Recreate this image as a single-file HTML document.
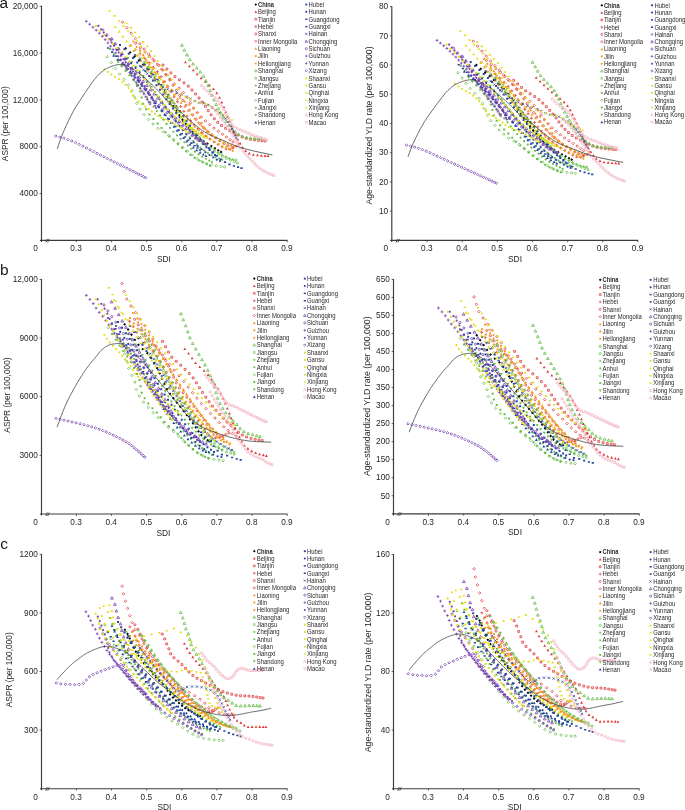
<!DOCTYPE html>
<html><head><meta charset="utf-8"><style>
html,body{margin:0;padding:0;background:#fff;overflow:hidden;}
svg{display:block;font-family:"Liberation Sans",Arial,sans-serif;}
</style></head><body>
<svg width="685" height="810" viewBox="0 0 685 810">
<rect width="685" height="810" fill="#fff"/>
<path fill="#000000" d="M125.7 46.9l1.4 1.4l-1.4 1.4l-1.4 -1.4zM130.12 51.03l1.4 1.4l-1.4 1.4l-1.4 -1.4zM134.55 55.1l1.4 1.4l-1.4 1.4l-1.4 -1.4zM138.92 59.19l1.4 1.4l-1.4 1.4l-1.4 -1.4zM143.19 63.32l1.4 1.4l-1.4 1.4l-1.4 -1.4zM147.34 67.53l1.4 1.4l-1.4 1.4l-1.4 -1.4zM151.28 71.87l1.4 1.4l-1.4 1.4l-1.4 -1.4zM154.9 76.43l1.4 1.4l-1.4 1.4l-1.4 -1.4zM158.24 81.14l1.4 1.4l-1.4 1.4l-1.4 -1.4zM161.38 85.94l1.4 1.4l-1.4 1.4l-1.4 -1.4zM164.39 90.77l1.4 1.4l-1.4 1.4l-1.4 -1.4zM167.35 95.56l1.4 1.4l-1.4 1.4l-1.4 -1.4zM170.35 100.27l1.4 1.4l-1.4 1.4l-1.4 -1.4zM173.43 104.86l1.4 1.4l-1.4 1.4l-1.4 -1.4zM176.45 109.42l1.4 1.4l-1.4 1.4l-1.4 -1.4zM179.46 113.91l1.4 1.4l-1.4 1.4l-1.4 -1.4zM182.52 118.29l1.4 1.4l-1.4 1.4l-1.4 -1.4zM185.7 122.48l1.4 1.4l-1.4 1.4l-1.4 -1.4zM189.03 126.46l1.4 1.4l-1.4 1.4l-1.4 -1.4zM192.48 130.23l1.4 1.4l-1.4 1.4l-1.4 -1.4zM196.07 133.71l1.4 1.4l-1.4 1.4l-1.4 -1.4zM199.8 136.9l1.4 1.4l-1.4 1.4l-1.4 -1.4zM203.61 139.77l1.4 1.4l-1.4 1.4l-1.4 -1.4zM207.47 142.35l1.4 1.4l-1.4 1.4l-1.4 -1.4zM211.25 144.72l1.4 1.4l-1.4 1.4l-1.4 -1.4zM214.88 146.92l1.4 1.4l-1.4 1.4l-1.4 -1.4zM218.25 148.93l1.4 1.4l-1.4 1.4l-1.4 -1.4zM221 150.6l1.4 1.4l-1.4 1.4l-1.4 -1.4z"/>
<path fill="#e03c3c" d="M185.5 60.7l1.45 2.6h-2.9zM189.41 64.74l1.45 2.6h-2.9zM193.3 68.76l1.45 2.6h-2.9zM197.2 72.72l1.45 2.6h-2.9zM201.14 76.58l1.45 2.6h-2.9zM205.29 80.17l1.45 2.6h-2.9zM209.45 83.69l1.45 2.6h-2.9zM213.38 87.41l1.45 2.6h-2.9zM216.76 91.57l1.45 2.6h-2.9zM219.5 96.13l1.45 2.6h-2.9zM221.81 100.88l1.45 2.6h-2.9zM223.91 105.68l1.45 2.6h-2.9zM225.97 110.44l1.45 2.6h-2.9zM227.96 115.18l1.45 2.6h-2.9zM229.78 119.92l1.45 2.6h-2.9zM231.57 124.62l1.45 2.6h-2.9zM233.44 129.21l1.45 2.6h-2.9zM235.55 133.62l1.45 2.6h-2.9zM237.81 137.88l1.45 2.6h-2.9zM240.19 141.98l1.45 2.6h-2.9zM242.72 145.88l1.45 2.6h-2.9zM245.59 149.41l1.45 2.6h-2.9zM249.26 151.87l1.45 2.6h-2.9zM253.33 153.19l1.45 2.6h-2.9zM257.46 153.64l1.45 2.6h-2.9zM261.38 154.03l1.45 2.6h-2.9zM265.02 154.29l1.45 2.6h-2.9zM268 154.5l1.45 2.6h-2.9z"/>
<path fill="none" stroke="#e03c3c" stroke-width="0.8" d="M161.95 64.15h1.9v1.9h-1.9zM165.95 68.06h1.9v1.9h-1.9zM169.95 71.92h1.9v1.9h-1.9zM174.02 75.66h1.9v1.9h-1.9zM178.47 78.87h1.9v1.9h-1.9zM183.02 81.88h1.9v1.9h-1.9zM187.28 85.22h1.9v1.9h-1.9zM191.06 89.05h1.9v1.9h-1.9zM194.6 93.05h1.9v1.9h-1.9zM198.03 97.09h1.9v1.9h-1.9zM201.34 101.17h1.9v1.9h-1.9zM204.42 105.37h1.9v1.9h-1.9zM207.25 109.68h1.9v1.9h-1.9zM210.14 113.89h1.9v1.9h-1.9zM213.35 117.8h1.9v1.9h-1.9zM216.79 121.42h1.9v1.9h-1.9zM220.56 124.6h1.9v1.9h-1.9zM224.61 127.29h1.9v1.9h-1.9zM228.79 129.65h1.9v1.9h-1.9zM232.98 131.81h1.9v1.9h-1.9zM237.1 133.92h1.9v1.9h-1.9zM241.19 135.86h1.9v1.9h-1.9zM245.33 137.38h1.9v1.9h-1.9zM249.5 138.35h1.9v1.9h-1.9zM253.58 138.96h1.9v1.9h-1.9zM257.48 139.39h1.9v1.9h-1.9zM261.09 139.74h1.9v1.9h-1.9zM264.05 140.05h1.9v1.9h-1.9z"/>
<path fill="none" stroke="#e03c3c" stroke-width="0.8" d="M129.3 45.3h2.8M130.7 43.9v2.8M133.96 49.65h2.8M135.36 48.25v2.8M138.62 53.94h2.8M140.02 52.54v2.8M143.21 58.25h2.8M144.61 56.85v2.8M147.7 62.61h2.8M149.1 61.21v2.8M152.02 67.08h2.8M153.42 65.68v2.8M156.09 71.73h2.8M157.49 70.33v2.8M159.8 76.61h2.8M161.2 75.21v2.8M163.23 81.63h2.8M164.63 80.23v2.8M166.47 86.73h2.8M167.87 85.33v2.8M169.62 91.82h2.8M171.02 90.42v2.8M172.77 96.85h2.8M174.17 95.45v2.8M176.02 101.75h2.8M177.42 100.35v2.8M179.24 106.6h2.8M180.64 105.2v2.8M182.44 111.39h2.8M183.84 109.99v2.8M185.67 116.07h2.8M187.07 114.67v2.8M189.05 120.57h2.8M190.45 119.17v2.8M192.6 124.83h2.8M194 123.43v2.8M196.3 128.85h2.8M197.7 127.45v2.8M200.18 132.56h2.8M201.58 131.16v2.8M204.22 135.95h2.8M205.62 134.55v2.8M208.35 139.05h2.8M209.75 137.65v2.8M212.49 141.9h2.8M213.89 140.5v2.8M216.6 144.55h2.8M218 143.15v2.8M220.64 146.95h2.8M222.04 145.55v2.8M224.61 149h2.8M226.01 147.6v2.8M228.62 149.57h2.8M230.02 148.17v2.8M231.6 148h2.8M233 146.6v2.8"/>
<path fill="none" stroke="#e03c3c" stroke-width="0.8" d="M134.65 43.3a1.05 1.05 0 1 0 2.1 0a1.05 1.05 0 1 0 -2.1 0zM139.36 47.69a1.05 1.05 0 1 0 2.1 0a1.05 1.05 0 1 0 -2.1 0zM144.07 52.03a1.05 1.05 0 1 0 2.1 0a1.05 1.05 0 1 0 -2.1 0zM148.71 56.39a1.05 1.05 0 1 0 2.1 0a1.05 1.05 0 1 0 -2.1 0zM153.24 60.81a1.05 1.05 0 1 0 2.1 0a1.05 1.05 0 1 0 -2.1 0zM157.61 65.33a1.05 1.05 0 1 0 2.1 0a1.05 1.05 0 1 0 -2.1 0zM161.7 70.04a1.05 1.05 0 1 0 2.1 0a1.05 1.05 0 1 0 -2.1 0zM165.43 74.99a1.05 1.05 0 1 0 2.1 0a1.05 1.05 0 1 0 -2.1 0zM168.88 80.09a1.05 1.05 0 1 0 2.1 0a1.05 1.05 0 1 0 -2.1 0zM172.14 85.24a1.05 1.05 0 1 0 2.1 0a1.05 1.05 0 1 0 -2.1 0zM175.32 90.39a1.05 1.05 0 1 0 2.1 0a1.05 1.05 0 1 0 -2.1 0zM178.52 95.47a1.05 1.05 0 1 0 2.1 0a1.05 1.05 0 1 0 -2.1 0zM181.81 100.42a1.05 1.05 0 1 0 2.1 0a1.05 1.05 0 1 0 -2.1 0zM185.07 105.32a1.05 1.05 0 1 0 2.1 0a1.05 1.05 0 1 0 -2.1 0zM188.31 110.16a1.05 1.05 0 1 0 2.1 0a1.05 1.05 0 1 0 -2.1 0zM191.6 114.88a1.05 1.05 0 1 0 2.1 0a1.05 1.05 0 1 0 -2.1 0zM195.06 119.39a1.05 1.05 0 1 0 2.1 0a1.05 1.05 0 1 0 -2.1 0zM198.69 123.66a1.05 1.05 0 1 0 2.1 0a1.05 1.05 0 1 0 -2.1 0zM202.47 127.68a1.05 1.05 0 1 0 2.1 0a1.05 1.05 0 1 0 -2.1 0zM206.45 131.38a1.05 1.05 0 1 0 2.1 0a1.05 1.05 0 1 0 -2.1 0zM210.58 134.75a1.05 1.05 0 1 0 2.1 0a1.05 1.05 0 1 0 -2.1 0zM214.76 137.87a1.05 1.05 0 1 0 2.1 0a1.05 1.05 0 1 0 -2.1 0zM218.94 140.77a1.05 1.05 0 1 0 2.1 0a1.05 1.05 0 1 0 -2.1 0zM223.09 143.44a1.05 1.05 0 1 0 2.1 0a1.05 1.05 0 1 0 -2.1 0zM227.22 145.79a1.05 1.05 0 1 0 2.1 0a1.05 1.05 0 1 0 -2.1 0zM231.44 147.34a1.05 1.05 0 1 0 2.1 0a1.05 1.05 0 1 0 -2.1 0zM235.34 146.21a1.05 1.05 0 1 0 2.1 0a1.05 1.05 0 1 0 -2.1 0zM237.95 144a1.05 1.05 0 1 0 2.1 0a1.05 1.05 0 1 0 -2.1 0z"/>
<path fill="none" stroke="#e03c3c" stroke-width="0.8" d="M122.6 20.9l1.3 1.3l-1.3 1.3l-1.3 -1.3zM126.9 26.37l1.3 1.3l-1.3 1.3l-1.3 -1.3zM131.18 31.81l1.3 1.3l-1.3 1.3l-1.3 -1.3zM135.47 37.19l1.3 1.3l-1.3 1.3l-1.3 -1.3zM139.8 42.49l1.3 1.3l-1.3 1.3l-1.3 -1.3zM144.16 47.69l1.3 1.3l-1.3 1.3l-1.3 -1.3zM148.55 52.82l1.3 1.3l-1.3 1.3l-1.3 -1.3zM152.91 57.91l1.3 1.3l-1.3 1.3l-1.3 -1.3zM157.22 62.96l1.3 1.3l-1.3 1.3l-1.3 -1.3zM161.48 68.01l1.3 1.3l-1.3 1.3l-1.3 -1.3zM165.71 72.99l1.3 1.3l-1.3 1.3l-1.3 -1.3zM169.98 77.87l1.3 1.3l-1.3 1.3l-1.3 -1.3zM174.43 82.51l1.3 1.3l-1.3 1.3l-1.3 -1.3zM179.05 86.87l1.3 1.3l-1.3 1.3l-1.3 -1.3zM183.49 91.33l1.3 1.3l-1.3 1.3l-1.3 -1.3zM187.26 96.27l1.3 1.3l-1.3 1.3l-1.3 -1.3zM190.35 101.58l1.3 1.3l-1.3 1.3l-1.3 -1.3zM193.52 106.74l1.3 1.3l-1.3 1.3l-1.3 -1.3zM197.29 111.36l1.3 1.3l-1.3 1.3l-1.3 -1.3zM201.32 115.62l1.3 1.3l-1.3 1.3l-1.3 -1.3zM205.46 119.63l1.3 1.3l-1.3 1.3l-1.3 -1.3zM209.65 123.4l1.3 1.3l-1.3 1.3l-1.3 -1.3zM213.93 126.86l1.3 1.3l-1.3 1.3l-1.3 -1.3zM218.25 129.98l1.3 1.3l-1.3 1.3l-1.3 -1.3zM222.48 132.9l1.3 1.3l-1.3 1.3l-1.3 -1.3zM226.43 135.76l1.3 1.3l-1.3 1.3l-1.3 -1.3zM230.04 138.47l1.3 1.3l-1.3 1.3l-1.3 -1.3zM233 140.7l1.3 1.3l-1.3 1.3l-1.3 -1.3z"/>
<path fill="#f59a20" d="M140 48.5l1.45 2.6h-2.9zM143.14 53.37l1.45 2.6h-2.9zM146.27 58.2l1.45 2.6h-2.9zM149.47 62.94l1.45 2.6h-2.9zM152.79 67.56l1.45 2.6h-2.9zM156.21 72.06l1.45 2.6h-2.9zM159.69 76.46l1.45 2.6h-2.9zM163.21 80.78l1.45 2.6h-2.9zM166.75 85.03l1.45 2.6h-2.9zM170.33 89.19l1.45 2.6h-2.9zM173.95 93.26l1.45 2.6h-2.9zM177.58 97.24l1.45 2.6h-2.9zM181.19 101.18l1.45 2.6h-2.9zM184.75 105.1l1.45 2.6h-2.9zM188.21 109.03l1.45 2.6h-2.9zM191.55 112.98l1.45 2.6h-2.9zM194.85 116.88l1.45 2.6h-2.9zM198.2 120.64l1.45 2.6h-2.9zM201.7 124.16l1.45 2.6h-2.9zM205.29 127.47l1.45 2.6h-2.9zM208.94 130.58l1.45 2.6h-2.9zM212.62 133.48l1.45 2.6h-2.9zM216.35 136.12l1.45 2.6h-2.9zM220.14 138.43l1.45 2.6h-2.9zM223.91 140.45l1.45 2.6h-2.9zM227.56 142.22l1.45 2.6h-2.9zM231.07 143.55l1.45 2.6h-2.9zM234 144.5l1.45 2.6h-2.9z"/>
<path fill="#f59a20" d="M129 45h2v2h-2zM132.7 49.91h2v2h-2zM136.38 54.79h2v2h-2zM140.01 59.66h2v2h-2zM143.57 64.53h2v2h-2zM147.05 69.41h2v2h-2zM150.51 74.26h2v2h-2zM154 79.03h2v2h-2zM157.55 83.71h2v2h-2zM161.16 88.28h2v2h-2zM164.79 92.77h2v2h-2zM168.43 97.19h2v2h-2zM172.07 101.54h2v2h-2zM175.7 105.82h2v2h-2zM179.3 110.05h2v2h-2zM182.89 114.21h2v2h-2zM186.49 118.26h2v2h-2zM190.16 122.15h2v2h-2zM193.93 125.82h2v2h-2zM197.82 129.26h2v2h-2zM201.75 132.47h2v2h-2zM205.69 135.52h2v2h-2zM209.62 138.37h2v2h-2zM213.55 140.96h2v2h-2zM217.46 143.25h2v2h-2zM221.33 145.16h2v2h-2zM224.99 146.73h2v2h-2zM228 148h2v2h-2z"/>
<path fill="#f59a20" d="M132.2 41.6a1.1 1.1 0 1 0 2.2 0a1.1 1.1 0 1 0 -2.2 0zM135.56 47.01a1.1 1.1 0 1 0 2.2 0a1.1 1.1 0 1 0 -2.2 0zM138.94 52.36a1.1 1.1 0 1 0 2.2 0a1.1 1.1 0 1 0 -2.2 0zM142.45 57.58a1.1 1.1 0 1 0 2.2 0a1.1 1.1 0 1 0 -2.2 0zM146.16 62.61a1.1 1.1 0 1 0 2.2 0a1.1 1.1 0 1 0 -2.2 0zM149.98 67.51a1.1 1.1 0 1 0 2.2 0a1.1 1.1 0 1 0 -2.2 0zM153.89 72.28a1.1 1.1 0 1 0 2.2 0a1.1 1.1 0 1 0 -2.2 0zM157.91 76.9a1.1 1.1 0 1 0 2.2 0a1.1 1.1 0 1 0 -2.2 0zM162.03 81.37a1.1 1.1 0 1 0 2.2 0a1.1 1.1 0 1 0 -2.2 0zM166.21 85.72a1.1 1.1 0 1 0 2.2 0a1.1 1.1 0 1 0 -2.2 0zM170.43 89.96a1.1 1.1 0 1 0 2.2 0a1.1 1.1 0 1 0 -2.2 0zM174.69 94.08a1.1 1.1 0 1 0 2.2 0a1.1 1.1 0 1 0 -2.2 0zM178.99 98.08a1.1 1.1 0 1 0 2.2 0a1.1 1.1 0 1 0 -2.2 0zM183.56 101.68a1.1 1.1 0 1 0 2.2 0a1.1 1.1 0 1 0 -2.2 0zM188.33 104.89a1.1 1.1 0 1 0 2.2 0a1.1 1.1 0 1 0 -2.2 0zM192.8 108.39a1.1 1.1 0 1 0 2.2 0a1.1 1.1 0 1 0 -2.2 0zM196.22 112.82a1.1 1.1 0 1 0 2.2 0a1.1 1.1 0 1 0 -2.2 0zM198.58 117.83a1.1 1.1 0 1 0 2.2 0a1.1 1.1 0 1 0 -2.2 0zM200.62 122.89a1.1 1.1 0 1 0 2.2 0a1.1 1.1 0 1 0 -2.2 0zM203.18 127.59a1.1 1.1 0 1 0 2.2 0a1.1 1.1 0 1 0 -2.2 0zM206.44 131.72a1.1 1.1 0 1 0 2.2 0a1.1 1.1 0 1 0 -2.2 0zM210.15 135.3a1.1 1.1 0 1 0 2.2 0a1.1 1.1 0 1 0 -2.2 0zM214.24 138.21a1.1 1.1 0 1 0 2.2 0a1.1 1.1 0 1 0 -2.2 0zM218.47 140.63a1.1 1.1 0 1 0 2.2 0a1.1 1.1 0 1 0 -2.2 0zM222.27 143.39a1.1 1.1 0 1 0 2.2 0a1.1 1.1 0 1 0 -2.2 0zM225.77 146.16a1.1 1.1 0 1 0 2.2 0a1.1 1.1 0 1 0 -2.2 0zM228.97 148.77a1.1 1.1 0 1 0 2.2 0a1.1 1.1 0 1 0 -2.2 0zM231.6 150.9a1.1 1.1 0 1 0 2.2 0a1.1 1.1 0 1 0 -2.2 0z"/>
<path fill="none" stroke="#66bd46" stroke-width="0.8" d="M181.9 43.8l1.4 2.5h-2.8zM184.45 48.7l1.4 2.5h-2.8zM187.04 53.53l1.4 2.5h-2.8zM189.84 58.21l1.4 2.5h-2.8zM193.07 62.56l1.4 2.5h-2.8zM196.67 66.57l1.4 2.5h-2.8zM200.22 70.57l1.4 2.5h-2.8zM203.4 74.82l1.4 2.5h-2.8zM205.98 79.42l1.4 2.5h-2.8zM208.13 84.18l1.4 2.5h-2.8zM210.08 88.99l1.4 2.5h-2.8zM212 93.76l1.4 2.5h-2.8zM214.04 98.43l1.4 2.5h-2.8zM216.27 102.95l1.4 2.5h-2.8zM218.54 107.39l1.4 2.5h-2.8zM220.86 111.74l1.4 2.5h-2.8zM223.3 115.96l1.4 2.5h-2.8zM225.92 119.99l1.4 2.5h-2.8zM228.8 123.74l1.4 2.5h-2.8zM231.9 127.21l1.4 2.5h-2.8zM235.19 130.38l1.4 2.5h-2.8zM238.67 133.18l1.4 2.5h-2.8zM242.45 135.31l1.4 2.5h-2.8zM246.59 136.15l1.4 2.5h-2.8zM250.64 136.56l1.4 2.5h-2.8zM254.49 136.92l1.4 2.5h-2.8zM258.07 137.08l1.4 2.5h-2.8zM261 137.2l1.4 2.5h-2.8z"/>
<path fill="none" stroke="#66bd46" stroke-width="0.8" d="M138.95 58a1.05 1.05 0 1 0 2.1 0a1.05 1.05 0 1 0 -2.1 0zM142.68 62.94a1.05 1.05 0 1 0 2.1 0a1.05 1.05 0 1 0 -2.1 0zM146.38 67.86a1.05 1.05 0 1 0 2.1 0a1.05 1.05 0 1 0 -2.1 0zM150.04 72.76a1.05 1.05 0 1 0 2.1 0a1.05 1.05 0 1 0 -2.1 0zM153.65 77.66a1.05 1.05 0 1 0 2.1 0a1.05 1.05 0 1 0 -2.1 0zM157.22 82.52a1.05 1.05 0 1 0 2.1 0a1.05 1.05 0 1 0 -2.1 0zM160.73 87.39a1.05 1.05 0 1 0 2.1 0a1.05 1.05 0 1 0 -2.1 0zM164.14 92.28a1.05 1.05 0 1 0 2.1 0a1.05 1.05 0 1 0 -2.1 0zM167.38 97.22a1.05 1.05 0 1 0 2.1 0a1.05 1.05 0 1 0 -2.1 0zM170.5 102.18a1.05 1.05 0 1 0 2.1 0a1.05 1.05 0 1 0 -2.1 0zM173.63 107.09a1.05 1.05 0 1 0 2.1 0a1.05 1.05 0 1 0 -2.1 0zM176.86 111.87a1.05 1.05 0 1 0 2.1 0a1.05 1.05 0 1 0 -2.1 0zM180.21 116.49a1.05 1.05 0 1 0 2.1 0a1.05 1.05 0 1 0 -2.1 0zM183.64 120.99a1.05 1.05 0 1 0 2.1 0a1.05 1.05 0 1 0 -2.1 0zM187.11 125.37a1.05 1.05 0 1 0 2.1 0a1.05 1.05 0 1 0 -2.1 0zM190.64 129.63a1.05 1.05 0 1 0 2.1 0a1.05 1.05 0 1 0 -2.1 0zM194.18 133.79a1.05 1.05 0 1 0 2.1 0a1.05 1.05 0 1 0 -2.1 0zM197.73 137.84a1.05 1.05 0 1 0 2.1 0a1.05 1.05 0 1 0 -2.1 0zM201.39 141.68a1.05 1.05 0 1 0 2.1 0a1.05 1.05 0 1 0 -2.1 0zM205.22 145.23a1.05 1.05 0 1 0 2.1 0a1.05 1.05 0 1 0 -2.1 0zM209.22 148.42a1.05 1.05 0 1 0 2.1 0a1.05 1.05 0 1 0 -2.1 0zM213.32 151.31a1.05 1.05 0 1 0 2.1 0a1.05 1.05 0 1 0 -2.1 0zM217.44 153.93a1.05 1.05 0 1 0 2.1 0a1.05 1.05 0 1 0 -2.1 0zM221.54 156.33a1.05 1.05 0 1 0 2.1 0a1.05 1.05 0 1 0 -2.1 0zM225.62 158.37a1.05 1.05 0 1 0 2.1 0a1.05 1.05 0 1 0 -2.1 0zM229.6 160.11a1.05 1.05 0 1 0 2.1 0a1.05 1.05 0 1 0 -2.1 0zM233.31 161.64a1.05 1.05 0 1 0 2.1 0a1.05 1.05 0 1 0 -2.1 0zM236.35 162.9a1.05 1.05 0 1 0 2.1 0a1.05 1.05 0 1 0 -2.1 0z"/>
<path fill="none" stroke="#66bd46" stroke-width="0.8" d="M143.6 62h2.8M145 60.6v2.8M147.01 66.7h2.8M148.41 65.3v2.8M150.4 71.37h2.8M151.8 69.97v2.8M153.76 76.03h2.8M155.16 74.63v2.8M157.08 80.67h2.8M158.48 79.27v2.8M160.34 85.3h2.8M161.74 83.9v2.8M163.57 89.92h2.8M164.97 88.52v2.8M166.76 94.5h2.8M168.16 93.1v2.8M169.94 99.05h2.8M171.34 97.65v2.8M173.08 103.57h2.8M174.48 102.17v2.8M176.18 108.06h2.8M177.58 106.66v2.8M179.25 112.51h2.8M180.65 111.11v2.8M182.34 116.89h2.8M183.74 115.49v2.8M185.47 121.18h2.8M186.87 119.78v2.8M188.56 125.41h2.8M189.96 124.01v2.8M191.66 129.58h2.8M193.06 128.18v2.8M194.81 133.62h2.8M196.21 132.22v2.8M198.1 137.46h2.8M199.5 136.06v2.8M201.58 141.02h2.8M202.98 139.62v2.8M205.21 144.3h2.8M206.61 142.9v2.8M208.96 147.31h2.8M210.36 145.91v2.8M212.74 150.1h2.8M214.14 148.7v2.8M216.57 152.63h2.8M217.97 151.23v2.8M220.42 154.87h2.8M221.82 153.47v2.8M224.21 156.86h2.8M225.61 155.46v2.8M227.92 158.54h2.8M229.32 157.14v2.8M231.55 159.51h2.8M232.95 158.11v2.8M234.6 160h2.8M236 158.6v2.8"/>
<path fill="#66bd46" d="M116.9 62a1.1 1.1 0 1 0 2.2 0a1.1 1.1 0 1 0 -2.2 0zM120.75 66.45a1.1 1.1 0 1 0 2.2 0a1.1 1.1 0 1 0 -2.2 0zM124.56 70.88a1.1 1.1 0 1 0 2.2 0a1.1 1.1 0 1 0 -2.2 0zM128.32 75.31a1.1 1.1 0 1 0 2.2 0a1.1 1.1 0 1 0 -2.2 0zM132.02 79.75a1.1 1.1 0 1 0 2.2 0a1.1 1.1 0 1 0 -2.2 0zM135.68 84.17a1.1 1.1 0 1 0 2.2 0a1.1 1.1 0 1 0 -2.2 0zM139.26 88.61a1.1 1.1 0 1 0 2.2 0a1.1 1.1 0 1 0 -2.2 0zM142.72 93.08a1.1 1.1 0 1 0 2.2 0a1.1 1.1 0 1 0 -2.2 0zM146.03 97.62a1.1 1.1 0 1 0 2.2 0a1.1 1.1 0 1 0 -2.2 0zM149.25 102.17a1.1 1.1 0 1 0 2.2 0a1.1 1.1 0 1 0 -2.2 0zM152.45 106.67a1.1 1.1 0 1 0 2.2 0a1.1 1.1 0 1 0 -2.2 0zM155.71 111.08a1.1 1.1 0 1 0 2.2 0a1.1 1.1 0 1 0 -2.2 0zM158.95 115.43a1.1 1.1 0 1 0 2.2 0a1.1 1.1 0 1 0 -2.2 0zM162.19 119.71a1.1 1.1 0 1 0 2.2 0a1.1 1.1 0 1 0 -2.2 0zM165.47 123.9a1.1 1.1 0 1 0 2.2 0a1.1 1.1 0 1 0 -2.2 0zM168.84 127.93a1.1 1.1 0 1 0 2.2 0a1.1 1.1 0 1 0 -2.2 0zM172.34 131.76a1.1 1.1 0 1 0 2.2 0a1.1 1.1 0 1 0 -2.2 0zM175.93 135.4a1.1 1.1 0 1 0 2.2 0a1.1 1.1 0 1 0 -2.2 0zM179.57 138.89a1.1 1.1 0 1 0 2.2 0a1.1 1.1 0 1 0 -2.2 0zM183.2 142.27a1.1 1.1 0 1 0 2.2 0a1.1 1.1 0 1 0 -2.2 0zM186.77 145.57a1.1 1.1 0 1 0 2.2 0a1.1 1.1 0 1 0 -2.2 0zM190.33 148.75a1.1 1.1 0 1 0 2.2 0a1.1 1.1 0 1 0 -2.2 0zM193.89 151.72a1.1 1.1 0 1 0 2.2 0a1.1 1.1 0 1 0 -2.2 0zM197.5 154.42a1.1 1.1 0 1 0 2.2 0a1.1 1.1 0 1 0 -2.2 0zM201.17 156.73a1.1 1.1 0 1 0 2.2 0a1.1 1.1 0 1 0 -2.2 0zM204.77 158.75a1.1 1.1 0 1 0 2.2 0a1.1 1.1 0 1 0 -2.2 0zM208.14 160.53a1.1 1.1 0 1 0 2.2 0a1.1 1.1 0 1 0 -2.2 0zM210.9 162a1.1 1.1 0 1 0 2.2 0a1.1 1.1 0 1 0 -2.2 0z"/>
<path fill="none" stroke="#66bd46" stroke-width="0.8" d="M107.3 55.5l1.3 1.3l-1.3 1.3l-1.3 -1.3zM111.34 61.35l1.3 1.3l-1.3 1.3l-1.3 -1.3zM115.39 67.13l1.3 1.3l-1.3 1.3l-1.3 -1.3zM119.51 72.83l1.3 1.3l-1.3 1.3l-1.3 -1.3zM124.04 78.13l1.3 1.3l-1.3 1.3l-1.3 -1.3zM128.45 83.47l1.3 1.3l-1.3 1.3l-1.3 -1.3zM132.11 89.29l1.3 1.3l-1.3 1.3l-1.3 -1.3zM134.53 95.68l1.3 1.3l-1.3 1.3l-1.3 -1.3zM136.77 102.08l1.3 1.3l-1.3 1.3l-1.3 -1.3zM140.03 107.96l1.3 1.3l-1.3 1.3l-1.3 -1.3zM144.13 113.23l1.3 1.3l-1.3 1.3l-1.3 -1.3zM148.49 118.21l1.3 1.3l-1.3 1.3l-1.3 -1.3zM153.08 122.89l1.3 1.3l-1.3 1.3l-1.3 -1.3zM157.94 127.19l1.3 1.3l-1.3 1.3l-1.3 -1.3zM163.43 130.47l1.3 1.3l-1.3 1.3l-1.3 -1.3zM168.65 134.07l1.3 1.3l-1.3 1.3l-1.3 -1.3zM173.46 138.09l1.3 1.3l-1.3 1.3l-1.3 -1.3zM178.15 142.11l1.3 1.3l-1.3 1.3l-1.3 -1.3zM182.79 146.06l1.3 1.3l-1.3 1.3l-1.3 -1.3zM187.43 149.85l1.3 1.3l-1.3 1.3l-1.3 -1.3zM192.01 153.54l1.3 1.3l-1.3 1.3l-1.3 -1.3zM196.6 157.01l1.3 1.3l-1.3 1.3l-1.3 -1.3zM201.38 159.95l1.3 1.3l-1.3 1.3l-1.3 -1.3zM206.38 162.08l1.3 1.3l-1.3 1.3l-1.3 -1.3zM211.42 163.55l1.3 1.3l-1.3 1.3l-1.3 -1.3zM216.29 164.57l1.3 1.3l-1.3 1.3l-1.3 -1.3zM220.85 165.22l1.3 1.3l-1.3 1.3l-1.3 -1.3zM224.6 165.7l1.3 1.3l-1.3 1.3l-1.3 -1.3z"/>
<path fill="#66bd46" d="M109.1 48h2v2h-2zM112.82 53.57h2v2h-2zM116.54 59.09h2v2h-2zM120.4 64.46h2v2h-2zM125.01 69.12h2v2h-2zM129.69 73.63h2v2h-2zM132.87 79.28h2v2h-2zM136.02 84.89h2v2h-2zM139.12 90.48h2v2h-2zM140.67 96.6h2v2h-2zM142.21 102.68h2v2h-2zM144.98 108.26h2v2h-2zM148.44 113.38h2v2h-2zM152.46 117.98h2v2h-2zM156.6 122.4h2v2h-2zM160.54 126.9h2v2h-2zM164.43 131.34h2v2h-2zM168.52 135.49h2v2h-2zM172.7 139.42h2v2h-2zM176.9 143.19h2v2h-2zM181.1 146.8h2v2h-2zM185.23 150.31h2v2h-2zM189.34 153.63h2v2h-2zM193.49 156.66h2v2h-2zM197.71 159.21h2v2h-2zM201.88 161.37h2v2h-2zM205.79 163.25h2v2h-2zM209 164.8h2v2h-2z"/>
<path fill="#66bd46" d="M128 59.5l1.45 -2.6h-2.9zM131.95 63.97l1.45 -2.6h-2.9zM135.85 68.45l1.45 -2.6h-2.9zM139.61 73l1.45 -2.6h-2.9zM143.15 77.67l1.45 -2.6h-2.9zM146.56 82.39l1.45 -2.6h-2.9zM149.9 87.12l1.45 -2.6h-2.9zM153.22 91.81l1.45 -2.6h-2.9zM156.48 96.48l1.45 -2.6h-2.9zM159.69 101.14l1.45 -2.6h-2.9zM162.89 105.75l1.45 -2.6h-2.9zM166.11 110.28l1.45 -2.6h-2.9zM169.38 114.72l1.45 -2.6h-2.9zM172.66 119.07l1.45 -2.6h-2.9zM175.97 123.34l1.45 -2.6h-2.9zM179.32 127.49l1.45 -2.6h-2.9zM182.72 131.51l1.45 -2.6h-2.9zM186.15 135.41l1.45 -2.6h-2.9zM189.63 139.17l1.45 -2.6h-2.9zM193.16 142.75l1.45 -2.6h-2.9zM196.78 146.12l1.45 -2.6h-2.9zM200.45 149.26l1.45 -2.6h-2.9zM204.16 152.17l1.45 -2.6h-2.9zM207.91 154.79l1.45 -2.6h-2.9zM211.7 157.03l1.45 -2.6h-2.9zM215.49 158.81l1.45 -2.6h-2.9zM219.06 160.29l1.45 -2.6h-2.9zM222 161.5l1.45 -2.6h-2.9z"/>
<path fill="#2646a0" d="M113.7 54.2l1.45 2.6h-2.9zM118.06 58.05l1.45 2.6h-2.9zM122.35 61.94l1.45 2.6h-2.9zM126.46 65.97l1.45 2.6h-2.9zM130.44 70.07l1.45 2.6h-2.9zM134.29 74.25l1.45 2.6h-2.9zM138 78.5l1.45 2.6h-2.9zM141.53 82.85l1.45 2.6h-2.9zM144.94 87.25l1.45 2.6h-2.9zM148.27 91.64l1.45 2.6h-2.9zM151.6 95.98l1.45 2.6h-2.9zM154.93 100.26l1.45 2.6h-2.9zM158.23 104.5l1.45 2.6h-2.9zM161.49 108.7l1.45 2.6h-2.9zM164.72 112.86l1.45 2.6h-2.9zM167.9 116.97l1.45 2.6h-2.9zM170.99 121.08l1.45 2.6h-2.9zM174.04 125.12l1.45 2.6h-2.9zM177.12 129.05l1.45 2.6h-2.9zM180.27 132.81l1.45 2.6h-2.9zM183.51 136.38l1.45 2.6h-2.9zM186.78 139.78l1.45 2.6h-2.9zM190.07 142.98l1.45 2.6h-2.9zM193.38 145.97l1.45 2.6h-2.9zM196.75 148.63l1.45 2.6h-2.9zM200.14 150.91l1.45 2.6h-2.9zM203.36 152.88l1.45 2.6h-2.9zM206 154.5l1.45 2.6h-2.9z"/>
<path fill="#2646a0" d="M119 44h2v2h-2zM123.4 48.35h2v2h-2zM127.76 52.69h2v2h-2zM132.04 57.07h2v2h-2zM136.26 61.44h2v2h-2zM140.41 65.83h2v2h-2zM144.41 70.31h2v2h-2zM148.21 74.89h2v2h-2zM151.88 79.53h2v2h-2zM155.43 84.19h2v2h-2zM158.9 88.86h2v2h-2zM162.25 93.55h2v2h-2zM165.49 98.26h2v2h-2zM168.69 102.92h2v2h-2zM171.91 107.5h2v2h-2zM175.18 111.95h2v2h-2zM178.47 116.31h2v2h-2zM181.76 120.57h2v2h-2zM185.09 124.71h2v2h-2zM188.46 128.7h2v2h-2zM191.87 132.52h2v2h-2zM195.3 136.18h2v2h-2zM198.7 139.68h2v2h-2zM202.05 143.04h2v2h-2zM205.37 146.18h2v2h-2zM208.57 149.11h2v2h-2zM211.55 151.8h2v2h-2zM214 154h2v2h-2z"/>
<path fill="#2646a0" d="M115.9 50a1.1 1.1 0 1 0 2.2 0a1.1 1.1 0 1 0 -2.2 0zM120.75 54.31a1.1 1.1 0 1 0 2.2 0a1.1 1.1 0 1 0 -2.2 0zM125.51 58.66a1.1 1.1 0 1 0 2.2 0a1.1 1.1 0 1 0 -2.2 0zM130.04 63.2a1.1 1.1 0 1 0 2.2 0a1.1 1.1 0 1 0 -2.2 0zM134.33 67.91a1.1 1.1 0 1 0 2.2 0a1.1 1.1 0 1 0 -2.2 0zM138.47 72.7a1.1 1.1 0 1 0 2.2 0a1.1 1.1 0 1 0 -2.2 0zM142.5 77.52a1.1 1.1 0 1 0 2.2 0a1.1 1.1 0 1 0 -2.2 0zM146.44 82.36a1.1 1.1 0 1 0 2.2 0a1.1 1.1 0 1 0 -2.2 0zM150.27 87.23a1.1 1.1 0 1 0 2.2 0a1.1 1.1 0 1 0 -2.2 0zM154.01 92.12a1.1 1.1 0 1 0 2.2 0a1.1 1.1 0 1 0 -2.2 0zM157.64 97.01a1.1 1.1 0 1 0 2.2 0a1.1 1.1 0 1 0 -2.2 0zM161.12 101.95a1.1 1.1 0 1 0 2.2 0a1.1 1.1 0 1 0 -2.2 0zM164.51 106.89a1.1 1.1 0 1 0 2.2 0a1.1 1.1 0 1 0 -2.2 0zM167.87 111.77a1.1 1.1 0 1 0 2.2 0a1.1 1.1 0 1 0 -2.2 0zM171.29 116.53a1.1 1.1 0 1 0 2.2 0a1.1 1.1 0 1 0 -2.2 0zM174.74 121.19a1.1 1.1 0 1 0 2.2 0a1.1 1.1 0 1 0 -2.2 0zM178.19 125.75a1.1 1.1 0 1 0 2.2 0a1.1 1.1 0 1 0 -2.2 0zM181.69 130.18a1.1 1.1 0 1 0 2.2 0a1.1 1.1 0 1 0 -2.2 0zM185.28 134.43a1.1 1.1 0 1 0 2.2 0a1.1 1.1 0 1 0 -2.2 0zM188.96 138.48a1.1 1.1 0 1 0 2.2 0a1.1 1.1 0 1 0 -2.2 0zM192.72 142.31a1.1 1.1 0 1 0 2.2 0a1.1 1.1 0 1 0 -2.2 0zM196.54 145.92a1.1 1.1 0 1 0 2.2 0a1.1 1.1 0 1 0 -2.2 0zM200.42 149.26a1.1 1.1 0 1 0 2.2 0a1.1 1.1 0 1 0 -2.2 0zM204.38 152.26a1.1 1.1 0 1 0 2.2 0a1.1 1.1 0 1 0 -2.2 0zM208.32 154.99a1.1 1.1 0 1 0 2.2 0a1.1 1.1 0 1 0 -2.2 0zM212.12 157.49a1.1 1.1 0 1 0 2.2 0a1.1 1.1 0 1 0 -2.2 0zM215.73 159.64a1.1 1.1 0 1 0 2.2 0a1.1 1.1 0 1 0 -2.2 0zM218.9 161a1.1 1.1 0 1 0 2.2 0a1.1 1.1 0 1 0 -2.2 0z"/>
<path fill="#2646a0" d="M133.9 54.2h2.2v1.6h-2.2zM138.76 58.84h2.2v1.6h-2.2zM143.51 63.53h2.2v1.6h-2.2zM147.97 68.45h2.2v1.6h-2.2zM152.13 73.57h2.2v1.6h-2.2zM156.12 78.77h2.2v1.6h-2.2zM160.01 83.99h2.2v1.6h-2.2zM163.81 89.22h2.2v1.6h-2.2zM167.49 94.48h2.2v1.6h-2.2zM171.1 99.72h2.2v1.6h-2.2zM174.7 104.91h2.2v1.6h-2.2zM178.25 110.05h2.2v1.6h-2.2zM181.75 115.17h2.2v1.6h-2.2zM185.26 120.21h2.2v1.6h-2.2zM188.83 125.11h2.2v1.6h-2.2zM192.5 129.86h2.2v1.6h-2.2zM196.23 134.47h2.2v1.6h-2.2zM200.01 138.93h2.2v1.6h-2.2zM203.84 143.23h2.2v1.6h-2.2zM207.71 147.37h2.2v1.6h-2.2zM211.62 151.32h2.2v1.6h-2.2zM215.58 155.05h2.2v1.6h-2.2zM219.65 158.45h2.2v1.6h-2.2zM223.91 161.33h2.2v1.6h-2.2zM228.33 163.57h2.2v1.6h-2.2zM232.77 165.14h2.2v1.6h-2.2zM236.96 166.34h2.2v1.6h-2.2zM240.4 167.3h2.2v1.6h-2.2z"/>
<path fill="#2646a0" d="M106.9 47.2h2.2v1.6h-2.2zM111.09 51.28h2.2v1.6h-2.2zM115.22 55.37h2.2v1.6h-2.2zM119.21 59.54h2.2v1.6h-2.2zM123.05 63.82h2.2v1.6h-2.2zM126.77 68.14h2.2v1.6h-2.2zM130.43 72.46h2.2v1.6h-2.2zM134.06 76.76h2.2v1.6h-2.2zM137.63 81.05h2.2v1.6h-2.2zM141.15 85.33h2.2v1.6h-2.2zM144.61 89.6h2.2v1.6h-2.2zM148 93.86h2.2v1.6h-2.2zM151.28 98.14h2.2v1.6h-2.2zM154.52 102.39h2.2v1.6h-2.2zM157.77 106.56h2.2v1.6h-2.2zM161.07 110.61h2.2v1.6h-2.2zM164.41 114.53h2.2v1.6h-2.2zM167.77 118.36h2.2v1.6h-2.2zM171.11 122.1h2.2v1.6h-2.2zM174.4 125.76h2.2v1.6h-2.2zM177.63 129.36h2.2v1.6h-2.2zM180.8 132.88h2.2v1.6h-2.2zM183.96 136.25h2.2v1.6h-2.2zM187.13 139.41h2.2v1.6h-2.2zM190.34 142.29h2.2v1.6h-2.2zM193.5 144.9h2.2v1.6h-2.2zM196.47 147.26h2.2v1.6h-2.2zM198.9 149.2h2.2v1.6h-2.2z"/>
<path fill="none" stroke="#2646a0" stroke-width="0.8" d="M138.9 64.9l2.2 2.2M141.1 64.9l-2.2 2.2M142.57 68.71l2.2 2.2M144.77 68.71l-2.2 2.2M146.24 72.47l2.2 2.2M148.44 72.47l-2.2 2.2M150.01 76.09l2.2 2.2M152.21 76.09l-2.2 2.2M153.89 79.54l2.2 2.2M156.09 79.54l-2.2 2.2M157.85 82.85l2.2 2.2M160.05 82.85l-2.2 2.2M162.04 85.8l2.2 2.2M164.24 85.8l-2.2 2.2M166.52 88.19l2.2 2.2M168.72 88.19l-2.2 2.2M171.22 90.05l2.2 2.2M173.42 90.05l-2.2 2.2M175.94 91.71l2.2 2.2M178.14 91.71l-2.2 2.2M180.59 93.45l2.2 2.2M182.79 93.45l-2.2 2.2M185.04 95.56l2.2 2.2M187.24 95.56l-2.2 2.2M189.35 97.86l2.2 2.2M191.55 97.86l-2.2 2.2M193.65 100.06l2.2 2.2M195.85 100.06l-2.2 2.2M198.16 101.59l2.2 2.2M200.36 101.59l-2.2 2.2M202.83 102.27l2.2 2.2M205.03 102.27l-2.2 2.2M207.22 103.77l2.2 2.2M209.42 103.77l-2.2 2.2M210.96 106.44l2.2 2.2M213.16 106.44l-2.2 2.2M214.55 109.2l2.2 2.2M216.75 109.2l-2.2 2.2M218.41 111.44l2.2 2.2M220.61 111.44l-2.2 2.2M221.73 114.26l2.2 2.2M223.93 114.26l-2.2 2.2M224.51 117.52l2.2 2.2M226.71 117.52l-2.2 2.2M226.98 120.89l2.2 2.2M229.18 120.89l-2.2 2.2M229.14 124.31l2.2 2.2M231.34 124.31l-2.2 2.2M230.91 127.79l2.2 2.2M233.11 127.79l-2.2 2.2M232.44 131.16l2.2 2.2M234.64 131.16l-2.2 2.2M233.79 134.32l2.2 2.2M235.99 134.32l-2.2 2.2M234.9 136.9l2.2 2.2M237.1 136.9l-2.2 2.2"/>
<path fill="none" stroke="#7840ae" stroke-width="0.8" d="M111.7 37.3l1.4 2.5h-2.8zM115.2 42.22l1.4 2.5h-2.8zM118.66 47.12l1.4 2.5h-2.8zM122.03 52.04l1.4 2.5h-2.8zM125.25 57.01l1.4 2.5h-2.8zM128.48 61.94l1.4 2.5h-2.8zM131.9 66.68l1.4 2.5h-2.8zM135.59 71.17l1.4 2.5h-2.8zM139.38 75.5l1.4 2.5h-2.8zM143.14 79.82l1.4 2.5h-2.8zM146.87 84.09l1.4 2.5h-2.8zM150.57 88.32l1.4 2.5h-2.8zM154.25 92.5l1.4 2.5h-2.8zM157.87 96.66l1.4 2.5h-2.8zM161.43 100.79l1.4 2.5h-2.8zM164.95 104.88l1.4 2.5h-2.8zM168.49 108.86l1.4 2.5h-2.8zM172.08 112.69l1.4 2.5h-2.8zM175.7 116.38l1.4 2.5h-2.8zM179.33 119.95l1.4 2.5h-2.8zM182.9 123.44l1.4 2.5h-2.8zM186.4 126.85l1.4 2.5h-2.8zM189.8 130.19l1.4 2.5h-2.8zM193.15 133.38l1.4 2.5h-2.8zM196.49 136.32l1.4 2.5h-2.8zM199.89 138.84l1.4 2.5h-2.8zM203.23 140.89l1.4 2.5h-2.8zM206 142.5l1.4 2.5h-2.8z"/>
<path fill="none" stroke="#7840ae" stroke-width="0.8" d="M101.95 30a1.05 1.05 0 1 0 2.1 0a1.05 1.05 0 1 0 -2.1 0zM105.82 34.86a1.05 1.05 0 1 0 2.1 0a1.05 1.05 0 1 0 -2.1 0zM109.64 39.7a1.05 1.05 0 1 0 2.1 0a1.05 1.05 0 1 0 -2.1 0zM113.37 44.57a1.05 1.05 0 1 0 2.1 0a1.05 1.05 0 1 0 -2.1 0zM116.97 49.49a1.05 1.05 0 1 0 2.1 0a1.05 1.05 0 1 0 -2.1 0zM120.47 54.43a1.05 1.05 0 1 0 2.1 0a1.05 1.05 0 1 0 -2.1 0zM123.89 59.38a1.05 1.05 0 1 0 2.1 0a1.05 1.05 0 1 0 -2.1 0zM127.2 64.35a1.05 1.05 0 1 0 2.1 0a1.05 1.05 0 1 0 -2.1 0zM130.46 69.31a1.05 1.05 0 1 0 2.1 0a1.05 1.05 0 1 0 -2.1 0zM133.75 74.18a1.05 1.05 0 1 0 2.1 0a1.05 1.05 0 1 0 -2.1 0zM137.03 79a1.05 1.05 0 1 0 2.1 0a1.05 1.05 0 1 0 -2.1 0zM140.32 83.76a1.05 1.05 0 1 0 2.1 0a1.05 1.05 0 1 0 -2.1 0zM143.7 88.38a1.05 1.05 0 1 0 2.1 0a1.05 1.05 0 1 0 -2.1 0zM147.22 92.82a1.05 1.05 0 1 0 2.1 0a1.05 1.05 0 1 0 -2.1 0zM150.83 97.12a1.05 1.05 0 1 0 2.1 0a1.05 1.05 0 1 0 -2.1 0zM154.51 101.27a1.05 1.05 0 1 0 2.1 0a1.05 1.05 0 1 0 -2.1 0zM158.25 105.27a1.05 1.05 0 1 0 2.1 0a1.05 1.05 0 1 0 -2.1 0zM162.06 109.1a1.05 1.05 0 1 0 2.1 0a1.05 1.05 0 1 0 -2.1 0zM165.94 112.73a1.05 1.05 0 1 0 2.1 0a1.05 1.05 0 1 0 -2.1 0zM169.82 116.24a1.05 1.05 0 1 0 2.1 0a1.05 1.05 0 1 0 -2.1 0zM173.62 119.7a1.05 1.05 0 1 0 2.1 0a1.05 1.05 0 1 0 -2.1 0zM177.3 123.13a1.05 1.05 0 1 0 2.1 0a1.05 1.05 0 1 0 -2.1 0zM180.88 126.48a1.05 1.05 0 1 0 2.1 0a1.05 1.05 0 1 0 -2.1 0zM184.37 129.71a1.05 1.05 0 1 0 2.1 0a1.05 1.05 0 1 0 -2.1 0zM187.81 132.74a1.05 1.05 0 1 0 2.1 0a1.05 1.05 0 1 0 -2.1 0zM191.17 135.5a1.05 1.05 0 1 0 2.1 0a1.05 1.05 0 1 0 -2.1 0zM194.34 137.98a1.05 1.05 0 1 0 2.1 0a1.05 1.05 0 1 0 -2.1 0zM196.95 140a1.05 1.05 0 1 0 2.1 0a1.05 1.05 0 1 0 -2.1 0z"/>
<path fill="none" stroke="#7840ae" stroke-width="0.8" d="M84.9 21.3h2.8M86.3 19.9v2.8M88.25 24.24h2.8M89.65 22.84v2.8M91.56 27.17h2.8M92.96 25.77v2.8M94.79 30.17h2.8M96.19 28.77v2.8M97.91 33.23h2.8M99.31 31.83v2.8M100.92 36.36h2.8M102.32 34.96v2.8M103.78 39.6h2.8M105.18 38.2v2.8M106.51 42.9h2.8M107.91 41.5v2.8M109.15 46.23h2.8M110.55 44.83v2.8M111.74 49.57h2.8M113.14 48.17v2.8M114.28 52.89h2.8M115.68 51.49v2.8M116.77 56.21h2.8M118.17 54.81v2.8M119.22 59.51h2.8M120.62 58.11v2.8M121.61 62.8h2.8M123.01 61.4v2.8M123.95 66.07h2.8M125.35 64.67v2.8M126.22 69.34h2.8M127.62 67.94v2.8M128.41 72.6h2.8M129.81 71.2v2.8M130.55 75.84h2.8M131.95 74.44v2.8M132.64 79.03h2.8M134.04 77.63v2.8M134.71 82.16h2.8M136.11 80.76v2.8M136.76 85.22h2.8M138.16 83.82v2.8M138.78 88.21h2.8M140.18 86.81v2.8M140.74 91.14h2.8M142.14 89.74v2.8M142.6 94h2.8M144 92.6v2.8M144.33 96.79h2.8M145.73 95.39v2.8M145.93 99.47h2.8M147.33 98.07v2.8M147.4 101.96h2.8M148.8 100.56v2.8M148.6 104h2.8M150 102.6v2.8"/>
<path fill="#7840ae" d="M97.3 25.9a1.1 1.1 0 1 0 2.2 0a1.1 1.1 0 1 0 -2.2 0zM99.99 29.23a1.1 1.1 0 1 0 2.2 0a1.1 1.1 0 1 0 -2.2 0zM102.66 32.53a1.1 1.1 0 1 0 2.2 0a1.1 1.1 0 1 0 -2.2 0zM105.31 35.83a1.1 1.1 0 1 0 2.2 0a1.1 1.1 0 1 0 -2.2 0zM107.92 39.12a1.1 1.1 0 1 0 2.2 0a1.1 1.1 0 1 0 -2.2 0zM110.47 42.43a1.1 1.1 0 1 0 2.2 0a1.1 1.1 0 1 0 -2.2 0zM112.92 45.77a1.1 1.1 0 1 0 2.2 0a1.1 1.1 0 1 0 -2.2 0zM115.29 49.14a1.1 1.1 0 1 0 2.2 0a1.1 1.1 0 1 0 -2.2 0zM117.6 52.5a1.1 1.1 0 1 0 2.2 0a1.1 1.1 0 1 0 -2.2 0zM119.9 55.84a1.1 1.1 0 1 0 2.2 0a1.1 1.1 0 1 0 -2.2 0zM122.24 59.11a1.1 1.1 0 1 0 2.2 0a1.1 1.1 0 1 0 -2.2 0zM124.63 62.29a1.1 1.1 0 1 0 2.2 0a1.1 1.1 0 1 0 -2.2 0zM127.05 65.41a1.1 1.1 0 1 0 2.2 0a1.1 1.1 0 1 0 -2.2 0zM129.46 68.48a1.1 1.1 0 1 0 2.2 0a1.1 1.1 0 1 0 -2.2 0zM131.87 71.51a1.1 1.1 0 1 0 2.2 0a1.1 1.1 0 1 0 -2.2 0zM134.25 74.5a1.1 1.1 0 1 0 2.2 0a1.1 1.1 0 1 0 -2.2 0zM136.6 77.45a1.1 1.1 0 1 0 2.2 0a1.1 1.1 0 1 0 -2.2 0zM138.93 80.35a1.1 1.1 0 1 0 2.2 0a1.1 1.1 0 1 0 -2.2 0zM141.25 83.19a1.1 1.1 0 1 0 2.2 0a1.1 1.1 0 1 0 -2.2 0zM143.44 86.06a1.1 1.1 0 1 0 2.2 0a1.1 1.1 0 1 0 -2.2 0zM145.4 89a1.1 1.1 0 1 0 2.2 0a1.1 1.1 0 1 0 -2.2 0zM147.19 91.97a1.1 1.1 0 1 0 2.2 0a1.1 1.1 0 1 0 -2.2 0zM148.94 94.86a1.1 1.1 0 1 0 2.2 0a1.1 1.1 0 1 0 -2.2 0zM150.66 97.65a1.1 1.1 0 1 0 2.2 0a1.1 1.1 0 1 0 -2.2 0zM152.11 100.45a1.1 1.1 0 1 0 2.2 0a1.1 1.1 0 1 0 -2.2 0zM153.21 103.24a1.1 1.1 0 1 0 2.2 0a1.1 1.1 0 1 0 -2.2 0zM154.15 105.85a1.1 1.1 0 1 0 2.2 0a1.1 1.1 0 1 0 -2.2 0zM154.9 108a1.1 1.1 0 1 0 2.2 0a1.1 1.1 0 1 0 -2.2 0z"/>
<path fill="none" stroke="#7840ae" stroke-width="0.8" d="M55.8 134.8l1.3 1.3l-1.3 1.3l-1.3 -1.3zM59.88 135.83l1.3 1.3l-1.3 1.3l-1.3 -1.3zM63.92 136.94l1.3 1.3l-1.3 1.3l-1.3 -1.3zM67.87 138.26l1.3 1.3l-1.3 1.3l-1.3 -1.3zM71.73 139.74l1.3 1.3l-1.3 1.3l-1.3 -1.3zM75.53 141.32l1.3 1.3l-1.3 1.3l-1.3 -1.3zM79.23 143.04l1.3 1.3l-1.3 1.3l-1.3 -1.3zM82.85 144.86l1.3 1.3l-1.3 1.3l-1.3 -1.3zM86.43 146.7l1.3 1.3l-1.3 1.3l-1.3 -1.3zM89.99 148.5l1.3 1.3l-1.3 1.3l-1.3 -1.3zM93.52 150.29l1.3 1.3l-1.3 1.3l-1.3 -1.3zM97.02 152.06l1.3 1.3l-1.3 1.3l-1.3 -1.3zM100.5 153.8l1.3 1.3l-1.3 1.3l-1.3 -1.3zM103.94 155.52l1.3 1.3l-1.3 1.3l-1.3 -1.3zM107.34 157.23l1.3 1.3l-1.3 1.3l-1.3 -1.3zM110.71 158.9l1.3 1.3l-1.3 1.3l-1.3 -1.3zM114.04 160.55l1.3 1.3l-1.3 1.3l-1.3 -1.3zM117.33 162.18l1.3 1.3l-1.3 1.3l-1.3 -1.3zM120.56 163.79l1.3 1.3l-1.3 1.3l-1.3 -1.3zM123.74 165.37l1.3 1.3l-1.3 1.3l-1.3 -1.3zM126.86 166.92l1.3 1.3l-1.3 1.3l-1.3 -1.3zM129.91 168.45l1.3 1.3l-1.3 1.3l-1.3 -1.3zM132.89 169.94l1.3 1.3l-1.3 1.3l-1.3 -1.3zM135.77 171.39l1.3 1.3l-1.3 1.3l-1.3 -1.3zM138.54 172.79l1.3 1.3l-1.3 1.3l-1.3 -1.3zM141.17 174.13l1.3 1.3l-1.3 1.3l-1.3 -1.3zM143.61 175.38l1.3 1.3l-1.3 1.3l-1.3 -1.3zM145.6 176.4l1.3 1.3l-1.3 1.3l-1.3 -1.3z"/>
<path fill="#e6df1c" d="M115.3 25.4l1.45 2.6h-2.9zM119.15 30.1l1.45 2.6h-2.9zM122.85 34.86l1.45 2.6h-2.9zM126.47 39.65l1.45 2.6h-2.9zM130.65 43.89l1.45 2.6h-2.9zM135.21 47.67l1.45 2.6h-2.9zM139.36 51.83l1.45 2.6h-2.9zM143 56.41l1.45 2.6h-2.9zM146.38 61.12l1.45 2.6h-2.9zM149.6 65.89l1.45 2.6h-2.9zM152.65 70.7l1.45 2.6h-2.9zM155.54 75.57l1.45 2.6h-2.9zM158.3 80.44l1.45 2.6h-2.9zM160.97 85.3l1.45 2.6h-2.9zM163.44 90.2l1.45 2.6h-2.9zM165.84 95.07l1.45 2.6h-2.9zM168.36 99.79l1.45 2.6h-2.9zM171.18 104.26l1.45 2.6h-2.9zM174.25 108.46l1.45 2.6h-2.9zM177.49 112.43l1.45 2.6h-2.9zM180.81 116.2l1.45 2.6h-2.9zM184.19 119.77l1.45 2.6h-2.9zM187.66 123.08l1.45 2.6h-2.9zM191.16 126.14l1.45 2.6h-2.9zM194.61 128.99l1.45 2.6h-2.9zM198.04 131.52l1.45 2.6h-2.9zM201.31 133.72l1.45 2.6h-2.9zM204 135.5l1.45 2.6h-2.9z"/>
<path fill="#e6df1c" d="M94.8 24.9h2v2h-2zM98.83 29.66h2v2h-2zM103.09 34.15h2v2h-2zM107.47 38.48h2v2h-2zM111.82 42.79h2v2h-2zM116.14 47.07h2v2h-2zM120.34 51.4h2v2h-2zM124.46 55.75h2v2h-2zM128.49 60.14h2v2h-2zM132.36 64.6h2v2h-2zM136.08 69.12h2v2h-2zM139.7 73.65h2v2h-2zM143.3 78.14h2v2h-2zM146.9 82.55h2v2h-2zM150.48 86.9h2v2h-2zM153.99 91.21h2v2h-2zM157.4 95.52h2v2h-2zM160.6 99.91h2v2h-2zM163.67 104.28h2v2h-2zM166.83 108.48h2v2h-2zM170.26 112.32h2v2h-2zM173.95 115.76h2v2h-2zM177.73 118.91h2v2h-2zM181.5 121.85h2v2h-2zM185.18 124.6h2v2h-2zM188.79 127.05h2v2h-2zM192.2 129.22h2v2h-2zM195 131h2v2h-2z"/>
<path fill="#e6df1c" d="M103.2 69a1.1 1.1 0 1 0 2.2 0a1.1 1.1 0 1 0 -2.2 0zM106.72 71.83a1.1 1.1 0 1 0 2.2 0a1.1 1.1 0 1 0 -2.2 0zM110.27 74.59a1.1 1.1 0 1 0 2.2 0a1.1 1.1 0 1 0 -2.2 0zM114.07 76.92a1.1 1.1 0 1 0 2.2 0a1.1 1.1 0 1 0 -2.2 0zM117.96 79.04a1.1 1.1 0 1 0 2.2 0a1.1 1.1 0 1 0 -2.2 0zM121.33 81.88a1.1 1.1 0 1 0 2.2 0a1.1 1.1 0 1 0 -2.2 0zM124.45 84.95a1.1 1.1 0 1 0 2.2 0a1.1 1.1 0 1 0 -2.2 0zM127.43 88.11a1.1 1.1 0 1 0 2.2 0a1.1 1.1 0 1 0 -2.2 0zM129.9 91.64a1.1 1.1 0 1 0 2.2 0a1.1 1.1 0 1 0 -2.2 0zM131.83 95.46a1.1 1.1 0 1 0 2.2 0a1.1 1.1 0 1 0 -2.2 0zM134.25 98.93a1.1 1.1 0 1 0 2.2 0a1.1 1.1 0 1 0 -2.2 0zM137.4 101.7a1.1 1.1 0 1 0 2.2 0a1.1 1.1 0 1 0 -2.2 0zM140.74 104.21a1.1 1.1 0 1 0 2.2 0a1.1 1.1 0 1 0 -2.2 0zM144.1 106.61a1.1 1.1 0 1 0 2.2 0a1.1 1.1 0 1 0 -2.2 0zM147.46 108.93a1.1 1.1 0 1 0 2.2 0a1.1 1.1 0 1 0 -2.2 0zM150.66 111.38a1.1 1.1 0 1 0 2.2 0a1.1 1.1 0 1 0 -2.2 0zM153.72 113.94a1.1 1.1 0 1 0 2.2 0a1.1 1.1 0 1 0 -2.2 0zM156.9 116.24a1.1 1.1 0 1 0 2.2 0a1.1 1.1 0 1 0 -2.2 0zM160.37 117.95a1.1 1.1 0 1 0 2.2 0a1.1 1.1 0 1 0 -2.2 0zM163.91 119.35a1.1 1.1 0 1 0 2.2 0a1.1 1.1 0 1 0 -2.2 0zM167.31 120.9a1.1 1.1 0 1 0 2.2 0a1.1 1.1 0 1 0 -2.2 0zM170.57 122.56a1.1 1.1 0 1 0 2.2 0a1.1 1.1 0 1 0 -2.2 0zM173.72 124.24a1.1 1.1 0 1 0 2.2 0a1.1 1.1 0 1 0 -2.2 0zM176.75 125.92a1.1 1.1 0 1 0 2.2 0a1.1 1.1 0 1 0 -2.2 0zM179.63 127.59a1.1 1.1 0 1 0 2.2 0a1.1 1.1 0 1 0 -2.2 0zM182.35 129.22a1.1 1.1 0 1 0 2.2 0a1.1 1.1 0 1 0 -2.2 0zM184.85 130.75a1.1 1.1 0 1 0 2.2 0a1.1 1.1 0 1 0 -2.2 0zM186.9 132a1.1 1.1 0 1 0 2.2 0a1.1 1.1 0 1 0 -2.2 0z"/>
<path fill="#e6df1c" d="M108.5 10.2h2.2v1.6h-2.2zM113.39 15.04h2.2v1.6h-2.2zM117.8 20.27h2.2v1.6h-2.2zM122.32 25.34h2.2v1.6h-2.2zM127.05 30.18h2.2v1.6h-2.2zM131.53 35.18h2.2v1.6h-2.2zM135.84 40.26h2.2v1.6h-2.2zM139.87 45.52h2.2v1.6h-2.2zM143.62 50.91h2.2v1.6h-2.2zM147.17 56.38h2.2v1.6h-2.2zM150.51 61.92h2.2v1.6h-2.2zM153.68 67.49h2.2v1.6h-2.2zM156.71 73.07h2.2v1.6h-2.2zM159.64 78.63h2.2v1.6h-2.2zM162.4 84.2h2.2v1.6h-2.2zM165.07 89.74h2.2v1.6h-2.2zM167.8 95.16h2.2v1.6h-2.2zM170.71 100.39h2.2v1.6h-2.2zM173.75 105.45h2.2v1.6h-2.2zM176.9 110.32h2.2v1.6h-2.2zM180.19 114.97h2.2v1.6h-2.2zM183.63 119.36h2.2v1.6h-2.2zM187.21 123.44h2.2v1.6h-2.2zM190.98 127.12h2.2v1.6h-2.2zM195.01 130.2h2.2v1.6h-2.2zM198.98 132.94h2.2v1.6h-2.2zM202.76 135.32h2.2v1.6h-2.2zM205.9 137.2h2.2v1.6h-2.2z"/>
<path fill="#e6df1c" d="M125.4 22.7h2.2v1.6h-2.2zM129.86 27.08h2.2v1.6h-2.2zM134.01 31.7h2.2v1.6h-2.2zM138.05 36.37h2.2v1.6h-2.2zM142.05 41.03h2.2v1.6h-2.2zM146.05 45.62h2.2v1.6h-2.2zM149.85 50.33h2.2v1.6h-2.2zM153.35 55.23h2.2v1.6h-2.2zM156.73 60.15h2.2v1.6h-2.2zM160.19 64.95h2.2v1.6h-2.2zM163.72 69.64h2.2v1.6h-2.2zM167.24 74.28h2.2v1.6h-2.2zM170.68 78.9h2.2v1.6h-2.2zM173.84 83.65h2.2v1.6h-2.2zM176.82 88.45h2.2v1.6h-2.2zM180.18 92.9h2.2v1.6h-2.2zM184.46 96.34h2.2v1.6h-2.2zM189.31 98.78h2.2v1.6h-2.2zM194.32 100.7h2.2v1.6h-2.2zM199.38 102.11h2.2v1.6h-2.2zM204.48 102.91h2.2v1.6h-2.2zM208.96 105.2h2.2v1.6h-2.2zM212.83 108.26h2.2v1.6h-2.2zM216.73 111.04h2.2v1.6h-2.2zM220.57 113.58h2.2v1.6h-2.2zM224.38 115.74h2.2v1.6h-2.2zM227.96 117.65h2.2v1.6h-2.2zM230.9 119.2h2.2v1.6h-2.2z"/>
<path fill="none" stroke="#f4b6c6" stroke-width="0.8" d="M201.6 84l1.4 2.5h-2.8zM204.18 86.7l1.4 2.5h-2.8zM206.78 89.35l1.4 2.5h-2.8zM209.55 91.79l1.4 2.5h-2.8zM212.53 93.94l1.4 2.5h-2.8zM215.25 96.36l1.4 2.5h-2.8zM217.69 99.03l1.4 2.5h-2.8zM219.95 101.83l1.4 2.5h-2.8zM221.99 104.75l1.4 2.5h-2.8zM223.79 107.8l1.4 2.5h-2.8zM225.44 110.9l1.4 2.5h-2.8zM227.06 113.98l1.4 2.5h-2.8zM228.51 117.11l1.4 2.5h-2.8zM230.07 120.14l1.4 2.5h-2.8zM232.05 122.88l1.4 2.5h-2.8zM234.43 125.21l1.4 2.5h-2.8zM237.23 126.93l1.4 2.5h-2.8zM240.23 128.18l1.4 2.5h-2.8zM243.23 129.3l1.4 2.5h-2.8zM246.14 130.49l1.4 2.5h-2.8zM248.96 131.76l1.4 2.5h-2.8zM251.74 132.97l1.4 2.5h-2.8zM254.49 134.04l1.4 2.5h-2.8zM257.19 134.98l1.4 2.5h-2.8zM259.81 135.85l1.4 2.5h-2.8zM262.3 136.65l1.4 2.5h-2.8zM264.61 137.39l1.4 2.5h-2.8zM266.5 138l1.4 2.5h-2.8z"/>
<path fill="none" stroke="#f4b6c6" stroke-width="0.8" d="M212.05 107.05h1.9v1.9h-1.9zM214.52 110.1h1.9v1.9h-1.9zM216.98 113.14h1.9v1.9h-1.9zM219.39 116.18h1.9v1.9h-1.9zM221.73 119.25h1.9v1.9h-1.9zM223.97 122.36h1.9v1.9h-1.9zM226.08 125.52h1.9v1.9h-1.9zM228.13 128.7h1.9v1.9h-1.9zM230.13 131.87h1.9v1.9h-1.9zM232.11 135.03h1.9v1.9h-1.9zM234.08 138.15h1.9v1.9h-1.9zM235.96 141.28h1.9v1.9h-1.9zM237.82 144.39h1.9v1.9h-1.9zM239.84 147.36h1.9v1.9h-1.9zM242.04 150.15h1.9v1.9h-1.9zM244.33 152.8h1.9v1.9h-1.9zM246.66 155.37h1.9v1.9h-1.9zM248.99 157.87h1.9v1.9h-1.9zM251.28 160.34h1.9v1.9h-1.9zM253.57 162.73h1.9v1.9h-1.9zM255.92 164.98h1.9v1.9h-1.9zM258.36 167.01h1.9v1.9h-1.9zM260.9 168.8h1.9v1.9h-1.9zM263.47 170.37h1.9v1.9h-1.9zM266.02 171.74h1.9v1.9h-1.9zM268.53 172.86h1.9v1.9h-1.9zM270.9 173.79h1.9v1.9h-1.9zM272.85 174.55h1.9v1.9h-1.9z"/>
<path d="M57.2 149.0L57.5 148.2L57.9 147.1L58.3 145.8L58.8 144.4L59.3 142.8L59.9 141.2L60.5 139.6L61.0 138.1L61.6 136.6L62.1 135.2L62.6 133.9L63.1 132.7L63.6 131.5L64.1 130.4L64.6 129.2L65.1 128.1L65.6 126.9L66.2 125.7L66.7 124.5L67.3 123.3L67.9 122.0L68.5 120.7L69.2 119.4L69.8 118.0L70.5 116.7L71.2 115.3L71.9 114.0L72.6 112.7L73.2 111.4L73.9 110.2L74.6 109.1L75.2 108.0L75.8 106.9L76.5 105.9L77.1 104.9L77.8 103.9L78.4 102.9L79.1 101.8L79.8 100.8L80.5 99.7L81.2 98.6L82.0 97.4L82.8 96.2L83.6 95.0L84.4 93.8L85.2 92.6L86.0 91.4L86.8 90.2L87.6 89.0L88.4 87.9L89.2 86.8L90.0 85.6L90.7 84.5L91.5 83.4L92.3 82.3L93.1 81.2L93.9 80.2L94.6 79.2L95.4 78.2L96.2 77.3L97.0 76.4L97.8 75.6L98.6 74.8L99.4 74.0L100.1 73.3L100.9 72.6L101.7 71.9L102.5 71.3L103.3 70.7L104.1 70.1L104.9 69.6L105.7 69.1L106.5 68.6L107.3 68.2L108.0 67.8L108.8 67.5L109.6 67.1L110.4 66.8L111.2 66.5L112.0 66.2L112.8 65.9L113.6 65.7L114.5 65.4L115.3 65.2L116.1 65.0L117.0 64.8L117.8 64.7L118.5 64.6L119.2 64.5L119.9 64.4L120.5 64.4L121.1 64.4L121.6 64.4L122.1 64.5L122.5 64.6L123.0 64.7L123.4 64.8L123.8 65.0L124.3 65.1L124.7 65.2L125.1 65.3L125.6 65.4L126.0 65.6L126.4 65.7L126.8 65.9L127.2 66.0L127.6 66.2L128.0 66.3L128.4 66.5L128.8 66.7L129.2 66.9L129.6 67.1L130.0 67.3L130.4 67.5L130.8 67.8L131.2 68.0L131.6 68.2L132.0 68.5L132.4 68.7L132.8 69.0L133.2 69.3L133.6 69.5L134.0 69.8L134.5 70.1L134.9 70.4L135.3 70.7L135.7 71.0L136.1 71.3L136.5 71.6L136.9 71.9L137.3 72.2L137.6 72.4L138.0 72.6L138.3 72.9L138.7 73.1L139.0 73.3L139.4 73.6L139.7 73.8L140.1 74.0L140.4 74.3L140.8 74.6L141.1 74.8L141.5 75.1L141.8 75.4L142.2 75.7L142.5 76.0L142.8 76.3L143.2 76.6L143.6 76.9L143.9 77.2L144.2 77.5L144.6 77.8L145.0 78.1L145.3 78.3L145.7 78.6L146.0 78.9L146.3 79.2L146.7 79.5L147.1 79.8L147.4 80.1L147.7 80.4L148.1 80.8L148.4 81.1L148.8 81.5L149.1 81.8L149.5 82.2L149.8 82.5L150.2 82.9L150.5 83.2L150.9 83.6L151.3 83.9L151.6 84.3L152.0 84.6L152.3 85.0L152.7 85.3L153.1 85.7L153.4 86.0L153.8 86.4L154.1 86.8L154.5 87.1L154.9 87.5L155.2 87.8L155.6 88.2L155.9 88.5L156.3 88.9L156.6 89.2L157.0 89.6L157.3 89.9L157.7 90.3L158.0 90.6L158.3 90.9L158.5 91.2L158.7 91.4L158.9 91.7L159.2 91.9L159.4 92.2L159.7 92.5L160.0 92.9L160.5 93.4L161.0 94.0L161.7 94.7L162.4 95.5L163.2 96.4L164.1 97.4L165.0 98.4L166.0 99.5L167.0 100.5L168.0 101.6L169.0 102.6L170.0 103.5L171.0 104.4L172.0 105.2L173.0 106.1L174.1 106.9L175.2 107.7L176.2 108.5L177.3 109.3L178.3 110.1L179.4 111.0L180.4 111.8L181.4 112.7L182.4 113.5L183.3 114.4L184.2 115.2L185.2 116.1L186.1 117.0L187.0 117.9L188.0 118.7L189.0 119.6L190.0 120.5L191.0 121.4L192.1 122.3L193.2 123.3L194.4 124.2L195.5 125.2L196.6 126.1L197.7 127.0L198.8 127.9L199.9 128.7L200.9 129.5L201.9 130.2L202.8 130.8L203.7 131.4L204.6 132.0L205.4 132.5L206.3 133.0L207.2 133.5L208.1 134.0L209.0 134.5L210.0 135.0L211.0 135.5L212.0 135.9L212.9 136.4L213.9 136.8L214.9 137.2L216.0 137.6L217.2 138.1L218.4 138.5L219.8 139.1L221.3 139.7L222.9 140.4L224.6 141.1L226.4 141.9L228.3 142.8L230.3 143.7L232.4 144.5L234.5 145.4L236.8 146.3L239.2 147.1L241.7 147.9L244.5 148.7L247.7 149.5L251.1 150.3L254.7 151.2L258.3 152.0L261.8 152.7L265.1 153.4L268.1 154.1L270.5 154.6L272.4 155.0L272.4 155.0" fill="none" stroke="#333" stroke-width="0.75"/>
<path fill="#000000" d="M476.4 63.6l1.4 1.4l-1.4 1.4l-1.4 -1.4zM480.82 67.38l1.4 1.4l-1.4 1.4l-1.4 -1.4zM485.25 71.09l1.4 1.4l-1.4 1.4l-1.4 -1.4zM489.62 74.82l1.4 1.4l-1.4 1.4l-1.4 -1.4zM493.89 78.6l1.4 1.4l-1.4 1.4l-1.4 -1.4zM498.04 82.44l1.4 1.4l-1.4 1.4l-1.4 -1.4zM501.98 86.4l1.4 1.4l-1.4 1.4l-1.4 -1.4zM505.6 90.56l1.4 1.4l-1.4 1.4l-1.4 -1.4zM508.94 94.87l1.4 1.4l-1.4 1.4l-1.4 -1.4zM512.08 99.25l1.4 1.4l-1.4 1.4l-1.4 -1.4zM515.09 103.66l1.4 1.4l-1.4 1.4l-1.4 -1.4zM518.05 108.04l1.4 1.4l-1.4 1.4l-1.4 -1.4zM521.05 112.34l1.4 1.4l-1.4 1.4l-1.4 -1.4zM524.13 116.53l1.4 1.4l-1.4 1.4l-1.4 -1.4zM527.15 120.69l1.4 1.4l-1.4 1.4l-1.4 -1.4zM530.16 124.79l1.4 1.4l-1.4 1.4l-1.4 -1.4zM533.22 128.79l1.4 1.4l-1.4 1.4l-1.4 -1.4zM536.4 132.62l1.4 1.4l-1.4 1.4l-1.4 -1.4zM539.73 136.25l1.4 1.4l-1.4 1.4l-1.4 -1.4zM543.18 139.68l1.4 1.4l-1.4 1.4l-1.4 -1.4zM546.77 142.86l1.4 1.4l-1.4 1.4l-1.4 -1.4zM550.5 145.77l1.4 1.4l-1.4 1.4l-1.4 -1.4zM554.31 148.4l1.4 1.4l-1.4 1.4l-1.4 -1.4zM558.17 150.75l1.4 1.4l-1.4 1.4l-1.4 -1.4zM561.95 152.92l1.4 1.4l-1.4 1.4l-1.4 -1.4zM565.58 154.92l1.4 1.4l-1.4 1.4l-1.4 -1.4zM568.95 156.76l1.4 1.4l-1.4 1.4l-1.4 -1.4zM571.7 158.29l1.4 1.4l-1.4 1.4l-1.4 -1.4z"/>
<path fill="#e03c3c" d="M536.2 76.2l1.45 2.6h-2.9zM540.11 79.89l1.45 2.6h-2.9zM544 83.55l1.45 2.6h-2.9zM547.9 87.17l1.45 2.6h-2.9zM551.84 90.69l1.45 2.6h-2.9zM555.99 93.97l1.45 2.6h-2.9zM560.15 97.18l1.45 2.6h-2.9zM564.08 100.58l1.45 2.6h-2.9zM567.46 104.38l1.45 2.6h-2.9zM570.2 108.55l1.45 2.6h-2.9zM572.51 112.88l1.45 2.6h-2.9zM574.61 117.27l1.45 2.6h-2.9zM576.67 121.61l1.45 2.6h-2.9zM578.66 125.93l1.45 2.6h-2.9zM580.48 130.27l1.45 2.6h-2.9zM582.27 134.55l1.45 2.6h-2.9zM584.14 138.75l1.45 2.6h-2.9zM586.25 142.78l1.45 2.6h-2.9zM588.51 146.67l1.45 2.6h-2.9zM590.89 150.41l1.45 2.6h-2.9zM593.42 153.97l1.45 2.6h-2.9zM596.29 157.19l1.45 2.6h-2.9zM599.96 159.43l1.45 2.6h-2.9zM604.03 160.65l1.45 2.6h-2.9zM608.16 161.05l1.45 2.6h-2.9zM612.08 161.41l1.45 2.6h-2.9zM615.72 161.65l1.45 2.6h-2.9zM618.7 161.84l1.45 2.6h-2.9z"/>
<path fill="none" stroke="#e03c3c" stroke-width="0.8" d="M512.65 79.39h1.9v1.9h-1.9zM516.65 82.96h1.9v1.9h-1.9zM520.65 86.49h1.9v1.9h-1.9zM524.72 89.9h1.9v1.9h-1.9zM529.17 92.84h1.9v1.9h-1.9zM533.72 95.58h1.9v1.9h-1.9zM537.98 98.63h1.9v1.9h-1.9zM541.76 102.13h1.9v1.9h-1.9zM545.3 105.78h1.9v1.9h-1.9zM548.73 109.47h1.9v1.9h-1.9zM552.04 113.19h1.9v1.9h-1.9zM555.12 117.03h1.9v1.9h-1.9zM557.95 120.97h1.9v1.9h-1.9zM560.84 124.81h1.9v1.9h-1.9zM564.05 128.37h1.9v1.9h-1.9zM567.49 131.69h1.9v1.9h-1.9zM571.26 134.59h1.9v1.9h-1.9zM575.31 137.05h1.9v1.9h-1.9zM579.49 139.19h1.9v1.9h-1.9zM583.68 141.17h1.9v1.9h-1.9zM587.8 143.1h1.9v1.9h-1.9zM591.89 144.87h1.9v1.9h-1.9zM596.03 146.25h1.9v1.9h-1.9zM600.2 147.14h1.9v1.9h-1.9zM604.28 147.69h1.9v1.9h-1.9zM608.18 148.09h1.9v1.9h-1.9zM611.79 148.41h1.9v1.9h-1.9zM614.75 148.69h1.9v1.9h-1.9z"/>
<path fill="none" stroke="#e03c3c" stroke-width="0.8" d="M480 62.27h2.8M481.4 60.87v2.8M484.66 66.23h2.8M486.06 64.83v2.8M489.32 70.15h2.8M490.72 68.75v2.8M493.91 74.09h2.8M495.31 72.69v2.8M498.4 78.07h2.8M499.8 76.67v2.8M502.72 82.15h2.8M504.12 80.75v2.8M506.79 86.39h2.8M508.19 84.99v2.8M510.5 90.85h2.8M511.9 89.45v2.8M513.93 95.44h2.8M515.33 94.04v2.8M517.17 100.09h2.8M518.57 98.69v2.8M520.32 104.74h2.8M521.72 103.34v2.8M523.47 109.34h2.8M524.87 107.94v2.8M526.72 113.81h2.8M528.12 112.41v2.8M529.94 118.23h2.8M531.34 116.83v2.8M533.14 122.61h2.8M534.54 121.21v2.8M536.37 126.89h2.8M537.77 125.49v2.8M539.75 130.99h2.8M541.15 129.59v2.8M543.3 134.88h2.8M544.7 133.48v2.8M547 138.55h2.8M548.4 137.15v2.8M550.88 141.94h2.8M552.28 140.54v2.8M554.92 145.04h2.8M556.32 143.64v2.8M559.05 147.86h2.8M560.45 146.46v2.8M563.19 150.47h2.8M564.59 149.07v2.8M567.3 152.88h2.8M568.7 151.48v2.8M571.34 155.08h2.8M572.74 153.68v2.8M575.31 156.95h2.8M576.71 155.55v2.8M579.32 157.47h2.8M580.72 156.07v2.8M582.3 156.03h2.8M583.7 154.63v2.8"/>
<path fill="none" stroke="#e03c3c" stroke-width="0.8" d="M485.35 60.44a1.05 1.05 0 1 0 2.1 0a1.05 1.05 0 1 0 -2.1 0zM490.06 64.45a1.05 1.05 0 1 0 2.1 0a1.05 1.05 0 1 0 -2.1 0zM494.77 68.41a1.05 1.05 0 1 0 2.1 0a1.05 1.05 0 1 0 -2.1 0zM499.41 72.39a1.05 1.05 0 1 0 2.1 0a1.05 1.05 0 1 0 -2.1 0zM503.94 76.43a1.05 1.05 0 1 0 2.1 0a1.05 1.05 0 1 0 -2.1 0zM508.31 80.55a1.05 1.05 0 1 0 2.1 0a1.05 1.05 0 1 0 -2.1 0zM512.4 84.86a1.05 1.05 0 1 0 2.1 0a1.05 1.05 0 1 0 -2.1 0zM516.13 89.38a1.05 1.05 0 1 0 2.1 0a1.05 1.05 0 1 0 -2.1 0zM519.58 94.03a1.05 1.05 0 1 0 2.1 0a1.05 1.05 0 1 0 -2.1 0zM522.84 98.73a1.05 1.05 0 1 0 2.1 0a1.05 1.05 0 1 0 -2.1 0zM526.02 103.44a1.05 1.05 0 1 0 2.1 0a1.05 1.05 0 1 0 -2.1 0zM529.22 108.08a1.05 1.05 0 1 0 2.1 0a1.05 1.05 0 1 0 -2.1 0zM532.51 112.59a1.05 1.05 0 1 0 2.1 0a1.05 1.05 0 1 0 -2.1 0zM535.77 117.07a1.05 1.05 0 1 0 2.1 0a1.05 1.05 0 1 0 -2.1 0zM539.01 121.48a1.05 1.05 0 1 0 2.1 0a1.05 1.05 0 1 0 -2.1 0zM542.3 125.79a1.05 1.05 0 1 0 2.1 0a1.05 1.05 0 1 0 -2.1 0zM545.76 129.91a1.05 1.05 0 1 0 2.1 0a1.05 1.05 0 1 0 -2.1 0zM549.39 133.81a1.05 1.05 0 1 0 2.1 0a1.05 1.05 0 1 0 -2.1 0zM553.17 137.48a1.05 1.05 0 1 0 2.1 0a1.05 1.05 0 1 0 -2.1 0zM557.15 140.86a1.05 1.05 0 1 0 2.1 0a1.05 1.05 0 1 0 -2.1 0zM561.28 143.94a1.05 1.05 0 1 0 2.1 0a1.05 1.05 0 1 0 -2.1 0zM565.46 146.78a1.05 1.05 0 1 0 2.1 0a1.05 1.05 0 1 0 -2.1 0zM569.64 149.43a1.05 1.05 0 1 0 2.1 0a1.05 1.05 0 1 0 -2.1 0zM573.79 151.87a1.05 1.05 0 1 0 2.1 0a1.05 1.05 0 1 0 -2.1 0zM577.92 154.01a1.05 1.05 0 1 0 2.1 0a1.05 1.05 0 1 0 -2.1 0zM582.14 155.44a1.05 1.05 0 1 0 2.1 0a1.05 1.05 0 1 0 -2.1 0zM586.04 154.4a1.05 1.05 0 1 0 2.1 0a1.05 1.05 0 1 0 -2.1 0zM588.65 152.38a1.05 1.05 0 1 0 2.1 0a1.05 1.05 0 1 0 -2.1 0z"/>
<path fill="none" stroke="#e03c3c" stroke-width="0.8" d="M473.3 39.87l1.3 1.3l-1.3 1.3l-1.3 -1.3zM477.6 44.87l1.3 1.3l-1.3 1.3l-1.3 -1.3zM481.88 49.84l1.3 1.3l-1.3 1.3l-1.3 -1.3zM486.17 54.75l1.3 1.3l-1.3 1.3l-1.3 -1.3zM490.5 59.59l1.3 1.3l-1.3 1.3l-1.3 -1.3zM494.86 64.34l1.3 1.3l-1.3 1.3l-1.3 -1.3zM499.25 69.02l1.3 1.3l-1.3 1.3l-1.3 -1.3zM503.61 73.66l1.3 1.3l-1.3 1.3l-1.3 -1.3zM507.92 78.28l1.3 1.3l-1.3 1.3l-1.3 -1.3zM512.18 82.88l1.3 1.3l-1.3 1.3l-1.3 -1.3zM516.41 87.44l1.3 1.3l-1.3 1.3l-1.3 -1.3zM520.68 91.89l1.3 1.3l-1.3 1.3l-1.3 -1.3zM525.13 96.13l1.3 1.3l-1.3 1.3l-1.3 -1.3zM529.75 100.11l1.3 1.3l-1.3 1.3l-1.3 -1.3zM534.19 104.18l1.3 1.3l-1.3 1.3l-1.3 -1.3zM537.96 108.69l1.3 1.3l-1.3 1.3l-1.3 -1.3zM541.05 113.54l1.3 1.3l-1.3 1.3l-1.3 -1.3zM544.22 118.25l1.3 1.3l-1.3 1.3l-1.3 -1.3zM547.99 122.47l1.3 1.3l-1.3 1.3l-1.3 -1.3zM552.02 126.36l1.3 1.3l-1.3 1.3l-1.3 -1.3zM556.16 130.01l1.3 1.3l-1.3 1.3l-1.3 -1.3zM560.35 133.46l1.3 1.3l-1.3 1.3l-1.3 -1.3zM564.63 136.62l1.3 1.3l-1.3 1.3l-1.3 -1.3zM568.95 139.47l1.3 1.3l-1.3 1.3l-1.3 -1.3zM573.18 142.14l1.3 1.3l-1.3 1.3l-1.3 -1.3zM577.13 144.75l1.3 1.3l-1.3 1.3l-1.3 -1.3zM580.74 147.22l1.3 1.3l-1.3 1.3l-1.3 -1.3zM583.7 149.26l1.3 1.3l-1.3 1.3l-1.3 -1.3z"/>
<path fill="#f59a20" d="M490.7 65.06l1.45 2.6h-2.9zM493.84 69.5l1.45 2.6h-2.9zM496.97 73.91l1.45 2.6h-2.9zM500.17 78.24l1.45 2.6h-2.9zM503.49 82.46l1.45 2.6h-2.9zM506.91 86.56l1.45 2.6h-2.9zM510.39 90.59l1.45 2.6h-2.9zM513.91 94.53l1.45 2.6h-2.9zM517.45 98.41l1.45 2.6h-2.9zM521.03 102.21l1.45 2.6h-2.9zM524.65 105.92l1.45 2.6h-2.9zM528.28 109.56l1.45 2.6h-2.9zM531.89 113.16l1.45 2.6h-2.9zM535.45 116.73l1.45 2.6h-2.9zM538.91 120.32l1.45 2.6h-2.9zM542.25 123.92l1.45 2.6h-2.9zM545.55 127.49l1.45 2.6h-2.9zM548.9 130.92l1.45 2.6h-2.9zM552.4 134.14l1.45 2.6h-2.9zM555.99 137.16l1.45 2.6h-2.9zM559.64 139.99l1.45 2.6h-2.9zM563.32 142.64l1.45 2.6h-2.9zM567.05 145.06l1.45 2.6h-2.9zM570.84 147.17l1.45 2.6h-2.9zM574.61 149.01l1.45 2.6h-2.9zM578.26 150.63l1.45 2.6h-2.9zM581.77 151.84l1.45 2.6h-2.9zM584.7 152.71l1.45 2.6h-2.9z"/>
<path fill="#f59a20" d="M479.7 61.9h2v2h-2zM483.4 66.38h2v2h-2zM487.08 70.84h2v2h-2zM490.71 75.29h2v2h-2zM494.27 79.74h2v2h-2zM497.75 84.2h2v2h-2zM501.21 88.62h2v2h-2zM504.7 92.98h2v2h-2zM508.25 97.25h2v2h-2zM511.86 101.42h2v2h-2zM515.49 105.52h2v2h-2zM519.13 109.55h2v2h-2zM522.77 113.52h2v2h-2zM526.4 117.44h2v2h-2zM530 121.3h2v2h-2zM533.59 125.09h2v2h-2zM537.19 128.79h2v2h-2zM540.86 132.34h2v2h-2zM544.63 135.7h2v2h-2zM548.52 138.83h2v2h-2zM552.45 141.77h2v2h-2zM556.39 144.56h2v2h-2zM560.32 147.16h2v2h-2zM564.25 149.52h2v2h-2zM568.16 151.62h2v2h-2zM572.03 153.35h2v2h-2zM575.69 154.79h2v2h-2zM578.7 155.95h2v2h-2z"/>
<path fill="#f59a20" d="M482.9 58.89a1.1 1.1 0 1 0 2.2 0a1.1 1.1 0 1 0 -2.2 0zM486.26 63.83a1.1 1.1 0 1 0 2.2 0a1.1 1.1 0 1 0 -2.2 0zM489.64 68.71a1.1 1.1 0 1 0 2.2 0a1.1 1.1 0 1 0 -2.2 0zM493.15 73.48a1.1 1.1 0 1 0 2.2 0a1.1 1.1 0 1 0 -2.2 0zM496.86 78.07a1.1 1.1 0 1 0 2.2 0a1.1 1.1 0 1 0 -2.2 0zM500.68 82.54a1.1 1.1 0 1 0 2.2 0a1.1 1.1 0 1 0 -2.2 0zM504.59 86.9a1.1 1.1 0 1 0 2.2 0a1.1 1.1 0 1 0 -2.2 0zM508.61 91.12a1.1 1.1 0 1 0 2.2 0a1.1 1.1 0 1 0 -2.2 0zM512.73 95.2a1.1 1.1 0 1 0 2.2 0a1.1 1.1 0 1 0 -2.2 0zM516.91 99.17a1.1 1.1 0 1 0 2.2 0a1.1 1.1 0 1 0 -2.2 0zM521.13 103.04a1.1 1.1 0 1 0 2.2 0a1.1 1.1 0 1 0 -2.2 0zM525.39 106.81a1.1 1.1 0 1 0 2.2 0a1.1 1.1 0 1 0 -2.2 0zM529.69 110.46a1.1 1.1 0 1 0 2.2 0a1.1 1.1 0 1 0 -2.2 0zM534.26 113.74a1.1 1.1 0 1 0 2.2 0a1.1 1.1 0 1 0 -2.2 0zM539.03 116.67a1.1 1.1 0 1 0 2.2 0a1.1 1.1 0 1 0 -2.2 0zM543.5 119.87a1.1 1.1 0 1 0 2.2 0a1.1 1.1 0 1 0 -2.2 0zM546.92 123.91a1.1 1.1 0 1 0 2.2 0a1.1 1.1 0 1 0 -2.2 0zM549.28 128.49a1.1 1.1 0 1 0 2.2 0a1.1 1.1 0 1 0 -2.2 0zM551.32 133.11a1.1 1.1 0 1 0 2.2 0a1.1 1.1 0 1 0 -2.2 0zM553.88 137.4a1.1 1.1 0 1 0 2.2 0a1.1 1.1 0 1 0 -2.2 0zM557.14 141.17a1.1 1.1 0 1 0 2.2 0a1.1 1.1 0 1 0 -2.2 0zM560.85 144.44a1.1 1.1 0 1 0 2.2 0a1.1 1.1 0 1 0 -2.2 0zM564.94 147.09a1.1 1.1 0 1 0 2.2 0a1.1 1.1 0 1 0 -2.2 0zM569.17 149.31a1.1 1.1 0 1 0 2.2 0a1.1 1.1 0 1 0 -2.2 0zM572.97 151.82a1.1 1.1 0 1 0 2.2 0a1.1 1.1 0 1 0 -2.2 0zM576.47 154.36a1.1 1.1 0 1 0 2.2 0a1.1 1.1 0 1 0 -2.2 0zM579.67 156.73a1.1 1.1 0 1 0 2.2 0a1.1 1.1 0 1 0 -2.2 0zM582.3 158.68a1.1 1.1 0 1 0 2.2 0a1.1 1.1 0 1 0 -2.2 0z"/>
<path fill="none" stroke="#66bd46" stroke-width="0.8" d="M532.6 60.77l1.4 2.5h-2.8zM535.15 65.23l1.4 2.5h-2.8zM537.74 69.65l1.4 2.5h-2.8zM540.54 73.93l1.4 2.5h-2.8zM543.77 77.9l1.4 2.5h-2.8zM547.37 81.55l1.4 2.5h-2.8zM550.92 85.21l1.4 2.5h-2.8zM554.1 89.09l1.4 2.5h-2.8zM556.68 93.28l1.4 2.5h-2.8zM558.83 97.64l1.4 2.5h-2.8zM560.78 102.03l1.4 2.5h-2.8zM562.7 106.38l1.4 2.5h-2.8zM564.74 110.64l1.4 2.5h-2.8zM566.97 114.77l1.4 2.5h-2.8zM569.24 118.83l1.4 2.5h-2.8zM571.56 122.8l1.4 2.5h-2.8zM574 126.65l1.4 2.5h-2.8zM576.62 130.33l1.4 2.5h-2.8zM579.5 133.75l1.4 2.5h-2.8zM582.6 136.92l1.4 2.5h-2.8zM585.89 139.81l1.4 2.5h-2.8zM589.37 142.37l1.4 2.5h-2.8zM593.15 144.32l1.4 2.5h-2.8zM597.29 145.08l1.4 2.5h-2.8zM601.34 145.46l1.4 2.5h-2.8zM605.19 145.79l1.4 2.5h-2.8zM608.77 145.94l1.4 2.5h-2.8zM611.7 146.04l1.4 2.5h-2.8z"/>
<path fill="none" stroke="#66bd46" stroke-width="0.8" d="M489.65 73.86a1.05 1.05 0 1 0 2.1 0a1.05 1.05 0 1 0 -2.1 0zM493.38 78.37a1.05 1.05 0 1 0 2.1 0a1.05 1.05 0 1 0 -2.1 0zM497.08 82.86a1.05 1.05 0 1 0 2.1 0a1.05 1.05 0 1 0 -2.1 0zM500.74 87.34a1.05 1.05 0 1 0 2.1 0a1.05 1.05 0 1 0 -2.1 0zM504.35 91.81a1.05 1.05 0 1 0 2.1 0a1.05 1.05 0 1 0 -2.1 0zM507.92 96.25a1.05 1.05 0 1 0 2.1 0a1.05 1.05 0 1 0 -2.1 0zM511.43 100.69a1.05 1.05 0 1 0 2.1 0a1.05 1.05 0 1 0 -2.1 0zM514.84 105.16a1.05 1.05 0 1 0 2.1 0a1.05 1.05 0 1 0 -2.1 0zM518.08 109.67a1.05 1.05 0 1 0 2.1 0a1.05 1.05 0 1 0 -2.1 0zM521.2 114.2a1.05 1.05 0 1 0 2.1 0a1.05 1.05 0 1 0 -2.1 0zM524.33 118.68a1.05 1.05 0 1 0 2.1 0a1.05 1.05 0 1 0 -2.1 0zM527.56 123.04a1.05 1.05 0 1 0 2.1 0a1.05 1.05 0 1 0 -2.1 0zM530.91 127.26a1.05 1.05 0 1 0 2.1 0a1.05 1.05 0 1 0 -2.1 0zM534.34 131.37a1.05 1.05 0 1 0 2.1 0a1.05 1.05 0 1 0 -2.1 0zM537.81 135.37a1.05 1.05 0 1 0 2.1 0a1.05 1.05 0 1 0 -2.1 0zM541.34 139.26a1.05 1.05 0 1 0 2.1 0a1.05 1.05 0 1 0 -2.1 0zM544.88 143.06a1.05 1.05 0 1 0 2.1 0a1.05 1.05 0 1 0 -2.1 0zM548.43 146.75a1.05 1.05 0 1 0 2.1 0a1.05 1.05 0 1 0 -2.1 0zM552.09 150.27a1.05 1.05 0 1 0 2.1 0a1.05 1.05 0 1 0 -2.1 0zM555.92 153.5a1.05 1.05 0 1 0 2.1 0a1.05 1.05 0 1 0 -2.1 0zM559.92 156.42a1.05 1.05 0 1 0 2.1 0a1.05 1.05 0 1 0 -2.1 0zM564.02 159.06a1.05 1.05 0 1 0 2.1 0a1.05 1.05 0 1 0 -2.1 0zM568.14 161.45a1.05 1.05 0 1 0 2.1 0a1.05 1.05 0 1 0 -2.1 0zM572.24 163.64a1.05 1.05 0 1 0 2.1 0a1.05 1.05 0 1 0 -2.1 0zM576.32 165.5a1.05 1.05 0 1 0 2.1 0a1.05 1.05 0 1 0 -2.1 0zM580.3 167.1a1.05 1.05 0 1 0 2.1 0a1.05 1.05 0 1 0 -2.1 0zM584.01 168.49a1.05 1.05 0 1 0 2.1 0a1.05 1.05 0 1 0 -2.1 0zM587.05 169.64a1.05 1.05 0 1 0 2.1 0a1.05 1.05 0 1 0 -2.1 0z"/>
<path fill="none" stroke="#66bd46" stroke-width="0.8" d="M494.3 77.51h2.8M495.7 76.11v2.8M497.71 81.8h2.8M499.11 80.4v2.8M501.1 86.07h2.8M502.5 84.67v2.8M504.46 90.32h2.8M505.86 88.92v2.8M507.78 94.56h2.8M509.18 93.16v2.8M511.04 98.79h2.8M512.44 97.39v2.8M514.27 103h2.8M515.67 101.6v2.8M517.46 107.19h2.8M518.86 105.79v2.8M520.64 111.34h2.8M522.04 109.94v2.8M523.78 115.47h2.8M525.18 114.07v2.8M526.88 119.57h2.8M528.28 118.17v2.8M529.95 123.63h2.8M531.35 122.23v2.8M533.04 127.63h2.8M534.44 126.23v2.8M536.17 131.55h2.8M537.57 130.15v2.8M539.26 135.41h2.8M540.66 134.01v2.8M542.36 139.22h2.8M543.76 137.82v2.8M545.51 142.9h2.8M546.91 141.5v2.8M548.8 146.41h2.8M550.2 145.01v2.8M552.28 149.66h2.8M553.68 148.26v2.8M555.91 152.65h2.8M557.31 151.25v2.8M559.66 155.41h2.8M561.06 154.01v2.8M563.44 157.95h2.8M564.84 156.55v2.8M567.27 160.26h2.8M568.67 158.86v2.8M571.12 162.31h2.8M572.52 160.91v2.8M574.91 164.12h2.8M576.31 162.72v2.8M578.62 165.66h2.8M580.02 164.26v2.8M582.25 166.55h2.8M583.65 165.15v2.8M585.3 166.99h2.8M586.7 165.59v2.8"/>
<path fill="#66bd46" d="M467.6 77.51a1.1 1.1 0 1 0 2.2 0a1.1 1.1 0 1 0 -2.2 0zM471.45 81.57a1.1 1.1 0 1 0 2.2 0a1.1 1.1 0 1 0 -2.2 0zM475.26 85.62a1.1 1.1 0 1 0 2.2 0a1.1 1.1 0 1 0 -2.2 0zM479.02 89.67a1.1 1.1 0 1 0 2.2 0a1.1 1.1 0 1 0 -2.2 0zM482.72 93.72a1.1 1.1 0 1 0 2.2 0a1.1 1.1 0 1 0 -2.2 0zM486.38 97.75a1.1 1.1 0 1 0 2.2 0a1.1 1.1 0 1 0 -2.2 0zM489.96 101.81a1.1 1.1 0 1 0 2.2 0a1.1 1.1 0 1 0 -2.2 0zM493.42 105.89a1.1 1.1 0 1 0 2.2 0a1.1 1.1 0 1 0 -2.2 0zM496.73 110.03a1.1 1.1 0 1 0 2.2 0a1.1 1.1 0 1 0 -2.2 0zM499.95 114.19a1.1 1.1 0 1 0 2.2 0a1.1 1.1 0 1 0 -2.2 0zM503.15 118.3a1.1 1.1 0 1 0 2.2 0a1.1 1.1 0 1 0 -2.2 0zM506.41 122.32a1.1 1.1 0 1 0 2.2 0a1.1 1.1 0 1 0 -2.2 0zM509.65 126.29a1.1 1.1 0 1 0 2.2 0a1.1 1.1 0 1 0 -2.2 0zM512.89 130.21a1.1 1.1 0 1 0 2.2 0a1.1 1.1 0 1 0 -2.2 0zM516.17 134.03a1.1 1.1 0 1 0 2.2 0a1.1 1.1 0 1 0 -2.2 0zM519.54 137.71a1.1 1.1 0 1 0 2.2 0a1.1 1.1 0 1 0 -2.2 0zM523.04 141.21a1.1 1.1 0 1 0 2.2 0a1.1 1.1 0 1 0 -2.2 0zM526.63 144.53a1.1 1.1 0 1 0 2.2 0a1.1 1.1 0 1 0 -2.2 0zM530.27 147.72a1.1 1.1 0 1 0 2.2 0a1.1 1.1 0 1 0 -2.2 0zM533.9 150.81a1.1 1.1 0 1 0 2.2 0a1.1 1.1 0 1 0 -2.2 0zM537.47 153.82a1.1 1.1 0 1 0 2.2 0a1.1 1.1 0 1 0 -2.2 0zM541.03 156.72a1.1 1.1 0 1 0 2.2 0a1.1 1.1 0 1 0 -2.2 0zM544.59 159.43a1.1 1.1 0 1 0 2.2 0a1.1 1.1 0 1 0 -2.2 0zM548.2 161.9a1.1 1.1 0 1 0 2.2 0a1.1 1.1 0 1 0 -2.2 0zM551.87 164a1.1 1.1 0 1 0 2.2 0a1.1 1.1 0 1 0 -2.2 0zM555.47 165.85a1.1 1.1 0 1 0 2.2 0a1.1 1.1 0 1 0 -2.2 0zM558.84 167.47a1.1 1.1 0 1 0 2.2 0a1.1 1.1 0 1 0 -2.2 0zM561.6 168.82a1.1 1.1 0 1 0 2.2 0a1.1 1.1 0 1 0 -2.2 0z"/>
<path fill="none" stroke="#66bd46" stroke-width="0.8" d="M458 71.47l1.3 1.3l-1.3 1.3l-1.3 -1.3zM462.04 76.8l1.3 1.3l-1.3 1.3l-1.3 -1.3zM466.09 82.09l1.3 1.3l-1.3 1.3l-1.3 -1.3zM470.21 87.28l1.3 1.3l-1.3 1.3l-1.3 -1.3zM474.74 92.12l1.3 1.3l-1.3 1.3l-1.3 -1.3zM479.15 97.01l1.3 1.3l-1.3 1.3l-1.3 -1.3zM482.81 102.32l1.3 1.3l-1.3 1.3l-1.3 -1.3zM485.23 108.15l1.3 1.3l-1.3 1.3l-1.3 -1.3zM487.47 114l1.3 1.3l-1.3 1.3l-1.3 -1.3zM490.73 119.36l1.3 1.3l-1.3 1.3l-1.3 -1.3zM494.83 124.18l1.3 1.3l-1.3 1.3l-1.3 -1.3zM499.19 128.72l1.3 1.3l-1.3 1.3l-1.3 -1.3zM503.78 133l1.3 1.3l-1.3 1.3l-1.3 -1.3zM508.64 136.92l1.3 1.3l-1.3 1.3l-1.3 -1.3zM514.13 139.92l1.3 1.3l-1.3 1.3l-1.3 -1.3zM519.35 143.2l1.3 1.3l-1.3 1.3l-1.3 -1.3zM524.16 146.87l1.3 1.3l-1.3 1.3l-1.3 -1.3zM528.85 150.55l1.3 1.3l-1.3 1.3l-1.3 -1.3zM533.49 154.15l1.3 1.3l-1.3 1.3l-1.3 -1.3zM538.13 157.61l1.3 1.3l-1.3 1.3l-1.3 -1.3zM542.71 160.98l1.3 1.3l-1.3 1.3l-1.3 -1.3zM547.3 164.15l1.3 1.3l-1.3 1.3l-1.3 -1.3zM552.08 166.84l1.3 1.3l-1.3 1.3l-1.3 -1.3zM557.08 168.78l1.3 1.3l-1.3 1.3l-1.3 -1.3zM562.12 170.12l1.3 1.3l-1.3 1.3l-1.3 -1.3zM566.99 171.05l1.3 1.3l-1.3 1.3l-1.3 -1.3zM571.55 171.64l1.3 1.3l-1.3 1.3l-1.3 -1.3zM575.3 172.08l1.3 1.3l-1.3 1.3l-1.3 -1.3z"/>
<path fill="#66bd46" d="M459.8 64.64h2v2h-2zM463.52 69.73h2v2h-2zM467.24 74.77h2v2h-2zM471.1 79.67h2v2h-2zM475.71 83.92h2v2h-2zM480.39 88.04h2v2h-2zM483.57 93.2h2v2h-2zM486.72 98.32h2v2h-2zM489.82 103.43h2v2h-2zM491.37 109.02h2v2h-2zM492.91 114.57h2v2h-2zM495.68 119.67h2v2h-2zM499.14 124.33h2v2h-2zM503.16 128.54h2v2h-2zM507.3 132.57h2v2h-2zM511.24 136.68h2v2h-2zM515.13 140.74h2v2h-2zM519.22 144.52h2v2h-2zM523.4 148.12h2v2h-2zM527.6 151.55h2v2h-2zM531.8 154.85h2v2h-2zM535.93 158.06h2v2h-2zM540.04 161.09h2v2h-2zM544.19 163.85h2v2h-2zM548.41 166.19h2v2h-2zM552.58 168.16h2v2h-2zM556.49 169.88h2v2h-2zM559.7 171.29h2v2h-2z"/>
<path fill="#66bd46" d="M478.7 75.36l1.45 -2.6h-2.9zM482.65 79.45l1.45 -2.6h-2.9zM486.55 83.53l1.45 -2.6h-2.9zM490.31 87.69l1.45 -2.6h-2.9zM493.85 91.95l1.45 -2.6h-2.9zM497.26 96.26l1.45 -2.6h-2.9zM500.6 100.58l1.45 -2.6h-2.9zM503.92 104.86l1.45 -2.6h-2.9zM507.18 109.13l1.45 -2.6h-2.9zM510.39 113.38l1.45 -2.6h-2.9zM513.59 117.59l1.45 -2.6h-2.9zM516.81 121.73l1.45 -2.6h-2.9zM520.08 125.78l1.45 -2.6h-2.9zM523.36 129.75l1.45 -2.6h-2.9zM526.67 133.65l1.45 -2.6h-2.9zM530.02 137.44l1.45 -2.6h-2.9zM533.42 141.11l1.45 -2.6h-2.9zM536.85 144.67l1.45 -2.6h-2.9zM540.33 148.1l1.45 -2.6h-2.9zM543.86 151.37l1.45 -2.6h-2.9zM547.48 154.45l1.45 -2.6h-2.9zM551.15 157.32l1.45 -2.6h-2.9zM554.86 159.97l1.45 -2.6h-2.9zM558.61 162.37l1.45 -2.6h-2.9zM562.4 164.41l1.45 -2.6h-2.9zM566.19 166.03l1.45 -2.6h-2.9zM569.76 167.39l1.45 -2.6h-2.9zM572.7 168.49l1.45 -2.6h-2.9z"/>
<path fill="#2646a0" d="M464.4 70.26l1.45 2.6h-2.9zM468.76 73.78l1.45 2.6h-2.9zM473.05 77.33l1.45 2.6h-2.9zM477.16 81.01l1.45 2.6h-2.9zM481.14 84.76l1.45 2.6h-2.9zM484.99 88.57l1.45 2.6h-2.9zM488.7 92.45l1.45 2.6h-2.9zM492.23 96.42l1.45 2.6h-2.9zM495.64 100.43l1.45 2.6h-2.9zM498.97 104.44l1.45 2.6h-2.9zM502.3 108.41l1.45 2.6h-2.9zM505.63 112.32l1.45 2.6h-2.9zM508.93 116.19l1.45 2.6h-2.9zM512.19 120.02l1.45 2.6h-2.9zM515.42 123.82l1.45 2.6h-2.9zM518.6 127.58l1.45 2.6h-2.9zM521.69 131.32l1.45 2.6h-2.9zM524.74 135.01l1.45 2.6h-2.9zM527.82 138.6l1.45 2.6h-2.9zM530.97 142.04l1.45 2.6h-2.9zM534.21 145.29l1.45 2.6h-2.9zM537.48 148.4l1.45 2.6h-2.9zM540.77 151.32l1.45 2.6h-2.9zM544.08 154.05l1.45 2.6h-2.9zM547.45 156.48l1.45 2.6h-2.9zM550.84 158.56l1.45 2.6h-2.9zM554.06 160.36l1.45 2.6h-2.9zM556.7 161.84l1.45 2.6h-2.9z"/>
<path fill="#2646a0" d="M469.7 60.99h2v2h-2zM474.1 64.96h2v2h-2zM478.46 68.93h2v2h-2zM482.74 72.93h2v2h-2zM486.96 76.92h2v2h-2zM491.11 80.92h2v2h-2zM495.11 85.01h2v2h-2zM498.91 89.19h2v2h-2zM502.58 93.43h2v2h-2zM506.13 97.69h2v2h-2zM509.6 101.95h2v2h-2zM512.95 106.23h2v2h-2zM516.19 110.53h2v2h-2zM519.39 114.79h2v2h-2zM522.61 118.97h2v2h-2zM525.88 123.03h2v2h-2zM529.17 127.02h2v2h-2zM532.46 130.91h2v2h-2zM535.79 134.68h2v2h-2zM539.16 138.32h2v2h-2zM542.57 141.81h2v2h-2zM546 145.15h2v2h-2zM549.4 148.35h2v2h-2zM552.75 151.42h2v2h-2zM556.07 154.29h2v2h-2zM559.27 156.96h2v2h-2zM562.25 159.41h2v2h-2zM564.7 161.43h2v2h-2z"/>
<path fill="#2646a0" d="M466.6 66.56a1.1 1.1 0 1 0 2.2 0a1.1 1.1 0 1 0 -2.2 0zM471.45 70.49a1.1 1.1 0 1 0 2.2 0a1.1 1.1 0 1 0 -2.2 0zM476.21 74.46a1.1 1.1 0 1 0 2.2 0a1.1 1.1 0 1 0 -2.2 0zM480.74 78.61a1.1 1.1 0 1 0 2.2 0a1.1 1.1 0 1 0 -2.2 0zM485.03 82.91a1.1 1.1 0 1 0 2.2 0a1.1 1.1 0 1 0 -2.2 0zM489.17 87.28a1.1 1.1 0 1 0 2.2 0a1.1 1.1 0 1 0 -2.2 0zM493.2 91.68a1.1 1.1 0 1 0 2.2 0a1.1 1.1 0 1 0 -2.2 0zM497.14 96.11a1.1 1.1 0 1 0 2.2 0a1.1 1.1 0 1 0 -2.2 0zM500.97 100.55a1.1 1.1 0 1 0 2.2 0a1.1 1.1 0 1 0 -2.2 0zM504.71 105.01a1.1 1.1 0 1 0 2.2 0a1.1 1.1 0 1 0 -2.2 0zM508.34 109.48a1.1 1.1 0 1 0 2.2 0a1.1 1.1 0 1 0 -2.2 0zM511.82 113.99a1.1 1.1 0 1 0 2.2 0a1.1 1.1 0 1 0 -2.2 0zM515.21 118.5a1.1 1.1 0 1 0 2.2 0a1.1 1.1 0 1 0 -2.2 0zM518.57 122.95a1.1 1.1 0 1 0 2.2 0a1.1 1.1 0 1 0 -2.2 0zM521.99 127.3a1.1 1.1 0 1 0 2.2 0a1.1 1.1 0 1 0 -2.2 0zM525.44 131.55a1.1 1.1 0 1 0 2.2 0a1.1 1.1 0 1 0 -2.2 0zM528.89 135.72a1.1 1.1 0 1 0 2.2 0a1.1 1.1 0 1 0 -2.2 0zM532.39 139.77a1.1 1.1 0 1 0 2.2 0a1.1 1.1 0 1 0 -2.2 0zM535.98 143.65a1.1 1.1 0 1 0 2.2 0a1.1 1.1 0 1 0 -2.2 0zM539.66 147.34a1.1 1.1 0 1 0 2.2 0a1.1 1.1 0 1 0 -2.2 0zM543.42 150.84a1.1 1.1 0 1 0 2.2 0a1.1 1.1 0 1 0 -2.2 0zM547.24 154.13a1.1 1.1 0 1 0 2.2 0a1.1 1.1 0 1 0 -2.2 0zM551.12 157.19a1.1 1.1 0 1 0 2.2 0a1.1 1.1 0 1 0 -2.2 0zM555.08 159.93a1.1 1.1 0 1 0 2.2 0a1.1 1.1 0 1 0 -2.2 0zM559.02 162.42a1.1 1.1 0 1 0 2.2 0a1.1 1.1 0 1 0 -2.2 0zM562.82 164.7a1.1 1.1 0 1 0 2.2 0a1.1 1.1 0 1 0 -2.2 0zM566.43 166.66a1.1 1.1 0 1 0 2.2 0a1.1 1.1 0 1 0 -2.2 0zM569.6 167.9a1.1 1.1 0 1 0 2.2 0a1.1 1.1 0 1 0 -2.2 0z"/>
<path fill="#2646a0" d="M484.6 70.32h2.2v1.6h-2.2zM489.46 74.56h2.2v1.6h-2.2zM494.21 78.84h2.2v1.6h-2.2zM498.67 83.33h2.2v1.6h-2.2zM502.83 88.01h2.2v1.6h-2.2zM506.82 92.75h2.2v1.6h-2.2zM510.71 97.52h2.2v1.6h-2.2zM514.51 102.3h2.2v1.6h-2.2zM518.19 107.1h2.2v1.6h-2.2zM521.8 111.88h2.2v1.6h-2.2zM525.4 116.62h2.2v1.6h-2.2zM528.95 121.32h2.2v1.6h-2.2zM532.45 125.99h2.2v1.6h-2.2zM535.96 130.59h2.2v1.6h-2.2zM539.53 135.07h2.2v1.6h-2.2zM543.2 139.4h2.2v1.6h-2.2zM546.93 143.61h2.2v1.6h-2.2zM550.71 147.69h2.2v1.6h-2.2zM554.54 151.61h2.2v1.6h-2.2zM558.41 155.39h2.2v1.6h-2.2zM562.32 159h2.2v1.6h-2.2zM566.28 162.4h2.2v1.6h-2.2zM570.35 165.5h2.2v1.6h-2.2zM574.61 168.14h2.2v1.6h-2.2zM579.03 170.18h2.2v1.6h-2.2zM583.47 171.61h2.2v1.6h-2.2zM587.66 172.71h2.2v1.6h-2.2zM591.1 173.59h2.2v1.6h-2.2z"/>
<path fill="#2646a0" d="M457.6 63.93h2.2v1.6h-2.2zM461.79 67.66h2.2v1.6h-2.2zM465.92 71.39h2.2v1.6h-2.2zM469.91 75.2h2.2v1.6h-2.2zM473.75 79.1h2.2v1.6h-2.2zM477.47 83.05h2.2v1.6h-2.2zM481.13 87h2.2v1.6h-2.2zM484.76 90.92h2.2v1.6h-2.2zM488.33 94.84h2.2v1.6h-2.2zM491.85 98.75h2.2v1.6h-2.2zM495.31 102.64h2.2v1.6h-2.2zM498.7 106.54h2.2v1.6h-2.2zM501.98 110.44h2.2v1.6h-2.2zM505.22 114.32h2.2v1.6h-2.2zM508.47 118.13h2.2v1.6h-2.2zM511.77 121.82h2.2v1.6h-2.2zM515.11 125.41h2.2v1.6h-2.2zM518.47 128.9h2.2v1.6h-2.2zM521.81 132.31h2.2v1.6h-2.2zM525.1 135.66h2.2v1.6h-2.2zM528.33 138.95h2.2v1.6h-2.2zM531.5 142.16h2.2v1.6h-2.2zM534.66 145.24h2.2v1.6h-2.2zM537.83 148.13h2.2v1.6h-2.2zM541.04 150.75h2.2v1.6h-2.2zM544.2 153.14h2.2v1.6h-2.2zM547.17 155.29h2.2v1.6h-2.2zM549.6 157.06h2.2v1.6h-2.2z"/>
<path fill="none" stroke="#2646a0" stroke-width="0.8" d="M489.6 80.07l2.2 2.2M491.8 80.07l-2.2 2.2M493.27 83.54l2.2 2.2M495.47 83.54l-2.2 2.2M496.94 86.97l2.2 2.2M499.14 86.97l-2.2 2.2M500.71 90.29l2.2 2.2M502.91 90.29l-2.2 2.2M504.59 93.43l2.2 2.2M506.79 93.43l-2.2 2.2M508.55 96.45l2.2 2.2M510.75 96.45l-2.2 2.2M512.74 99.15l2.2 2.2M514.94 99.15l-2.2 2.2M517.22 101.33l2.2 2.2M519.42 101.33l-2.2 2.2M521.92 103.03l2.2 2.2M524.12 103.03l-2.2 2.2M526.64 104.54l2.2 2.2M528.84 104.54l-2.2 2.2M531.29 106.14l2.2 2.2M533.49 106.14l-2.2 2.2M535.74 108.06l2.2 2.2M537.94 108.06l-2.2 2.2M540.05 110.16l2.2 2.2M542.25 110.16l-2.2 2.2M544.35 112.17l2.2 2.2M546.55 112.17l-2.2 2.2M548.86 113.56l2.2 2.2M551.06 113.56l-2.2 2.2M553.53 114.19l2.2 2.2M555.73 114.19l-2.2 2.2M557.92 115.55l2.2 2.2M560.12 115.55l-2.2 2.2M561.66 118l2.2 2.2M563.86 118l-2.2 2.2M565.25 120.51l2.2 2.2M567.45 120.51l-2.2 2.2M569.11 122.56l2.2 2.2M571.31 122.56l-2.2 2.2M572.43 125.13l2.2 2.2M574.63 125.13l-2.2 2.2M575.21 128.11l2.2 2.2M577.41 128.11l-2.2 2.2M577.68 131.18l2.2 2.2M579.88 131.18l-2.2 2.2M579.84 134.31l2.2 2.2M582.04 134.31l-2.2 2.2M581.61 137.48l2.2 2.2M583.81 137.48l-2.2 2.2M583.14 140.57l2.2 2.2M585.34 140.57l-2.2 2.2M584.49 143.45l2.2 2.2M586.69 143.45l-2.2 2.2M585.6 145.8l2.2 2.2M587.8 145.8l-2.2 2.2"/>
<path fill="none" stroke="#7840ae" stroke-width="0.8" d="M462.4 54.83l1.4 2.5h-2.8zM465.9 59.32l1.4 2.5h-2.8zM469.36 63.8l1.4 2.5h-2.8zM472.73 68.29l1.4 2.5h-2.8zM475.95 72.83l1.4 2.5h-2.8zM479.18 77.33l1.4 2.5h-2.8zM482.6 81.66l1.4 2.5h-2.8zM486.29 85.75l1.4 2.5h-2.8zM490.08 89.71l1.4 2.5h-2.8zM493.84 93.65l1.4 2.5h-2.8zM497.57 97.55l1.4 2.5h-2.8zM501.27 101.41l1.4 2.5h-2.8zM504.95 105.23l1.4 2.5h-2.8zM508.57 109.02l1.4 2.5h-2.8zM512.13 112.8l1.4 2.5h-2.8zM515.65 116.53l1.4 2.5h-2.8zM519.19 120.16l1.4 2.5h-2.8zM522.78 123.66l1.4 2.5h-2.8zM526.4 127.03l1.4 2.5h-2.8zM530.03 130.3l1.4 2.5h-2.8zM533.6 133.48l1.4 2.5h-2.8zM537.1 136.59l1.4 2.5h-2.8zM540.5 139.64l1.4 2.5h-2.8zM543.85 142.55l1.4 2.5h-2.8zM547.19 145.24l1.4 2.5h-2.8zM550.59 147.54l1.4 2.5h-2.8zM553.93 149.41l1.4 2.5h-2.8zM556.7 150.88l1.4 2.5h-2.8z"/>
<path fill="none" stroke="#7840ae" stroke-width="0.8" d="M452.65 48.3a1.05 1.05 0 1 0 2.1 0a1.05 1.05 0 1 0 -2.1 0zM456.52 52.73a1.05 1.05 0 1 0 2.1 0a1.05 1.05 0 1 0 -2.1 0zM460.34 57.15a1.05 1.05 0 1 0 2.1 0a1.05 1.05 0 1 0 -2.1 0zM464.07 61.6a1.05 1.05 0 1 0 2.1 0a1.05 1.05 0 1 0 -2.1 0zM467.67 66.09a1.05 1.05 0 1 0 2.1 0a1.05 1.05 0 1 0 -2.1 0zM471.17 70.6a1.05 1.05 0 1 0 2.1 0a1.05 1.05 0 1 0 -2.1 0zM474.59 75.12a1.05 1.05 0 1 0 2.1 0a1.05 1.05 0 1 0 -2.1 0zM477.9 79.66a1.05 1.05 0 1 0 2.1 0a1.05 1.05 0 1 0 -2.1 0zM481.16 84.18a1.05 1.05 0 1 0 2.1 0a1.05 1.05 0 1 0 -2.1 0zM484.45 88.63a1.05 1.05 0 1 0 2.1 0a1.05 1.05 0 1 0 -2.1 0zM487.73 93.04a1.05 1.05 0 1 0 2.1 0a1.05 1.05 0 1 0 -2.1 0zM491.02 97.38a1.05 1.05 0 1 0 2.1 0a1.05 1.05 0 1 0 -2.1 0zM494.4 101.6a1.05 1.05 0 1 0 2.1 0a1.05 1.05 0 1 0 -2.1 0zM497.92 105.66a1.05 1.05 0 1 0 2.1 0a1.05 1.05 0 1 0 -2.1 0zM501.53 109.58a1.05 1.05 0 1 0 2.1 0a1.05 1.05 0 1 0 -2.1 0zM505.21 113.36a1.05 1.05 0 1 0 2.1 0a1.05 1.05 0 1 0 -2.1 0zM508.95 117.02a1.05 1.05 0 1 0 2.1 0a1.05 1.05 0 1 0 -2.1 0zM512.76 120.51a1.05 1.05 0 1 0 2.1 0a1.05 1.05 0 1 0 -2.1 0zM516.64 123.83a1.05 1.05 0 1 0 2.1 0a1.05 1.05 0 1 0 -2.1 0zM520.52 127.04a1.05 1.05 0 1 0 2.1 0a1.05 1.05 0 1 0 -2.1 0zM524.32 130.19a1.05 1.05 0 1 0 2.1 0a1.05 1.05 0 1 0 -2.1 0zM528 133.33a1.05 1.05 0 1 0 2.1 0a1.05 1.05 0 1 0 -2.1 0zM531.58 136.39a1.05 1.05 0 1 0 2.1 0a1.05 1.05 0 1 0 -2.1 0zM535.07 139.33a1.05 1.05 0 1 0 2.1 0a1.05 1.05 0 1 0 -2.1 0zM538.51 142.1a1.05 1.05 0 1 0 2.1 0a1.05 1.05 0 1 0 -2.1 0zM541.87 144.62a1.05 1.05 0 1 0 2.1 0a1.05 1.05 0 1 0 -2.1 0zM545.04 146.88a1.05 1.05 0 1 0 2.1 0a1.05 1.05 0 1 0 -2.1 0zM547.65 148.73a1.05 1.05 0 1 0 2.1 0a1.05 1.05 0 1 0 -2.1 0z"/>
<path fill="none" stroke="#7840ae" stroke-width="0.8" d="M435.6 40.35h2.8M437 38.95v2.8M438.95 43.03h2.8M440.35 41.63v2.8M442.26 45.71h2.8M443.66 44.31v2.8M445.49 48.45h2.8M446.89 47.05v2.8M448.61 51.24h2.8M450.01 49.84v2.8M451.62 54.1h2.8M453.02 52.7v2.8M454.48 57.06h2.8M455.88 55.66v2.8M457.21 60.07h2.8M458.61 58.67v2.8M459.85 63.12h2.8M461.25 61.72v2.8M462.44 66.16h2.8M463.84 64.76v2.8M464.98 69.2h2.8M466.38 67.8v2.8M467.47 72.22h2.8M468.87 70.82v2.8M469.92 75.24h2.8M471.32 73.84v2.8M472.31 78.24h2.8M473.71 76.84v2.8M474.65 81.23h2.8M476.05 79.83v2.8M476.92 84.22h2.8M478.32 82.82v2.8M479.11 87.2h2.8M480.51 85.8v2.8M481.25 90.15h2.8M482.65 88.75v2.8M483.34 93.06h2.8M484.74 91.66v2.8M485.41 95.92h2.8M486.81 94.52v2.8M487.46 98.72h2.8M488.86 97.32v2.8M489.48 101.45h2.8M490.88 100.05v2.8M491.44 104.12h2.8M492.84 102.72v2.8M493.3 106.73h2.8M494.7 105.33v2.8M495.03 109.28h2.8M496.43 107.88v2.8M496.63 111.72h2.8M498.03 110.32v2.8M498.1 114h2.8M499.5 112.6v2.8M499.3 115.86h2.8M500.7 114.46v2.8"/>
<path fill="#7840ae" d="M448 44.55a1.1 1.1 0 1 0 2.2 0a1.1 1.1 0 1 0 -2.2 0zM450.69 47.59a1.1 1.1 0 1 0 2.2 0a1.1 1.1 0 1 0 -2.2 0zM453.36 50.61a1.1 1.1 0 1 0 2.2 0a1.1 1.1 0 1 0 -2.2 0zM456.01 53.62a1.1 1.1 0 1 0 2.2 0a1.1 1.1 0 1 0 -2.2 0zM458.62 56.63a1.1 1.1 0 1 0 2.2 0a1.1 1.1 0 1 0 -2.2 0zM461.17 59.64a1.1 1.1 0 1 0 2.2 0a1.1 1.1 0 1 0 -2.2 0zM463.62 62.69a1.1 1.1 0 1 0 2.2 0a1.1 1.1 0 1 0 -2.2 0zM465.99 65.77a1.1 1.1 0 1 0 2.2 0a1.1 1.1 0 1 0 -2.2 0zM468.3 68.84a1.1 1.1 0 1 0 2.2 0a1.1 1.1 0 1 0 -2.2 0zM470.6 71.89a1.1 1.1 0 1 0 2.2 0a1.1 1.1 0 1 0 -2.2 0zM472.94 74.87a1.1 1.1 0 1 0 2.2 0a1.1 1.1 0 1 0 -2.2 0zM475.33 77.78a1.1 1.1 0 1 0 2.2 0a1.1 1.1 0 1 0 -2.2 0zM477.75 80.63a1.1 1.1 0 1 0 2.2 0a1.1 1.1 0 1 0 -2.2 0zM480.16 83.43a1.1 1.1 0 1 0 2.2 0a1.1 1.1 0 1 0 -2.2 0zM482.57 86.2a1.1 1.1 0 1 0 2.2 0a1.1 1.1 0 1 0 -2.2 0zM484.95 88.92a1.1 1.1 0 1 0 2.2 0a1.1 1.1 0 1 0 -2.2 0zM487.3 91.62a1.1 1.1 0 1 0 2.2 0a1.1 1.1 0 1 0 -2.2 0zM489.63 94.27a1.1 1.1 0 1 0 2.2 0a1.1 1.1 0 1 0 -2.2 0zM491.95 96.86a1.1 1.1 0 1 0 2.2 0a1.1 1.1 0 1 0 -2.2 0zM494.14 99.48a1.1 1.1 0 1 0 2.2 0a1.1 1.1 0 1 0 -2.2 0zM496.1 102.17a1.1 1.1 0 1 0 2.2 0a1.1 1.1 0 1 0 -2.2 0zM497.89 104.88a1.1 1.1 0 1 0 2.2 0a1.1 1.1 0 1 0 -2.2 0zM499.64 107.52a1.1 1.1 0 1 0 2.2 0a1.1 1.1 0 1 0 -2.2 0zM501.36 110.06a1.1 1.1 0 1 0 2.2 0a1.1 1.1 0 1 0 -2.2 0zM502.81 112.62a1.1 1.1 0 1 0 2.2 0a1.1 1.1 0 1 0 -2.2 0zM503.91 115.17a1.1 1.1 0 1 0 2.2 0a1.1 1.1 0 1 0 -2.2 0zM504.85 117.55a1.1 1.1 0 1 0 2.2 0a1.1 1.1 0 1 0 -2.2 0zM505.6 119.51a1.1 1.1 0 1 0 2.2 0a1.1 1.1 0 1 0 -2.2 0z"/>
<path fill="none" stroke="#7840ae" stroke-width="0.8" d="M406.5 143.87l1.3 1.3l-1.3 1.3l-1.3 -1.3zM410.58 144.81l1.3 1.3l-1.3 1.3l-1.3 -1.3zM414.62 145.82l1.3 1.3l-1.3 1.3l-1.3 -1.3zM418.57 147.03l1.3 1.3l-1.3 1.3l-1.3 -1.3zM422.43 148.38l1.3 1.3l-1.3 1.3l-1.3 -1.3zM426.23 149.83l1.3 1.3l-1.3 1.3l-1.3 -1.3zM429.93 151.39l1.3 1.3l-1.3 1.3l-1.3 -1.3zM433.55 153.06l1.3 1.3l-1.3 1.3l-1.3 -1.3zM437.13 154.74l1.3 1.3l-1.3 1.3l-1.3 -1.3zM440.69 156.38l1.3 1.3l-1.3 1.3l-1.3 -1.3zM444.22 158.01l1.3 1.3l-1.3 1.3l-1.3 -1.3zM447.72 159.63l1.3 1.3l-1.3 1.3l-1.3 -1.3zM451.2 161.22l1.3 1.3l-1.3 1.3l-1.3 -1.3zM454.64 162.79l1.3 1.3l-1.3 1.3l-1.3 -1.3zM458.04 164.34l1.3 1.3l-1.3 1.3l-1.3 -1.3zM461.41 165.88l1.3 1.3l-1.3 1.3l-1.3 -1.3zM464.74 167.38l1.3 1.3l-1.3 1.3l-1.3 -1.3zM468.03 168.87l1.3 1.3l-1.3 1.3l-1.3 -1.3zM471.26 170.34l1.3 1.3l-1.3 1.3l-1.3 -1.3zM474.44 171.78l1.3 1.3l-1.3 1.3l-1.3 -1.3zM477.56 173.2l1.3 1.3l-1.3 1.3l-1.3 -1.3zM480.61 174.59l1.3 1.3l-1.3 1.3l-1.3 -1.3zM483.59 175.95l1.3 1.3l-1.3 1.3l-1.3 -1.3zM486.47 177.27l1.3 1.3l-1.3 1.3l-1.3 -1.3zM489.24 178.56l1.3 1.3l-1.3 1.3l-1.3 -1.3zM491.87 179.78l1.3 1.3l-1.3 1.3l-1.3 -1.3zM494.31 180.92l1.3 1.3l-1.3 1.3l-1.3 -1.3zM496.3 181.85l1.3 1.3l-1.3 1.3l-1.3 -1.3z"/>
<path fill="#e6df1c" d="M466 43.97l1.45 2.6h-2.9zM469.85 48.25l1.45 2.6h-2.9zM473.55 52.6l1.45 2.6h-2.9zM477.17 56.97l1.45 2.6h-2.9zM481.35 60.85l1.45 2.6h-2.9zM485.91 64.3l1.45 2.6h-2.9zM490.06 68.1l1.45 2.6h-2.9zM493.7 72.28l1.45 2.6h-2.9zM497.08 76.58l1.45 2.6h-2.9zM500.3 80.93l1.45 2.6h-2.9zM503.35 85.33l1.45 2.6h-2.9zM506.24 89.77l1.45 2.6h-2.9zM509 94.22l1.45 2.6h-2.9zM511.67 98.66l1.45 2.6h-2.9zM514.14 103.13l1.45 2.6h-2.9zM516.54 107.57l1.45 2.6h-2.9zM519.06 111.89l1.45 2.6h-2.9zM521.88 115.97l1.45 2.6h-2.9zM524.95 119.8l1.45 2.6h-2.9zM528.19 123.43l1.45 2.6h-2.9zM531.51 126.87l1.45 2.6h-2.9zM534.89 130.13l1.45 2.6h-2.9zM538.36 133.15l1.45 2.6h-2.9zM541.86 135.95l1.45 2.6h-2.9zM545.31 138.55l1.45 2.6h-2.9zM548.74 140.86l1.45 2.6h-2.9zM552.01 142.86l1.45 2.6h-2.9zM554.7 144.49l1.45 2.6h-2.9z"/>
<path fill="#e6df1c" d="M445.5 43.55h2v2h-2zM449.53 47.89h2v2h-2zM453.79 52h2v2h-2zM458.17 55.95h2v2h-2zM462.52 59.88h2v2h-2zM466.84 63.79h2v2h-2zM471.04 67.75h2v2h-2zM475.16 71.72h2v2h-2zM479.19 75.73h2v2h-2zM483.06 79.8h2v2h-2zM486.78 83.93h2v2h-2zM490.4 88.06h2v2h-2zM494 92.16h2v2h-2zM497.6 96.19h2v2h-2zM501.18 100.16h2v2h-2zM504.69 104.1h2v2h-2zM508.1 108.03h2v2h-2zM511.3 112.04h2v2h-2zM514.37 116.03h2v2h-2zM517.53 119.86h2v2h-2zM520.96 123.37h2v2h-2zM524.65 126.51h2v2h-2zM528.43 129.39h2v2h-2zM532.2 132.07h2v2h-2zM535.88 134.58h2v2h-2zM539.49 136.82h2v2h-2zM542.9 138.8h2v2h-2zM545.7 140.43h2v2h-2z"/>
<path fill="#e6df1c" d="M453.9 83.9a1.1 1.1 0 1 0 2.2 0a1.1 1.1 0 1 0 -2.2 0zM457.42 86.49a1.1 1.1 0 1 0 2.2 0a1.1 1.1 0 1 0 -2.2 0zM460.97 89.01a1.1 1.1 0 1 0 2.2 0a1.1 1.1 0 1 0 -2.2 0zM464.77 91.14a1.1 1.1 0 1 0 2.2 0a1.1 1.1 0 1 0 -2.2 0zM468.66 93.07a1.1 1.1 0 1 0 2.2 0a1.1 1.1 0 1 0 -2.2 0zM472.03 95.66a1.1 1.1 0 1 0 2.2 0a1.1 1.1 0 1 0 -2.2 0zM475.15 98.46a1.1 1.1 0 1 0 2.2 0a1.1 1.1 0 1 0 -2.2 0zM478.13 101.35a1.1 1.1 0 1 0 2.2 0a1.1 1.1 0 1 0 -2.2 0zM480.6 104.57a1.1 1.1 0 1 0 2.2 0a1.1 1.1 0 1 0 -2.2 0zM482.53 108.06a1.1 1.1 0 1 0 2.2 0a1.1 1.1 0 1 0 -2.2 0zM484.95 111.23a1.1 1.1 0 1 0 2.2 0a1.1 1.1 0 1 0 -2.2 0zM488.1 113.76a1.1 1.1 0 1 0 2.2 0a1.1 1.1 0 1 0 -2.2 0zM491.44 116.05a1.1 1.1 0 1 0 2.2 0a1.1 1.1 0 1 0 -2.2 0zM494.8 118.24a1.1 1.1 0 1 0 2.2 0a1.1 1.1 0 1 0 -2.2 0zM498.16 120.36a1.1 1.1 0 1 0 2.2 0a1.1 1.1 0 1 0 -2.2 0zM501.36 122.6a1.1 1.1 0 1 0 2.2 0a1.1 1.1 0 1 0 -2.2 0zM504.42 124.93a1.1 1.1 0 1 0 2.2 0a1.1 1.1 0 1 0 -2.2 0zM507.6 127.03a1.1 1.1 0 1 0 2.2 0a1.1 1.1 0 1 0 -2.2 0zM511.07 128.6a1.1 1.1 0 1 0 2.2 0a1.1 1.1 0 1 0 -2.2 0zM514.61 129.87a1.1 1.1 0 1 0 2.2 0a1.1 1.1 0 1 0 -2.2 0zM518.01 131.29a1.1 1.1 0 1 0 2.2 0a1.1 1.1 0 1 0 -2.2 0zM521.27 132.81a1.1 1.1 0 1 0 2.2 0a1.1 1.1 0 1 0 -2.2 0zM524.42 134.34a1.1 1.1 0 1 0 2.2 0a1.1 1.1 0 1 0 -2.2 0zM527.45 135.87a1.1 1.1 0 1 0 2.2 0a1.1 1.1 0 1 0 -2.2 0zM530.33 137.4a1.1 1.1 0 1 0 2.2 0a1.1 1.1 0 1 0 -2.2 0zM533.05 138.89a1.1 1.1 0 1 0 2.2 0a1.1 1.1 0 1 0 -2.2 0zM535.55 140.28a1.1 1.1 0 1 0 2.2 0a1.1 1.1 0 1 0 -2.2 0zM537.6 141.43a1.1 1.1 0 1 0 2.2 0a1.1 1.1 0 1 0 -2.2 0z"/>
<path fill="#e6df1c" d="M459.2 30.15h2.2v1.6h-2.2zM464.09 34.57h2.2v1.6h-2.2zM468.5 39.34h2.2v1.6h-2.2zM473.02 43.97h2.2v1.6h-2.2zM477.75 48.39h2.2v1.6h-2.2zM482.23 52.95h2.2v1.6h-2.2zM486.54 57.6h2.2v1.6h-2.2zM490.57 62.4h2.2v1.6h-2.2zM494.32 67.32h2.2v1.6h-2.2zM497.87 72.32h2.2v1.6h-2.2zM501.21 77.37h2.2v1.6h-2.2zM504.38 82.45h2.2v1.6h-2.2zM507.41 87.55h2.2v1.6h-2.2zM510.34 92.63h2.2v1.6h-2.2zM513.1 97.72h2.2v1.6h-2.2zM515.77 102.77h2.2v1.6h-2.2zM518.5 107.72h2.2v1.6h-2.2zM521.41 112.5h2.2v1.6h-2.2zM524.45 117.12h2.2v1.6h-2.2zM527.6 121.56h2.2v1.6h-2.2zM530.89 125.81h2.2v1.6h-2.2zM534.33 129.81h2.2v1.6h-2.2zM537.91 133.54h2.2v1.6h-2.2zM541.68 136.9h2.2v1.6h-2.2zM545.71 139.71h2.2v1.6h-2.2zM549.68 142.22h2.2v1.6h-2.2zM553.46 144.39h2.2v1.6h-2.2zM556.6 146.1h2.2v1.6h-2.2z"/>
<path fill="#e6df1c" d="M476.1 41.56h2.2v1.6h-2.2zM480.56 45.56h2.2v1.6h-2.2zM484.71 49.77h2.2v1.6h-2.2zM488.75 54.04h2.2v1.6h-2.2zM492.75 58.29h2.2v1.6h-2.2zM496.75 62.49h2.2v1.6h-2.2zM500.55 66.79h2.2v1.6h-2.2zM504.05 71.26h2.2v1.6h-2.2zM507.43 75.75h2.2v1.6h-2.2zM510.89 80.13h2.2v1.6h-2.2zM514.42 84.42h2.2v1.6h-2.2zM517.94 88.65h2.2v1.6h-2.2zM521.38 92.87h2.2v1.6h-2.2zM524.54 97.21h2.2v1.6h-2.2zM527.52 101.59h2.2v1.6h-2.2zM530.88 105.65h2.2v1.6h-2.2zM535.16 108.8h2.2v1.6h-2.2zM540.01 111.03h2.2v1.6h-2.2zM545.02 112.77h2.2v1.6h-2.2zM550.08 114.06h2.2v1.6h-2.2zM555.18 114.8h2.2v1.6h-2.2zM559.66 116.88h2.2v1.6h-2.2zM563.53 119.68h2.2v1.6h-2.2zM567.43 122.22h2.2v1.6h-2.2zM571.27 124.54h2.2v1.6h-2.2zM575.08 126.51h2.2v1.6h-2.2zM578.66 128.25h2.2v1.6h-2.2zM581.6 129.67h2.2v1.6h-2.2z"/>
<path fill="none" stroke="#f4b6c6" stroke-width="0.8" d="M552.3 97.47l1.4 2.5h-2.8zM554.88 99.94l1.4 2.5h-2.8zM557.48 102.36l1.4 2.5h-2.8zM560.25 104.58l1.4 2.5h-2.8zM563.23 106.55l1.4 2.5h-2.8zM565.95 108.75l1.4 2.5h-2.8zM568.39 111.19l1.4 2.5h-2.8zM570.65 113.75l1.4 2.5h-2.8zM572.69 116.42l1.4 2.5h-2.8zM574.49 119.2l1.4 2.5h-2.8zM576.14 122.03l1.4 2.5h-2.8zM577.76 124.84l1.4 2.5h-2.8zM579.21 127.7l1.4 2.5h-2.8zM580.77 130.47l1.4 2.5h-2.8zM582.75 132.96l1.4 2.5h-2.8zM585.13 135.09l1.4 2.5h-2.8zM587.93 136.67l1.4 2.5h-2.8zM590.93 137.81l1.4 2.5h-2.8zM593.93 138.83l1.4 2.5h-2.8zM596.84 139.92l1.4 2.5h-2.8zM599.66 141.08l1.4 2.5h-2.8zM602.44 142.18l1.4 2.5h-2.8zM605.19 143.16l1.4 2.5h-2.8zM607.89 144.02l1.4 2.5h-2.8zM610.51 144.81l1.4 2.5h-2.8zM613 145.54l1.4 2.5h-2.8zM615.31 146.22l1.4 2.5h-2.8zM617.2 146.77l1.4 2.5h-2.8z"/>
<path fill="none" stroke="#f4b6c6" stroke-width="0.8" d="M562.75 118.56h1.9v1.9h-1.9zM565.22 121.35h1.9v1.9h-1.9zM567.68 124.12h1.9v1.9h-1.9zM570.09 126.9h1.9v1.9h-1.9zM572.43 129.7h1.9v1.9h-1.9zM574.67 132.54h1.9v1.9h-1.9zM576.78 135.43h1.9v1.9h-1.9zM578.83 138.33h1.9v1.9h-1.9zM580.83 141.23h1.9v1.9h-1.9zM582.81 144.11h1.9v1.9h-1.9zM584.78 146.96h1.9v1.9h-1.9zM586.66 149.82h1.9v1.9h-1.9zM588.52 152.66h1.9v1.9h-1.9zM590.54 155.37h1.9v1.9h-1.9zM592.74 157.91h1.9v1.9h-1.9zM595.03 160.33h1.9v1.9h-1.9zM597.36 162.68h1.9v1.9h-1.9zM599.69 164.96h1.9v1.9h-1.9zM601.98 167.22h1.9v1.9h-1.9zM604.27 169.4h1.9v1.9h-1.9zM606.62 171.46h1.9v1.9h-1.9zM609.06 173.31h1.9v1.9h-1.9zM611.6 174.94h1.9v1.9h-1.9zM614.17 176.38h1.9v1.9h-1.9zM616.72 177.63h1.9v1.9h-1.9zM619.23 178.65h1.9v1.9h-1.9zM621.6 179.5h1.9v1.9h-1.9zM623.55 180.19h1.9v1.9h-1.9z"/>
<path d="M407.9 156.9L408.2 156.2L408.6 155.2L409.0 154.0L409.5 152.7L410.0 151.3L410.6 149.9L411.2 148.4L411.7 147.0L412.3 145.6L412.8 144.3L413.3 143.2L413.8 142.1L414.3 141.0L414.8 139.9L415.3 138.9L415.8 137.8L416.3 136.8L416.9 135.7L417.4 134.6L418.0 133.5L418.6 132.3L419.2 131.1L419.9 129.9L420.5 128.7L421.2 127.4L421.9 126.2L422.6 125.0L423.3 123.8L423.9 122.6L424.6 121.5L425.3 120.5L425.9 119.5L426.5 118.5L427.2 117.6L427.8 116.7L428.5 115.7L429.1 114.8L429.8 113.9L430.5 112.9L431.2 111.9L431.9 110.9L432.7 109.8L433.5 108.8L434.3 107.7L435.1 106.6L435.9 105.4L436.7 104.3L437.5 103.3L438.3 102.2L439.1 101.2L439.9 100.1L440.7 99.1L441.4 98.1L442.2 97.1L443.0 96.1L443.8 95.1L444.6 94.1L445.3 93.2L446.1 92.3L446.9 91.5L447.7 90.7L448.5 89.9L449.3 89.2L450.1 88.5L450.8 87.8L451.6 87.2L452.4 86.6L453.2 86.0L454.0 85.4L454.8 84.9L455.6 84.4L456.4 84.0L457.2 83.6L458.0 83.2L458.8 82.8L459.5 82.5L460.3 82.2L461.1 81.9L461.9 81.6L462.7 81.3L463.5 81.1L464.3 80.9L465.2 80.6L466.0 80.4L466.8 80.3L467.7 80.1L468.5 80.0L469.2 79.9L469.9 79.8L470.6 79.7L471.2 79.7L471.8 79.7L472.3 79.7L472.8 79.8L473.2 79.9L473.7 80.0L474.1 80.1L474.5 80.2L475.0 80.3L475.4 80.4L475.8 80.5L476.3 80.7L476.7 80.8L477.1 80.9L477.5 81.0L477.9 81.2L478.3 81.3L478.7 81.5L479.1 81.6L479.5 81.8L479.9 82.0L480.3 82.2L480.7 82.4L481.1 82.6L481.5 82.8L481.9 83.0L482.3 83.2L482.7 83.4L483.1 83.7L483.5 83.9L483.9 84.1L484.3 84.4L484.7 84.7L485.2 84.9L485.6 85.2L486.0 85.5L486.4 85.8L486.8 86.0L487.2 86.3L487.6 86.6L488.0 86.8L488.3 87.0L488.7 87.2L489.0 87.4L489.4 87.6L489.7 87.9L490.1 88.1L490.4 88.3L490.8 88.5L491.1 88.7L491.5 89.0L491.8 89.2L492.2 89.5L492.5 89.8L492.9 90.0L493.2 90.3L493.6 90.6L493.9 90.9L494.2 91.1L494.6 91.4L495.0 91.7L495.3 91.9L495.7 92.2L496.0 92.4L496.4 92.7L496.7 92.9L497.1 93.2L497.4 93.5L497.8 93.8L498.1 94.0L498.4 94.3L498.8 94.6L499.1 95.0L499.5 95.3L499.8 95.6L500.2 95.9L500.5 96.3L500.9 96.6L501.2 96.9L501.6 97.2L502.0 97.6L502.3 97.9L502.7 98.2L503.0 98.5L503.4 98.8L503.8 99.2L504.1 99.5L504.5 99.8L504.8 100.1L505.2 100.4L505.6 100.8L505.9 101.1L506.3 101.4L506.6 101.7L507.0 102.0L507.3 102.4L507.7 102.7L508.0 103.0L508.4 103.3L508.7 103.6L509.0 103.9L509.2 104.2L509.4 104.4L509.6 104.6L509.9 104.8L510.1 105.1L510.4 105.4L510.7 105.8L511.2 106.2L511.7 106.7L512.4 107.4L513.1 108.1L513.9 109.0L514.8 109.9L515.7 110.8L516.7 111.7L517.7 112.7L518.7 113.7L519.7 114.6L520.7 115.4L521.7 116.2L522.7 117.0L523.7 117.7L524.8 118.5L525.9 119.2L526.9 120.0L528.0 120.7L529.0 121.5L530.1 122.2L531.1 123.0L532.1 123.8L533.1 124.5L534.0 125.3L534.9 126.1L535.9 126.9L536.8 127.7L537.7 128.5L538.7 129.3L539.7 130.1L540.7 130.9L541.7 131.8L542.8 132.6L543.9 133.5L545.1 134.3L546.2 135.2L547.3 136.1L548.4 136.9L549.5 137.7L550.6 138.4L551.6 139.1L552.6 139.8L553.5 140.4L554.4 140.9L555.3 141.4L556.1 141.9L557.0 142.4L557.9 142.8L558.8 143.3L559.7 143.7L560.7 144.2L561.7 144.6L562.7 145.0L563.6 145.4L564.6 145.8L565.6 146.2L566.7 146.5L567.9 147.0L569.1 147.4L570.5 147.9L572.0 148.5L573.6 149.1L575.3 149.8L577.1 150.5L579.0 151.3L581.0 152.1L583.1 152.9L585.2 153.7L587.5 154.5L589.9 155.2L592.4 155.9L595.2 156.7L598.4 157.4L601.8 158.2L605.4 158.9L609.0 159.7L612.5 160.3L615.8 161.0L618.8 161.6L621.2 162.0L623.1 162.4L623.1 162.4" fill="none" stroke="#333" stroke-width="0.75"/>
<path fill="#000000" d="M124.6 322.9l1.4 1.4l-1.4 1.4l-1.4 -1.4zM128.07 328.1l1.4 1.4l-1.4 1.4l-1.4 -1.4zM131.54 333.27l1.4 1.4l-1.4 1.4l-1.4 -1.4zM134.91 338.45l1.4 1.4l-1.4 1.4l-1.4 -1.4zM138.48 343.44l1.4 1.4l-1.4 1.4l-1.4 -1.4zM142.78 347.76l1.4 1.4l-1.4 1.4l-1.4 -1.4zM147.35 351.75l1.4 1.4l-1.4 1.4l-1.4 -1.4zM151.08 356.46l1.4 1.4l-1.4 1.4l-1.4 -1.4zM154.24 361.53l1.4 1.4l-1.4 1.4l-1.4 -1.4zM157.09 366.72l1.4 1.4l-1.4 1.4l-1.4 -1.4zM159.68 372l1.4 1.4l-1.4 1.4l-1.4 -1.4zM162.05 377.32l1.4 1.4l-1.4 1.4l-1.4 -1.4zM164.41 382.59l1.4 1.4l-1.4 1.4l-1.4 -1.4zM166.98 387.69l1.4 1.4l-1.4 1.4l-1.4 -1.4zM170.03 392.45l1.4 1.4l-1.4 1.4l-1.4 -1.4zM173.44 396.87l1.4 1.4l-1.4 1.4l-1.4 -1.4zM176.85 401.21l1.4 1.4l-1.4 1.4l-1.4 -1.4zM180.32 405.41l1.4 1.4l-1.4 1.4l-1.4 -1.4zM183.65 409.61l1.4 1.4l-1.4 1.4l-1.4 -1.4zM186.87 413.79l1.4 1.4l-1.4 1.4l-1.4 -1.4zM190 417.91l1.4 1.4l-1.4 1.4l-1.4 -1.4zM193 421.99l1.4 1.4l-1.4 1.4l-1.4 -1.4zM195.8 426.06l1.4 1.4l-1.4 1.4l-1.4 -1.4zM198.54 429.99l1.4 1.4l-1.4 1.4l-1.4 -1.4zM201.33 433.67l1.4 1.4l-1.4 1.4l-1.4 -1.4zM204.23 436.96l1.4 1.4l-1.4 1.4l-1.4 -1.4zM207.75 438.87l1.4 1.4l-1.4 1.4l-1.4 -1.4zM211 439.6l1.4 1.4l-1.4 1.4l-1.4 -1.4z"/>
<path fill="#e03c3c" d="M184.8 347.4l1.45 2.6h-2.9zM188.58 351.96l1.45 2.6h-2.9zM192.05 356.73l1.45 2.6h-2.9zM195.58 361.4l1.45 2.6h-2.9zM199.76 365.44l1.45 2.6h-2.9zM204.17 369.18l1.45 2.6h-2.9zM208.16 373.3l1.45 2.6h-2.9zM211.46 377.95l1.45 2.6h-2.9zM214.79 382.53l1.45 2.6h-2.9zM218.02 387.12l1.45 2.6h-2.9zM220.76 391.97l1.45 2.6h-2.9zM223.1 396.96l1.45 2.6h-2.9zM225.27 401.98l1.45 2.6h-2.9zM227.36 406.98l1.45 2.6h-2.9zM229.39 411.93l1.45 2.6h-2.9zM231.3 416.87l1.45 2.6h-2.9zM233.18 421.75l1.45 2.6h-2.9zM235.13 426.53l1.45 2.6h-2.9zM237.24 431.15l1.45 2.6h-2.9zM239.48 435.62l1.45 2.6h-2.9zM241.85 439.91l1.45 2.6h-2.9zM244.5 443.91l1.45 2.6h-2.9zM247.89 447.12l1.45 2.6h-2.9zM251.68 449.6l1.45 2.6h-2.9zM255.61 451.51l1.45 2.6h-2.9zM259.58 452.73l1.45 2.6h-2.9zM263.32 453.61l1.45 2.6h-2.9zM266.4 454.3l1.45 2.6h-2.9z"/>
<path fill="none" stroke="#e03c3c" stroke-width="0.8" d="M161.55 340.45h1.9v1.9h-1.9zM164.65 345.77h1.9v1.9h-1.9zM167.6 351.12h1.9v1.9h-1.9zM170.81 356.27h1.9v1.9h-1.9zM175.29 360.32h1.9v1.9h-1.9zM179.78 364.3h1.9v1.9h-1.9zM184.14 368.37h1.9v1.9h-1.9zM188.32 372.56h1.9v1.9h-1.9zM192.22 376.96h1.9v1.9h-1.9zM195.42 381.82h1.9v1.9h-1.9zM198.48 386.73h1.9v1.9h-1.9zM201.62 391.53h1.9v1.9h-1.9zM204.86 396.19h1.9v1.9h-1.9zM208.15 400.75h1.9v1.9h-1.9zM211.52 405.17h1.9v1.9h-1.9zM215.05 409.39h1.9v1.9h-1.9zM218.68 413.42h1.9v1.9h-1.9zM222.36 417.32h1.9v1.9h-1.9zM226.08 421.06h1.9v1.9h-1.9zM229.88 424.59h1.9v1.9h-1.9zM233.71 427.95h1.9v1.9h-1.9zM237.47 431.21h1.9v1.9h-1.9zM241.4 434.08h1.9v1.9h-1.9zM245.64 436.11h1.9v1.9h-1.9zM249.99 437.42h1.9v1.9h-1.9zM254.21 438.34h1.9v1.9h-1.9zM258.13 439.06h1.9v1.9h-1.9zM261.35 439.65h1.9v1.9h-1.9z"/>
<path fill="none" stroke="#e03c3c" stroke-width="0.8" d="M128.2 321.3h2.8M129.6 319.9v2.8M131.84 326.75h2.8M133.24 325.35v2.8M135.47 332.17h2.8M136.87 330.77v2.8M139.01 337.6h2.8M140.41 336.2v2.8M142.85 342.77h2.8M144.25 341.37v2.8M147.54 347.11h2.8M148.94 345.71v2.8M152.15 351.47h2.8M153.55 350.07v2.8M155.82 356.6h2.8M157.22 355.2v2.8M159 361.99h2.8M160.4 360.59v2.8M161.91 367.49h2.8M163.31 366.09v2.8M164.49 373.08h2.8M165.89 371.68v2.8M166.96 378.67h2.8M168.36 377.27v2.8M169.54 384.14h2.8M170.94 382.74v2.8M172.56 389.31h2.8M173.96 387.91v2.8M176.1 394.06h2.8M177.5 392.66v2.8M179.7 398.69h2.8M181.1 397.29v2.8M183.38 403.15h2.8M184.78 401.75v2.8M186.94 407.61h2.8M188.34 406.21v2.8M190.38 412.06h2.8M191.78 410.66v2.8M193.72 416.47h2.8M195.12 415.07v2.8M196.93 420.85h2.8M198.33 419.45v2.8M199.92 425.23h2.8M201.32 423.83v2.8M202.94 429.44h2.8M204.34 428.04v2.8M206.01 433.42h2.8M207.41 432.02v2.8M209.58 436.65h2.8M210.98 435.25v2.8M213.95 437.94h2.8M215.35 436.54v2.8M218.18 437.68h2.8M219.58 436.28v2.8M221.6 437h2.8M223 435.6v2.8"/>
<path fill="none" stroke="#e03c3c" stroke-width="0.8" d="M133.55 319.3a1.05 1.05 0 1 0 2.1 0a1.05 1.05 0 1 0 -2.1 0zM137.23 324.81a1.05 1.05 0 1 0 2.1 0a1.05 1.05 0 1 0 -2.1 0zM140.89 330.28a1.05 1.05 0 1 0 2.1 0a1.05 1.05 0 1 0 -2.1 0zM144.47 335.76a1.05 1.05 0 1 0 2.1 0a1.05 1.05 0 1 0 -2.1 0zM148.37 340.97a1.05 1.05 0 1 0 2.1 0a1.05 1.05 0 1 0 -2.1 0zM153.14 345.32a1.05 1.05 0 1 0 2.1 0a1.05 1.05 0 1 0 -2.1 0zM157.75 349.77a1.05 1.05 0 1 0 2.1 0a1.05 1.05 0 1 0 -2.1 0zM161.41 354.98a1.05 1.05 0 1 0 2.1 0a1.05 1.05 0 1 0 -2.1 0zM164.6 360.44a1.05 1.05 0 1 0 2.1 0a1.05 1.05 0 1 0 -2.1 0zM167.51 366.01a1.05 1.05 0 1 0 2.1 0a1.05 1.05 0 1 0 -2.1 0zM170.1 371.67a1.05 1.05 0 1 0 2.1 0a1.05 1.05 0 1 0 -2.1 0zM172.6 377.31a1.05 1.05 0 1 0 2.1 0a1.05 1.05 0 1 0 -2.1 0zM175.24 382.82a1.05 1.05 0 1 0 2.1 0a1.05 1.05 0 1 0 -2.1 0zM178.37 387.99a1.05 1.05 0 1 0 2.1 0a1.05 1.05 0 1 0 -2.1 0zM182 392.75a1.05 1.05 0 1 0 2.1 0a1.05 1.05 0 1 0 -2.1 0zM185.64 397.41a1.05 1.05 0 1 0 2.1 0a1.05 1.05 0 1 0 -2.1 0zM189.36 401.92a1.05 1.05 0 1 0 2.1 0a1.05 1.05 0 1 0 -2.1 0zM192.94 406.44a1.05 1.05 0 1 0 2.1 0a1.05 1.05 0 1 0 -2.1 0zM196.4 410.94a1.05 1.05 0 1 0 2.1 0a1.05 1.05 0 1 0 -2.1 0zM199.77 415.4a1.05 1.05 0 1 0 2.1 0a1.05 1.05 0 1 0 -2.1 0zM202.97 419.85a1.05 1.05 0 1 0 2.1 0a1.05 1.05 0 1 0 -2.1 0zM205.99 424.28a1.05 1.05 0 1 0 2.1 0a1.05 1.05 0 1 0 -2.1 0zM209.09 428.5a1.05 1.05 0 1 0 2.1 0a1.05 1.05 0 1 0 -2.1 0zM212.27 432.45a1.05 1.05 0 1 0 2.1 0a1.05 1.05 0 1 0 -2.1 0zM216.16 435.36a1.05 1.05 0 1 0 2.1 0a1.05 1.05 0 1 0 -2.1 0zM220.7 435.89a1.05 1.05 0 1 0 2.1 0a1.05 1.05 0 1 0 -2.1 0zM224.74 434.44a1.05 1.05 0 1 0 2.1 0a1.05 1.05 0 1 0 -2.1 0zM227.95 433a1.05 1.05 0 1 0 2.1 0a1.05 1.05 0 1 0 -2.1 0z"/>
<path fill="none" stroke="#e03c3c" stroke-width="0.8" d="M122 282.2l1.3 1.3l-1.3 1.3l-1.3 -1.3zM124.26 290.08l1.3 1.3l-1.3 1.3l-1.3 -1.3zM126.72 297.84l1.3 1.3l-1.3 1.3l-1.3 -1.3zM131 304.62l1.3 1.3l-1.3 1.3l-1.3 -1.3zM135.58 311.22l1.3 1.3l-1.3 1.3l-1.3 -1.3zM140.04 317.85l1.3 1.3l-1.3 1.3l-1.3 -1.3zM144.77 324.23l1.3 1.3l-1.3 1.3l-1.3 -1.3zM149.17 330.77l1.3 1.3l-1.3 1.3l-1.3 -1.3zM152.82 337.68l1.3 1.3l-1.3 1.3l-1.3 -1.3zM156.16 344.69l1.3 1.3l-1.3 1.3l-1.3 -1.3zM159.66 351.53l1.3 1.3l-1.3 1.3l-1.3 -1.3zM164.52 357.41l1.3 1.3l-1.3 1.3l-1.3 -1.3zM169.5 363.1l1.3 1.3l-1.3 1.3l-1.3 -1.3zM174.33 368.81l1.3 1.3l-1.3 1.3l-1.3 -1.3zM179.07 374.5l1.3 1.3l-1.3 1.3l-1.3 -1.3zM183.66 380.2l1.3 1.3l-1.3 1.3l-1.3 -1.3zM188.17 385.85l1.3 1.3l-1.3 1.3l-1.3 -1.3zM192.58 391.45l1.3 1.3l-1.3 1.3l-1.3 -1.3zM196.92 396.98l1.3 1.3l-1.3 1.3l-1.3 -1.3zM201.36 402.26l1.3 1.3l-1.3 1.3l-1.3 -1.3zM205.91 407.29l1.3 1.3l-1.3 1.3l-1.3 -1.3zM210.47 412.11l1.3 1.3l-1.3 1.3l-1.3 -1.3zM214.95 416.78l1.3 1.3l-1.3 1.3l-1.3 -1.3zM219.32 421.28l1.3 1.3l-1.3 1.3l-1.3 -1.3zM223.66 425.49l1.3 1.3l-1.3 1.3l-1.3 -1.3zM228.06 429.18l1.3 1.3l-1.3 1.3l-1.3 -1.3zM232.39 432.25l1.3 1.3l-1.3 1.3l-1.3 -1.3zM236 434.7l1.3 1.3l-1.3 1.3l-1.3 -1.3z"/>
<path fill="#f59a20" d="M138 320.5l1.45 2.6h-2.9zM141.59 325.92l1.45 2.6h-2.9zM145.18 331.29l1.45 2.6h-2.9zM148.81 336.58l1.45 2.6h-2.9zM152.46 341.81l1.45 2.6h-2.9zM156.04 347.04l1.45 2.6h-2.9zM159.55 352.27l1.45 2.6h-2.9zM163.01 357.48l1.45 2.6h-2.9zM166.41 362.67l1.45 2.6h-2.9zM169.72 367.85l1.45 2.6h-2.9zM173.02 372.99l1.45 2.6h-2.9zM176.36 378.03l1.45 2.6h-2.9zM179.78 382.96l1.45 2.6h-2.9zM183.22 387.79l1.45 2.6h-2.9zM186.63 392.57l1.45 2.6h-2.9zM189.97 397.32l1.45 2.6h-2.9zM193.24 402.03l1.45 2.6h-2.9zM196.48 406.66l1.45 2.6h-2.9zM199.75 411.17l1.45 2.6h-2.9zM203.06 415.53l1.45 2.6h-2.9zM206.38 419.76l1.45 2.6h-2.9zM209.71 423.83l1.45 2.6h-2.9zM213.07 427.7l1.45 2.6h-2.9zM216.47 431.34l1.45 2.6h-2.9zM219.91 434.67l1.45 2.6h-2.9zM223.41 437.59l1.45 2.6h-2.9zM226.98 439.82l1.45 2.6h-2.9zM230 441.5l1.45 2.6h-2.9z"/>
<path fill="#f59a20" d="M129 317h2v2h-2zM132.79 322.47h2v2h-2zM136.63 327.85h2v2h-2zM140.65 333.06h2v2h-2zM144.53 338.31h2v2h-2zM148.08 343.74h2v2h-2zM151.47 349.23h2v2h-2zM154.81 354.69h2v2h-2zM158.11 360.12h2v2h-2zM161.37 365.52h2v2h-2zM164.64 370.84h2v2h-2zM167.97 376.07h2v2h-2zM171.33 381.21h2v2h-2zM174.71 386.25h2v2h-2zM178.14 391.19h2v2h-2zM181.64 396h2v2h-2zM185.18 400.68h2v2h-2zM188.7 405.28h2v2h-2zM192.1 409.85h2v2h-2zM195.38 414.4h2v2h-2zM198.66 418.83h2v2h-2zM202.03 423.03h2v2h-2zM205.55 426.93h2v2h-2zM209.13 430.55h2v2h-2zM212.73 433.89h2v2h-2zM216.35 436.83h2v2h-2zM219.96 439.18h2v2h-2zM223 441h2v2h-2z"/>
<path fill="#f59a20" d="M131.9 313a1.1 1.1 0 1 0 2.2 0a1.1 1.1 0 1 0 -2.2 0zM136.23 318.44a1.1 1.1 0 1 0 2.2 0a1.1 1.1 0 1 0 -2.2 0zM140.31 324.02a1.1 1.1 0 1 0 2.2 0a1.1 1.1 0 1 0 -2.2 0zM144.12 329.74a1.1 1.1 0 1 0 2.2 0a1.1 1.1 0 1 0 -2.2 0zM147.86 335.46a1.1 1.1 0 1 0 2.2 0a1.1 1.1 0 1 0 -2.2 0zM151.54 341.16a1.1 1.1 0 1 0 2.2 0a1.1 1.1 0 1 0 -2.2 0zM155.17 346.84a1.1 1.1 0 1 0 2.2 0a1.1 1.1 0 1 0 -2.2 0zM158.74 352.5a1.1 1.1 0 1 0 2.2 0a1.1 1.1 0 1 0 -2.2 0zM162.26 358.14a1.1 1.1 0 1 0 2.2 0a1.1 1.1 0 1 0 -2.2 0zM165.74 363.74a1.1 1.1 0 1 0 2.2 0a1.1 1.1 0 1 0 -2.2 0zM169.13 369.32a1.1 1.1 0 1 0 2.2 0a1.1 1.1 0 1 0 -2.2 0zM172.48 374.87a1.1 1.1 0 1 0 2.2 0a1.1 1.1 0 1 0 -2.2 0zM175.84 380.33a1.1 1.1 0 1 0 2.2 0a1.1 1.1 0 1 0 -2.2 0zM179.27 385.68a1.1 1.1 0 1 0 2.2 0a1.1 1.1 0 1 0 -2.2 0zM182.71 390.94a1.1 1.1 0 1 0 2.2 0a1.1 1.1 0 1 0 -2.2 0zM186.19 396.09a1.1 1.1 0 1 0 2.2 0a1.1 1.1 0 1 0 -2.2 0zM189.7 401.12a1.1 1.1 0 1 0 2.2 0a1.1 1.1 0 1 0 -2.2 0zM193.25 406.03a1.1 1.1 0 1 0 2.2 0a1.1 1.1 0 1 0 -2.2 0zM196.83 410.8a1.1 1.1 0 1 0 2.2 0a1.1 1.1 0 1 0 -2.2 0zM200.44 415.42a1.1 1.1 0 1 0 2.2 0a1.1 1.1 0 1 0 -2.2 0zM204.07 419.88a1.1 1.1 0 1 0 2.2 0a1.1 1.1 0 1 0 -2.2 0zM207.72 424.17a1.1 1.1 0 1 0 2.2 0a1.1 1.1 0 1 0 -2.2 0zM211.35 428.29a1.1 1.1 0 1 0 2.2 0a1.1 1.1 0 1 0 -2.2 0zM214.97 432.2a1.1 1.1 0 1 0 2.2 0a1.1 1.1 0 1 0 -2.2 0zM218.58 435.85a1.1 1.1 0 1 0 2.2 0a1.1 1.1 0 1 0 -2.2 0zM222.09 439.23a1.1 1.1 0 1 0 2.2 0a1.1 1.1 0 1 0 -2.2 0zM225.43 442.26a1.1 1.1 0 1 0 2.2 0a1.1 1.1 0 1 0 -2.2 0zM228.3 444.6a1.1 1.1 0 1 0 2.2 0a1.1 1.1 0 1 0 -2.2 0z"/>
<path fill="none" stroke="#66bd46" stroke-width="0.8" d="M180.9 312.3l1.4 2.5h-2.8zM183.32 318.3l1.4 2.5h-2.8zM185.68 324.29l1.4 2.5h-2.8zM187.78 330.33l1.4 2.5h-2.8zM189.89 336.33l1.4 2.5h-2.8zM192.66 342l1.4 2.5h-2.8zM195.76 347.45l1.4 2.5h-2.8zM198.87 352.85l1.4 2.5h-2.8zM202 358.18l1.4 2.5h-2.8zM205 363.53l1.4 2.5h-2.8zM207.87 368.89l1.4 2.5h-2.8zM210.45 374.33l1.4 2.5h-2.8zM212.72 379.86l1.4 2.5h-2.8zM214.56 385.47l1.4 2.5h-2.8zM216.02 391.14l1.4 2.5h-2.8zM217.66 396.68l1.4 2.5h-2.8zM219.9 401.93l1.4 2.5h-2.8zM222.59 406.88l1.4 2.5h-2.8zM225.74 411.44l1.4 2.5h-2.8zM229.31 415.57l1.4 2.5h-2.8zM233.04 419.41l1.4 2.5h-2.8zM236.74 423.12l1.4 2.5h-2.8zM240.16 426.91l1.4 2.5h-2.8zM243.81 430.24l1.4 2.5h-2.8zM248.21 432.06l1.4 2.5h-2.8zM252.59 433.24l1.4 2.5h-2.8zM256.64 434.33l1.4 2.5h-2.8zM260 435.1l1.4 2.5h-2.8z"/>
<path fill="none" stroke="#66bd46" stroke-width="0.8" d="M138.95 330a1.05 1.05 0 1 0 2.1 0a1.05 1.05 0 1 0 -2.1 0zM142.37 335.84a1.05 1.05 0 1 0 2.1 0a1.05 1.05 0 1 0 -2.1 0zM145.76 341.66a1.05 1.05 0 1 0 2.1 0a1.05 1.05 0 1 0 -2.1 0zM149.09 347.46a1.05 1.05 0 1 0 2.1 0a1.05 1.05 0 1 0 -2.1 0zM152.38 353.24a1.05 1.05 0 1 0 2.1 0a1.05 1.05 0 1 0 -2.1 0zM155.64 358.99a1.05 1.05 0 1 0 2.1 0a1.05 1.05 0 1 0 -2.1 0zM158.86 364.71a1.05 1.05 0 1 0 2.1 0a1.05 1.05 0 1 0 -2.1 0zM162.05 370.39a1.05 1.05 0 1 0 2.1 0a1.05 1.05 0 1 0 -2.1 0zM165.18 376.05a1.05 1.05 0 1 0 2.1 0a1.05 1.05 0 1 0 -2.1 0zM168.26 381.67a1.05 1.05 0 1 0 2.1 0a1.05 1.05 0 1 0 -2.1 0zM171.36 387.23a1.05 1.05 0 1 0 2.1 0a1.05 1.05 0 1 0 -2.1 0zM174.53 392.69a1.05 1.05 0 1 0 2.1 0a1.05 1.05 0 1 0 -2.1 0zM177.74 398.04a1.05 1.05 0 1 0 2.1 0a1.05 1.05 0 1 0 -2.1 0zM180.99 403.31a1.05 1.05 0 1 0 2.1 0a1.05 1.05 0 1 0 -2.1 0zM184.26 408.48a1.05 1.05 0 1 0 2.1 0a1.05 1.05 0 1 0 -2.1 0zM187.49 413.6a1.05 1.05 0 1 0 2.1 0a1.05 1.05 0 1 0 -2.1 0zM190.72 418.62a1.05 1.05 0 1 0 2.1 0a1.05 1.05 0 1 0 -2.1 0zM194.06 423.48a1.05 1.05 0 1 0 2.1 0a1.05 1.05 0 1 0 -2.1 0zM197.61 428.06a1.05 1.05 0 1 0 2.1 0a1.05 1.05 0 1 0 -2.1 0zM201.38 432.35a1.05 1.05 0 1 0 2.1 0a1.05 1.05 0 1 0 -2.1 0zM205.26 436.39a1.05 1.05 0 1 0 2.1 0a1.05 1.05 0 1 0 -2.1 0zM209.18 440.22a1.05 1.05 0 1 0 2.1 0a1.05 1.05 0 1 0 -2.1 0zM213.07 443.9a1.05 1.05 0 1 0 2.1 0a1.05 1.05 0 1 0 -2.1 0zM217.01 447.27a1.05 1.05 0 1 0 2.1 0a1.05 1.05 0 1 0 -2.1 0zM221.12 450.1a1.05 1.05 0 1 0 2.1 0a1.05 1.05 0 1 0 -2.1 0zM225.47 451.99a1.05 1.05 0 1 0 2.1 0a1.05 1.05 0 1 0 -2.1 0zM229.68 453.25a1.05 1.05 0 1 0 2.1 0a1.05 1.05 0 1 0 -2.1 0zM233.15 454.2a1.05 1.05 0 1 0 2.1 0a1.05 1.05 0 1 0 -2.1 0z"/>
<path fill="none" stroke="#66bd46" stroke-width="0.8" d="M143.6 334h2.8M145 332.6v2.8M146.83 339.51h2.8M148.23 338.11v2.8M150.03 345.01h2.8M151.43 343.61v2.8M153.18 350.48h2.8M154.58 349.08v2.8M156.29 355.93h2.8M157.69 354.53v2.8M159.37 361.35h2.8M160.77 359.95v2.8M162.41 366.74h2.8M163.81 365.34v2.8M165.42 372.11h2.8M166.82 370.71v2.8M168.4 377.43h2.8M169.8 376.03v2.8M171.31 382.74h2.8M172.71 381.34v2.8M174.2 388.01h2.8M175.6 386.61v2.8M177.13 393.19h2.8M178.53 391.79v2.8M180.1 398.28h2.8M181.5 396.88v2.8M183.08 403.3h2.8M184.48 401.9v2.8M186.12 408.21h2.8M187.52 406.81v2.8M189.26 412.97h2.8M190.66 411.57v2.8M192.5 417.59h2.8M193.9 416.19v2.8M195.81 422.06h2.8M197.21 420.66v2.8M199.21 426.35h2.8M200.61 424.95v2.8M202.74 430.43h2.8M204.14 429.03v2.8M206.37 434.27h2.8M207.77 432.87v2.8M210.11 437.84h2.8M211.51 436.44v2.8M213.97 441.1h2.8M215.37 439.7v2.8M217.96 443.92h2.8M219.36 442.52v2.8M221.96 446.42h2.8M223.36 445.02v2.8M225.82 448.7h2.8M227.22 447.3v2.8M229.51 450.58h2.8M230.91 449.18v2.8M232.6 452h2.8M234 450.6v2.8"/>
<path fill="#66bd46" d="M118.9 338a1.1 1.1 0 1 0 2.2 0a1.1 1.1 0 1 0 -2.2 0zM122.58 343.21a1.1 1.1 0 1 0 2.2 0a1.1 1.1 0 1 0 -2.2 0zM126.19 348.43a1.1 1.1 0 1 0 2.2 0a1.1 1.1 0 1 0 -2.2 0zM129.71 353.66a1.1 1.1 0 1 0 2.2 0a1.1 1.1 0 1 0 -2.2 0zM133.17 358.88a1.1 1.1 0 1 0 2.2 0a1.1 1.1 0 1 0 -2.2 0zM136.56 364.1a1.1 1.1 0 1 0 2.2 0a1.1 1.1 0 1 0 -2.2 0zM139.91 369.3a1.1 1.1 0 1 0 2.2 0a1.1 1.1 0 1 0 -2.2 0zM143.2 374.48a1.1 1.1 0 1 0 2.2 0a1.1 1.1 0 1 0 -2.2 0zM146.45 379.63a1.1 1.1 0 1 0 2.2 0a1.1 1.1 0 1 0 -2.2 0zM149.65 384.76a1.1 1.1 0 1 0 2.2 0a1.1 1.1 0 1 0 -2.2 0zM152.81 389.85a1.1 1.1 0 1 0 2.2 0a1.1 1.1 0 1 0 -2.2 0zM155.87 394.94a1.1 1.1 0 1 0 2.2 0a1.1 1.1 0 1 0 -2.2 0zM158.88 400.01a1.1 1.1 0 1 0 2.2 0a1.1 1.1 0 1 0 -2.2 0zM161.92 404.97a1.1 1.1 0 1 0 2.2 0a1.1 1.1 0 1 0 -2.2 0zM165.11 409.78a1.1 1.1 0 1 0 2.2 0a1.1 1.1 0 1 0 -2.2 0zM168.42 414.42a1.1 1.1 0 1 0 2.2 0a1.1 1.1 0 1 0 -2.2 0zM171.81 418.91a1.1 1.1 0 1 0 2.2 0a1.1 1.1 0 1 0 -2.2 0zM175.28 423.25a1.1 1.1 0 1 0 2.2 0a1.1 1.1 0 1 0 -2.2 0zM178.82 427.41a1.1 1.1 0 1 0 2.2 0a1.1 1.1 0 1 0 -2.2 0zM182.43 431.4a1.1 1.1 0 1 0 2.2 0a1.1 1.1 0 1 0 -2.2 0zM186.08 435.21a1.1 1.1 0 1 0 2.2 0a1.1 1.1 0 1 0 -2.2 0zM189.77 438.83a1.1 1.1 0 1 0 2.2 0a1.1 1.1 0 1 0 -2.2 0zM193.55 442.16a1.1 1.1 0 1 0 2.2 0a1.1 1.1 0 1 0 -2.2 0zM197.34 445.24a1.1 1.1 0 1 0 2.2 0a1.1 1.1 0 1 0 -2.2 0zM201.06 448.13a1.1 1.1 0 1 0 2.2 0a1.1 1.1 0 1 0 -2.2 0zM204.68 450.76a1.1 1.1 0 1 0 2.2 0a1.1 1.1 0 1 0 -2.2 0zM208.09 453.1a1.1 1.1 0 1 0 2.2 0a1.1 1.1 0 1 0 -2.2 0zM210.9 455a1.1 1.1 0 1 0 2.2 0a1.1 1.1 0 1 0 -2.2 0z"/>
<path fill="none" stroke="#66bd46" stroke-width="0.8" d="M108.3 326.3l1.3 1.3l-1.3 1.3l-1.3 -1.3zM113.27 332.36l1.3 1.3l-1.3 1.3l-1.3 -1.3zM117.94 338.61l1.3 1.3l-1.3 1.3l-1.3 -1.3zM121.76 345.34l1.3 1.3l-1.3 1.3l-1.3 -1.3zM124.62 352.49l1.3 1.3l-1.3 1.3l-1.3 -1.3zM126.67 359.86l1.3 1.3l-1.3 1.3l-1.3 -1.3zM128.69 367.19l1.3 1.3l-1.3 1.3l-1.3 -1.3zM131.77 374.05l1.3 1.3l-1.3 1.3l-1.3 -1.3zM134.89 380.83l1.3 1.3l-1.3 1.3l-1.3 -1.3zM136.27 388.13l1.3 1.3l-1.3 1.3l-1.3 -1.3zM139.34 394.8l1.3 1.3l-1.3 1.3l-1.3 -1.3zM143.51 400.79l1.3 1.3l-1.3 1.3l-1.3 -1.3zM148.33 406.18l1.3 1.3l-1.3 1.3l-1.3 -1.3zM153.36 411.28l1.3 1.3l-1.3 1.3l-1.3 -1.3zM158.32 416.34l1.3 1.3l-1.3 1.3l-1.3 -1.3zM163.39 421.18l1.3 1.3l-1.3 1.3l-1.3 -1.3zM168.57 425.77l1.3 1.3l-1.3 1.3l-1.3 -1.3zM173.68 430.29l1.3 1.3l-1.3 1.3l-1.3 -1.3zM178.61 434.86l1.3 1.3l-1.3 1.3l-1.3 -1.3zM183.44 439.38l1.3 1.3l-1.3 1.3l-1.3 -1.3zM188.25 443.73l1.3 1.3l-1.3 1.3l-1.3 -1.3zM193 447.95l1.3 1.3l-1.3 1.3l-1.3 -1.3zM197.91 451.71l1.3 1.3l-1.3 1.3l-1.3 -1.3zM203.09 454.76l1.3 1.3l-1.3 1.3l-1.3 -1.3zM208.48 456.84l1.3 1.3l-1.3 1.3l-1.3 -1.3zM213.85 458.01l1.3 1.3l-1.3 1.3l-1.3 -1.3zM218.87 458.79l1.3 1.3l-1.3 1.3l-1.3 -1.3zM223 459.4l1.3 1.3l-1.3 1.3l-1.3 -1.3z"/>
<path fill="#66bd46" d="M111 333h2v2h-2zM114.81 338.71h2v2h-2zM118.59 344.39h2v2h-2zM122.38 350.01h2v2h-2zM126.11 355.62h2v2h-2zM129.71 361.27h2v2h-2zM133.02 367.04h2v2h-2zM136 372.93h2v2h-2zM138.53 378.97h2v2h-2zM139.59 385.36h2v2h-2zM140.74 391.68h2v2h-2zM143.64 397.37h2v2h-2zM147.25 402.56h2v2h-2zM151.45 407.21h2v2h-2zM155.82 411.61h2v2h-2zM159.77 416.3h2v2h-2zM163.46 421.1h2v2h-2zM167.63 425.36h2v2h-2zM172.28 428.96h2v2h-2zM176.6 432.8h2v2h-2zM180.39 437.03h2v2h-2zM184.13 441.14h2v2h-2zM188.06 444.87h2v2h-2zM192.01 448.33h2v2h-2zM196.03 451.41h2v2h-2zM200.17 453.85h2v2h-2zM204.18 455.78h2v2h-2zM207.5 457.3h2v2h-2z"/>
<path fill="#66bd46" d="M128 335.5l1.45 -2.6h-2.9zM131.71 340.76l1.45 -2.6h-2.9zM135.35 346.01l1.45 -2.6h-2.9zM138.9 351.29l1.45 -2.6h-2.9zM142.38 356.56l1.45 -2.6h-2.9zM145.81 361.82l1.45 -2.6h-2.9zM149.18 367.06l1.45 -2.6h-2.9zM152.49 372.28l1.45 -2.6h-2.9zM155.77 377.48l1.45 -2.6h-2.9zM158.99 382.65l1.45 -2.6h-2.9zM162.18 387.79l1.45 -2.6h-2.9zM165.26 392.92l1.45 -2.6h-2.9zM168.29 398.03l1.45 -2.6h-2.9zM171.37 403.03l1.45 -2.6h-2.9zM174.61 407.85l1.45 -2.6h-2.9zM177.96 412.52l1.45 -2.6h-2.9zM181.4 417.04l1.45 -2.6h-2.9zM184.91 421.4l1.45 -2.6h-2.9zM188.51 425.58l1.45 -2.6h-2.9zM192.16 429.58l1.45 -2.6h-2.9zM195.86 433.41l1.45 -2.6h-2.9zM199.61 437.03l1.45 -2.6h-2.9zM203.38 440.42l1.45 -2.6h-2.9zM207.22 443.52l1.45 -2.6h-2.9zM211.12 446.21l1.45 -2.6h-2.9zM215.1 448.34l1.45 -2.6h-2.9zM218.88 450.09l1.45 -2.6h-2.9zM222 451.5l1.45 -2.6h-2.9z"/>
<path fill="#2646a0" d="M113 328.5l1.45 2.6h-2.9zM116.79 333.88l1.45 2.6h-2.9zM120.51 339.25l1.45 2.6h-2.9zM124.14 344.65l1.45 2.6h-2.9zM127.7 350.04l1.45 2.6h-2.9zM131.2 355.42l1.45 2.6h-2.9zM134.64 360.79l1.45 2.6h-2.9zM138.03 366.13l1.45 2.6h-2.9zM141.38 371.45l1.45 2.6h-2.9zM144.67 376.74l1.45 2.6h-2.9zM147.92 382l1.45 2.6h-2.9zM151.09 387.25l1.45 2.6h-2.9zM154.23 392.44l1.45 2.6h-2.9zM157.4 397.55l1.45 2.6h-2.9zM160.59 402.56l1.45 2.6h-2.9zM163.79 407.49l1.45 2.6h-2.9zM167.03 412.31l1.45 2.6h-2.9zM170.35 416.97l1.45 2.6h-2.9zM173.75 421.47l1.45 2.6h-2.9zM177.2 425.81l1.45 2.6h-2.9zM180.72 429.97l1.45 2.6h-2.9zM184.32 433.89l1.45 2.6h-2.9zM188.01 437.55l1.45 2.6h-2.9zM191.73 440.95l1.45 2.6h-2.9zM195.45 444.07l1.45 2.6h-2.9zM199.21 446.73l1.45 2.6h-2.9zM202.92 448.85l1.45 2.6h-2.9zM206 450.5l1.45 2.6h-2.9z"/>
<path fill="#2646a0" d="M117 321h2v2h-2zM120.98 326.64h2v2h-2zM124.88 332.3h2v2h-2zM128.68 337.96h2v2h-2zM132.41 343.63h2v2h-2zM136.08 349.29h2v2h-2zM139.68 354.92h2v2h-2zM143.24 360.54h2v2h-2zM146.74 366.13h2v2h-2zM150.19 371.69h2v2h-2zM153.58 377.23h2v2h-2zM156.9 382.74h2v2h-2zM160.22 388.17h2v2h-2zM163.61 393.5h2v2h-2zM167.02 398.72h2v2h-2zM170.46 403.84h2v2h-2zM173.91 408.87h2v2h-2zM177.33 413.81h2v2h-2zM180.73 418.66h2v2h-2zM184.16 423.36h2v2h-2zM187.7 427.85h2v2h-2zM191.33 432.11h2v2h-2zM195.03 436.12h2v2h-2zM198.77 439.85h2v2h-2zM202.58 443.23h2v2h-2zM206.41 446.2h2v2h-2zM210.03 448.84h2v2h-2zM213 451h2v2h-2z"/>
<path fill="#2646a0" d="M114.9 326a1.1 1.1 0 1 0 2.2 0a1.1 1.1 0 1 0 -2.2 0zM119.09 331.95a1.1 1.1 0 1 0 2.2 0a1.1 1.1 0 1 0 -2.2 0zM123.19 337.9a1.1 1.1 0 1 0 2.2 0a1.1 1.1 0 1 0 -2.2 0zM127.19 343.88a1.1 1.1 0 1 0 2.2 0a1.1 1.1 0 1 0 -2.2 0zM131.11 349.86a1.1 1.1 0 1 0 2.2 0a1.1 1.1 0 1 0 -2.2 0zM134.96 355.82a1.1 1.1 0 1 0 2.2 0a1.1 1.1 0 1 0 -2.2 0zM138.75 361.76a1.1 1.1 0 1 0 2.2 0a1.1 1.1 0 1 0 -2.2 0zM142.48 367.69a1.1 1.1 0 1 0 2.2 0a1.1 1.1 0 1 0 -2.2 0zM146.16 373.58a1.1 1.1 0 1 0 2.2 0a1.1 1.1 0 1 0 -2.2 0zM149.79 379.44a1.1 1.1 0 1 0 2.2 0a1.1 1.1 0 1 0 -2.2 0zM153.32 385.29a1.1 1.1 0 1 0 2.2 0a1.1 1.1 0 1 0 -2.2 0zM156.83 391.09a1.1 1.1 0 1 0 2.2 0a1.1 1.1 0 1 0 -2.2 0zM160.4 396.78a1.1 1.1 0 1 0 2.2 0a1.1 1.1 0 1 0 -2.2 0zM164.02 402.35a1.1 1.1 0 1 0 2.2 0a1.1 1.1 0 1 0 -2.2 0zM167.67 407.82a1.1 1.1 0 1 0 2.2 0a1.1 1.1 0 1 0 -2.2 0zM171.34 413.19a1.1 1.1 0 1 0 2.2 0a1.1 1.1 0 1 0 -2.2 0zM174.98 418.48a1.1 1.1 0 1 0 2.2 0a1.1 1.1 0 1 0 -2.2 0zM178.58 423.68a1.1 1.1 0 1 0 2.2 0a1.1 1.1 0 1 0 -2.2 0zM182.26 428.71a1.1 1.1 0 1 0 2.2 0a1.1 1.1 0 1 0 -2.2 0zM186.15 433.46a1.1 1.1 0 1 0 2.2 0a1.1 1.1 0 1 0 -2.2 0zM190.21 437.9a1.1 1.1 0 1 0 2.2 0a1.1 1.1 0 1 0 -2.2 0zM194.4 442.04a1.1 1.1 0 1 0 2.2 0a1.1 1.1 0 1 0 -2.2 0zM198.71 445.84a1.1 1.1 0 1 0 2.2 0a1.1 1.1 0 1 0 -2.2 0zM203.17 449.19a1.1 1.1 0 1 0 2.2 0a1.1 1.1 0 1 0 -2.2 0zM207.68 452.09a1.1 1.1 0 1 0 2.2 0a1.1 1.1 0 1 0 -2.2 0zM212.12 454.59a1.1 1.1 0 1 0 2.2 0a1.1 1.1 0 1 0 -2.2 0zM216.49 456.35a1.1 1.1 0 1 0 2.2 0a1.1 1.1 0 1 0 -2.2 0zM220.3 457a1.1 1.1 0 1 0 2.2 0a1.1 1.1 0 1 0 -2.2 0z"/>
<path fill="#2646a0" d="M128.9 325.2h2.2v1.6h-2.2zM133.12 331.49h2.2v1.6h-2.2zM137.27 337.77h2.2v1.6h-2.2zM141.34 344.05h2.2v1.6h-2.2zM145.34 350.32h2.2v1.6h-2.2zM149.29 356.57h2.2v1.6h-2.2zM153.17 362.8h2.2v1.6h-2.2zM157 369h2.2v1.6h-2.2zM160.74 375.19h2.2v1.6h-2.2zM164.47 381.32h2.2v1.6h-2.2zM168.27 387.33h2.2v1.6h-2.2zM172.13 393.24h2.2v1.6h-2.2zM176.03 399.03h2.2v1.6h-2.2zM179.96 404.73h2.2v1.6h-2.2zM183.9 410.32h2.2v1.6h-2.2zM187.87 415.81h2.2v1.6h-2.2zM191.87 421.16h2.2v1.6h-2.2zM195.9 426.37h2.2v1.6h-2.2zM199.98 431.43h2.2v1.6h-2.2zM204.11 436.29h2.2v1.6h-2.2zM208.26 440.98h2.2v1.6h-2.2zM212.39 445.52h2.2v1.6h-2.2zM216.51 449.85h2.2v1.6h-2.2zM220.78 453.78h2.2v1.6h-2.2zM226.04 454.86h2.2v1.6h-2.2zM231 456.72h2.2v1.6h-2.2zM235.67 458.2h2.2v1.6h-2.2zM239.6 459.1h2.2v1.6h-2.2z"/>
<path fill="#2646a0" d="M106.9 317.2h2.2v1.6h-2.2zM110.71 322.6h2.2v1.6h-2.2zM114.44 328h2.2v1.6h-2.2zM118.08 333.41h2.2v1.6h-2.2zM121.65 338.82h2.2v1.6h-2.2zM125.17 344.23h2.2v1.6h-2.2zM128.62 349.61h2.2v1.6h-2.2zM132.02 354.98h2.2v1.6h-2.2zM135.38 360.32h2.2v1.6h-2.2zM138.69 365.63h2.2v1.6h-2.2zM141.95 370.91h2.2v1.6h-2.2zM145.13 376.17h2.2v1.6h-2.2zM148.28 381.39h2.2v1.6h-2.2zM151.46 386.51h2.2v1.6h-2.2zM154.69 391.53h2.2v1.6h-2.2zM157.93 396.46h2.2v1.6h-2.2zM161.19 401.29h2.2v1.6h-2.2zM164.47 406.01h2.2v1.6h-2.2zM167.75 410.62h2.2v1.6h-2.2zM171.05 415.11h2.2v1.6h-2.2zM174.41 419.42h2.2v1.6h-2.2zM177.9 423.47h2.2v1.6h-2.2zM181.5 427.24h2.2v1.6h-2.2zM185.15 430.74h2.2v1.6h-2.2zM188.81 433.96h2.2v1.6h-2.2zM192.48 436.77h2.2v1.6h-2.2zM196 439.22h2.2v1.6h-2.2zM198.9 441.2h2.2v1.6h-2.2z"/>
<path fill="none" stroke="#2646a0" stroke-width="0.8" d="M134.9 330.9l2.2 2.2M137.1 330.9l-2.2 2.2M138.55 336.35l2.2 2.2M140.75 336.35l-2.2 2.2M142.16 341.77l2.2 2.2M144.36 341.77l-2.2 2.2M145.7 347.21l2.2 2.2M147.9 347.21l-2.2 2.2M149.18 352.62l2.2 2.2M151.38 352.62l-2.2 2.2M152.61 358.02l2.2 2.2M154.81 358.02l-2.2 2.2M155.99 363.4l2.2 2.2M158.19 363.4l-2.2 2.2M159.33 368.76l2.2 2.2M161.53 368.76l-2.2 2.2M162.63 374.08l2.2 2.2M164.83 374.08l-2.2 2.2M165.84 379.4l2.2 2.2M168.04 379.4l-2.2 2.2M169.03 384.67l2.2 2.2M171.23 384.67l-2.2 2.2M172.24 389.87l2.2 2.2M174.44 389.87l-2.2 2.2M175.5 394.97l2.2 2.2M177.7 394.97l-2.2 2.2M178.75 399.99l2.2 2.2M180.95 399.99l-2.2 2.2M182.06 404.91l2.2 2.2M184.26 404.91l-2.2 2.2M185.47 409.67l2.2 2.2M187.67 409.67l-2.2 2.2M188.97 414.28l2.2 2.2M191.17 414.28l-2.2 2.2M192.53 418.74l2.2 2.2M194.73 418.74l-2.2 2.2M196.19 423.01l2.2 2.2M198.39 423.01l-2.2 2.2M199.96 427.05l2.2 2.2M202.16 427.05l-2.2 2.2M203.85 430.83l2.2 2.2M206.05 430.83l-2.2 2.2M207.82 434.36l2.2 2.2M210.02 434.36l-2.2 2.2M211.83 437.63l2.2 2.2M214.03 437.63l-2.2 2.2M215.92 440.55l2.2 2.2M218.12 440.55l-2.2 2.2M220 443.15l2.2 2.2M222.2 443.15l-2.2 2.2M223.95 445.51l2.2 2.2M226.15 445.51l-2.2 2.2M227.73 447.44l2.2 2.2M229.93 447.44l-2.2 2.2M230.9 448.9l2.2 2.2M233.1 448.9l-2.2 2.2"/>
<path fill="none" stroke="#7840ae" stroke-width="0.8" d="M111.5 300.4l1.4 2.5h-2.8zM115.13 306.8l1.4 2.5h-2.8zM118.73 313.18l1.4 2.5h-2.8zM122.29 319.52l1.4 2.5h-2.8zM125.86 325.8l1.4 2.5h-2.8zM129.35 332.08l1.4 2.5h-2.8zM132.7 338.38l1.4 2.5h-2.8zM136.06 344.61l1.4 2.5h-2.8zM139.53 350.72l1.4 2.5h-2.8zM142.98 356.78l1.4 2.5h-2.8zM146.23 362.88l1.4 2.5h-2.8zM149.27 369.03l1.4 2.5h-2.8zM152.27 375.13l1.4 2.5h-2.8zM155.38 381.08l1.4 2.5h-2.8zM158.61 386.9l1.4 2.5h-2.8zM161.85 392.62l1.4 2.5h-2.8zM164.98 398.31l1.4 2.5h-2.8zM167.95 403.99l1.4 2.5h-2.8zM170.87 409.58l1.4 2.5h-2.8zM173.89 415l1.4 2.5h-2.8zM177.27 420.06l1.4 2.5h-2.8zM181.19 424.55l1.4 2.5h-2.8zM185.42 428.53l1.4 2.5h-2.8zM189.81 432.07l1.4 2.5h-2.8zM194.21 435.26l1.4 2.5h-2.8zM198.49 438.13l1.4 2.5h-2.8zM202.6 440.56l1.4 2.5h-2.8zM206 442.5l1.4 2.5h-2.8z"/>
<path fill="none" stroke="#7840ae" stroke-width="0.8" d="M102.95 305a1.05 1.05 0 1 0 2.1 0a1.05 1.05 0 1 0 -2.1 0zM106.81 310.83a1.05 1.05 0 1 0 2.1 0a1.05 1.05 0 1 0 -2.1 0zM110.74 316.57a1.05 1.05 0 1 0 2.1 0a1.05 1.05 0 1 0 -2.1 0zM114.72 322.22a1.05 1.05 0 1 0 2.1 0a1.05 1.05 0 1 0 -2.1 0zM118.58 327.9a1.05 1.05 0 1 0 2.1 0a1.05 1.05 0 1 0 -2.1 0zM122.36 333.58a1.05 1.05 0 1 0 2.1 0a1.05 1.05 0 1 0 -2.1 0zM126.08 339.24a1.05 1.05 0 1 0 2.1 0a1.05 1.05 0 1 0 -2.1 0zM129.76 344.88a1.05 1.05 0 1 0 2.1 0a1.05 1.05 0 1 0 -2.1 0zM133.28 350.55a1.05 1.05 0 1 0 2.1 0a1.05 1.05 0 1 0 -2.1 0zM136.58 356.3a1.05 1.05 0 1 0 2.1 0a1.05 1.05 0 1 0 -2.1 0zM139.76 362.05a1.05 1.05 0 1 0 2.1 0a1.05 1.05 0 1 0 -2.1 0zM142.94 367.74a1.05 1.05 0 1 0 2.1 0a1.05 1.05 0 1 0 -2.1 0zM146.19 373.31a1.05 1.05 0 1 0 2.1 0a1.05 1.05 0 1 0 -2.1 0zM149.33 378.87a1.05 1.05 0 1 0 2.1 0a1.05 1.05 0 1 0 -2.1 0zM152.14 384.53a1.05 1.05 0 1 0 2.1 0a1.05 1.05 0 1 0 -2.1 0zM154.58 390.29a1.05 1.05 0 1 0 2.1 0a1.05 1.05 0 1 0 -2.1 0zM156.96 395.98a1.05 1.05 0 1 0 2.1 0a1.05 1.05 0 1 0 -2.1 0zM159.62 401.45a1.05 1.05 0 1 0 2.1 0a1.05 1.05 0 1 0 -2.1 0zM162.93 406.44a1.05 1.05 0 1 0 2.1 0a1.05 1.05 0 1 0 -2.1 0zM166.74 410.94a1.05 1.05 0 1 0 2.1 0a1.05 1.05 0 1 0 -2.1 0zM170.62 415.24a1.05 1.05 0 1 0 2.1 0a1.05 1.05 0 1 0 -2.1 0zM174.59 419.28a1.05 1.05 0 1 0 2.1 0a1.05 1.05 0 1 0 -2.1 0zM178.58 423.09a1.05 1.05 0 1 0 2.1 0a1.05 1.05 0 1 0 -2.1 0zM182.56 426.68a1.05 1.05 0 1 0 2.1 0a1.05 1.05 0 1 0 -2.1 0zM186.5 430.01a1.05 1.05 0 1 0 2.1 0a1.05 1.05 0 1 0 -2.1 0zM190.32 433.08a1.05 1.05 0 1 0 2.1 0a1.05 1.05 0 1 0 -2.1 0zM193.95 435.8a1.05 1.05 0 1 0 2.1 0a1.05 1.05 0 1 0 -2.1 0zM196.95 438a1.05 1.05 0 1 0 2.1 0a1.05 1.05 0 1 0 -2.1 0z"/>
<path fill="none" stroke="#7840ae" stroke-width="0.8" d="M84.9 295.4h2.8M86.3 294v2.8M88.49 299.43h2.8M89.89 298.03v2.8M91.83 303.62h2.8M93.23 302.22v2.8M94.68 308.12h2.8M96.08 306.72v2.8M97.81 312.39h2.8M99.21 310.99v2.8M101.26 316.36h2.8M102.66 314.96v2.8M104.45 320.5h2.8M105.85 319.1v2.8M107.41 324.76h2.8M108.81 323.36v2.8M110.3 329.03h2.8M111.7 327.63v2.8M113.15 333.27h2.8M114.55 331.87v2.8M115.95 337.49h2.8M117.35 336.09v2.8M118.7 341.69h2.8M120.1 340.29v2.8M121.41 345.87h2.8M122.81 344.47v2.8M124.07 350.02h2.8M125.47 348.62v2.8M126.68 354.13h2.8M128.08 352.73v2.8M129.25 358.21h2.8M130.65 356.81v2.8M131.77 362.24h2.8M133.17 360.84v2.8M134.25 366.23h2.8M135.65 364.83v2.8M136.69 370.15h2.8M138.09 368.75v2.8M139.08 374.02h2.8M140.48 372.62v2.8M141.42 377.83h2.8M142.82 376.43v2.8M143.72 381.54h2.8M145.12 380.14v2.8M146.02 385.12h2.8M147.42 383.72v2.8M148.34 388.54h2.8M149.74 387.14v2.8M150.63 391.79h2.8M152.03 390.39v2.8M152.85 394.86h2.8M154.25 393.46v2.8M154.91 397.68h2.8M156.31 396.28v2.8M156.6 400h2.8M158 398.6v2.8"/>
<path fill="#7840ae" d="M96.6 299.3a1.1 1.1 0 1 0 2.2 0a1.1 1.1 0 1 0 -2.2 0zM100.21 303.87a1.1 1.1 0 1 0 2.2 0a1.1 1.1 0 1 0 -2.2 0zM103.49 308.63a1.1 1.1 0 1 0 2.2 0a1.1 1.1 0 1 0 -2.2 0zM106.23 313.7a1.1 1.1 0 1 0 2.2 0a1.1 1.1 0 1 0 -2.2 0zM108.52 318.93a1.1 1.1 0 1 0 2.2 0a1.1 1.1 0 1 0 -2.2 0zM110.68 324.18a1.1 1.1 0 1 0 2.2 0a1.1 1.1 0 1 0 -2.2 0zM113.26 329.2a1.1 1.1 0 1 0 2.2 0a1.1 1.1 0 1 0 -2.2 0zM115.96 334.11a1.1 1.1 0 1 0 2.2 0a1.1 1.1 0 1 0 -2.2 0zM118.55 339.03a1.1 1.1 0 1 0 2.2 0a1.1 1.1 0 1 0 -2.2 0zM121.31 343.81a1.1 1.1 0 1 0 2.2 0a1.1 1.1 0 1 0 -2.2 0zM124.82 347.98a1.1 1.1 0 1 0 2.2 0a1.1 1.1 0 1 0 -2.2 0zM129.06 351.36a1.1 1.1 0 1 0 2.2 0a1.1 1.1 0 1 0 -2.2 0zM132.96 355.03a1.1 1.1 0 1 0 2.2 0a1.1 1.1 0 1 0 -2.2 0zM135.17 359.84a1.1 1.1 0 1 0 2.2 0a1.1 1.1 0 1 0 -2.2 0zM136.44 364.94a1.1 1.1 0 1 0 2.2 0a1.1 1.1 0 1 0 -2.2 0zM138.77 369.54a1.1 1.1 0 1 0 2.2 0a1.1 1.1 0 1 0 -2.2 0zM142.17 373.39a1.1 1.1 0 1 0 2.2 0a1.1 1.1 0 1 0 -2.2 0zM144.54 377.86a1.1 1.1 0 1 0 2.2 0a1.1 1.1 0 1 0 -2.2 0zM146.68 382.37a1.1 1.1 0 1 0 2.2 0a1.1 1.1 0 1 0 -2.2 0zM149.17 386.6a1.1 1.1 0 1 0 2.2 0a1.1 1.1 0 1 0 -2.2 0zM151.86 390.6a1.1 1.1 0 1 0 2.2 0a1.1 1.1 0 1 0 -2.2 0zM154.54 394.48a1.1 1.1 0 1 0 2.2 0a1.1 1.1 0 1 0 -2.2 0zM157.08 398.31a1.1 1.1 0 1 0 2.2 0a1.1 1.1 0 1 0 -2.2 0zM159.47 402.08a1.1 1.1 0 1 0 2.2 0a1.1 1.1 0 1 0 -2.2 0zM161.81 405.68a1.1 1.1 0 1 0 2.2 0a1.1 1.1 0 1 0 -2.2 0zM164.19 409a1.1 1.1 0 1 0 2.2 0a1.1 1.1 0 1 0 -2.2 0zM166.71 411.81a1.1 1.1 0 1 0 2.2 0a1.1 1.1 0 1 0 -2.2 0zM168.9 414a1.1 1.1 0 1 0 2.2 0a1.1 1.1 0 1 0 -2.2 0z"/>
<path fill="none" stroke="#7840ae" stroke-width="0.8" d="M55.9 417l1.3 1.3l-1.3 1.3l-1.3 -1.3zM59.99 417.92l1.3 1.3l-1.3 1.3l-1.3 -1.3zM64.05 418.84l1.3 1.3l-1.3 1.3l-1.3 -1.3zM68.09 419.76l1.3 1.3l-1.3 1.3l-1.3 -1.3zM72.1 420.68l1.3 1.3l-1.3 1.3l-1.3 -1.3zM76.1 421.57l1.3 1.3l-1.3 1.3l-1.3 -1.3zM80.06 422.47l1.3 1.3l-1.3 1.3l-1.3 -1.3zM83.97 423.43l1.3 1.3l-1.3 1.3l-1.3 -1.3zM87.84 424.46l1.3 1.3l-1.3 1.3l-1.3 -1.3zM91.67 425.52l1.3 1.3l-1.3 1.3l-1.3 -1.3zM95.44 426.65l1.3 1.3l-1.3 1.3l-1.3 -1.3zM99.14 427.89l1.3 1.3l-1.3 1.3l-1.3 -1.3zM102.76 429.26l1.3 1.3l-1.3 1.3l-1.3 -1.3zM106.3 430.72l1.3 1.3l-1.3 1.3l-1.3 -1.3zM109.76 432.25l1.3 1.3l-1.3 1.3l-1.3 -1.3zM113.16 433.82l1.3 1.3l-1.3 1.3l-1.3 -1.3zM116.49 435.42l1.3 1.3l-1.3 1.3l-1.3 -1.3zM119.76 437.04l1.3 1.3l-1.3 1.3l-1.3 -1.3zM122.94 438.71l1.3 1.3l-1.3 1.3l-1.3 -1.3zM126.01 440.46l1.3 1.3l-1.3 1.3l-1.3 -1.3zM128.93 442.33l1.3 1.3l-1.3 1.3l-1.3 -1.3zM131.66 444.35l1.3 1.3l-1.3 1.3l-1.3 -1.3zM134.22 446.45l1.3 1.3l-1.3 1.3l-1.3 -1.3zM136.65 448.55l1.3 1.3l-1.3 1.3l-1.3 -1.3zM139 450.56l1.3 1.3l-1.3 1.3l-1.3 -1.3zM141.19 452.52l1.3 1.3l-1.3 1.3l-1.3 -1.3zM143.17 454.38l1.3 1.3l-1.3 1.3l-1.3 -1.3zM144.8 455.9l1.3 1.3l-1.3 1.3l-1.3 -1.3z"/>
<path fill="#e6df1c" d="M114 298.5l1.45 2.6h-2.9zM117.75 304.81l1.45 2.6h-2.9zM121.58 311.02l1.45 2.6h-2.9zM125.5 317.12l1.45 2.6h-2.9zM129.31 323.24l1.45 2.6h-2.9zM133.04 329.36l1.45 2.6h-2.9zM136.83 335.38l1.45 2.6h-2.9zM140.67 341.31l1.45 2.6h-2.9zM144.45 347.21l1.45 2.6h-2.9zM148.15 353.09l1.45 2.6h-2.9zM151.8 358.95l1.45 2.6h-2.9zM155.39 364.77l1.45 2.6h-2.9zM158.89 370.56l1.45 2.6h-2.9zM162.37 376.29l1.45 2.6h-2.9zM165.9 381.91l1.45 2.6h-2.9zM169.44 387.43l1.45 2.6h-2.9zM173.01 392.83l1.45 2.6h-2.9zM176.68 398.06l1.45 2.6h-2.9zM180.48 403.07l1.45 2.6h-2.9zM184.37 407.88l1.45 2.6h-2.9zM188.29 412.52l1.45 2.6h-2.9zM192.2 417l1.45 2.6h-2.9zM196.09 421.3l1.45 2.6h-2.9zM199.95 425.39l1.45 2.6h-2.9zM203.75 429.24l1.45 2.6h-2.9zM207.51 432.76l1.45 2.6h-2.9zM211.07 435.92l1.45 2.6h-2.9zM214 438.5l1.45 2.6h-2.9z"/>
<path fill="#e6df1c" d="M94.8 298.3h2v2h-2zM97.83 303.56h2v2h-2zM100.69 308.88h2v2h-2zM103.18 314.34h2v2h-2zM105.92 319.63h2v2h-2zM108.86 324.77h2v2h-2zM111.99 329.76h2v2h-2zM115.16 334.67h2v2h-2zM118.22 339.59h2v2h-2zM121.21 344.51h2v2h-2zM124.22 349.35h2v2h-2zM127.27 354.11h2v2h-2zM130.32 358.82h2v2h-2zM133.31 363.49h2v2h-2zM136.23 368.14h2v2h-2zM139.1 372.74h2v2h-2zM141.93 377.29h2v2h-2zM144.72 381.77h2v2h-2zM147.44 386.21h2v2h-2zM150.14 390.56h2v2h-2zM152.86 394.79h2v2h-2zM155.63 398.85h2v2h-2zM158.4 402.76h2v2h-2zM161.15 406.52h2v2h-2zM163.84 410.1h2v2h-2zM166.47 413.45h2v2h-2zM168.95 416.5h2v2h-2zM171 419h2v2h-2z"/>
<path fill="#e6df1c" d="M103.2 334.8a1.1 1.1 0 1 0 2.2 0a1.1 1.1 0 1 0 -2.2 0zM105.77 338.73a1.1 1.1 0 1 0 2.2 0a1.1 1.1 0 1 0 -2.2 0zM108.61 342.43a1.1 1.1 0 1 0 2.2 0a1.1 1.1 0 1 0 -2.2 0zM111.71 345.87a1.1 1.1 0 1 0 2.2 0a1.1 1.1 0 1 0 -2.2 0zM115.02 349.08a1.1 1.1 0 1 0 2.2 0a1.1 1.1 0 1 0 -2.2 0zM118.24 352.34a1.1 1.1 0 1 0 2.2 0a1.1 1.1 0 1 0 -2.2 0zM121 355.95a1.1 1.1 0 1 0 2.2 0a1.1 1.1 0 1 0 -2.2 0zM123.84 359.46a1.1 1.1 0 1 0 2.2 0a1.1 1.1 0 1 0 -2.2 0zM126.73 362.89a1.1 1.1 0 1 0 2.2 0a1.1 1.1 0 1 0 -2.2 0zM129.42 366.42a1.1 1.1 0 1 0 2.2 0a1.1 1.1 0 1 0 -2.2 0zM131.78 370.15a1.1 1.1 0 1 0 2.2 0a1.1 1.1 0 1 0 -2.2 0zM134.17 373.81a1.1 1.1 0 1 0 2.2 0a1.1 1.1 0 1 0 -2.2 0zM137.13 376.94a1.1 1.1 0 1 0 2.2 0a1.1 1.1 0 1 0 -2.2 0zM140.96 378.86a1.1 1.1 0 1 0 2.2 0a1.1 1.1 0 1 0 -2.2 0zM144.53 381.1a1.1 1.1 0 1 0 2.2 0a1.1 1.1 0 1 0 -2.2 0zM147.55 384.01a1.1 1.1 0 1 0 2.2 0a1.1 1.1 0 1 0 -2.2 0zM150.39 387.03a1.1 1.1 0 1 0 2.2 0a1.1 1.1 0 1 0 -2.2 0zM153.22 389.97a1.1 1.1 0 1 0 2.2 0a1.1 1.1 0 1 0 -2.2 0zM155.99 392.88a1.1 1.1 0 1 0 2.2 0a1.1 1.1 0 1 0 -2.2 0zM158.72 395.75a1.1 1.1 0 1 0 2.2 0a1.1 1.1 0 1 0 -2.2 0zM161.43 398.54a1.1 1.1 0 1 0 2.2 0a1.1 1.1 0 1 0 -2.2 0zM164.07 401.27a1.1 1.1 0 1 0 2.2 0a1.1 1.1 0 1 0 -2.2 0zM166.66 403.92a1.1 1.1 0 1 0 2.2 0a1.1 1.1 0 1 0 -2.2 0zM169.22 406.45a1.1 1.1 0 1 0 2.2 0a1.1 1.1 0 1 0 -2.2 0zM171.79 408.77a1.1 1.1 0 1 0 2.2 0a1.1 1.1 0 1 0 -2.2 0zM174.38 410.79a1.1 1.1 0 1 0 2.2 0a1.1 1.1 0 1 0 -2.2 0zM176.86 412.56a1.1 1.1 0 1 0 2.2 0a1.1 1.1 0 1 0 -2.2 0zM178.9 414a1.1 1.1 0 1 0 2.2 0a1.1 1.1 0 1 0 -2.2 0z"/>
<path fill="#e6df1c" d="M107.8 287.1h2.2v1.6h-2.2zM111.46 293.71h2.2v1.6h-2.2zM114.82 300.43h2.2v1.6h-2.2zM118.11 307.13h2.2v1.6h-2.2zM122.04 313.43h2.2v1.6h-2.2zM126.64 319.18h2.2v1.6h-2.2zM131.43 324.71h2.2v1.6h-2.2zM135.61 330.67h2.2v1.6h-2.2zM139.57 336.7h2.2v1.6h-2.2zM143.48 342.7h2.2v1.6h-2.2zM147.3 348.68h2.2v1.6h-2.2zM151.05 354.64h2.2v1.6h-2.2zM154.72 360.57h2.2v1.6h-2.2zM158.4 366.42h2.2v1.6h-2.2zM162.1 372.16h2.2v1.6h-2.2zM165.8 377.81h2.2v1.6h-2.2zM169.56 383.31h2.2v1.6h-2.2zM173.42 388.63h2.2v1.6h-2.2zM177.35 393.78h2.2v1.6h-2.2zM181.31 398.78h2.2v1.6h-2.2zM185.26 403.63h2.2v1.6h-2.2zM189.2 408.31h2.2v1.6h-2.2zM193.12 412.81h2.2v1.6h-2.2zM196.99 417.12h2.2v1.6h-2.2zM200.79 421.2h2.2v1.6h-2.2zM204.52 424.96h2.2v1.6h-2.2zM208.02 428.39h2.2v1.6h-2.2zM210.9 431.2h2.2v1.6h-2.2z"/>
<path fill="#e6df1c" d="M124.9 294.2h2.2v1.6h-2.2zM128.61 300.41h2.2v1.6h-2.2zM132.33 306.57h2.2v1.6h-2.2zM136.02 312.69h2.2v1.6h-2.2zM139.88 318.65h2.2v1.6h-2.2zM143.99 324.39h2.2v1.6h-2.2zM148.1 330.07h2.2v1.6h-2.2zM152.05 335.79h2.2v1.6h-2.2zM155.93 341.51h2.2v1.6h-2.2zM159.85 347.13h2.2v1.6h-2.2zM163.86 352.62h2.2v1.6h-2.2zM167.9 358.01h2.2v1.6h-2.2zM171.98 363.3h2.2v1.6h-2.2zM176.08 368.48h2.2v1.6h-2.2zM180.2 373.55h2.2v1.6h-2.2zM184.33 378.52h2.2v1.6h-2.2zM188.45 383.39h2.2v1.6h-2.2zM192.56 388.16h2.2v1.6h-2.2zM196.69 392.79h2.2v1.6h-2.2zM200.84 397.26h2.2v1.6h-2.2zM205.01 401.55h2.2v1.6h-2.2zM209.17 405.67h2.2v1.6h-2.2zM213.33 409.59h2.2v1.6h-2.2zM217.48 413.26h2.2v1.6h-2.2zM221.6 416.65h2.2v1.6h-2.2zM225.63 419.73h2.2v1.6h-2.2zM229.57 422.28h2.2v1.6h-2.2zM232.9 424.2h2.2v1.6h-2.2z"/>
<path fill="none" stroke="#f4b6c6" stroke-width="0.8" d="M205.2 373.4l1.4 2.5h-2.8zM207.3 376.01l1.4 2.5h-2.8zM209.4 378.6l1.4 2.5h-2.8zM211.55 381.13l1.4 2.5h-2.8zM213.82 383.52l1.4 2.5h-2.8zM216.05 385.91l1.4 2.5h-2.8zM218.09 388.44l1.4 2.5h-2.8zM219.81 391.17l1.4 2.5h-2.8zM221.4 393.94l1.4 2.5h-2.8zM223.09 396.63l1.4 2.5h-2.8zM224.92 399.2l1.4 2.5h-2.8zM226.99 401.54l1.4 2.5h-2.8zM229.62 403.11l1.4 2.5h-2.8zM232.57 403.95l1.4 2.5h-2.8zM235.35 405.14l1.4 2.5h-2.8zM238.05 406.45l1.4 2.5h-2.8zM240.69 407.77l1.4 2.5h-2.8zM243.3 409.09l1.4 2.5h-2.8zM245.87 410.38l1.4 2.5h-2.8zM248.4 411.65l1.4 2.5h-2.8zM250.87 412.9l1.4 2.5h-2.8zM253.3 414.12l1.4 2.5h-2.8zM255.66 415.31l1.4 2.5h-2.8zM257.96 416.46l1.4 2.5h-2.8zM260.19 417.54l1.4 2.5h-2.8zM262.33 418.51l1.4 2.5h-2.8zM264.34 419.34l1.4 2.5h-2.8zM266 420l1.4 2.5h-2.8z"/>
<path fill="none" stroke="#f4b6c6" stroke-width="0.8" d="M209.05 391.05h1.9v1.9h-1.9zM211.2 394.64h1.9v1.9h-1.9zM213.33 398.21h1.9v1.9h-1.9zM215.45 401.76h1.9v1.9h-1.9zM217.56 405.28h1.9v1.9h-1.9zM219.67 408.78h1.9v1.9h-1.9zM221.78 412.24h1.9v1.9h-1.9zM223.91 415.65h1.9v1.9h-1.9zM226.05 419.02h1.9v1.9h-1.9zM228.18 422.37h1.9v1.9h-1.9zM230.25 425.71h1.9v1.9h-1.9zM232.19 429.08h1.9v1.9h-1.9zM233.95 432.51h1.9v1.9h-1.9zM235.68 435.92h1.9v1.9h-1.9zM237.71 439.11h1.9v1.9h-1.9zM240.05 442.02h1.9v1.9h-1.9zM242.29 444.95h1.9v1.9h-1.9zM244.36 447.94h1.9v1.9h-1.9zM246.74 450.62h1.9v1.9h-1.9zM249.45 452.87h1.9v1.9h-1.9zM252.36 454.74h1.9v1.9h-1.9zM255.45 456.11h1.9v1.9h-1.9zM258.57 457.21h1.9v1.9h-1.9zM261.47 458.55h1.9v1.9h-1.9zM264.07 460.21h1.9v1.9h-1.9zM266.51 461.84h1.9v1.9h-1.9zM268.95 463.02h1.9v1.9h-1.9zM271.05 463.75h1.9v1.9h-1.9z"/>
<path d="M57.1 427.3L57.3 426.7L57.6 425.9L57.9 424.9L58.3 423.8L58.7 422.7L59.2 421.5L59.6 420.2L60.1 418.9L60.5 417.7L61.0 416.5L61.5 415.3L61.9 414.1L62.4 412.8L62.9 411.5L63.4 410.2L64.0 408.9L64.5 407.7L65.0 406.4L65.5 405.2L66.0 404.1L66.5 403.0L67.0 402.0L67.4 401.0L67.9 400.1L68.4 399.1L68.9 398.2L69.3 397.3L69.8 396.3L70.4 395.3L70.9 394.3L71.5 393.2L72.1 392.1L72.7 391.0L73.3 389.9L73.9 388.7L74.6 387.5L75.2 386.4L75.8 385.3L76.5 384.2L77.1 383.1L77.7 382.1L78.3 381.0L79.0 380.0L79.6 379.0L80.2 378.0L80.8 377.1L81.4 376.1L82.1 375.2L82.7 374.2L83.3 373.3L83.9 372.4L84.5 371.5L85.1 370.6L85.7 369.7L86.3 368.8L87.0 367.9L87.6 367.1L88.2 366.2L88.8 365.4L89.4 364.6L90.0 363.8L90.6 363.0L91.3 362.3L91.9 361.5L92.5 360.8L93.1 360.1L93.7 359.4L94.4 358.7L95.0 357.9L95.6 357.2L96.2 356.4L96.8 355.7L97.5 354.9L98.1 354.1L98.7 353.3L99.3 352.5L99.9 351.8L100.6 351.1L101.2 350.4L101.8 349.8L102.4 349.2L103.0 348.7L103.7 348.2L104.3 347.7L104.9 347.3L105.5 346.9L106.1 346.5L106.8 346.1L107.4 345.8L108.0 345.5L108.6 345.2L109.2 345.0L109.8 344.8L110.4 344.6L111.0 344.4L111.6 344.3L112.2 344.2L112.8 344.1L113.4 344.0L114.1 343.9L114.8 343.8L115.5 343.7L116.2 343.6L116.9 343.6L117.7 343.5L118.4 343.5L119.2 343.5L119.9 343.6L120.7 343.7L121.5 343.9L122.3 344.2L123.1 344.5L124.0 344.9L124.8 345.3L125.7 345.8L126.5 346.3L127.4 346.8L128.2 347.4L129.1 348.0L129.9 348.6L130.7 349.3L131.5 349.9L132.3 350.7L133.1 351.5L133.8 352.3L134.6 353.1L135.4 353.9L136.2 354.8L137.0 355.6L137.8 356.5L138.6 357.4L139.5 358.3L140.4 359.3L141.2 360.3L142.1 361.3L143.0 362.2L143.9 363.2L144.7 364.2L145.5 365.1L146.3 366.0L147.0 366.9L147.7 367.7L148.4 368.5L149.1 369.3L149.7 370.1L150.4 370.8L151.0 371.6L151.6 372.3L152.3 373.1L152.9 373.9L153.6 374.7L154.2 375.5L154.9 376.3L155.5 377.1L156.2 377.9L156.8 378.6L157.4 379.4L158.1 380.2L158.7 381.0L159.4 381.8L160.1 382.6L160.7 383.4L161.4 384.1L162.0 384.9L162.7 385.7L163.4 386.5L164.0 387.3L164.7 388.0L165.3 388.8L166.0 389.6L166.7 390.4L167.3 391.2L167.9 391.9L168.6 392.7L169.2 393.5L169.9 394.2L170.5 395.0L171.2 395.8L171.9 396.7L172.6 397.5L173.3 398.4L174.1 399.3L174.9 400.2L175.6 401.1L176.4 402.0L177.2 403.0L178.0 403.9L178.8 404.8L179.6 405.8L180.4 406.7L181.1 407.6L181.8 408.5L182.5 409.4L183.1 410.3L183.8 411.2L184.5 412.2L185.2 413.1L186.1 414.0L187.0 415.0L188.0 416.0L189.1 417.0L190.4 418.1L191.7 419.3L193.1 420.5L194.5 421.6L196.0 422.8L197.5 423.9L199.0 425.0L200.6 426.0L202.1 426.9L203.6 427.7L205.2 428.5L206.8 429.2L208.4 429.9L210.0 430.5L211.7 431.1L213.3 431.7L215.0 432.3L216.6 432.8L218.2 433.4L219.8 434.0L221.4 434.5L223.0 435.0L224.6 435.5L226.2 436.0L227.8 436.5L229.4 437.0L231.0 437.4L232.6 437.8L234.2 438.2L235.8 438.6L237.3 438.9L238.9 439.3L240.4 439.6L241.9 439.9L243.5 440.2L245.1 440.4L246.8 440.7L248.5 440.9L250.3 441.1L252.3 441.3L254.5 441.5L256.9 441.6L259.3 441.7L261.8 441.8L264.1 441.9L266.3 442.0L268.3 442.1L269.9 442.1L271.2 442.2L271.2 442.2" fill="none" stroke="#333" stroke-width="0.75"/>
<path fill="#000000" d="M476.7 333.87l1.4 1.4l-1.4 1.4l-1.4 -1.4zM480.17 338.77l1.4 1.4l-1.4 1.4l-1.4 -1.4zM483.64 343.63l1.4 1.4l-1.4 1.4l-1.4 -1.4zM487.01 348.51l1.4 1.4l-1.4 1.4l-1.4 -1.4zM490.58 353.21l1.4 1.4l-1.4 1.4l-1.4 -1.4zM494.88 357.26l1.4 1.4l-1.4 1.4l-1.4 -1.4zM499.45 361.02l1.4 1.4l-1.4 1.4l-1.4 -1.4zM503.18 365.46l1.4 1.4l-1.4 1.4l-1.4 -1.4zM506.34 370.22l1.4 1.4l-1.4 1.4l-1.4 -1.4zM509.19 375.11l1.4 1.4l-1.4 1.4l-1.4 -1.4zM511.78 380.08l1.4 1.4l-1.4 1.4l-1.4 -1.4zM514.15 385.08l1.4 1.4l-1.4 1.4l-1.4 -1.4zM516.51 390.04l1.4 1.4l-1.4 1.4l-1.4 -1.4zM519.08 394.84l1.4 1.4l-1.4 1.4l-1.4 -1.4zM522.13 399.32l1.4 1.4l-1.4 1.4l-1.4 -1.4zM525.54 403.49l1.4 1.4l-1.4 1.4l-1.4 -1.4zM528.95 407.57l1.4 1.4l-1.4 1.4l-1.4 -1.4zM532.42 411.52l1.4 1.4l-1.4 1.4l-1.4 -1.4zM535.75 415.47l1.4 1.4l-1.4 1.4l-1.4 -1.4zM538.97 419.4l1.4 1.4l-1.4 1.4l-1.4 -1.4zM542.1 423.29l1.4 1.4l-1.4 1.4l-1.4 -1.4zM545.1 427.13l1.4 1.4l-1.4 1.4l-1.4 -1.4zM547.9 430.96l1.4 1.4l-1.4 1.4l-1.4 -1.4zM550.64 434.66l1.4 1.4l-1.4 1.4l-1.4 -1.4zM553.43 438.12l1.4 1.4l-1.4 1.4l-1.4 -1.4zM556.33 441.21l1.4 1.4l-1.4 1.4l-1.4 -1.4zM559.85 443.02l1.4 1.4l-1.4 1.4l-1.4 -1.4zM563.1 443.7l1.4 1.4l-1.4 1.4l-1.4 -1.4z"/>
<path fill="#e03c3c" d="M536.9 356.92l1.45 2.6h-2.9zM540.68 361.22l1.45 2.6h-2.9zM544.15 365.7l1.45 2.6h-2.9zM547.68 370.09l1.45 2.6h-2.9zM551.86 373.9l1.45 2.6h-2.9zM556.27 377.42l1.45 2.6h-2.9zM560.26 381.3l1.45 2.6h-2.9zM563.56 385.67l1.45 2.6h-2.9zM566.89 389.98l1.45 2.6h-2.9zM570.12 394.3l1.45 2.6h-2.9zM572.86 398.86l1.45 2.6h-2.9zM575.2 403.57l1.45 2.6h-2.9zM577.37 408.29l1.45 2.6h-2.9zM579.46 412.99l1.45 2.6h-2.9zM581.49 417.66l1.45 2.6h-2.9zM583.4 422.3l1.45 2.6h-2.9zM585.28 426.9l1.45 2.6h-2.9zM587.23 431.39l1.45 2.6h-2.9zM589.34 435.74l1.45 2.6h-2.9zM591.58 439.95l1.45 2.6h-2.9zM593.95 443.98l1.45 2.6h-2.9zM596.6 447.75l1.45 2.6h-2.9zM599.99 450.77l1.45 2.6h-2.9zM603.78 453.11l1.45 2.6h-2.9zM607.71 454.9l1.45 2.6h-2.9zM611.68 456.05l1.45 2.6h-2.9zM615.42 456.88l1.45 2.6h-2.9zM618.5 457.53l1.45 2.6h-2.9z"/>
<path fill="none" stroke="#e03c3c" stroke-width="0.8" d="M513.65 350.41h1.9v1.9h-1.9zM516.75 355.42h1.9v1.9h-1.9zM519.7 360.46h1.9v1.9h-1.9zM522.91 365.3h1.9v1.9h-1.9zM527.39 369.11h1.9v1.9h-1.9zM531.88 372.86h1.9v1.9h-1.9zM536.24 376.69h1.9v1.9h-1.9zM540.42 380.64h1.9v1.9h-1.9zM544.32 384.77h1.9v1.9h-1.9zM547.52 389.35h1.9v1.9h-1.9zM550.58 393.97h1.9v1.9h-1.9zM553.72 398.48h1.9v1.9h-1.9zM556.96 402.87h1.9v1.9h-1.9zM560.25 407.16h1.9v1.9h-1.9zM563.62 411.32h1.9v1.9h-1.9zM567.15 415.29h1.9v1.9h-1.9zM570.78 419.09h1.9v1.9h-1.9zM574.46 422.75h1.9v1.9h-1.9zM578.18 426.28h1.9v1.9h-1.9zM581.98 429.6h1.9v1.9h-1.9zM585.81 432.76h1.9v1.9h-1.9zM589.57 435.83h1.9v1.9h-1.9zM593.5 438.53h1.9v1.9h-1.9zM597.74 440.44h1.9v1.9h-1.9zM602.09 441.67h1.9v1.9h-1.9zM606.31 442.54h1.9v1.9h-1.9zM610.23 443.22h1.9v1.9h-1.9zM613.45 443.77h1.9v1.9h-1.9z"/>
<path fill="none" stroke="#e03c3c" stroke-width="0.8" d="M480.3 332.45h2.8M481.7 331.05v2.8M483.94 337.58h2.8M485.34 336.18v2.8M487.57 342.68h2.8M488.97 341.28v2.8M491.11 347.79h2.8M492.51 346.39v2.8M494.95 352.65h2.8M496.35 351.25v2.8M499.64 356.74h2.8M501.04 355.34v2.8M504.25 360.84h2.8M505.65 359.44v2.8M507.92 365.67h2.8M509.32 364.27v2.8M511.1 370.75h2.8M512.5 369.35v2.8M514.01 375.92h2.8M515.41 374.52v2.8M516.59 381.18h2.8M517.99 379.78v2.8M519.06 386.44h2.8M520.46 385.04v2.8M521.64 391.59h2.8M523.04 390.19v2.8M524.66 396.46h2.8M526.06 395.06v2.8M528.2 400.93h2.8M529.6 399.53v2.8M531.8 405.28h2.8M533.2 403.88v2.8M535.48 409.48h2.8M536.88 408.08v2.8M539.04 413.68h2.8M540.44 412.28v2.8M542.48 417.86h2.8M543.88 416.46v2.8M545.82 422.01h2.8M547.22 420.61v2.8M549.03 426.13h2.8M550.43 424.73v2.8M552.02 430.26h2.8M553.42 428.86v2.8M555.04 434.22h2.8M556.44 432.82v2.8M558.11 437.97h2.8M559.51 436.57v2.8M561.68 441h2.8M563.08 439.6v2.8M566.05 442.22h2.8M567.45 440.82v2.8M570.28 441.97h2.8M571.68 440.57v2.8M573.7 441.33h2.8M575.1 439.93v2.8"/>
<path fill="none" stroke="#e03c3c" stroke-width="0.8" d="M485.65 330.57a1.05 1.05 0 1 0 2.1 0a1.05 1.05 0 1 0 -2.1 0zM489.33 335.75a1.05 1.05 0 1 0 2.1 0a1.05 1.05 0 1 0 -2.1 0zM492.99 340.9a1.05 1.05 0 1 0 2.1 0a1.05 1.05 0 1 0 -2.1 0zM496.57 346.06a1.05 1.05 0 1 0 2.1 0a1.05 1.05 0 1 0 -2.1 0zM500.47 350.96a1.05 1.05 0 1 0 2.1 0a1.05 1.05 0 1 0 -2.1 0zM505.24 355.05a1.05 1.05 0 1 0 2.1 0a1.05 1.05 0 1 0 -2.1 0zM509.85 359.24a1.05 1.05 0 1 0 2.1 0a1.05 1.05 0 1 0 -2.1 0zM513.51 364.14a1.05 1.05 0 1 0 2.1 0a1.05 1.05 0 1 0 -2.1 0zM516.7 369.29a1.05 1.05 0 1 0 2.1 0a1.05 1.05 0 1 0 -2.1 0zM519.61 374.52a1.05 1.05 0 1 0 2.1 0a1.05 1.05 0 1 0 -2.1 0zM522.2 379.85a1.05 1.05 0 1 0 2.1 0a1.05 1.05 0 1 0 -2.1 0zM524.7 385.16a1.05 1.05 0 1 0 2.1 0a1.05 1.05 0 1 0 -2.1 0zM527.34 390.34a1.05 1.05 0 1 0 2.1 0a1.05 1.05 0 1 0 -2.1 0zM530.47 395.21a1.05 1.05 0 1 0 2.1 0a1.05 1.05 0 1 0 -2.1 0zM534.1 399.69a1.05 1.05 0 1 0 2.1 0a1.05 1.05 0 1 0 -2.1 0zM537.74 404.08a1.05 1.05 0 1 0 2.1 0a1.05 1.05 0 1 0 -2.1 0zM541.46 408.32a1.05 1.05 0 1 0 2.1 0a1.05 1.05 0 1 0 -2.1 0zM545.04 412.58a1.05 1.05 0 1 0 2.1 0a1.05 1.05 0 1 0 -2.1 0zM548.5 416.81a1.05 1.05 0 1 0 2.1 0a1.05 1.05 0 1 0 -2.1 0zM551.87 421.01a1.05 1.05 0 1 0 2.1 0a1.05 1.05 0 1 0 -2.1 0zM555.07 425.19a1.05 1.05 0 1 0 2.1 0a1.05 1.05 0 1 0 -2.1 0zM558.09 429.37a1.05 1.05 0 1 0 2.1 0a1.05 1.05 0 1 0 -2.1 0zM561.19 433.34a1.05 1.05 0 1 0 2.1 0a1.05 1.05 0 1 0 -2.1 0zM564.37 437.06a1.05 1.05 0 1 0 2.1 0a1.05 1.05 0 1 0 -2.1 0zM568.26 439.79a1.05 1.05 0 1 0 2.1 0a1.05 1.05 0 1 0 -2.1 0zM572.8 440.29a1.05 1.05 0 1 0 2.1 0a1.05 1.05 0 1 0 -2.1 0zM576.84 438.93a1.05 1.05 0 1 0 2.1 0a1.05 1.05 0 1 0 -2.1 0zM580.05 437.57a1.05 1.05 0 1 0 2.1 0a1.05 1.05 0 1 0 -2.1 0z"/>
<path fill="none" stroke="#e03c3c" stroke-width="0.8" d="M474.1 295.57l1.3 1.3l-1.3 1.3l-1.3 -1.3zM476.36 302.99l1.3 1.3l-1.3 1.3l-1.3 -1.3zM478.82 310.29l1.3 1.3l-1.3 1.3l-1.3 -1.3zM483.1 316.68l1.3 1.3l-1.3 1.3l-1.3 -1.3zM487.68 322.88l1.3 1.3l-1.3 1.3l-1.3 -1.3zM492.14 329.13l1.3 1.3l-1.3 1.3l-1.3 -1.3zM496.87 335.13l1.3 1.3l-1.3 1.3l-1.3 -1.3zM501.27 341.28l1.3 1.3l-1.3 1.3l-1.3 -1.3zM504.92 347.79l1.3 1.3l-1.3 1.3l-1.3 -1.3zM508.26 354.39l1.3 1.3l-1.3 1.3l-1.3 -1.3zM511.76 360.82l1.3 1.3l-1.3 1.3l-1.3 -1.3zM516.62 366.35l1.3 1.3l-1.3 1.3l-1.3 -1.3zM521.6 371.71l1.3 1.3l-1.3 1.3l-1.3 -1.3zM526.43 377.08l1.3 1.3l-1.3 1.3l-1.3 -1.3zM531.17 382.44l1.3 1.3l-1.3 1.3l-1.3 -1.3zM535.76 387.8l1.3 1.3l-1.3 1.3l-1.3 -1.3zM540.27 393.12l1.3 1.3l-1.3 1.3l-1.3 -1.3zM544.68 398.39l1.3 1.3l-1.3 1.3l-1.3 -1.3zM549.02 403.59l1.3 1.3l-1.3 1.3l-1.3 -1.3zM553.46 408.57l1.3 1.3l-1.3 1.3l-1.3 -1.3zM558.01 413.29l1.3 1.3l-1.3 1.3l-1.3 -1.3zM562.57 417.83l1.3 1.3l-1.3 1.3l-1.3 -1.3zM567.05 422.23l1.3 1.3l-1.3 1.3l-1.3 -1.3zM571.42 426.47l1.3 1.3l-1.3 1.3l-1.3 -1.3zM575.76 430.43l1.3 1.3l-1.3 1.3l-1.3 -1.3zM580.16 433.89l1.3 1.3l-1.3 1.3l-1.3 -1.3zM584.49 436.79l1.3 1.3l-1.3 1.3l-1.3 -1.3zM588.1 439.09l1.3 1.3l-1.3 1.3l-1.3 -1.3z"/>
<path fill="#f59a20" d="M490.1 331.61l1.45 2.6h-2.9zM493.69 336.7l1.45 2.6h-2.9zM497.28 341.76l1.45 2.6h-2.9zM500.91 346.74l1.45 2.6h-2.9zM504.56 351.66l1.45 2.6h-2.9zM508.14 356.58l1.45 2.6h-2.9zM511.65 361.5l1.45 2.6h-2.9zM515.11 366.4l1.45 2.6h-2.9zM518.51 371.29l1.45 2.6h-2.9zM521.82 376.17l1.45 2.6h-2.9zM525.12 381.01l1.45 2.6h-2.9zM528.46 385.75l1.45 2.6h-2.9zM531.88 390.39l1.45 2.6h-2.9zM535.32 394.94l1.45 2.6h-2.9zM538.73 399.43l1.45 2.6h-2.9zM542.07 403.9l1.45 2.6h-2.9zM545.34 408.33l1.45 2.6h-2.9zM548.58 412.69l1.45 2.6h-2.9zM551.85 416.93l1.45 2.6h-2.9zM555.16 421.04l1.45 2.6h-2.9zM558.48 425.02l1.45 2.6h-2.9zM561.81 428.85l1.45 2.6h-2.9zM565.17 432.5l1.45 2.6h-2.9zM568.57 435.92l1.45 2.6h-2.9zM572.01 439.06l1.45 2.6h-2.9zM575.51 441.8l1.45 2.6h-2.9zM579.08 443.9l1.45 2.6h-2.9zM582.1 445.48l1.45 2.6h-2.9z"/>
<path fill="#f59a20" d="M481.1 328.34h2v2h-2zM484.89 333.49h2v2h-2zM488.73 338.56h2v2h-2zM492.75 343.45h2v2h-2zM496.63 348.4h2v2h-2zM500.18 353.51h2v2h-2zM503.57 358.67h2v2h-2zM506.91 363.81h2v2h-2zM510.21 368.92h2v2h-2zM513.47 374h2v2h-2zM516.74 379.01h2v2h-2zM520.07 383.93h2v2h-2zM523.43 388.77h2v2h-2zM526.81 393.52h2v2h-2zM530.24 398.17h2v2h-2zM533.74 402.69h2v2h-2zM537.28 407.09h2v2h-2zM540.8 411.42h2v2h-2zM544.2 415.73h2v2h-2zM547.48 420.01h2v2h-2zM550.76 424.17h2v2h-2zM554.13 428.13h2v2h-2zM557.65 431.8h2v2h-2zM561.23 435.21h2v2h-2zM564.83 438.35h2v2h-2zM568.45 441.12h2v2h-2zM572.06 443.33h2v2h-2zM575.1 445.04h2v2h-2z"/>
<path fill="#f59a20" d="M484 324.64a1.1 1.1 0 1 0 2.2 0a1.1 1.1 0 1 0 -2.2 0zM488.33 329.76a1.1 1.1 0 1 0 2.2 0a1.1 1.1 0 1 0 -2.2 0zM492.41 335.01a1.1 1.1 0 1 0 2.2 0a1.1 1.1 0 1 0 -2.2 0zM496.22 340.39a1.1 1.1 0 1 0 2.2 0a1.1 1.1 0 1 0 -2.2 0zM499.96 345.78a1.1 1.1 0 1 0 2.2 0a1.1 1.1 0 1 0 -2.2 0zM503.64 351.14a1.1 1.1 0 1 0 2.2 0a1.1 1.1 0 1 0 -2.2 0zM507.27 356.49a1.1 1.1 0 1 0 2.2 0a1.1 1.1 0 1 0 -2.2 0zM510.84 361.81a1.1 1.1 0 1 0 2.2 0a1.1 1.1 0 1 0 -2.2 0zM514.36 367.11a1.1 1.1 0 1 0 2.2 0a1.1 1.1 0 1 0 -2.2 0zM517.84 372.38a1.1 1.1 0 1 0 2.2 0a1.1 1.1 0 1 0 -2.2 0zM521.23 377.64a1.1 1.1 0 1 0 2.2 0a1.1 1.1 0 1 0 -2.2 0zM524.58 382.86a1.1 1.1 0 1 0 2.2 0a1.1 1.1 0 1 0 -2.2 0zM527.94 388a1.1 1.1 0 1 0 2.2 0a1.1 1.1 0 1 0 -2.2 0zM531.37 393.04a1.1 1.1 0 1 0 2.2 0a1.1 1.1 0 1 0 -2.2 0zM534.81 397.99a1.1 1.1 0 1 0 2.2 0a1.1 1.1 0 1 0 -2.2 0zM538.29 402.84a1.1 1.1 0 1 0 2.2 0a1.1 1.1 0 1 0 -2.2 0zM541.8 407.57a1.1 1.1 0 1 0 2.2 0a1.1 1.1 0 1 0 -2.2 0zM545.35 412.19a1.1 1.1 0 1 0 2.2 0a1.1 1.1 0 1 0 -2.2 0zM548.93 416.67a1.1 1.1 0 1 0 2.2 0a1.1 1.1 0 1 0 -2.2 0zM552.54 421.02a1.1 1.1 0 1 0 2.2 0a1.1 1.1 0 1 0 -2.2 0zM556.17 425.22a1.1 1.1 0 1 0 2.2 0a1.1 1.1 0 1 0 -2.2 0zM559.82 429.26a1.1 1.1 0 1 0 2.2 0a1.1 1.1 0 1 0 -2.2 0zM563.45 433.14a1.1 1.1 0 1 0 2.2 0a1.1 1.1 0 1 0 -2.2 0zM567.07 436.82a1.1 1.1 0 1 0 2.2 0a1.1 1.1 0 1 0 -2.2 0zM570.68 440.25a1.1 1.1 0 1 0 2.2 0a1.1 1.1 0 1 0 -2.2 0zM574.19 443.44a1.1 1.1 0 1 0 2.2 0a1.1 1.1 0 1 0 -2.2 0zM577.53 446.29a1.1 1.1 0 1 0 2.2 0a1.1 1.1 0 1 0 -2.2 0zM580.4 448.49a1.1 1.1 0 1 0 2.2 0a1.1 1.1 0 1 0 -2.2 0z"/>
<path fill="none" stroke="#66bd46" stroke-width="0.8" d="M533 323.89l1.4 2.5h-2.8zM535.42 329.54l1.4 2.5h-2.8zM537.78 335.17l1.4 2.5h-2.8zM539.88 340.86l1.4 2.5h-2.8zM541.99 346.5l1.4 2.5h-2.8zM544.76 351.84l1.4 2.5h-2.8zM547.86 356.97l1.4 2.5h-2.8zM550.97 362.05l1.4 2.5h-2.8zM554.1 367.07l1.4 2.5h-2.8zM557.1 372.1l1.4 2.5h-2.8zM559.97 377.15l1.4 2.5h-2.8zM562.55 382.27l1.4 2.5h-2.8zM564.82 387.47l1.4 2.5h-2.8zM566.66 392.75l1.4 2.5h-2.8zM568.12 398.09l1.4 2.5h-2.8zM569.76 403.3l1.4 2.5h-2.8zM572 408.24l1.4 2.5h-2.8zM574.69 412.9l1.4 2.5h-2.8zM577.84 417.19l1.4 2.5h-2.8zM581.41 421.08l1.4 2.5h-2.8zM585.14 424.69l1.4 2.5h-2.8zM588.84 428.18l1.4 2.5h-2.8zM592.26 431.75l1.4 2.5h-2.8zM595.91 434.89l1.4 2.5h-2.8zM600.31 436.6l1.4 2.5h-2.8zM604.69 437.71l1.4 2.5h-2.8zM608.74 438.74l1.4 2.5h-2.8zM612.1 439.46l1.4 2.5h-2.8z"/>
<path fill="none" stroke="#66bd46" stroke-width="0.8" d="M491.05 340.64a1.05 1.05 0 1 0 2.1 0a1.05 1.05 0 1 0 -2.1 0zM494.47 346.14a1.05 1.05 0 1 0 2.1 0a1.05 1.05 0 1 0 -2.1 0zM497.86 351.61a1.05 1.05 0 1 0 2.1 0a1.05 1.05 0 1 0 -2.1 0zM501.19 357.07a1.05 1.05 0 1 0 2.1 0a1.05 1.05 0 1 0 -2.1 0zM504.48 362.51a1.05 1.05 0 1 0 2.1 0a1.05 1.05 0 1 0 -2.1 0zM507.74 367.92a1.05 1.05 0 1 0 2.1 0a1.05 1.05 0 1 0 -2.1 0zM510.96 373.3a1.05 1.05 0 1 0 2.1 0a1.05 1.05 0 1 0 -2.1 0zM514.15 378.65a1.05 1.05 0 1 0 2.1 0a1.05 1.05 0 1 0 -2.1 0zM517.28 383.97a1.05 1.05 0 1 0 2.1 0a1.05 1.05 0 1 0 -2.1 0zM520.36 389.27a1.05 1.05 0 1 0 2.1 0a1.05 1.05 0 1 0 -2.1 0zM523.46 394.5a1.05 1.05 0 1 0 2.1 0a1.05 1.05 0 1 0 -2.1 0zM526.63 399.63a1.05 1.05 0 1 0 2.1 0a1.05 1.05 0 1 0 -2.1 0zM529.84 404.67a1.05 1.05 0 1 0 2.1 0a1.05 1.05 0 1 0 -2.1 0zM533.09 409.63a1.05 1.05 0 1 0 2.1 0a1.05 1.05 0 1 0 -2.1 0zM536.36 414.5a1.05 1.05 0 1 0 2.1 0a1.05 1.05 0 1 0 -2.1 0zM539.59 419.31a1.05 1.05 0 1 0 2.1 0a1.05 1.05 0 1 0 -2.1 0zM542.82 424.04a1.05 1.05 0 1 0 2.1 0a1.05 1.05 0 1 0 -2.1 0zM546.16 428.61a1.05 1.05 0 1 0 2.1 0a1.05 1.05 0 1 0 -2.1 0zM549.71 432.92a1.05 1.05 0 1 0 2.1 0a1.05 1.05 0 1 0 -2.1 0zM553.48 436.96a1.05 1.05 0 1 0 2.1 0a1.05 1.05 0 1 0 -2.1 0zM557.36 440.76a1.05 1.05 0 1 0 2.1 0a1.05 1.05 0 1 0 -2.1 0zM561.28 444.37a1.05 1.05 0 1 0 2.1 0a1.05 1.05 0 1 0 -2.1 0zM565.17 447.82a1.05 1.05 0 1 0 2.1 0a1.05 1.05 0 1 0 -2.1 0zM569.11 451a1.05 1.05 0 1 0 2.1 0a1.05 1.05 0 1 0 -2.1 0zM573.22 453.66a1.05 1.05 0 1 0 2.1 0a1.05 1.05 0 1 0 -2.1 0zM577.57 455.44a1.05 1.05 0 1 0 2.1 0a1.05 1.05 0 1 0 -2.1 0zM581.78 456.62a1.05 1.05 0 1 0 2.1 0a1.05 1.05 0 1 0 -2.1 0zM585.25 457.52a1.05 1.05 0 1 0 2.1 0a1.05 1.05 0 1 0 -2.1 0z"/>
<path fill="none" stroke="#66bd46" stroke-width="0.8" d="M495.7 344.4h2.8M497.1 343v2.8M498.93 349.59h2.8M500.33 348.19v2.8M502.13 354.76h2.8M503.53 353.36v2.8M505.28 359.91h2.8M506.68 358.51v2.8M508.39 365.04h2.8M509.79 363.64v2.8M511.47 370.14h2.8M512.87 368.74v2.8M514.51 375.22h2.8M515.91 373.82v2.8M517.52 380.26h2.8M518.92 378.86v2.8M520.5 385.28h2.8M521.9 383.88v2.8M523.41 390.27h2.8M524.81 388.87v2.8M526.3 395.22h2.8M527.7 393.82v2.8M529.23 400.1h2.8M530.63 398.7v2.8M532.2 404.89h2.8M533.6 403.49v2.8M535.18 409.62h2.8M536.58 408.22v2.8M538.22 414.24h2.8M539.62 412.84v2.8M541.36 418.72h2.8M542.76 417.32v2.8M544.6 423.07h2.8M546 421.67v2.8M547.91 427.27h2.8M549.31 425.87v2.8M551.31 431.31h2.8M552.71 429.91v2.8M554.84 435.15h2.8M556.24 433.75v2.8M558.47 438.76h2.8M559.87 437.36v2.8M562.21 442.13h2.8M563.61 440.73v2.8M566.07 445.19h2.8M567.47 443.79v2.8M570.06 447.85h2.8M571.46 446.45v2.8M574.06 450.2h2.8M575.46 448.8v2.8M577.92 452.35h2.8M579.32 450.95v2.8M581.61 454.11h2.8M583.01 452.71v2.8M584.7 455.45h2.8M586.1 454.05v2.8"/>
<path fill="#66bd46" d="M471 348.16a1.1 1.1 0 1 0 2.2 0a1.1 1.1 0 1 0 -2.2 0zM474.68 353.07a1.1 1.1 0 1 0 2.2 0a1.1 1.1 0 1 0 -2.2 0zM478.29 357.98a1.1 1.1 0 1 0 2.2 0a1.1 1.1 0 1 0 -2.2 0zM481.81 362.9a1.1 1.1 0 1 0 2.2 0a1.1 1.1 0 1 0 -2.2 0zM485.27 367.82a1.1 1.1 0 1 0 2.2 0a1.1 1.1 0 1 0 -2.2 0zM488.66 372.73a1.1 1.1 0 1 0 2.2 0a1.1 1.1 0 1 0 -2.2 0zM492.01 377.62a1.1 1.1 0 1 0 2.2 0a1.1 1.1 0 1 0 -2.2 0zM495.3 382.49a1.1 1.1 0 1 0 2.2 0a1.1 1.1 0 1 0 -2.2 0zM498.55 387.35a1.1 1.1 0 1 0 2.2 0a1.1 1.1 0 1 0 -2.2 0zM501.75 392.17a1.1 1.1 0 1 0 2.2 0a1.1 1.1 0 1 0 -2.2 0zM504.91 396.96a1.1 1.1 0 1 0 2.2 0a1.1 1.1 0 1 0 -2.2 0zM507.97 401.76a1.1 1.1 0 1 0 2.2 0a1.1 1.1 0 1 0 -2.2 0zM510.98 406.52a1.1 1.1 0 1 0 2.2 0a1.1 1.1 0 1 0 -2.2 0zM514.02 411.2a1.1 1.1 0 1 0 2.2 0a1.1 1.1 0 1 0 -2.2 0zM517.21 415.71a1.1 1.1 0 1 0 2.2 0a1.1 1.1 0 1 0 -2.2 0zM520.52 420.08a1.1 1.1 0 1 0 2.2 0a1.1 1.1 0 1 0 -2.2 0zM523.91 424.31a1.1 1.1 0 1 0 2.2 0a1.1 1.1 0 1 0 -2.2 0zM527.38 428.39a1.1 1.1 0 1 0 2.2 0a1.1 1.1 0 1 0 -2.2 0zM530.92 432.31a1.1 1.1 0 1 0 2.2 0a1.1 1.1 0 1 0 -2.2 0zM534.53 436.07a1.1 1.1 0 1 0 2.2 0a1.1 1.1 0 1 0 -2.2 0zM538.18 439.65a1.1 1.1 0 1 0 2.2 0a1.1 1.1 0 1 0 -2.2 0zM541.87 443.05a1.1 1.1 0 1 0 2.2 0a1.1 1.1 0 1 0 -2.2 0zM545.65 446.19a1.1 1.1 0 1 0 2.2 0a1.1 1.1 0 1 0 -2.2 0zM549.44 449.09a1.1 1.1 0 1 0 2.2 0a1.1 1.1 0 1 0 -2.2 0zM553.16 451.8a1.1 1.1 0 1 0 2.2 0a1.1 1.1 0 1 0 -2.2 0zM556.78 454.29a1.1 1.1 0 1 0 2.2 0a1.1 1.1 0 1 0 -2.2 0zM560.19 456.49a1.1 1.1 0 1 0 2.2 0a1.1 1.1 0 1 0 -2.2 0zM563 458.27a1.1 1.1 0 1 0 2.2 0a1.1 1.1 0 1 0 -2.2 0z"/>
<path fill="none" stroke="#66bd46" stroke-width="0.8" d="M460.4 337.08l1.3 1.3l-1.3 1.3l-1.3 -1.3zM465.37 342.78l1.3 1.3l-1.3 1.3l-1.3 -1.3zM470.04 348.66l1.3 1.3l-1.3 1.3l-1.3 -1.3zM473.86 355l1.3 1.3l-1.3 1.3l-1.3 -1.3zM476.72 361.72l1.3 1.3l-1.3 1.3l-1.3 -1.3zM478.77 368.66l1.3 1.3l-1.3 1.3l-1.3 -1.3zM480.79 375.56l1.3 1.3l-1.3 1.3l-1.3 -1.3zM483.87 382.02l1.3 1.3l-1.3 1.3l-1.3 -1.3zM486.99 388.4l1.3 1.3l-1.3 1.3l-1.3 -1.3zM488.37 395.26l1.3 1.3l-1.3 1.3l-1.3 -1.3zM491.44 401.54l1.3 1.3l-1.3 1.3l-1.3 -1.3zM495.61 407.18l1.3 1.3l-1.3 1.3l-1.3 -1.3zM500.43 412.26l1.3 1.3l-1.3 1.3l-1.3 -1.3zM505.46 417.05l1.3 1.3l-1.3 1.3l-1.3 -1.3zM510.42 421.82l1.3 1.3l-1.3 1.3l-1.3 -1.3zM515.49 426.37l1.3 1.3l-1.3 1.3l-1.3 -1.3zM520.67 430.69l1.3 1.3l-1.3 1.3l-1.3 -1.3zM525.78 434.94l1.3 1.3l-1.3 1.3l-1.3 -1.3zM530.71 439.25l1.3 1.3l-1.3 1.3l-1.3 -1.3zM535.54 443.5l1.3 1.3l-1.3 1.3l-1.3 -1.3zM540.35 447.59l1.3 1.3l-1.3 1.3l-1.3 -1.3zM545.1 451.57l1.3 1.3l-1.3 1.3l-1.3 -1.3zM550.01 455.11l1.3 1.3l-1.3 1.3l-1.3 -1.3zM555.19 457.98l1.3 1.3l-1.3 1.3l-1.3 -1.3zM560.58 459.93l1.3 1.3l-1.3 1.3l-1.3 -1.3zM565.95 461.03l1.3 1.3l-1.3 1.3l-1.3 -1.3zM570.97 461.76l1.3 1.3l-1.3 1.3l-1.3 -1.3zM575.1 462.34l1.3 1.3l-1.3 1.3l-1.3 -1.3z"/>
<path fill="#66bd46" d="M463.1 343.4h2v2h-2zM466.91 348.77h2v2h-2zM470.69 354.12h2v2h-2zM474.48 359.41h2v2h-2zM478.21 364.69h2v2h-2zM481.81 370h2v2h-2zM485.12 375.43h2v2h-2zM488.1 380.97h2v2h-2zM490.63 386.66h2v2h-2zM491.69 392.68h2v2h-2zM492.84 398.62h2v2h-2zM495.74 403.98h2v2h-2zM499.35 408.87h2v2h-2zM503.55 413.24h2v2h-2zM507.92 417.38h2v2h-2zM511.87 421.79h2v2h-2zM515.56 426.31h2v2h-2zM519.73 430.32h2v2h-2zM524.38 433.71h2v2h-2zM528.7 437.32h2v2h-2zM532.49 441.3h2v2h-2zM536.23 445.17h2v2h-2zM540.16 448.68h2v2h-2zM544.11 451.94h2v2h-2zM548.13 454.84h2v2h-2zM552.27 457.14h2v2h-2zM556.28 458.95h2v2h-2zM559.6 460.38h2v2h-2z"/>
<path fill="#66bd46" d="M480.1 345.9l1.45 -2.6h-2.9zM483.81 350.85l1.45 -2.6h-2.9zM487.45 355.79l1.45 -2.6h-2.9zM491 360.76l1.45 -2.6h-2.9zM494.48 365.72l1.45 -2.6h-2.9zM497.91 370.67l1.45 -2.6h-2.9zM501.28 375.6l1.45 -2.6h-2.9zM504.59 380.52l1.45 -2.6h-2.9zM507.87 385.41l1.45 -2.6h-2.9zM511.09 390.27l1.45 -2.6h-2.9zM514.28 395.11l1.45 -2.6h-2.9zM517.36 399.94l1.45 -2.6h-2.9zM520.39 404.75l1.45 -2.6h-2.9zM523.47 409.45l1.45 -2.6h-2.9zM526.71 413.99l1.45 -2.6h-2.9zM530.06 418.39l1.45 -2.6h-2.9zM533.5 422.64l1.45 -2.6h-2.9zM537.01 426.74l1.45 -2.6h-2.9zM540.61 430.67l1.45 -2.6h-2.9zM544.26 434.44l1.45 -2.6h-2.9zM547.96 438.04l1.45 -2.6h-2.9zM551.71 441.45l1.45 -2.6h-2.9zM555.48 444.64l1.45 -2.6h-2.9zM559.32 447.56l1.45 -2.6h-2.9zM563.22 450.09l1.45 -2.6h-2.9zM567.2 452.09l1.45 -2.6h-2.9zM570.98 453.74l1.45 -2.6h-2.9zM574.1 455.07l1.45 -2.6h-2.9z"/>
<path fill="#2646a0" d="M465.1 339.14l1.45 2.6h-2.9zM468.89 344.19l1.45 2.6h-2.9zM472.61 349.26l1.45 2.6h-2.9zM476.24 354.33l1.45 2.6h-2.9zM479.8 359.41l1.45 2.6h-2.9zM483.3 364.47l1.45 2.6h-2.9zM486.74 369.52l1.45 2.6h-2.9zM490.13 374.55l1.45 2.6h-2.9zM493.48 379.56l1.45 2.6h-2.9zM496.77 384.54l1.45 2.6h-2.9zM500.02 389.49l1.45 2.6h-2.9zM503.19 394.42l1.45 2.6h-2.9zM506.33 399.31l1.45 2.6h-2.9zM509.5 404.12l1.45 2.6h-2.9zM512.69 408.84l1.45 2.6h-2.9zM515.89 413.48l1.45 2.6h-2.9zM519.13 418.01l1.45 2.6h-2.9zM522.45 422.4l1.45 2.6h-2.9zM525.85 426.63l1.45 2.6h-2.9zM529.3 430.72l1.45 2.6h-2.9zM532.82 434.63l1.45 2.6h-2.9zM536.42 438.32l1.45 2.6h-2.9zM540.11 441.77l1.45 2.6h-2.9zM543.83 444.97l1.45 2.6h-2.9zM547.55 447.9l1.45 2.6h-2.9zM551.31 450.4l1.45 2.6h-2.9zM555.02 452.4l1.45 2.6h-2.9zM558.1 453.95l1.45 2.6h-2.9z"/>
<path fill="#2646a0" d="M469.1 332.11h2v2h-2zM473.08 337.42h2v2h-2zM476.98 342.74h2v2h-2zM480.78 348.07h2v2h-2zM484.51 353.4h2v2h-2zM488.18 358.73h2v2h-2zM491.78 364.03h2v2h-2zM495.34 369.32h2v2h-2zM498.84 374.58h2v2h-2zM502.29 379.81h2v2h-2zM505.68 385.02h2v2h-2zM509 390.21h2v2h-2zM512.32 395.32h2v2h-2zM515.71 400.33h2v2h-2zM519.12 405.25h2v2h-2zM522.56 410.07h2v2h-2zM526.01 414.8h2v2h-2zM529.43 419.45h2v2h-2zM532.83 424.01h2v2h-2zM536.26 428.44h2v2h-2zM539.8 432.67h2v2h-2zM543.43 436.67h2v2h-2zM547.13 440.44h2v2h-2zM550.87 443.96h2v2h-2zM554.68 447.14h2v2h-2zM558.51 449.94h2v2h-2zM562.13 452.42h2v2h-2zM565.1 454.45h2v2h-2z"/>
<path fill="#2646a0" d="M467 336.87a1.1 1.1 0 1 0 2.2 0a1.1 1.1 0 1 0 -2.2 0zM471.19 342.47a1.1 1.1 0 1 0 2.2 0a1.1 1.1 0 1 0 -2.2 0zM475.29 348.07a1.1 1.1 0 1 0 2.2 0a1.1 1.1 0 1 0 -2.2 0zM479.29 353.7a1.1 1.1 0 1 0 2.2 0a1.1 1.1 0 1 0 -2.2 0zM483.21 359.32a1.1 1.1 0 1 0 2.2 0a1.1 1.1 0 1 0 -2.2 0zM487.06 364.93a1.1 1.1 0 1 0 2.2 0a1.1 1.1 0 1 0 -2.2 0zM490.85 370.53a1.1 1.1 0 1 0 2.2 0a1.1 1.1 0 1 0 -2.2 0zM494.58 376.1a1.1 1.1 0 1 0 2.2 0a1.1 1.1 0 1 0 -2.2 0zM498.26 381.65a1.1 1.1 0 1 0 2.2 0a1.1 1.1 0 1 0 -2.2 0zM501.89 387.17a1.1 1.1 0 1 0 2.2 0a1.1 1.1 0 1 0 -2.2 0zM505.42 392.67a1.1 1.1 0 1 0 2.2 0a1.1 1.1 0 1 0 -2.2 0zM508.93 398.13a1.1 1.1 0 1 0 2.2 0a1.1 1.1 0 1 0 -2.2 0zM512.5 403.48a1.1 1.1 0 1 0 2.2 0a1.1 1.1 0 1 0 -2.2 0zM516.12 408.73a1.1 1.1 0 1 0 2.2 0a1.1 1.1 0 1 0 -2.2 0zM519.77 413.87a1.1 1.1 0 1 0 2.2 0a1.1 1.1 0 1 0 -2.2 0zM523.44 418.92a1.1 1.1 0 1 0 2.2 0a1.1 1.1 0 1 0 -2.2 0zM527.08 423.9a1.1 1.1 0 1 0 2.2 0a1.1 1.1 0 1 0 -2.2 0zM530.68 428.8a1.1 1.1 0 1 0 2.2 0a1.1 1.1 0 1 0 -2.2 0zM534.36 433.54a1.1 1.1 0 1 0 2.2 0a1.1 1.1 0 1 0 -2.2 0zM538.25 438a1.1 1.1 0 1 0 2.2 0a1.1 1.1 0 1 0 -2.2 0zM542.31 442.18a1.1 1.1 0 1 0 2.2 0a1.1 1.1 0 1 0 -2.2 0zM546.5 446.08a1.1 1.1 0 1 0 2.2 0a1.1 1.1 0 1 0 -2.2 0zM550.81 449.66a1.1 1.1 0 1 0 2.2 0a1.1 1.1 0 1 0 -2.2 0zM555.27 452.81a1.1 1.1 0 1 0 2.2 0a1.1 1.1 0 1 0 -2.2 0zM559.78 455.53a1.1 1.1 0 1 0 2.2 0a1.1 1.1 0 1 0 -2.2 0zM564.22 457.89a1.1 1.1 0 1 0 2.2 0a1.1 1.1 0 1 0 -2.2 0zM568.59 459.55a1.1 1.1 0 1 0 2.2 0a1.1 1.1 0 1 0 -2.2 0zM572.4 460.16a1.1 1.1 0 1 0 2.2 0a1.1 1.1 0 1 0 -2.2 0z"/>
<path fill="#2646a0" d="M481 336.07h2.2v1.6h-2.2zM485.22 341.99h2.2v1.6h-2.2zM489.37 347.9h2.2v1.6h-2.2zM493.44 353.81h2.2v1.6h-2.2zM497.44 359.71h2.2v1.6h-2.2zM501.39 365.59h2.2v1.6h-2.2zM505.27 371.45h2.2v1.6h-2.2zM509.1 377.29h2.2v1.6h-2.2zM512.84 383.11h2.2v1.6h-2.2zM516.57 388.89h2.2v1.6h-2.2zM520.37 394.55h2.2v1.6h-2.2zM524.23 400.1h2.2v1.6h-2.2zM528.13 405.56h2.2v1.6h-2.2zM532.06 410.91h2.2v1.6h-2.2zM536 416.18h2.2v1.6h-2.2zM539.97 421.34h2.2v1.6h-2.2zM543.97 426.38h2.2v1.6h-2.2zM548 431.28h2.2v1.6h-2.2zM552.08 436.04h2.2v1.6h-2.2zM556.21 440.62h2.2v1.6h-2.2zM560.36 445.04h2.2v1.6h-2.2zM564.49 449.31h2.2v1.6h-2.2zM568.61 453.38h2.2v1.6h-2.2zM572.88 457.08h2.2v1.6h-2.2zM578.14 458.1h2.2v1.6h-2.2zM583.1 459.84h2.2v1.6h-2.2zM587.77 461.24h2.2v1.6h-2.2zM591.7 462.09h2.2v1.6h-2.2z"/>
<path fill="#2646a0" d="M459 328.54h2.2v1.6h-2.2zM462.81 333.62h2.2v1.6h-2.2zM466.54 338.7h2.2v1.6h-2.2zM470.18 343.8h2.2v1.6h-2.2zM473.75 348.89h2.2v1.6h-2.2zM477.27 353.98h2.2v1.6h-2.2zM480.72 359.05h2.2v1.6h-2.2zM484.12 364.1h2.2v1.6h-2.2zM487.48 369.12h2.2v1.6h-2.2zM490.79 374.12h2.2v1.6h-2.2zM494.05 379.09h2.2v1.6h-2.2zM497.23 384.04h2.2v1.6h-2.2zM500.38 388.95h2.2v1.6h-2.2zM503.56 393.77h2.2v1.6h-2.2zM506.79 398.5h2.2v1.6h-2.2zM510.03 403.14h2.2v1.6h-2.2zM513.29 407.68h2.2v1.6h-2.2zM516.57 412.12h2.2v1.6h-2.2zM519.85 416.46h2.2v1.6h-2.2zM523.15 420.69h2.2v1.6h-2.2zM526.51 424.74h2.2v1.6h-2.2zM530 428.55h2.2v1.6h-2.2zM533.6 432.1h2.2v1.6h-2.2zM537.25 435.4h2.2v1.6h-2.2zM540.91 438.43h2.2v1.6h-2.2zM544.58 441.07h2.2v1.6h-2.2zM548.1 443.37h2.2v1.6h-2.2zM551 445.24h2.2v1.6h-2.2z"/>
<path fill="none" stroke="#2646a0" stroke-width="0.8" d="M487 341.42l2.2 2.2M489.2 341.42l-2.2 2.2M490.65 346.54l2.2 2.2M492.85 346.54l-2.2 2.2M494.26 351.65l2.2 2.2M496.46 351.65l-2.2 2.2M497.8 356.76l2.2 2.2M500 356.76l-2.2 2.2M501.28 361.86l2.2 2.2M503.48 361.86l-2.2 2.2M504.71 366.94l2.2 2.2M506.91 366.94l-2.2 2.2M508.09 372.01l2.2 2.2M510.29 372.01l-2.2 2.2M511.43 377.04l2.2 2.2M513.63 377.04l-2.2 2.2M514.73 382.06l2.2 2.2M516.93 382.06l-2.2 2.2M517.94 387.06l2.2 2.2M520.14 387.06l-2.2 2.2M521.13 392.02l2.2 2.2M523.33 392.02l-2.2 2.2M524.34 396.91l2.2 2.2M526.54 396.91l-2.2 2.2M527.6 401.71l2.2 2.2M529.8 401.71l-2.2 2.2M530.85 406.44l2.2 2.2M533.05 406.44l-2.2 2.2M534.16 411.07l2.2 2.2M536.36 411.07l-2.2 2.2M537.57 415.55l2.2 2.2M539.77 415.55l-2.2 2.2M541.07 419.89l2.2 2.2M543.27 419.89l-2.2 2.2M544.63 424.08l2.2 2.2M546.83 424.08l-2.2 2.2M548.29 428.1l2.2 2.2M550.49 428.1l-2.2 2.2M552.06 431.91l2.2 2.2M554.26 431.91l-2.2 2.2M555.95 435.47l2.2 2.2M558.15 435.47l-2.2 2.2M559.92 438.78l2.2 2.2M562.12 438.78l-2.2 2.2M563.93 441.86l2.2 2.2M566.13 441.86l-2.2 2.2M568.02 444.61l2.2 2.2M570.22 444.61l-2.2 2.2M572.1 447.06l2.2 2.2M574.3 447.06l-2.2 2.2M576.05 449.28l2.2 2.2M578.25 449.28l-2.2 2.2M579.83 451.09l2.2 2.2M582.03 451.09l-2.2 2.2M583 452.47l2.2 2.2M585.2 452.47l-2.2 2.2"/>
<path fill="none" stroke="#7840ae" stroke-width="0.8" d="M463.6 312.69l1.4 2.5h-2.8zM467.23 318.72l1.4 2.5h-2.8zM470.83 324.71l1.4 2.5h-2.8zM474.39 330.68l1.4 2.5h-2.8zM477.96 336.6l1.4 2.5h-2.8zM481.45 342.5l1.4 2.5h-2.8zM484.8 348.43l1.4 2.5h-2.8zM488.16 354.3l1.4 2.5h-2.8zM491.63 360.05l1.4 2.5h-2.8zM495.08 365.75l1.4 2.5h-2.8zM498.33 371.5l1.4 2.5h-2.8zM501.37 377.28l1.4 2.5h-2.8zM504.37 383.02l1.4 2.5h-2.8zM507.48 388.62l1.4 2.5h-2.8zM510.71 394.09l1.4 2.5h-2.8zM513.95 399.48l1.4 2.5h-2.8zM517.08 404.84l1.4 2.5h-2.8zM520.05 410.18l1.4 2.5h-2.8zM522.97 415.44l1.4 2.5h-2.8zM525.99 420.54l1.4 2.5h-2.8zM529.37 425.3l1.4 2.5h-2.8zM533.29 429.53l1.4 2.5h-2.8zM537.52 433.27l1.4 2.5h-2.8zM541.91 436.61l1.4 2.5h-2.8zM546.31 439.6l1.4 2.5h-2.8zM550.59 442.31l1.4 2.5h-2.8zM554.7 444.6l1.4 2.5h-2.8zM558.1 446.42l1.4 2.5h-2.8z"/>
<path fill="none" stroke="#7840ae" stroke-width="0.8" d="M455.05 317.11a1.05 1.05 0 1 0 2.1 0a1.05 1.05 0 1 0 -2.1 0zM458.91 322.59a1.05 1.05 0 1 0 2.1 0a1.05 1.05 0 1 0 -2.1 0zM462.84 328a1.05 1.05 0 1 0 2.1 0a1.05 1.05 0 1 0 -2.1 0zM466.82 333.31a1.05 1.05 0 1 0 2.1 0a1.05 1.05 0 1 0 -2.1 0zM470.68 338.66a1.05 1.05 0 1 0 2.1 0a1.05 1.05 0 1 0 -2.1 0zM474.46 344a1.05 1.05 0 1 0 2.1 0a1.05 1.05 0 1 0 -2.1 0zM478.18 349.33a1.05 1.05 0 1 0 2.1 0a1.05 1.05 0 1 0 -2.1 0zM481.86 354.64a1.05 1.05 0 1 0 2.1 0a1.05 1.05 0 1 0 -2.1 0zM485.38 359.98a1.05 1.05 0 1 0 2.1 0a1.05 1.05 0 1 0 -2.1 0zM488.68 365.39a1.05 1.05 0 1 0 2.1 0a1.05 1.05 0 1 0 -2.1 0zM491.86 370.8a1.05 1.05 0 1 0 2.1 0a1.05 1.05 0 1 0 -2.1 0zM495.04 376.15a1.05 1.05 0 1 0 2.1 0a1.05 1.05 0 1 0 -2.1 0zM498.29 381.39a1.05 1.05 0 1 0 2.1 0a1.05 1.05 0 1 0 -2.1 0zM501.43 386.63a1.05 1.05 0 1 0 2.1 0a1.05 1.05 0 1 0 -2.1 0zM504.24 391.96a1.05 1.05 0 1 0 2.1 0a1.05 1.05 0 1 0 -2.1 0zM506.68 397.37a1.05 1.05 0 1 0 2.1 0a1.05 1.05 0 1 0 -2.1 0zM509.06 402.73a1.05 1.05 0 1 0 2.1 0a1.05 1.05 0 1 0 -2.1 0zM511.72 407.88a1.05 1.05 0 1 0 2.1 0a1.05 1.05 0 1 0 -2.1 0zM515.03 412.58a1.05 1.05 0 1 0 2.1 0a1.05 1.05 0 1 0 -2.1 0zM518.84 416.81a1.05 1.05 0 1 0 2.1 0a1.05 1.05 0 1 0 -2.1 0zM522.72 420.85a1.05 1.05 0 1 0 2.1 0a1.05 1.05 0 1 0 -2.1 0zM526.69 424.65a1.05 1.05 0 1 0 2.1 0a1.05 1.05 0 1 0 -2.1 0zM530.68 428.24a1.05 1.05 0 1 0 2.1 0a1.05 1.05 0 1 0 -2.1 0zM534.66 431.62a1.05 1.05 0 1 0 2.1 0a1.05 1.05 0 1 0 -2.1 0zM538.6 434.75a1.05 1.05 0 1 0 2.1 0a1.05 1.05 0 1 0 -2.1 0zM542.42 437.65a1.05 1.05 0 1 0 2.1 0a1.05 1.05 0 1 0 -2.1 0zM546.05 440.21a1.05 1.05 0 1 0 2.1 0a1.05 1.05 0 1 0 -2.1 0zM549.05 442.28a1.05 1.05 0 1 0 2.1 0a1.05 1.05 0 1 0 -2.1 0z"/>
<path fill="none" stroke="#7840ae" stroke-width="0.8" d="M437 308.07h2.8M438.4 306.67v2.8M440.59 311.86h2.8M441.99 310.46v2.8M443.93 315.81h2.8M445.33 314.41v2.8M446.78 320.05h2.8M448.18 318.65v2.8M449.91 324.06h2.8M451.31 322.66v2.8M453.36 327.8h2.8M454.76 326.4v2.8M456.55 331.69h2.8M457.95 330.29v2.8M459.51 335.71h2.8M460.91 334.31v2.8M462.4 339.72h2.8M463.8 338.32v2.8M465.25 343.71h2.8M466.65 342.31v2.8M468.05 347.68h2.8M469.45 346.28v2.8M470.8 351.64h2.8M472.2 350.24v2.8M473.51 355.57h2.8M474.91 354.17v2.8M476.17 359.47h2.8M477.57 358.07v2.8M478.78 363.34h2.8M480.18 361.94v2.8M481.35 367.18h2.8M482.75 365.78v2.8M483.87 370.98h2.8M485.27 369.58v2.8M486.35 374.73h2.8M487.75 373.33v2.8M488.79 378.42h2.8M490.19 377.02v2.8M491.18 382.06h2.8M492.58 380.66v2.8M493.52 385.64h2.8M494.92 384.24v2.8M495.82 389.14h2.8M497.22 387.74v2.8M498.12 392.51h2.8M499.52 391.11v2.8M500.44 395.73h2.8M501.84 394.33v2.8M502.73 398.79h2.8M504.13 397.39v2.8M504.95 401.67h2.8M506.35 400.27v2.8M507.01 404.33h2.8M508.41 402.93v2.8M508.7 406.51h2.8M510.1 405.11v2.8"/>
<path fill="#7840ae" d="M448.7 311.74a1.1 1.1 0 1 0 2.2 0a1.1 1.1 0 1 0 -2.2 0zM452.31 316.05a1.1 1.1 0 1 0 2.2 0a1.1 1.1 0 1 0 -2.2 0zM455.59 320.53a1.1 1.1 0 1 0 2.2 0a1.1 1.1 0 1 0 -2.2 0zM458.33 325.29a1.1 1.1 0 1 0 2.2 0a1.1 1.1 0 1 0 -2.2 0zM460.62 330.22a1.1 1.1 0 1 0 2.2 0a1.1 1.1 0 1 0 -2.2 0zM462.78 335.16a1.1 1.1 0 1 0 2.2 0a1.1 1.1 0 1 0 -2.2 0zM465.36 339.88a1.1 1.1 0 1 0 2.2 0a1.1 1.1 0 1 0 -2.2 0zM468.06 344.5a1.1 1.1 0 1 0 2.2 0a1.1 1.1 0 1 0 -2.2 0zM470.65 349.14a1.1 1.1 0 1 0 2.2 0a1.1 1.1 0 1 0 -2.2 0zM473.41 353.63a1.1 1.1 0 1 0 2.2 0a1.1 1.1 0 1 0 -2.2 0zM476.92 357.56a1.1 1.1 0 1 0 2.2 0a1.1 1.1 0 1 0 -2.2 0zM481.16 360.74a1.1 1.1 0 1 0 2.2 0a1.1 1.1 0 1 0 -2.2 0zM485.06 364.19a1.1 1.1 0 1 0 2.2 0a1.1 1.1 0 1 0 -2.2 0zM487.27 368.71a1.1 1.1 0 1 0 2.2 0a1.1 1.1 0 1 0 -2.2 0zM488.54 373.52a1.1 1.1 0 1 0 2.2 0a1.1 1.1 0 1 0 -2.2 0zM490.87 377.85a1.1 1.1 0 1 0 2.2 0a1.1 1.1 0 1 0 -2.2 0zM494.27 381.47a1.1 1.1 0 1 0 2.2 0a1.1 1.1 0 1 0 -2.2 0zM496.64 385.68a1.1 1.1 0 1 0 2.2 0a1.1 1.1 0 1 0 -2.2 0zM498.78 389.92a1.1 1.1 0 1 0 2.2 0a1.1 1.1 0 1 0 -2.2 0zM501.27 393.9a1.1 1.1 0 1 0 2.2 0a1.1 1.1 0 1 0 -2.2 0zM503.96 397.67a1.1 1.1 0 1 0 2.2 0a1.1 1.1 0 1 0 -2.2 0zM506.64 401.32a1.1 1.1 0 1 0 2.2 0a1.1 1.1 0 1 0 -2.2 0zM509.18 404.93a1.1 1.1 0 1 0 2.2 0a1.1 1.1 0 1 0 -2.2 0zM511.57 408.47a1.1 1.1 0 1 0 2.2 0a1.1 1.1 0 1 0 -2.2 0zM513.91 411.86a1.1 1.1 0 1 0 2.2 0a1.1 1.1 0 1 0 -2.2 0zM516.29 414.98a1.1 1.1 0 1 0 2.2 0a1.1 1.1 0 1 0 -2.2 0zM518.81 417.63a1.1 1.1 0 1 0 2.2 0a1.1 1.1 0 1 0 -2.2 0zM521 419.69a1.1 1.1 0 1 0 2.2 0a1.1 1.1 0 1 0 -2.2 0z"/>
<path fill="none" stroke="#7840ae" stroke-width="0.8" d="M408 422.44l1.3 1.3l-1.3 1.3l-1.3 -1.3zM412.09 423.3l1.3 1.3l-1.3 1.3l-1.3 -1.3zM416.15 424.17l1.3 1.3l-1.3 1.3l-1.3 -1.3zM420.19 425.04l1.3 1.3l-1.3 1.3l-1.3 -1.3zM424.2 425.9l1.3 1.3l-1.3 1.3l-1.3 -1.3zM428.2 426.73l1.3 1.3l-1.3 1.3l-1.3 -1.3zM432.16 427.58l1.3 1.3l-1.3 1.3l-1.3 -1.3zM436.07 428.49l1.3 1.3l-1.3 1.3l-1.3 -1.3zM439.94 429.46l1.3 1.3l-1.3 1.3l-1.3 -1.3zM443.77 430.46l1.3 1.3l-1.3 1.3l-1.3 -1.3zM447.54 431.52l1.3 1.3l-1.3 1.3l-1.3 -1.3zM451.24 432.68l1.3 1.3l-1.3 1.3l-1.3 -1.3zM454.86 433.97l1.3 1.3l-1.3 1.3l-1.3 -1.3zM458.4 435.35l1.3 1.3l-1.3 1.3l-1.3 -1.3zM461.86 436.79l1.3 1.3l-1.3 1.3l-1.3 -1.3zM465.26 438.27l1.3 1.3l-1.3 1.3l-1.3 -1.3zM468.59 439.77l1.3 1.3l-1.3 1.3l-1.3 -1.3zM471.86 441.3l1.3 1.3l-1.3 1.3l-1.3 -1.3zM475.04 442.87l1.3 1.3l-1.3 1.3l-1.3 -1.3zM478.11 444.51l1.3 1.3l-1.3 1.3l-1.3 -1.3zM481.03 446.27l1.3 1.3l-1.3 1.3l-1.3 -1.3zM483.76 448.17l1.3 1.3l-1.3 1.3l-1.3 -1.3zM486.32 450.15l1.3 1.3l-1.3 1.3l-1.3 -1.3zM488.75 452.12l1.3 1.3l-1.3 1.3l-1.3 -1.3zM491.1 454.02l1.3 1.3l-1.3 1.3l-1.3 -1.3zM493.29 455.87l1.3 1.3l-1.3 1.3l-1.3 -1.3zM495.27 457.61l1.3 1.3l-1.3 1.3l-1.3 -1.3zM496.9 459.04l1.3 1.3l-1.3 1.3l-1.3 -1.3z"/>
<path fill="#e6df1c" d="M466.1 310.9l1.45 2.6h-2.9zM469.85 316.84l1.45 2.6h-2.9zM473.68 322.68l1.45 2.6h-2.9zM477.6 328.43l1.45 2.6h-2.9zM481.41 334.19l1.45 2.6h-2.9zM485.14 339.94l1.45 2.6h-2.9zM488.93 345.61l1.45 2.6h-2.9zM492.77 351.19l1.45 2.6h-2.9zM496.55 356.74l1.45 2.6h-2.9zM500.25 362.28l1.45 2.6h-2.9zM503.9 367.79l1.45 2.6h-2.9zM507.49 373.27l1.45 2.6h-2.9zM510.99 378.72l1.45 2.6h-2.9zM514.47 384.12l1.45 2.6h-2.9zM518 389.4l1.45 2.6h-2.9zM521.54 394.59l1.45 2.6h-2.9zM525.11 399.68l1.45 2.6h-2.9zM528.78 404.6l1.45 2.6h-2.9zM532.58 409.32l1.45 2.6h-2.9zM536.47 413.84l1.45 2.6h-2.9zM540.39 418.21l1.45 2.6h-2.9zM544.3 422.43l1.45 2.6h-2.9zM548.19 426.47l1.45 2.6h-2.9zM552.05 430.32l1.45 2.6h-2.9zM555.85 433.95l1.45 2.6h-2.9zM559.61 437.26l1.45 2.6h-2.9zM563.17 440.23l1.45 2.6h-2.9zM566.1 442.66l1.45 2.6h-2.9z"/>
<path fill="#e6df1c" d="M446.9 310.74h2v2h-2zM449.93 315.69h2v2h-2zM452.79 320.7h2v2h-2zM455.28 325.83h2v2h-2zM458.02 330.82h2v2h-2zM460.96 335.66h2v2h-2zM464.09 340.35h2v2h-2zM467.26 344.97h2v2h-2zM470.32 349.61h2v2h-2zM473.31 354.23h2v2h-2zM476.32 358.79h2v2h-2zM479.37 363.27h2v2h-2zM482.42 367.7h2v2h-2zM485.41 372.09h2v2h-2zM488.33 376.47h2v2h-2zM491.2 380.8h2v2h-2zM494.03 385.08h2v2h-2zM496.82 389.3h2v2h-2zM499.54 393.48h2v2h-2zM502.24 397.57h2v2h-2zM504.96 401.55h2v2h-2zM507.73 405.37h2v2h-2zM510.5 409.05h2v2h-2zM513.25 412.59h2v2h-2zM515.94 415.96h2v2h-2zM518.57 419.11h2v2h-2zM521.05 421.98h2v2h-2zM523.1 424.34h2v2h-2z"/>
<path fill="#e6df1c" d="M455.3 345.15a1.1 1.1 0 1 0 2.2 0a1.1 1.1 0 1 0 -2.2 0zM457.87 348.85a1.1 1.1 0 1 0 2.2 0a1.1 1.1 0 1 0 -2.2 0zM460.71 352.33a1.1 1.1 0 1 0 2.2 0a1.1 1.1 0 1 0 -2.2 0zM463.81 355.57a1.1 1.1 0 1 0 2.2 0a1.1 1.1 0 1 0 -2.2 0zM467.12 358.59a1.1 1.1 0 1 0 2.2 0a1.1 1.1 0 1 0 -2.2 0zM470.34 361.66a1.1 1.1 0 1 0 2.2 0a1.1 1.1 0 1 0 -2.2 0zM473.1 365.06a1.1 1.1 0 1 0 2.2 0a1.1 1.1 0 1 0 -2.2 0zM475.94 368.36a1.1 1.1 0 1 0 2.2 0a1.1 1.1 0 1 0 -2.2 0zM478.83 371.58a1.1 1.1 0 1 0 2.2 0a1.1 1.1 0 1 0 -2.2 0zM481.52 374.91a1.1 1.1 0 1 0 2.2 0a1.1 1.1 0 1 0 -2.2 0zM483.88 378.42a1.1 1.1 0 1 0 2.2 0a1.1 1.1 0 1 0 -2.2 0zM486.27 381.87a1.1 1.1 0 1 0 2.2 0a1.1 1.1 0 1 0 -2.2 0zM489.23 384.81a1.1 1.1 0 1 0 2.2 0a1.1 1.1 0 1 0 -2.2 0zM493.06 386.62a1.1 1.1 0 1 0 2.2 0a1.1 1.1 0 1 0 -2.2 0zM496.63 388.73a1.1 1.1 0 1 0 2.2 0a1.1 1.1 0 1 0 -2.2 0zM499.65 391.47a1.1 1.1 0 1 0 2.2 0a1.1 1.1 0 1 0 -2.2 0zM502.49 394.31a1.1 1.1 0 1 0 2.2 0a1.1 1.1 0 1 0 -2.2 0zM505.32 397.07a1.1 1.1 0 1 0 2.2 0a1.1 1.1 0 1 0 -2.2 0zM508.09 399.82a1.1 1.1 0 1 0 2.2 0a1.1 1.1 0 1 0 -2.2 0zM510.82 402.51a1.1 1.1 0 1 0 2.2 0a1.1 1.1 0 1 0 -2.2 0zM513.53 405.14a1.1 1.1 0 1 0 2.2 0a1.1 1.1 0 1 0 -2.2 0zM516.17 407.71a1.1 1.1 0 1 0 2.2 0a1.1 1.1 0 1 0 -2.2 0zM518.76 410.2a1.1 1.1 0 1 0 2.2 0a1.1 1.1 0 1 0 -2.2 0zM521.32 412.58a1.1 1.1 0 1 0 2.2 0a1.1 1.1 0 1 0 -2.2 0zM523.89 414.76a1.1 1.1 0 1 0 2.2 0a1.1 1.1 0 1 0 -2.2 0zM526.48 416.67a1.1 1.1 0 1 0 2.2 0a1.1 1.1 0 1 0 -2.2 0zM528.96 418.34a1.1 1.1 0 1 0 2.2 0a1.1 1.1 0 1 0 -2.2 0zM531 419.69a1.1 1.1 0 1 0 2.2 0a1.1 1.1 0 1 0 -2.2 0z"/>
<path fill="#e6df1c" d="M459.9 300.21h2.2v1.6h-2.2zM463.56 306.44h2.2v1.6h-2.2zM466.92 312.76h2.2v1.6h-2.2zM470.21 319.07h2.2v1.6h-2.2zM474.14 324.99h2.2v1.6h-2.2zM478.74 330.41h2.2v1.6h-2.2zM483.53 335.61h2.2v1.6h-2.2zM487.71 341.22h2.2v1.6h-2.2zM491.67 346.89h2.2v1.6h-2.2zM495.58 352.54h2.2v1.6h-2.2zM499.4 358.17h2.2v1.6h-2.2zM503.15 363.78h2.2v1.6h-2.2zM506.82 369.36h2.2v1.6h-2.2zM510.5 374.86h2.2v1.6h-2.2zM514.2 380.26h2.2v1.6h-2.2zM517.9 385.58h2.2v1.6h-2.2zM521.66 390.76h2.2v1.6h-2.2zM525.52 395.77h2.2v1.6h-2.2zM529.45 400.62h2.2v1.6h-2.2zM533.41 405.32h2.2v1.6h-2.2zM537.36 409.88h2.2v1.6h-2.2zM541.3 414.29h2.2v1.6h-2.2zM545.22 418.53h2.2v1.6h-2.2zM549.09 422.58h2.2v1.6h-2.2zM552.89 426.41h2.2v1.6h-2.2zM556.62 429.96h2.2v1.6h-2.2zM560.12 433.19h2.2v1.6h-2.2zM563 435.83h2.2v1.6h-2.2z"/>
<path fill="#e6df1c" d="M477 306.9h2.2v1.6h-2.2zM480.71 312.74h2.2v1.6h-2.2zM484.43 318.54h2.2v1.6h-2.2zM488.12 324.3h2.2v1.6h-2.2zM491.98 329.9h2.2v1.6h-2.2zM496.09 335.31h2.2v1.6h-2.2zM500.2 340.65h2.2v1.6h-2.2zM504.15 346.04h2.2v1.6h-2.2zM508.03 351.42h2.2v1.6h-2.2zM511.95 356.71h2.2v1.6h-2.2zM515.96 361.88h2.2v1.6h-2.2zM520 366.95h2.2v1.6h-2.2zM524.08 371.92h2.2v1.6h-2.2zM528.18 376.8h2.2v1.6h-2.2zM532.3 381.58h2.2v1.6h-2.2zM536.43 386.25h2.2v1.6h-2.2zM540.55 390.84h2.2v1.6h-2.2zM544.66 395.32h2.2v1.6h-2.2zM548.79 399.68h2.2v1.6h-2.2zM552.94 403.88h2.2v1.6h-2.2zM557.11 407.93h2.2v1.6h-2.2zM561.27 411.8h2.2v1.6h-2.2zM565.43 415.49h2.2v1.6h-2.2zM569.58 418.94h2.2v1.6h-2.2zM573.7 422.14h2.2v1.6h-2.2zM577.73 425.04h2.2v1.6h-2.2zM581.67 427.43h2.2v1.6h-2.2zM585 429.24h2.2v1.6h-2.2z"/>
<path fill="none" stroke="#f4b6c6" stroke-width="0.8" d="M557.3 381.39l1.4 2.5h-2.8zM559.4 383.85l1.4 2.5h-2.8zM561.5 386.29l1.4 2.5h-2.8zM563.65 388.66l1.4 2.5h-2.8zM565.92 390.91l1.4 2.5h-2.8zM568.15 393.16l1.4 2.5h-2.8zM570.19 395.54l1.4 2.5h-2.8zM571.91 398.11l1.4 2.5h-2.8zM573.5 400.73l1.4 2.5h-2.8zM575.19 403.26l1.4 2.5h-2.8zM577.02 405.67l1.4 2.5h-2.8zM579.09 407.87l1.4 2.5h-2.8zM581.72 409.35l1.4 2.5h-2.8zM584.67 410.14l1.4 2.5h-2.8zM587.45 411.26l1.4 2.5h-2.8zM590.15 412.49l1.4 2.5h-2.8zM592.79 413.74l1.4 2.5h-2.8zM595.4 414.98l1.4 2.5h-2.8zM597.97 416.2l1.4 2.5h-2.8zM600.5 417.39l1.4 2.5h-2.8zM602.97 418.56l1.4 2.5h-2.8zM605.4 419.71l1.4 2.5h-2.8zM607.76 420.84l1.4 2.5h-2.8zM610.06 421.91l1.4 2.5h-2.8zM612.29 422.93l1.4 2.5h-2.8zM614.43 423.84l1.4 2.5h-2.8zM616.44 424.62l1.4 2.5h-2.8zM618.1 425.25l1.4 2.5h-2.8z"/>
<path fill="none" stroke="#f4b6c6" stroke-width="0.8" d="M561.15 398.03h1.9v1.9h-1.9zM563.3 401.41h1.9v1.9h-1.9zM565.43 404.77h1.9v1.9h-1.9zM567.55 408.11h1.9v1.9h-1.9zM569.66 411.43h1.9v1.9h-1.9zM571.77 414.72h1.9v1.9h-1.9zM573.88 417.97h1.9v1.9h-1.9zM576.01 421.18h1.9v1.9h-1.9zM578.15 424.36h1.9v1.9h-1.9zM580.28 427.51h1.9v1.9h-1.9zM582.35 430.65h1.9v1.9h-1.9zM584.29 433.82h1.9v1.9h-1.9zM586.05 437.06h1.9v1.9h-1.9zM587.78 440.26h1.9v1.9h-1.9zM589.81 443.26h1.9v1.9h-1.9zM592.15 446h1.9v1.9h-1.9zM594.39 448.76h1.9v1.9h-1.9zM596.46 451.57h1.9v1.9h-1.9zM598.84 454.1h1.9v1.9h-1.9zM601.55 456.22h1.9v1.9h-1.9zM604.46 457.98h1.9v1.9h-1.9zM607.55 459.26h1.9v1.9h-1.9zM610.67 460.29h1.9v1.9h-1.9zM613.57 461.56h1.9v1.9h-1.9zM616.17 463.13h1.9v1.9h-1.9zM618.61 464.65h1.9v1.9h-1.9zM621.05 465.76h1.9v1.9h-1.9zM623.15 466.45h1.9v1.9h-1.9z"/>
<path d="M409.2 432.2L409.4 431.6L409.7 430.8L410.0 430.0L410.4 428.9L410.8 427.9L411.3 426.7L411.7 425.5L412.2 424.3L412.6 423.2L413.1 422.0L413.6 420.9L414.0 419.8L414.5 418.6L415.0 417.4L415.5 416.1L416.1 414.9L416.6 413.7L417.1 412.6L417.6 411.4L418.1 410.4L418.6 409.4L419.1 408.4L419.5 407.5L420.0 406.6L420.5 405.7L421.0 404.8L421.4 403.9L421.9 403.0L422.5 402.1L423.0 401.1L423.6 400.1L424.2 399.1L424.8 398.0L425.4 397.0L426.0 395.9L426.7 394.8L427.3 393.7L427.9 392.7L428.6 391.6L429.2 390.6L429.8 389.6L430.4 388.7L431.1 387.7L431.7 386.8L432.3 385.8L432.9 384.9L433.5 384.0L434.2 383.1L434.8 382.3L435.4 381.4L436.0 380.5L436.6 379.7L437.2 378.8L437.8 378.0L438.4 377.2L439.1 376.3L439.7 375.5L440.3 374.7L440.9 374.0L441.5 373.2L442.1 372.5L442.7 371.7L443.4 371.0L444.0 370.3L444.6 369.6L445.2 369.0L445.8 368.3L446.5 367.6L447.1 366.9L447.7 366.2L448.3 365.5L448.9 364.8L449.6 364.1L450.2 363.3L450.8 362.6L451.4 361.8L452.0 361.1L452.7 360.5L453.3 359.8L453.9 359.3L454.5 358.7L455.1 358.2L455.8 357.8L456.4 357.3L457.0 356.9L457.6 356.5L458.2 356.2L458.9 355.8L459.5 355.5L460.1 355.2L460.7 355.0L461.3 354.7L461.9 354.5L462.5 354.4L463.1 354.2L463.7 354.1L464.3 354.0L464.9 353.9L465.5 353.8L466.2 353.7L466.9 353.6L467.6 353.5L468.3 353.5L469.0 353.4L469.8 353.3L470.5 353.3L471.3 353.3L472.0 353.4L472.8 353.5L473.6 353.7L474.4 354.0L475.2 354.3L476.1 354.6L476.9 355.0L477.8 355.5L478.6 355.9L479.5 356.5L480.3 357.0L481.2 357.6L482.0 358.1L482.8 358.8L483.6 359.4L484.4 360.1L485.2 360.8L485.9 361.6L486.7 362.3L487.5 363.1L488.3 363.9L489.1 364.8L489.9 365.6L490.7 366.4L491.6 367.3L492.5 368.2L493.3 369.1L494.2 370.0L495.1 371.0L496.0 371.9L496.8 372.8L497.6 373.7L498.4 374.5L499.1 375.3L499.8 376.1L500.5 376.9L501.2 377.6L501.8 378.3L502.5 379.0L503.1 379.8L503.7 380.5L504.4 381.2L505.0 382.0L505.7 382.7L506.3 383.4L507.0 384.2L507.6 384.9L508.2 385.7L508.9 386.4L509.5 387.2L510.2 387.9L510.8 388.6L511.5 389.4L512.2 390.1L512.8 390.9L513.5 391.6L514.1 392.3L514.8 393.1L515.5 393.8L516.1 394.5L516.8 395.3L517.4 396.0L518.1 396.7L518.8 397.5L519.4 398.2L520.0 398.9L520.7 399.6L521.3 400.4L522.0 401.1L522.6 401.8L523.3 402.6L524.0 403.4L524.7 404.2L525.4 405.0L526.2 405.8L527.0 406.7L527.7 407.5L528.5 408.4L529.3 409.3L530.1 410.2L530.9 411.1L531.7 411.9L532.5 412.8L533.2 413.7L533.9 414.5L534.6 415.4L535.2 416.2L535.9 417.1L536.6 418.0L537.3 418.8L538.2 419.7L539.1 420.6L540.1 421.6L541.2 422.6L542.5 423.6L543.8 424.7L545.2 425.8L546.6 426.9L548.1 428.0L549.6 429.0L551.1 430.0L552.7 431.0L554.2 431.8L555.7 432.6L557.3 433.3L558.9 434.0L560.5 434.7L562.1 435.2L563.8 435.8L565.4 436.4L567.1 436.9L568.7 437.4L570.3 437.9L571.9 438.5L573.5 439.0L575.1 439.5L576.7 440.0L578.3 440.4L579.9 440.9L581.5 441.3L583.1 441.7L584.7 442.1L586.3 442.5L587.9 442.8L589.4 443.2L591.0 443.5L592.5 443.8L594.0 444.0L595.6 444.3L597.2 444.6L598.9 444.8L600.6 445.0L602.4 445.2L604.4 445.4L606.6 445.5L609.0 445.7L611.4 445.8L613.9 445.9L616.2 446.0L618.4 446.0L620.4 446.1L622.0 446.2L623.3 446.2L623.3 446.2" fill="none" stroke="#333" stroke-width="0.75"/>
<path fill="#000000" d="M124.9 628.4l1.4 1.4l-1.4 1.4l-1.4 -1.4zM127.6 632.55l1.4 1.4l-1.4 1.4l-1.4 -1.4zM129.75 636.98l1.4 1.4l-1.4 1.4l-1.4 -1.4zM131.58 641.53l1.4 1.4l-1.4 1.4l-1.4 -1.4zM133.5 645.99l1.4 1.4l-1.4 1.4l-1.4 -1.4zM135.82 650.23l1.4 1.4l-1.4 1.4l-1.4 -1.4zM138.44 654.26l1.4 1.4l-1.4 1.4l-1.4 -1.4zM141.16 658.18l1.4 1.4l-1.4 1.4l-1.4 -1.4zM143.95 662l1.4 1.4l-1.4 1.4l-1.4 -1.4zM146.85 665.69l1.4 1.4l-1.4 1.4l-1.4 -1.4zM149.86 669.24l1.4 1.4l-1.4 1.4l-1.4 -1.4zM152.94 672.69l1.4 1.4l-1.4 1.4l-1.4 -1.4zM156.03 676.05l1.4 1.4l-1.4 1.4l-1.4 -1.4zM159.19 679.29l1.4 1.4l-1.4 1.4l-1.4 -1.4zM162.44 682.37l1.4 1.4l-1.4 1.4l-1.4 -1.4zM165.22 685.81l1.4 1.4l-1.4 1.4l-1.4 -1.4zM167.66 689.44l1.4 1.4l-1.4 1.4l-1.4 -1.4zM170.12 692.98l1.4 1.4l-1.4 1.4l-1.4 -1.4zM172.92 696.17l1.4 1.4l-1.4 1.4l-1.4 -1.4zM175.98 699.02l1.4 1.4l-1.4 1.4l-1.4 -1.4zM179.06 701.72l1.4 1.4l-1.4 1.4l-1.4 -1.4zM182.08 704.36l1.4 1.4l-1.4 1.4l-1.4 -1.4zM185.19 706.73l1.4 1.4l-1.4 1.4l-1.4 -1.4zM188.44 708.7l1.4 1.4l-1.4 1.4l-1.4 -1.4zM191.67 710.42l1.4 1.4l-1.4 1.4l-1.4 -1.4zM194.75 712.01l1.4 1.4l-1.4 1.4l-1.4 -1.4zM197.63 713.44l1.4 1.4l-1.4 1.4l-1.4 -1.4zM200 714.6l1.4 1.4l-1.4 1.4l-1.4 -1.4z"/>
<path fill="#e03c3c" d="M184.4 642.2l1.45 2.6h-2.9zM187 646.8l1.45 2.6h-2.9zM189.73 651.3l1.45 2.6h-2.9zM192.74 655.57l1.45 2.6h-2.9zM195.97 659.64l1.45 2.6h-2.9zM199.43 663.47l1.45 2.6h-2.9zM202.88 667.26l1.45 2.6h-2.9zM206.1 671.2l1.45 2.6h-2.9zM209.16 675.22l1.45 2.6h-2.9zM212.07 679.3l1.45 2.6h-2.9zM214.91 683.38l1.45 2.6h-2.9zM217.85 687.33l1.45 2.6h-2.9zM220.82 691.2l1.45 2.6h-2.9zM223.8 695.01l1.45 2.6h-2.9zM225.85 699.3l1.45 2.6h-2.9zM227.52 703.72l1.45 2.6h-2.9zM229.61 707.89l1.45 2.6h-2.9zM231.77 711.96l1.45 2.6h-2.9zM234.07 715.87l1.45 2.6h-2.9zM236.99 719.2l1.45 2.6h-2.9zM240.83 721.29l1.45 2.6h-2.9zM244.29 723.82l1.45 2.6h-2.9zM248.11 725.4l1.45 2.6h-2.9zM252.15 725.33l1.45 2.6h-2.9zM256.05 725.22l1.45 2.6h-2.9zM259.76 725.31l1.45 2.6h-2.9zM263.19 725.41l1.45 2.6h-2.9zM266 725.5l1.45 2.6h-2.9z"/>
<path fill="none" stroke="#e03c3c" stroke-width="0.8" d="M161.25 633.15h1.9v1.9h-1.9zM163.74 637.96h1.9v1.9h-1.9zM165.67 642.99h1.9v1.9h-1.9zM167.9 647.85h1.9v1.9h-1.9zM169.66 652.86h1.9v1.9h-1.9zM173.05 656.84h1.9v1.9h-1.9zM177.1 660.17h1.9v1.9h-1.9zM181.01 663.63h1.9v1.9h-1.9zM184.58 667.38h1.9v1.9h-1.9zM188.09 671.12h1.9v1.9h-1.9zM191.95 674.44h1.9v1.9h-1.9zM196.09 677.32h1.9v1.9h-1.9zM200.5 679.68h1.9v1.9h-1.9zM204.85 682.04h1.9v1.9h-1.9zM209.09 684.48h1.9v1.9h-1.9zM213.3 686.88h1.9v1.9h-1.9zM217.63 688.91h1.9v1.9h-1.9zM222 690.68h1.9v1.9h-1.9zM226.42 692.1h1.9v1.9h-1.9zM230.83 693.3h1.9v1.9h-1.9zM235.21 694.24h1.9v1.9h-1.9zM239.56 694.79h1.9v1.9h-1.9zM243.84 694.96h1.9v1.9h-1.9zM247.99 695.14h1.9v1.9h-1.9zM251.96 695.56h1.9v1.9h-1.9zM255.73 696.08h1.9v1.9h-1.9zM259.2 696.61h1.9v1.9h-1.9zM262.05 697.05h1.9v1.9h-1.9z"/>
<path fill="none" stroke="#e03c3c" stroke-width="0.8" d="M128.5 626.8h2.8M129.9 625.4v2.8M131.35 631.22h2.8M132.75 629.82v2.8M133.58 635.94h2.8M134.98 634.54v2.8M135.52 640.77h2.8M136.92 639.37v2.8M137.64 645.47h2.8M139.04 644.07v2.8M140.22 649.91h2.8M141.62 648.51v2.8M143.06 654.14h2.8M144.46 652.74v2.8M145.98 658.28h2.8M147.38 656.88v2.8M149 662.29h2.8M150.4 660.89v2.8M152.16 666.14h2.8M153.56 664.74v2.8M155.42 669.85h2.8M156.82 668.45v2.8M158.72 673.47h2.8M160.12 672.07v2.8M162.06 676.99h2.8M163.46 675.59v2.8M165.57 680.28h2.8M166.97 678.88v2.8M168.61 683.92h2.8M170.01 682.52v2.8M171.24 687.82h2.8M172.64 686.42v2.8M173.91 691.62h2.8M175.31 690.22v2.8M176.96 695.02h2.8M178.36 693.62v2.8M180.3 698.05h2.8M181.7 696.65v2.8M183.63 700.98h2.8M185.03 699.58v2.8M186.95 703.79h2.8M188.35 702.39v2.8M190.46 706.2h2.8M191.86 704.8v2.8M194.1 708.21h2.8M195.5 706.81v2.8M197.62 710.16h2.8M199.02 708.76v2.8M201.01 712.05h2.8M202.41 710.65v2.8M204.51 713.1h2.8M205.91 711.7v2.8M207.89 712.68h2.8M209.29 711.28v2.8M210.6 712h2.8M212 710.6v2.8"/>
<path fill="none" stroke="#e03c3c" stroke-width="0.8" d="M133.85 624.8a1.05 1.05 0 1 0 2.1 0a1.05 1.05 0 1 0 -2.1 0zM136.74 629.27a1.05 1.05 0 1 0 2.1 0a1.05 1.05 0 1 0 -2.1 0zM138.98 634.06a1.05 1.05 0 1 0 2.1 0a1.05 1.05 0 1 0 -2.1 0zM140.94 638.95a1.05 1.05 0 1 0 2.1 0a1.05 1.05 0 1 0 -2.1 0zM143.11 643.7a1.05 1.05 0 1 0 2.1 0a1.05 1.05 0 1 0 -2.1 0zM145.74 648.18a1.05 1.05 0 1 0 2.1 0a1.05 1.05 0 1 0 -2.1 0zM148.63 652.46a1.05 1.05 0 1 0 2.1 0a1.05 1.05 0 1 0 -2.1 0zM151.59 656.64a1.05 1.05 0 1 0 2.1 0a1.05 1.05 0 1 0 -2.1 0zM154.67 660.69a1.05 1.05 0 1 0 2.1 0a1.05 1.05 0 1 0 -2.1 0zM157.89 664.58a1.05 1.05 0 1 0 2.1 0a1.05 1.05 0 1 0 -2.1 0zM161.2 668.33a1.05 1.05 0 1 0 2.1 0a1.05 1.05 0 1 0 -2.1 0zM164.55 671.99a1.05 1.05 0 1 0 2.1 0a1.05 1.05 0 1 0 -2.1 0zM167.96 675.52a1.05 1.05 0 1 0 2.1 0a1.05 1.05 0 1 0 -2.1 0zM171.48 678.87a1.05 1.05 0 1 0 2.1 0a1.05 1.05 0 1 0 -2.1 0zM174.47 682.64a1.05 1.05 0 1 0 2.1 0a1.05 1.05 0 1 0 -2.1 0zM177.11 686.6a1.05 1.05 0 1 0 2.1 0a1.05 1.05 0 1 0 -2.1 0zM179.88 690.39a1.05 1.05 0 1 0 2.1 0a1.05 1.05 0 1 0 -2.1 0zM183.07 693.75a1.05 1.05 0 1 0 2.1 0a1.05 1.05 0 1 0 -2.1 0zM186.49 696.78a1.05 1.05 0 1 0 2.1 0a1.05 1.05 0 1 0 -2.1 0zM189.85 699.75a1.05 1.05 0 1 0 2.1 0a1.05 1.05 0 1 0 -2.1 0zM193.28 702.52a1.05 1.05 0 1 0 2.1 0a1.05 1.05 0 1 0 -2.1 0zM196.91 704.83a1.05 1.05 0 1 0 2.1 0a1.05 1.05 0 1 0 -2.1 0zM200.62 706.82a1.05 1.05 0 1 0 2.1 0a1.05 1.05 0 1 0 -2.1 0zM204.1 708.95a1.05 1.05 0 1 0 2.1 0a1.05 1.05 0 1 0 -2.1 0zM207.59 710.73a1.05 1.05 0 1 0 2.1 0a1.05 1.05 0 1 0 -2.1 0zM211.25 710.63a1.05 1.05 0 1 0 2.1 0a1.05 1.05 0 1 0 -2.1 0zM214.42 709.27a1.05 1.05 0 1 0 2.1 0a1.05 1.05 0 1 0 -2.1 0zM216.95 708a1.05 1.05 0 1 0 2.1 0a1.05 1.05 0 1 0 -2.1 0z"/>
<path fill="none" stroke="#e03c3c" stroke-width="0.8" d="M122.2 585l1.3 1.3l-1.3 1.3l-1.3 -1.3zM123.42 592.57l1.3 1.3l-1.3 1.3l-1.3 -1.3zM125.47 599.9l1.3 1.3l-1.3 1.3l-1.3 -1.3zM127.64 607.16l1.3 1.3l-1.3 1.3l-1.3 -1.3zM129.83 614.36l1.3 1.3l-1.3 1.3l-1.3 -1.3zM132.37 621.39l1.3 1.3l-1.3 1.3l-1.3 -1.3zM134.97 628.35l1.3 1.3l-1.3 1.3l-1.3 -1.3zM139.45 634.06l1.3 1.3l-1.3 1.3l-1.3 -1.3zM143.56 639.89l1.3 1.3l-1.3 1.3l-1.3 -1.3zM147.08 646.23l1.3 1.3l-1.3 1.3l-1.3 -1.3zM150.42 652.6l1.3 1.3l-1.3 1.3l-1.3 -1.3zM154.46 658.48l1.3 1.3l-1.3 1.3l-1.3 -1.3zM159.08 663.82l1.3 1.3l-1.3 1.3l-1.3 -1.3zM164.05 668.76l1.3 1.3l-1.3 1.3l-1.3 -1.3zM168.95 673.65l1.3 1.3l-1.3 1.3l-1.3 -1.3zM173.69 678.6l1.3 1.3l-1.3 1.3l-1.3 -1.3zM178.46 683.38l1.3 1.3l-1.3 1.3l-1.3 -1.3zM183.74 687.46l1.3 1.3l-1.3 1.3l-1.3 -1.3zM189.24 691.05l1.3 1.3l-1.3 1.3l-1.3 -1.3zM194.66 694.56l1.3 1.3l-1.3 1.3l-1.3 -1.3zM200.03 697.95l1.3 1.3l-1.3 1.3l-1.3 -1.3zM204.8 701.9l1.3 1.3l-1.3 1.3l-1.3 -1.3zM208.9 706.34l1.3 1.3l-1.3 1.3l-1.3 -1.3zM213.89 709.38l1.3 1.3l-1.3 1.3l-1.3 -1.3zM219.16 711.43l1.3 1.3l-1.3 1.3l-1.3 -1.3zM224.3 713.01l1.3 1.3l-1.3 1.3l-1.3 -1.3zM229.22 713.59l1.3 1.3l-1.3 1.3l-1.3 -1.3zM233.3 713.7l1.3 1.3l-1.3 1.3l-1.3 -1.3z"/>
<path fill="#f59a20" d="M136 638.5l1.45 2.6h-2.9zM139.14 643.08l1.45 2.6h-2.9zM142.33 647.59l1.45 2.6h-2.9zM145.65 651.95l1.45 2.6h-2.9zM149.07 656.2l1.45 2.6h-2.9zM152.58 660.32l1.45 2.6h-2.9zM156.19 664.32l1.45 2.6h-2.9zM159.79 668.27l1.45 2.6h-2.9zM163.31 672.23l1.45 2.6h-2.9zM166.82 676.15l1.45 2.6h-2.9zM170.39 679.95l1.45 2.6h-2.9zM174.05 683.61l1.45 2.6h-2.9zM177.7 687.2l1.45 2.6h-2.9zM181.28 690.8l1.45 2.6h-2.9zM184.8 694.37l1.45 2.6h-2.9zM188.33 697.86l1.45 2.6h-2.9zM191.88 701.23l1.45 2.6h-2.9zM195.42 704.52l1.45 2.6h-2.9zM198.99 707.66l1.45 2.6h-2.9zM202.64 710.6l1.45 2.6h-2.9zM206.32 713.34l1.45 2.6h-2.9zM210.04 715.88l1.45 2.6h-2.9zM213.76 718.19l1.45 2.6h-2.9zM217.47 720.27l1.45 2.6h-2.9zM221.14 722.1l1.45 2.6h-2.9zM224.74 723.58l1.45 2.6h-2.9zM228.17 724.67l1.45 2.6h-2.9zM231 725.5l1.45 2.6h-2.9z"/>
<path fill="#f59a20" d="M129 635h2v2h-2zM132.21 639.67h2v2h-2zM135.46 644.27h2v2h-2zM138.89 648.7h2v2h-2zM142.4 653.02h2v2h-2zM145.85 657.34h2v2h-2zM149.25 661.65h2v2h-2zM152.73 665.85h2v2h-2zM156.3 669.91h2v2h-2zM159.93 673.87h2v2h-2zM163.63 677.7h2v2h-2zM167.38 681.42h2v2h-2zM171.09 685.09h2v2h-2zM174.73 688.78h2v2h-2zM178.34 692.41h2v2h-2zM181.98 695.93h2v2h-2zM185.64 699.33h2v2h-2zM189.3 702.64h2v2h-2zM192.96 705.83h2v2h-2zM196.6 708.93h2v2h-2zM200.23 711.9h2v2h-2zM203.9 714.65h2v2h-2zM207.57 717.2h2v2h-2zM211.25 719.51h2v2h-2zM214.95 721.45h2v2h-2zM218.65 722.91h2v2h-2zM222.13 724.07h2v2h-2zM225 725h2v2h-2z"/>
<path fill="#f59a20" d="M130.9 632a1.1 1.1 0 1 0 2.2 0a1.1 1.1 0 1 0 -2.2 0zM134.27 636.82a1.1 1.1 0 1 0 2.2 0a1.1 1.1 0 1 0 -2.2 0zM137.62 641.6a1.1 1.1 0 1 0 2.2 0a1.1 1.1 0 1 0 -2.2 0zM140.92 646.39a1.1 1.1 0 1 0 2.2 0a1.1 1.1 0 1 0 -2.2 0zM144.24 651.11a1.1 1.1 0 1 0 2.2 0a1.1 1.1 0 1 0 -2.2 0zM147.72 655.67a1.1 1.1 0 1 0 2.2 0a1.1 1.1 0 1 0 -2.2 0zM151.3 660.1a1.1 1.1 0 1 0 2.2 0a1.1 1.1 0 1 0 -2.2 0zM154.99 664.4a1.1 1.1 0 1 0 2.2 0a1.1 1.1 0 1 0 -2.2 0zM158.76 668.55a1.1 1.1 0 1 0 2.2 0a1.1 1.1 0 1 0 -2.2 0zM162.51 672.68a1.1 1.1 0 1 0 2.2 0a1.1 1.1 0 1 0 -2.2 0zM166.17 676.81a1.1 1.1 0 1 0 2.2 0a1.1 1.1 0 1 0 -2.2 0zM169.84 680.87a1.1 1.1 0 1 0 2.2 0a1.1 1.1 0 1 0 -2.2 0zM173.61 684.78a1.1 1.1 0 1 0 2.2 0a1.1 1.1 0 1 0 -2.2 0zM177.42 688.56a1.1 1.1 0 1 0 2.2 0a1.1 1.1 0 1 0 -2.2 0zM181.2 692.3a1.1 1.1 0 1 0 2.2 0a1.1 1.1 0 1 0 -2.2 0zM184.89 696.03a1.1 1.1 0 1 0 2.2 0a1.1 1.1 0 1 0 -2.2 0zM188.54 699.71a1.1 1.1 0 1 0 2.2 0a1.1 1.1 0 1 0 -2.2 0zM192.23 703.26a1.1 1.1 0 1 0 2.2 0a1.1 1.1 0 1 0 -2.2 0zM195.9 706.72a1.1 1.1 0 1 0 2.2 0a1.1 1.1 0 1 0 -2.2 0zM199.58 710.04a1.1 1.1 0 1 0 2.2 0a1.1 1.1 0 1 0 -2.2 0zM203.32 713.15a1.1 1.1 0 1 0 2.2 0a1.1 1.1 0 1 0 -2.2 0zM207.1 716.04a1.1 1.1 0 1 0 2.2 0a1.1 1.1 0 1 0 -2.2 0zM210.9 718.71a1.1 1.1 0 1 0 2.2 0a1.1 1.1 0 1 0 -2.2 0zM214.73 721.07a1.1 1.1 0 1 0 2.2 0a1.1 1.1 0 1 0 -2.2 0zM218.59 723.05a1.1 1.1 0 1 0 2.2 0a1.1 1.1 0 1 0 -2.2 0zM222.34 724.76a1.1 1.1 0 1 0 2.2 0a1.1 1.1 0 1 0 -2.2 0zM225.9 726.12a1.1 1.1 0 1 0 2.2 0a1.1 1.1 0 1 0 -2.2 0zM228.9 727a1.1 1.1 0 1 0 2.2 0a1.1 1.1 0 1 0 -2.2 0z"/>
<path fill="none" stroke="#66bd46" stroke-width="0.8" d="M180.7 611.1l1.4 2.5h-2.8zM182.75 616.46l1.4 2.5h-2.8zM184.44 621.89l1.4 2.5h-2.8zM185.89 627.37l1.4 2.5h-2.8zM188.24 632.48l1.4 2.5h-2.8zM189.77 637.84l1.4 2.5h-2.8zM191.19 643.2l1.4 2.5h-2.8zM193.49 648.21l1.4 2.5h-2.8zM196.44 652.82l1.4 2.5h-2.8zM199.35 657.41l1.4 2.5h-2.8zM202.07 662.05l1.4 2.5h-2.8zM204.7 666.7l1.4 2.5h-2.8zM207.18 671.37l1.4 2.5h-2.8zM209.5 676.07l1.4 2.5h-2.8zM211.88 680.67l1.4 2.5h-2.8zM214.54 685.04l1.4 2.5h-2.8zM217.49 689.15l1.4 2.5h-2.8zM220.61 693.05l1.4 2.5h-2.8zM224.16 696.43l1.4 2.5h-2.8zM228.33 698.87l1.4 2.5h-2.8zM232.18 701.62l1.4 2.5h-2.8zM236.16 703.96l1.4 2.5h-2.8zM240.63 704.56l1.4 2.5h-2.8zM245.01 704.39l1.4 2.5h-2.8zM249.23 704.1l1.4 2.5h-2.8zM253.25 704.03l1.4 2.5h-2.8zM256.96 704.24l1.4 2.5h-2.8zM260 704.5l1.4 2.5h-2.8z"/>
<path fill="none" stroke="#66bd46" stroke-width="0.8" d="M136.95 630a1.05 1.05 0 1 0 2.1 0a1.05 1.05 0 1 0 -2.1 0zM140.12 635.34a1.05 1.05 0 1 0 2.1 0a1.05 1.05 0 1 0 -2.1 0zM143.33 640.61a1.05 1.05 0 1 0 2.1 0a1.05 1.05 0 1 0 -2.1 0zM146.57 645.82a1.05 1.05 0 1 0 2.1 0a1.05 1.05 0 1 0 -2.1 0zM149.9 650.93a1.05 1.05 0 1 0 2.1 0a1.05 1.05 0 1 0 -2.1 0zM153.38 655.88a1.05 1.05 0 1 0 2.1 0a1.05 1.05 0 1 0 -2.1 0zM156.96 660.71a1.05 1.05 0 1 0 2.1 0a1.05 1.05 0 1 0 -2.1 0zM160.64 665.42a1.05 1.05 0 1 0 2.1 0a1.05 1.05 0 1 0 -2.1 0zM164.4 670.01a1.05 1.05 0 1 0 2.1 0a1.05 1.05 0 1 0 -2.1 0zM168.23 674.47a1.05 1.05 0 1 0 2.1 0a1.05 1.05 0 1 0 -2.1 0zM172.15 678.79a1.05 1.05 0 1 0 2.1 0a1.05 1.05 0 1 0 -2.1 0zM176.07 683.04a1.05 1.05 0 1 0 2.1 0a1.05 1.05 0 1 0 -2.1 0zM179.91 687.29a1.05 1.05 0 1 0 2.1 0a1.05 1.05 0 1 0 -2.1 0zM183.7 691.51a1.05 1.05 0 1 0 2.1 0a1.05 1.05 0 1 0 -2.1 0zM187.53 695.61a1.05 1.05 0 1 0 2.1 0a1.05 1.05 0 1 0 -2.1 0zM191.38 699.6a1.05 1.05 0 1 0 2.1 0a1.05 1.05 0 1 0 -2.1 0zM195.26 703.47a1.05 1.05 0 1 0 2.1 0a1.05 1.05 0 1 0 -2.1 0zM199.22 707.14a1.05 1.05 0 1 0 2.1 0a1.05 1.05 0 1 0 -2.1 0zM203.27 710.6a1.05 1.05 0 1 0 2.1 0a1.05 1.05 0 1 0 -2.1 0zM207.38 713.84a1.05 1.05 0 1 0 2.1 0a1.05 1.05 0 1 0 -2.1 0zM211.56 716.82a1.05 1.05 0 1 0 2.1 0a1.05 1.05 0 1 0 -2.1 0zM215.8 719.52a1.05 1.05 0 1 0 2.1 0a1.05 1.05 0 1 0 -2.1 0zM220.01 722.03a1.05 1.05 0 1 0 2.1 0a1.05 1.05 0 1 0 -2.1 0zM224.13 724.41a1.05 1.05 0 1 0 2.1 0a1.05 1.05 0 1 0 -2.1 0zM228.15 726.6a1.05 1.05 0 1 0 2.1 0a1.05 1.05 0 1 0 -2.1 0zM232.06 728.5a1.05 1.05 0 1 0 2.1 0a1.05 1.05 0 1 0 -2.1 0zM235.82 729.94a1.05 1.05 0 1 0 2.1 0a1.05 1.05 0 1 0 -2.1 0zM238.95 731a1.05 1.05 0 1 0 2.1 0a1.05 1.05 0 1 0 -2.1 0z"/>
<path fill="none" stroke="#66bd46" stroke-width="0.8" d="M140.6 636h2.8M142 634.6v2.8M143.89 640.64h2.8M145.29 639.24v2.8M147.12 645.28h2.8M148.52 643.88v2.8M150.15 650.01h2.8M151.55 648.61v2.8M153.11 654.74h2.8M154.51 653.34v2.8M156.22 659.34h2.8M157.62 657.94v2.8M159.44 663.81h2.8M160.84 662.41v2.8M162.74 668.17h2.8M164.14 666.77v2.8M166.11 672.43h2.8M167.51 671.03v2.8M169.54 676.58h2.8M170.94 675.18v2.8M173.02 680.63h2.8M174.42 679.23v2.8M176.55 684.58h2.8M177.95 683.18v2.8M180.12 688.43h2.8M181.52 687.03v2.8M183.7 692.19h2.8M185.1 690.79v2.8M187.32 695.84h2.8M188.72 694.44v2.8M190.96 699.38h2.8M192.36 697.98v2.8M194.59 702.84h2.8M195.99 701.44v2.8M198.22 706.21h2.8M199.62 704.81v2.8M201.89 709.41h2.8M203.29 708.01v2.8M205.63 712.41h2.8M207.03 711.01v2.8M209.42 715.2h2.8M210.82 713.8v2.8M213.24 717.77h2.8M214.64 716.37v2.8M217.08 720.09h2.8M218.48 718.69v2.8M220.91 722.17h2.8M222.31 720.77v2.8M224.67 724.03h2.8M226.07 722.63v2.8M228.33 725.61h2.8M229.73 724.21v2.8M231.77 726.93h2.8M233.17 725.53v2.8M234.6 728h2.8M236 726.6v2.8"/>
<path fill="#66bd46" d="M114.9 636a1.1 1.1 0 1 0 2.2 0a1.1 1.1 0 1 0 -2.2 0zM117.81 640.97a1.1 1.1 0 1 0 2.2 0a1.1 1.1 0 1 0 -2.2 0zM120.81 645.85a1.1 1.1 0 1 0 2.2 0a1.1 1.1 0 1 0 -2.2 0zM124.01 650.56a1.1 1.1 0 1 0 2.2 0a1.1 1.1 0 1 0 -2.2 0zM127.3 655.16a1.1 1.1 0 1 0 2.2 0a1.1 1.1 0 1 0 -2.2 0zM130.56 659.74a1.1 1.1 0 1 0 2.2 0a1.1 1.1 0 1 0 -2.2 0zM133.83 664.27a1.1 1.1 0 1 0 2.2 0a1.1 1.1 0 1 0 -2.2 0zM137.2 668.67a1.1 1.1 0 1 0 2.2 0a1.1 1.1 0 1 0 -2.2 0zM140.65 672.96a1.1 1.1 0 1 0 2.2 0a1.1 1.1 0 1 0 -2.2 0zM144.16 677.14a1.1 1.1 0 1 0 2.2 0a1.1 1.1 0 1 0 -2.2 0zM147.74 681.2a1.1 1.1 0 1 0 2.2 0a1.1 1.1 0 1 0 -2.2 0zM151.36 685.15a1.1 1.1 0 1 0 2.2 0a1.1 1.1 0 1 0 -2.2 0zM154.96 689.07a1.1 1.1 0 1 0 2.2 0a1.1 1.1 0 1 0 -2.2 0zM158.46 693a1.1 1.1 0 1 0 2.2 0a1.1 1.1 0 1 0 -2.2 0zM161.93 696.88a1.1 1.1 0 1 0 2.2 0a1.1 1.1 0 1 0 -2.2 0zM165.5 700.59a1.1 1.1 0 1 0 2.2 0a1.1 1.1 0 1 0 -2.2 0zM169.19 704.08a1.1 1.1 0 1 0 2.2 0a1.1 1.1 0 1 0 -2.2 0zM172.93 707.42a1.1 1.1 0 1 0 2.2 0a1.1 1.1 0 1 0 -2.2 0zM176.66 710.66a1.1 1.1 0 1 0 2.2 0a1.1 1.1 0 1 0 -2.2 0zM180.35 713.81a1.1 1.1 0 1 0 2.2 0a1.1 1.1 0 1 0 -2.2 0zM184.04 716.83a1.1 1.1 0 1 0 2.2 0a1.1 1.1 0 1 0 -2.2 0zM187.78 719.63a1.1 1.1 0 1 0 2.2 0a1.1 1.1 0 1 0 -2.2 0zM191.54 722.19a1.1 1.1 0 1 0 2.2 0a1.1 1.1 0 1 0 -2.2 0zM195.29 724.52a1.1 1.1 0 1 0 2.2 0a1.1 1.1 0 1 0 -2.2 0zM199 726.58a1.1 1.1 0 1 0 2.2 0a1.1 1.1 0 1 0 -2.2 0zM202.66 728.31a1.1 1.1 0 1 0 2.2 0a1.1 1.1 0 1 0 -2.2 0zM206.08 729.79a1.1 1.1 0 1 0 2.2 0a1.1 1.1 0 1 0 -2.2 0zM208.9 731a1.1 1.1 0 1 0 2.2 0a1.1 1.1 0 1 0 -2.2 0z"/>
<path fill="none" stroke="#66bd46" stroke-width="0.8" d="M105 623.7l1.3 1.3l-1.3 1.3l-1.3 -1.3zM107.7 630.63l1.3 1.3l-1.3 1.3l-1.3 -1.3zM110.72 637.37l1.3 1.3l-1.3 1.3l-1.3 -1.3zM114.11 643.89l1.3 1.3l-1.3 1.3l-1.3 -1.3zM117.79 650.2l1.3 1.3l-1.3 1.3l-1.3 -1.3zM121.85 656.21l1.3 1.3l-1.3 1.3l-1.3 -1.3zM126.09 662.02l1.3 1.3l-1.3 1.3l-1.3 -1.3zM129.05 668.52l1.3 1.3l-1.3 1.3l-1.3 -1.3zM131.5 675.19l1.3 1.3l-1.3 1.3l-1.3 -1.3zM134.12 681.73l1.3 1.3l-1.3 1.3l-1.3 -1.3zM137.92 687.56l1.3 1.3l-1.3 1.3l-1.3 -1.3zM142.68 692.58l1.3 1.3l-1.3 1.3l-1.3 -1.3zM147.01 697.9l1.3 1.3l-1.3 1.3l-1.3 -1.3zM151.53 702.97l1.3 1.3l-1.3 1.3l-1.3 -1.3zM156.32 707.68l1.3 1.3l-1.3 1.3l-1.3 -1.3zM161.38 711.99l1.3 1.3l-1.3 1.3l-1.3 -1.3zM166.64 715.91l1.3 1.3l-1.3 1.3l-1.3 -1.3zM172.03 719.48l1.3 1.3l-1.3 1.3l-1.3 -1.3zM177.5 722.77l1.3 1.3l-1.3 1.3l-1.3 -1.3zM182.69 726.28l1.3 1.3l-1.3 1.3l-1.3 -1.3zM187.75 729.78l1.3 1.3l-1.3 1.3l-1.3 -1.3zM192.91 732.88l1.3 1.3l-1.3 1.3l-1.3 -1.3zM198.23 735.35l1.3 1.3l-1.3 1.3l-1.3 -1.3zM203.65 737.07l1.3 1.3l-1.3 1.3l-1.3 -1.3zM209.05 738.02l1.3 1.3l-1.3 1.3l-1.3 -1.3zM214.24 738.55l1.3 1.3l-1.3 1.3l-1.3 -1.3zM219.05 738.88l1.3 1.3l-1.3 1.3l-1.3 -1.3zM223 739.1l1.3 1.3l-1.3 1.3l-1.3 -1.3z"/>
<path fill="#66bd46" d="M109 617h2v2h-2zM111.39 622.98h2v2h-2zM113.76 628.93h2v2h-2zM116.08 634.85h2v2h-2zM118.72 640.6h2v2h-2zM121.59 646.19h2v2h-2zM124.34 651.79h2v2h-2zM127.17 657.3h2v2h-2zM130.28 662.61h2v2h-2zM133.49 667.79h2v2h-2zM136.69 672.93h2v2h-2zM139.97 677.95h2v2h-2zM143.36 682.84h2v2h-2zM146.86 687.56h2v2h-2zM150.57 692.04h2v2h-2zM154.45 696.29h2v2h-2zM158.35 700.42h2v2h-2zM162.29 704.41h2v2h-2zM166.26 708.24h2v2h-2zM170.26 711.91h2v2h-2zM174.29 715.4h2v2h-2zM178.32 718.7h2v2h-2zM182.36 721.8h2v2h-2zM186.36 724.68h2v2h-2zM190.3 727.33h2v2h-2zM194.17 729.66h2v2h-2zM197.9 731.54h2v2h-2zM201 733h2v2h-2z"/>
<path fill="#66bd46" d="M126 633.5l1.45 -2.6h-2.9zM128.91 638.47l1.45 -2.6h-2.9zM131.91 643.35l1.45 -2.6h-2.9zM135.11 648.06l1.45 -2.6h-2.9zM138.4 652.66l1.45 -2.6h-2.9zM141.66 657.24l1.45 -2.6h-2.9zM144.93 661.77l1.45 -2.6h-2.9zM148.3 666.17l1.45 -2.6h-2.9zM151.75 670.46l1.45 -2.6h-2.9zM155.26 674.64l1.45 -2.6h-2.9zM158.84 678.7l1.45 -2.6h-2.9zM162.46 682.65l1.45 -2.6h-2.9zM166.06 686.57l1.45 -2.6h-2.9zM169.56 690.5l1.45 -2.6h-2.9zM173.03 694.38l1.45 -2.6h-2.9zM176.6 698.09l1.45 -2.6h-2.9zM180.29 701.58l1.45 -2.6h-2.9zM184.03 704.92l1.45 -2.6h-2.9zM187.76 708.16l1.45 -2.6h-2.9zM191.45 711.31l1.45 -2.6h-2.9zM195.14 714.33l1.45 -2.6h-2.9zM198.88 717.13l1.45 -2.6h-2.9zM202.64 719.69l1.45 -2.6h-2.9zM206.39 722.02l1.45 -2.6h-2.9zM210.1 724.08l1.45 -2.6h-2.9zM213.76 725.81l1.45 -2.6h-2.9zM217.18 727.29l1.45 -2.6h-2.9zM220 728.5l1.45 -2.6h-2.9z"/>
<path fill="#2646a0" d="M112 624.5l1.45 2.6h-2.9zM114.69 630.01l1.45 2.6h-2.9zM117.51 635.42l1.45 2.6h-2.9zM120.57 640.65l1.45 2.6h-2.9zM123.81 645.73l1.45 2.6h-2.9zM127.19 650.66l1.45 2.6h-2.9zM130.72 655.45l1.45 2.6h-2.9zM134.39 660.07l1.45 2.6h-2.9zM138.09 664.61l1.45 2.6h-2.9zM141.73 669.14l1.45 2.6h-2.9zM145.38 673.6l1.45 2.6h-2.9zM149.12 677.92l1.45 2.6h-2.9zM152.91 682.12l1.45 2.6h-2.9zM156.73 686.22l1.45 2.6h-2.9zM160.58 690.2l1.45 2.6h-2.9zM164.47 694.06l1.45 2.6h-2.9zM168.38 697.8l1.45 2.6h-2.9zM172.29 701.43l1.45 2.6h-2.9zM176.21 704.94l1.45 2.6h-2.9zM180.12 708.33l1.45 2.6h-2.9zM184 711.6l1.45 2.6h-2.9zM187.89 714.68l1.45 2.6h-2.9zM191.84 717.48l1.45 2.6h-2.9zM195.8 720.02l1.45 2.6h-2.9zM199.69 722.32l1.45 2.6h-2.9zM203.48 724.35l1.45 2.6h-2.9zM207.06 726.09l1.45 2.6h-2.9zM210 727.5l1.45 2.6h-2.9z"/>
<path fill="#2646a0" d="M117 621h2v2h-2zM120.18 626.3h2v2h-2zM123.34 631.57h2v2h-2zM126.43 636.84h2v2h-2zM129.65 641.98h2v2h-2zM133.09 646.94h2v2h-2zM136.57 651.81h2v2h-2zM140.03 656.65h2v2h-2zM143.54 661.39h2v2h-2zM147.16 666h2v2h-2zM150.85 670.48h2v2h-2zM154.61 674.84h2v2h-2zM158.45 679.05h2v2h-2zM162.27 683.2h2v2h-2zM166 687.37h2v2h-2zM169.67 691.49h2v2h-2zM173.44 695.43h2v2h-2zM177.34 699.13h2v2h-2zM181.3 702.66h2v2h-2zM185.24 706.07h2v2h-2zM189.13 709.38h2v2h-2zM193.03 712.52h2v2h-2zM196.98 715.39h2v2h-2zM200.96 717.96h2v2h-2zM204.86 720.32h2v2h-2zM208.6 722.51h2v2h-2zM212.11 724.44h2v2h-2zM215 726h2v2h-2z"/>
<path fill="#2646a0" d="M112.9 630a1.1 1.1 0 1 0 2.2 0a1.1 1.1 0 1 0 -2.2 0zM116.07 635.4a1.1 1.1 0 1 0 2.2 0a1.1 1.1 0 1 0 -2.2 0zM119.35 640.69a1.1 1.1 0 1 0 2.2 0a1.1 1.1 0 1 0 -2.2 0zM122.87 645.78a1.1 1.1 0 1 0 2.2 0a1.1 1.1 0 1 0 -2.2 0zM126.45 650.78a1.1 1.1 0 1 0 2.2 0a1.1 1.1 0 1 0 -2.2 0zM130 655.75a1.1 1.1 0 1 0 2.2 0a1.1 1.1 0 1 0 -2.2 0zM133.61 660.63a1.1 1.1 0 1 0 2.2 0a1.1 1.1 0 1 0 -2.2 0zM137.35 665.36a1.1 1.1 0 1 0 2.2 0a1.1 1.1 0 1 0 -2.2 0zM141.16 669.96a1.1 1.1 0 1 0 2.2 0a1.1 1.1 0 1 0 -2.2 0zM145.05 674.44a1.1 1.1 0 1 0 2.2 0a1.1 1.1 0 1 0 -2.2 0zM149.02 678.78a1.1 1.1 0 1 0 2.2 0a1.1 1.1 0 1 0 -2.2 0zM152.97 683.08a1.1 1.1 0 1 0 2.2 0a1.1 1.1 0 1 0 -2.2 0zM156.81 687.4a1.1 1.1 0 1 0 2.2 0a1.1 1.1 0 1 0 -2.2 0zM160.63 691.65a1.1 1.1 0 1 0 2.2 0a1.1 1.1 0 1 0 -2.2 0zM164.61 695.67a1.1 1.1 0 1 0 2.2 0a1.1 1.1 0 1 0 -2.2 0zM168.72 699.47a1.1 1.1 0 1 0 2.2 0a1.1 1.1 0 1 0 -2.2 0zM172.87 703.11a1.1 1.1 0 1 0 2.2 0a1.1 1.1 0 1 0 -2.2 0zM177.01 706.65a1.1 1.1 0 1 0 2.2 0a1.1 1.1 0 1 0 -2.2 0zM181.16 710.05a1.1 1.1 0 1 0 2.2 0a1.1 1.1 0 1 0 -2.2 0zM185.31 713.32a1.1 1.1 0 1 0 2.2 0a1.1 1.1 0 1 0 -2.2 0zM189.43 716.46a1.1 1.1 0 1 0 2.2 0a1.1 1.1 0 1 0 -2.2 0zM193.54 719.43a1.1 1.1 0 1 0 2.2 0a1.1 1.1 0 1 0 -2.2 0zM197.7 722.11a1.1 1.1 0 1 0 2.2 0a1.1 1.1 0 1 0 -2.2 0zM201.87 724.47a1.1 1.1 0 1 0 2.2 0a1.1 1.1 0 1 0 -2.2 0zM205.99 726.56a1.1 1.1 0 1 0 2.2 0a1.1 1.1 0 1 0 -2.2 0zM210 728.35a1.1 1.1 0 1 0 2.2 0a1.1 1.1 0 1 0 -2.2 0zM213.78 729.83a1.1 1.1 0 1 0 2.2 0a1.1 1.1 0 1 0 -2.2 0zM216.9 731a1.1 1.1 0 1 0 2.2 0a1.1 1.1 0 1 0 -2.2 0z"/>
<path fill="#2646a0" d="M126.9 635.2h2.2v1.6h-2.2zM130.23 640.87h2.2v1.6h-2.2zM133.69 646.4h2.2v1.6h-2.2zM137.41 651.73h2.2v1.6h-2.2zM141.17 656.98h2.2v1.6h-2.2zM144.9 662.19h2.2v1.6h-2.2zM148.74 667.27h2.2v1.6h-2.2zM152.69 672.21h2.2v1.6h-2.2zM156.73 677.01h2.2v1.6h-2.2zM160.85 681.68h2.2v1.6h-2.2zM165.03 686.22h2.2v1.6h-2.2zM169.26 690.65h2.2v1.6h-2.2zM173.54 694.95h2.2v1.6h-2.2zM177.86 699.11h2.2v1.6h-2.2zM182.21 703.15h2.2v1.6h-2.2zM186.59 707.06h2.2v1.6h-2.2zM190.98 710.85h2.2v1.6h-2.2zM195.38 714.5h2.2v1.6h-2.2zM199.87 717.9h2.2v1.6h-2.2zM204.47 720.99h2.2v1.6h-2.2zM209.14 723.78h2.2v1.6h-2.2zM213.88 726.18h2.2v1.6h-2.2zM218.65 728.25h2.2v1.6h-2.2zM223.28 730.21h2.2v1.6h-2.2zM227.77 732.05h2.2v1.6h-2.2zM232.11 733.59h2.2v1.6h-2.2zM236.21 734.74h2.2v1.6h-2.2zM239.6 735.6h2.2v1.6h-2.2z"/>
<path fill="#2646a0" d="M106.9 631.2h2.2v1.6h-2.2zM109.64 635.88h2.2v1.6h-2.2zM112.45 640.5h2.2v1.6h-2.2zM115.42 644.96h2.2v1.6h-2.2zM118.5 649.31h2.2v1.6h-2.2zM121.7 653.54h2.2v1.6h-2.2zM124.99 657.64h2.2v1.6h-2.2zM128.29 661.69h2.2v1.6h-2.2zM131.54 665.73h2.2v1.6h-2.2zM134.79 669.71h2.2v1.6h-2.2zM138.11 673.59h2.2v1.6h-2.2zM141.47 677.36h2.2v1.6h-2.2zM144.87 681.04h2.2v1.6h-2.2zM148.28 684.64h2.2v1.6h-2.2zM151.72 688.14h2.2v1.6h-2.2zM155.17 691.54h2.2v1.6h-2.2zM158.65 694.84h2.2v1.6h-2.2zM162.13 698.03h2.2v1.6h-2.2zM165.62 701.11h2.2v1.6h-2.2zM169.12 704.06h2.2v1.6h-2.2zM172.61 706.89h2.2v1.6h-2.2zM176.08 709.58h2.2v1.6h-2.2zM179.53 712.13h2.2v1.6h-2.2zM182.94 714.52h2.2v1.6h-2.2zM186.25 716.77h2.2v1.6h-2.2zM189.44 718.84h2.2v1.6h-2.2zM192.44 720.69h2.2v1.6h-2.2zM194.9 722.2h2.2v1.6h-2.2z"/>
<path fill="none" stroke="#2646a0" stroke-width="0.8" d="M138.9 646.9l2.2 2.2M141.1 646.9l-2.2 2.2M142.3 651.16l2.2 2.2M144.5 651.16l-2.2 2.2M145.69 655.39l2.2 2.2M147.89 655.39l-2.2 2.2M149.04 659.6l2.2 2.2M151.24 659.6l-2.2 2.2M152.36 663.8l2.2 2.2M154.56 663.8l-2.2 2.2M155.75 667.9l2.2 2.2M157.95 667.9l-2.2 2.2M159.25 671.85l2.2 2.2M161.45 671.85l-2.2 2.2M162.76 675.75l2.2 2.2M164.96 675.75l-2.2 2.2M166.15 679.7l2.2 2.2M168.35 679.7l-2.2 2.2M169.56 683.58l2.2 2.2M171.76 683.58l-2.2 2.2M173.27 687.11l2.2 2.2M175.47 687.11l-2.2 2.2M177.39 690.02l2.2 2.2M179.59 690.02l-2.2 2.2M181.92 688.69l2.2 2.2M184.12 688.69l-2.2 2.2M186.01 685.94l2.2 2.2M188.21 685.94l-2.2 2.2M190.9 685.43l2.2 2.2M193.1 685.43l-2.2 2.2M195.76 685.53l2.2 2.2M197.96 685.53l-2.2 2.2M200.52 686.2l2.2 2.2M202.72 686.2l-2.2 2.2M205.11 687.38l2.2 2.2M207.31 687.38l-2.2 2.2M209.43 689.14l2.2 2.2M211.63 689.14l-2.2 2.2M213.38 691.48l2.2 2.2M215.58 691.48l-2.2 2.2M216.42 694.78l2.2 2.2M218.62 694.78l-2.2 2.2M218.65 698.59l2.2 2.2M220.85 698.59l-2.2 2.2M220.68 702.38l2.2 2.2M222.88 702.38l-2.2 2.2M222.55 706.12l2.2 2.2M224.75 706.12l-2.2 2.2M224.32 709.73l2.2 2.2M226.52 709.73l-2.2 2.2M226.02 713.15l2.2 2.2M228.22 713.15l-2.2 2.2M227.6 716.31l2.2 2.2M229.8 716.31l-2.2 2.2M228.9 718.9l2.2 2.2M231.1 718.9l-2.2 2.2"/>
<path fill="none" stroke="#7840ae" stroke-width="0.8" d="M111.9 596.6l1.4 2.5h-2.8zM114.86 602.83l1.4 2.5h-2.8zM116.41 609.47l1.4 2.5h-2.8zM118.18 616.01l1.4 2.5h-2.8zM120.48 622.36l1.4 2.5h-2.8zM121.79 628.96l1.4 2.5h-2.8zM123.62 635.38l1.4 2.5h-2.8zM125.92 641.61l1.4 2.5h-2.8zM128.53 647.65l1.4 2.5h-2.8zM131.4 653.52l1.4 2.5h-2.8zM134.53 659.19l1.4 2.5h-2.8zM137.87 664.68l1.4 2.5h-2.8zM141.22 670.09l1.4 2.5h-2.8zM144.6 675.4l1.4 2.5h-2.8zM148.1 680.56l1.4 2.5h-2.8zM151.71 685.55l1.4 2.5h-2.8zM155.5 690.31l1.4 2.5h-2.8zM159.5 694.78l1.4 2.5h-2.8zM163.55 699.09l1.4 2.5h-2.8zM167.59 703.27l1.4 2.5h-2.8zM171.7 707.23l1.4 2.5h-2.8zM175.96 710.84l1.4 2.5h-2.8zM180.25 714.18l1.4 2.5h-2.8zM184.49 717.35l1.4 2.5h-2.8zM188.63 720.3l1.4 2.5h-2.8zM192.7 722.91l1.4 2.5h-2.8zM196.67 724.96l1.4 2.5h-2.8zM200 726.5l1.4 2.5h-2.8z"/>
<path fill="none" stroke="#7840ae" stroke-width="0.8" d="M98.95 628a1.05 1.05 0 1 0 2.1 0a1.05 1.05 0 1 0 -2.1 0zM101.75 633.75a1.05 1.05 0 1 0 2.1 0a1.05 1.05 0 1 0 -2.1 0zM104.88 639.28a1.05 1.05 0 1 0 2.1 0a1.05 1.05 0 1 0 -2.1 0zM108.34 644.56a1.05 1.05 0 1 0 2.1 0a1.05 1.05 0 1 0 -2.1 0zM112.11 649.59a1.05 1.05 0 1 0 2.1 0a1.05 1.05 0 1 0 -2.1 0zM115.94 654.51a1.05 1.05 0 1 0 2.1 0a1.05 1.05 0 1 0 -2.1 0zM119.63 659.48a1.05 1.05 0 1 0 2.1 0a1.05 1.05 0 1 0 -2.1 0zM122.49 664.93a1.05 1.05 0 1 0 2.1 0a1.05 1.05 0 1 0 -2.1 0zM125.14 670.42a1.05 1.05 0 1 0 2.1 0a1.05 1.05 0 1 0 -2.1 0zM128.26 675.62a1.05 1.05 0 1 0 2.1 0a1.05 1.05 0 1 0 -2.1 0zM131.75 680.5a1.05 1.05 0 1 0 2.1 0a1.05 1.05 0 1 0 -2.1 0zM135.61 685.03a1.05 1.05 0 1 0 2.1 0a1.05 1.05 0 1 0 -2.1 0zM139.89 689.09a1.05 1.05 0 1 0 2.1 0a1.05 1.05 0 1 0 -2.1 0zM143.75 693.47a1.05 1.05 0 1 0 2.1 0a1.05 1.05 0 1 0 -2.1 0zM147.38 697.96a1.05 1.05 0 1 0 2.1 0a1.05 1.05 0 1 0 -2.1 0zM151.25 702.17a1.05 1.05 0 1 0 2.1 0a1.05 1.05 0 1 0 -2.1 0zM155.29 706.1a1.05 1.05 0 1 0 2.1 0a1.05 1.05 0 1 0 -2.1 0zM159.51 709.73a1.05 1.05 0 1 0 2.1 0a1.05 1.05 0 1 0 -2.1 0zM163.92 712.98a1.05 1.05 0 1 0 2.1 0a1.05 1.05 0 1 0 -2.1 0zM168.57 715.7a1.05 1.05 0 1 0 2.1 0a1.05 1.05 0 1 0 -2.1 0zM173.13 718.38a1.05 1.05 0 1 0 2.1 0a1.05 1.05 0 1 0 -2.1 0zM177.55 721.08a1.05 1.05 0 1 0 2.1 0a1.05 1.05 0 1 0 -2.1 0zM181.89 723.66a1.05 1.05 0 1 0 2.1 0a1.05 1.05 0 1 0 -2.1 0zM186.1 726.17a1.05 1.05 0 1 0 2.1 0a1.05 1.05 0 1 0 -2.1 0zM190.13 728.62a1.05 1.05 0 1 0 2.1 0a1.05 1.05 0 1 0 -2.1 0zM193.96 730.95a1.05 1.05 0 1 0 2.1 0a1.05 1.05 0 1 0 -2.1 0zM197.52 733.07a1.05 1.05 0 1 0 2.1 0a1.05 1.05 0 1 0 -2.1 0zM200.45 734.8a1.05 1.05 0 1 0 2.1 0a1.05 1.05 0 1 0 -2.1 0z"/>
<path fill="none" stroke="#7840ae" stroke-width="0.8" d="M84.5 611.8h2.8M85.9 610.4v2.8M87.1 616.1h2.8M88.5 614.7v2.8M89.26 620.61h2.8M90.66 619.21v2.8M91.29 625.14h2.8M92.69 623.74v2.8M93.97 629.28h2.8M95.37 627.88v2.8M95.82 633.82h2.8M97.22 632.42v2.8M98 638.18h2.8M99.4 636.78v2.8M100.48 642.34h2.8M101.88 640.94v2.8M103.02 646.41h2.8M104.42 645.01v2.8M105.56 650.45h2.8M106.96 649.05v2.8M108.27 654.32h2.8M109.67 652.92v2.8M111.1 658.05h2.8M112.5 656.65v2.8M113.93 661.73h2.8M115.33 660.33v2.8M116.75 665.37h2.8M118.15 663.97v2.8M119.55 668.94h2.8M120.95 667.54v2.8M122.33 672.48h2.8M123.73 671.08v2.8M125.09 675.96h2.8M126.49 674.56v2.8M127.88 679.33h2.8M129.28 677.93v2.8M130.71 682.58h2.8M132.11 681.18v2.8M133.55 685.73h2.8M134.95 684.33v2.8M136.39 688.78h2.8M137.79 687.38v2.8M139.21 691.71h2.8M140.61 690.31v2.8M142.01 694.53h2.8M143.41 693.13v2.8M144.78 697.22h2.8M146.18 695.82v2.8M147.49 699.75h2.8M148.89 698.35v2.8M150.13 702.09h2.8M151.53 700.69v2.8M152.58 704.24h2.8M153.98 702.84v2.8M154.6 706h2.8M156 704.6v2.8"/>
<path fill="#7840ae" d="M96.7 616.7a1.1 1.1 0 1 0 2.2 0a1.1 1.1 0 1 0 -2.2 0zM98.67 621.08a1.1 1.1 0 1 0 2.2 0a1.1 1.1 0 1 0 -2.2 0zM100.4 625.54a1.1 1.1 0 1 0 2.2 0a1.1 1.1 0 1 0 -2.2 0zM101.92 630.04a1.1 1.1 0 1 0 2.2 0a1.1 1.1 0 1 0 -2.2 0zM103.79 634.38a1.1 1.1 0 1 0 2.2 0a1.1 1.1 0 1 0 -2.2 0zM105.22 638.84a1.1 1.1 0 1 0 2.2 0a1.1 1.1 0 1 0 -2.2 0zM106.23 643.39a1.1 1.1 0 1 0 2.2 0a1.1 1.1 0 1 0 -2.2 0zM107.13 647.93a1.1 1.1 0 1 0 2.2 0a1.1 1.1 0 1 0 -2.2 0zM108.39 652.33a1.1 1.1 0 1 0 2.2 0a1.1 1.1 0 1 0 -2.2 0zM110.52 656.35a1.1 1.1 0 1 0 2.2 0a1.1 1.1 0 1 0 -2.2 0zM112.71 660.28a1.1 1.1 0 1 0 2.2 0a1.1 1.1 0 1 0 -2.2 0zM115.68 663.63a1.1 1.1 0 1 0 2.2 0a1.1 1.1 0 1 0 -2.2 0zM118.6 666.98a1.1 1.1 0 1 0 2.2 0a1.1 1.1 0 1 0 -2.2 0zM121.46 670.31a1.1 1.1 0 1 0 2.2 0a1.1 1.1 0 1 0 -2.2 0zM124.27 673.62a1.1 1.1 0 1 0 2.2 0a1.1 1.1 0 1 0 -2.2 0zM127.04 676.91a1.1 1.1 0 1 0 2.2 0a1.1 1.1 0 1 0 -2.2 0zM129.89 680.05a1.1 1.1 0 1 0 2.2 0a1.1 1.1 0 1 0 -2.2 0zM132.85 683a1.1 1.1 0 1 0 2.2 0a1.1 1.1 0 1 0 -2.2 0zM135.79 685.89a1.1 1.1 0 1 0 2.2 0a1.1 1.1 0 1 0 -2.2 0zM138.66 688.76a1.1 1.1 0 1 0 2.2 0a1.1 1.1 0 1 0 -2.2 0zM141.47 691.57a1.1 1.1 0 1 0 2.2 0a1.1 1.1 0 1 0 -2.2 0zM144.22 694.33a1.1 1.1 0 1 0 2.2 0a1.1 1.1 0 1 0 -2.2 0zM146.89 697.03a1.1 1.1 0 1 0 2.2 0a1.1 1.1 0 1 0 -2.2 0zM149.48 699.65a1.1 1.1 0 1 0 2.2 0a1.1 1.1 0 1 0 -2.2 0zM152.03 702.12a1.1 1.1 0 1 0 2.2 0a1.1 1.1 0 1 0 -2.2 0zM154.55 704.36a1.1 1.1 0 1 0 2.2 0a1.1 1.1 0 1 0 -2.2 0zM156.94 706.36a1.1 1.1 0 1 0 2.2 0a1.1 1.1 0 1 0 -2.2 0zM158.9 708a1.1 1.1 0 1 0 2.2 0a1.1 1.1 0 1 0 -2.2 0z"/>
<path fill="none" stroke="#7840ae" stroke-width="0.8" d="M56.3 681.6l1.3 1.3l-1.3 1.3l-1.3 -1.3zM60.84 682.6l1.3 1.3l-1.3 1.3l-1.3 -1.3zM65.44 682.99l1.3 1.3l-1.3 1.3l-1.3 -1.3zM70.03 683.13l1.3 1.3l-1.3 1.3l-1.3 -1.3zM74.58 683.49l1.3 1.3l-1.3 1.3l-1.3 -1.3zM79.1 683.22l1.3 1.3l-1.3 1.3l-1.3 -1.3zM83.42 682.07l1.3 1.3l-1.3 1.3l-1.3 -1.3zM86.42 678.79l1.3 1.3l-1.3 1.3l-1.3 -1.3zM89.36 675.47l1.3 1.3l-1.3 1.3l-1.3 -1.3zM93.1 673.18l1.3 1.3l-1.3 1.3l-1.3 -1.3zM97.13 671.49l1.3 1.3l-1.3 1.3l-1.3 -1.3zM101.14 669.88l1.3 1.3l-1.3 1.3l-1.3 -1.3zM105.15 668.35l1.3 1.3l-1.3 1.3l-1.3 -1.3zM109.14 666.9l1.3 1.3l-1.3 1.3l-1.3 -1.3zM113.12 665.55l1.3 1.3l-1.3 1.3l-1.3 -1.3zM117.06 664.25l1.3 1.3l-1.3 1.3l-1.3 -1.3zM120.72 663.24l1.3 1.3l-1.3 1.3l-1.3 -1.3zM123.29 666.34l1.3 1.3l-1.3 1.3l-1.3 -1.3zM125.57 669.61l1.3 1.3l-1.3 1.3l-1.3 -1.3zM127.7 672.9l1.3 1.3l-1.3 1.3l-1.3 -1.3zM129.99 675.99l1.3 1.3l-1.3 1.3l-1.3 -1.3zM132.36 678.91l1.3 1.3l-1.3 1.3l-1.3 -1.3zM134.78 681.68l1.3 1.3l-1.3 1.3l-1.3 -1.3zM137.28 684.21l1.3 1.3l-1.3 1.3l-1.3 -1.3zM139.76 686.57l1.3 1.3l-1.3 1.3l-1.3 -1.3zM142.12 688.82l1.3 1.3l-1.3 1.3l-1.3 -1.3zM144.26 690.95l1.3 1.3l-1.3 1.3l-1.3 -1.3zM146 692.7l1.3 1.3l-1.3 1.3l-1.3 -1.3z"/>
<path fill="#e6df1c" d="M108 610.5l1.45 2.6h-2.9zM110.88 616.41l1.45 2.6h-2.9zM113.94 622.18l1.45 2.6h-2.9zM117.26 627.76l1.45 2.6h-2.9zM120.77 633.17l1.45 2.6h-2.9zM124.46 638.42l1.45 2.6h-2.9zM128.3 643.5l1.45 2.6h-2.9zM132.26 648.43l1.45 2.6h-2.9zM136.33 653.2l1.45 2.6h-2.9zM140.5 657.83l1.45 2.6h-2.9zM144.75 662.31l1.45 2.6h-2.9zM149.08 666.63l1.45 2.6h-2.9zM153.39 670.89l1.45 2.6h-2.9zM157.61 675.17l1.45 2.6h-2.9zM161.81 679.36l1.45 2.6h-2.9zM166.09 683.38l1.45 2.6h-2.9zM170.4 687.26l1.45 2.6h-2.9zM174.65 691.09l1.45 2.6h-2.9zM178.79 694.91l1.45 2.6h-2.9zM182.88 698.64l1.45 2.6h-2.9zM186.99 702.2l1.45 2.6h-2.9zM191.08 705.61l1.45 2.6h-2.9zM195.14 708.84l1.45 2.6h-2.9zM199.16 711.86l1.45 2.6h-2.9zM203.13 714.65l1.45 2.6h-2.9zM207.03 717.1l1.45 2.6h-2.9zM210.83 719.03l1.45 2.6h-2.9zM214 720.5l1.45 2.6h-2.9z"/>
<path fill="#e6df1c" d="M94.6 612.7h2v2h-2zM96.64 617.69h2v2h-2zM98.09 622.84h2v2h-2zM99.47 627.97h2v2h-2zM101.77 632.74h2v2h-2zM104.35 637.33h2v2h-2zM107.15 641.75h2v2h-2zM110.15 645.98h2v2h-2zM113.29 650.07h2v2h-2zM116.38 654.14h2v2h-2zM119.49 658.14h2v2h-2zM122.71 662h2v2h-2zM126.03 665.71h2v2h-2zM129.33 669.37h2v2h-2zM132.59 673h2v2h-2zM135.82 676.58h2v2h-2zM139 680.11h2v2h-2zM142.11 683.63h2v2h-2zM145.2 687.07h2v2h-2zM148.33 690.38h2v2h-2zM151.47 693.54h2v2h-2zM154.58 696.61h2v2h-2zM157.61 699.61h2v2h-2zM160.51 702.56h2v2h-2zM163.31 705.38h2v2h-2zM166.07 707.97h2v2h-2zM168.76 710.21h2v2h-2zM171 712h2v2h-2z"/>
<path fill="#e6df1c" d="M98.9 608a1.1 1.1 0 1 0 2.2 0a1.1 1.1 0 1 0 -2.2 0zM100.74 616.1a1.1 1.1 0 1 0 2.2 0a1.1 1.1 0 1 0 -2.2 0zM103.52 623.86a1.1 1.1 0 1 0 2.2 0a1.1 1.1 0 1 0 -2.2 0zM107.52 631.02a1.1 1.1 0 1 0 2.2 0a1.1 1.1 0 1 0 -2.2 0zM112.35 637.55a1.1 1.1 0 1 0 2.2 0a1.1 1.1 0 1 0 -2.2 0zM119.77 640.57a1.1 1.1 0 1 0 2.2 0a1.1 1.1 0 1 0 -2.2 0zM127.76 641a1.1 1.1 0 1 0 2.2 0a1.1 1.1 0 1 0 -2.2 0zM135.49 639.04a1.1 1.1 0 1 0 2.2 0a1.1 1.1 0 1 0 -2.2 0zM142.81 636.03a1.1 1.1 0 1 0 2.2 0a1.1 1.1 0 1 0 -2.2 0zM150.49 634.33a1.1 1.1 0 1 0 2.2 0a1.1 1.1 0 1 0 -2.2 0zM158.15 632.8a1.1 1.1 0 1 0 2.2 0a1.1 1.1 0 1 0 -2.2 0zM165.6 630.75a1.1 1.1 0 1 0 2.2 0a1.1 1.1 0 1 0 -2.2 0zM172.93 628.71a1.1 1.1 0 1 0 2.2 0a1.1 1.1 0 1 0 -2.2 0zM179.55 632.34a1.1 1.1 0 1 0 2.2 0a1.1 1.1 0 1 0 -2.2 0zM186.13 635.84a1.1 1.1 0 1 0 2.2 0a1.1 1.1 0 1 0 -2.2 0zM190.33 641.93a1.1 1.1 0 1 0 2.2 0a1.1 1.1 0 1 0 -2.2 0zM194.91 647.61a1.1 1.1 0 1 0 2.2 0a1.1 1.1 0 1 0 -2.2 0zM198.3 653.99a1.1 1.1 0 1 0 2.2 0a1.1 1.1 0 1 0 -2.2 0zM201.27 660.46a1.1 1.1 0 1 0 2.2 0a1.1 1.1 0 1 0 -2.2 0zM203.72 667.02a1.1 1.1 0 1 0 2.2 0a1.1 1.1 0 1 0 -2.2 0zM205.83 673.56a1.1 1.1 0 1 0 2.2 0a1.1 1.1 0 1 0 -2.2 0zM207.89 679.96a1.1 1.1 0 1 0 2.2 0a1.1 1.1 0 1 0 -2.2 0zM209.88 686.21a1.1 1.1 0 1 0 2.2 0a1.1 1.1 0 1 0 -2.2 0zM211.82 692.27a1.1 1.1 0 1 0 2.2 0a1.1 1.1 0 1 0 -2.2 0zM213.91 698.03a1.1 1.1 0 1 0 2.2 0a1.1 1.1 0 1 0 -2.2 0zM216.34 703.32a1.1 1.1 0 1 0 2.2 0a1.1 1.1 0 1 0 -2.2 0zM218.82 708.1a1.1 1.1 0 1 0 2.2 0a1.1 1.1 0 1 0 -2.2 0zM220.9 712a1.1 1.1 0 1 0 2.2 0a1.1 1.1 0 1 0 -2.2 0z"/>
<path fill="#e6df1c" d="M102.6 605.5h2.2v1.6h-2.2zM108.35 604.49h2.2v1.6h-2.2zM110.68 610.3h2.2v1.6h-2.2zM111.95 616.42h2.2v1.6h-2.2zM113.48 622.43h2.2v1.6h-2.2zM116.22 627.96h2.2v1.6h-2.2zM119.24 633.3h2.2v1.6h-2.2zM122.44 638.48h2.2v1.6h-2.2zM125.8 643.51h2.2v1.6h-2.2zM129.29 648.38h2.2v1.6h-2.2zM132.91 653.11h2.2v1.6h-2.2zM136.62 657.68h2.2v1.6h-2.2zM140.42 662.12h2.2v1.6h-2.2zM144.29 666.42h2.2v1.6h-2.2zM148.22 670.57h2.2v1.6h-2.2zM152.22 674.58h2.2v1.6h-2.2zM156.2 678.5h2.2v1.6h-2.2zM160.08 682.41h2.2v1.6h-2.2zM163.89 686.27h2.2v1.6h-2.2zM167.73 689.98h2.2v1.6h-2.2zM171.58 693.53h2.2v1.6h-2.2zM175.42 696.93h2.2v1.6h-2.2zM179.22 700.17h2.2v1.6h-2.2zM182.97 703.25h2.2v1.6h-2.2zM186.7 706.06h2.2v1.6h-2.2zM190.43 708.46h2.2v1.6h-2.2zM193.98 710.53h2.2v1.6h-2.2zM196.9 712.2h2.2v1.6h-2.2z"/>
<path fill="#e6df1c" d="M116.9 644.2h2.2v1.6h-2.2zM121.45 647.54h2.2v1.6h-2.2zM126.08 650.7h2.2v1.6h-2.2zM130.97 653.38h2.2v1.6h-2.2zM135.97 655.78h2.2v1.6h-2.2zM140.91 658.2h2.2v1.6h-2.2zM145.8 660.65h2.2v1.6h-2.2zM150.64 663.11h2.2v1.6h-2.2zM155.38 665.67h2.2v1.6h-2.2zM160.32 667.72h2.2v1.6h-2.2zM165.33 669.45h2.2v1.6h-2.2zM170.42 670.76h2.2v1.6h-2.2zM175.59 670.98h2.2v1.6h-2.2zM180.59 669.73h2.2v1.6h-2.2zM185.59 668.92h2.2v1.6h-2.2zM190.52 669.92h2.2v1.6h-2.2zM195.32 671.16h2.2v1.6h-2.2zM199.61 671.82h2.2v1.6h-2.2zM201.55 676.25h2.2v1.6h-2.2zM203.01 680.78h2.2v1.6h-2.2zM204.33 685.25h2.2v1.6h-2.2zM205.53 689.66h2.2v1.6h-2.2zM206.4 694.03h2.2v1.6h-2.2zM207.25 698.27h2.2v1.6h-2.2zM208.43 702.26h2.2v1.6h-2.2zM210.85 705.31h2.2v1.6h-2.2zM214.21 706.72h2.2v1.6h-2.2zM217.1 707.5h2.2v1.6h-2.2z"/>
<path fill="none" stroke="#f4b6c6" stroke-width="0.8" d="M201.5 651.1l1.4 2.5h-2.8zM203.34 653.83l1.4 2.5h-2.8zM205.22 656.51l1.4 2.5h-2.8zM207.3 659.02l1.4 2.5h-2.8zM209.73 661.15l1.4 2.5h-2.8zM212.24 663.15l1.4 2.5h-2.8zM214.52 665.39l1.4 2.5h-2.8zM216.54 667.84l1.4 2.5h-2.8zM218.59 670.22l1.4 2.5h-2.8zM220.73 672.49l1.4 2.5h-2.8zM223 674.6l1.4 2.5h-2.8zM225.47 676.4l1.4 2.5h-2.8zM228.39 677.06l1.4 2.5h-2.8zM231.21 676.08l1.4 2.5h-2.8zM233.36 674.04l1.4 2.5h-2.8zM235.08 671.66l1.4 2.5h-2.8zM236.57 669.16l1.4 2.5h-2.8zM238.7 667.28l1.4 2.5h-2.8zM241.41 666.6l1.4 2.5h-2.8zM244.11 667.2l1.4 2.5h-2.8zM246.69 668.09l1.4 2.5h-2.8zM249.27 668.76l1.4 2.5h-2.8zM251.86 669l1.4 2.5h-2.8zM254.38 668.96l1.4 2.5h-2.8zM256.81 668.85l1.4 2.5h-2.8zM259.12 668.72l1.4 2.5h-2.8zM261.25 668.6l1.4 2.5h-2.8zM263 668.5l1.4 2.5h-2.8z"/>
<path fill="none" stroke="#f4b6c6" stroke-width="0.8" d="M204.05 667.05h1.9v1.9h-1.9zM205.95 671.31h1.9v1.9h-1.9zM207.84 675.56h1.9v1.9h-1.9zM209.69 679.79h1.9v1.9h-1.9zM211.44 684.03h1.9v1.9h-1.9zM213.03 688.3h1.9v1.9h-1.9zM214.54 692.56h1.9v1.9h-1.9zM216.11 696.77h1.9v1.9h-1.9zM217.86 700.88h1.9v1.9h-1.9zM219.75 704.88h1.9v1.9h-1.9zM221.74 708.79h1.9v1.9h-1.9zM223.81 712.62h1.9v1.9h-1.9zM225.91 716.38h1.9v1.9h-1.9zM228.05 720.07h1.9v1.9h-1.9zM230.31 723.63h1.9v1.9h-1.9zM232.79 726.99h1.9v1.9h-1.9zM235.49 730.1h1.9v1.9h-1.9zM238.37 732.97h1.9v1.9h-1.9zM241.45 735.52h1.9v1.9h-1.9zM244.95 737.28h1.9v1.9h-1.9zM248.65 738.39h1.9v1.9h-1.9zM252.15 739.84h1.9v1.9h-1.9zM255.56 741.24h1.9v1.9h-1.9zM258.98 742.28h1.9v1.9h-1.9zM262.36 742.94h1.9v1.9h-1.9zM265.59 743.47h1.9v1.9h-1.9zM268.59 743.93h1.9v1.9h-1.9zM271.05 744.25h1.9v1.9h-1.9z"/>
<path d="M57.0 679.6L57.4 679.2L57.9 678.6L58.5 677.9L59.2 677.2L59.9 676.4L60.6 675.5L61.4 674.7L62.2 673.8L63.0 673.0L63.7 672.2L64.4 671.5L65.1 670.7L65.9 669.9L66.6 669.2L67.4 668.4L68.1 667.7L68.9 666.9L69.6 666.2L70.4 665.5L71.1 664.8L71.8 664.1L72.6 663.5L73.3 662.9L74.1 662.3L74.8 661.7L75.5 661.1L76.3 660.6L77.0 660.0L77.8 659.5L78.5 658.9L79.2 658.3L80.0 657.8L80.7 657.2L81.5 656.7L82.2 656.2L82.9 655.6L83.7 655.1L84.4 654.6L85.2 654.2L85.9 653.7L86.6 653.3L87.4 652.8L88.1 652.4L88.9 652.1L89.6 651.7L90.3 651.3L91.1 651.0L91.8 650.7L92.6 650.3L93.3 650.0L94.0 649.7L94.8 649.4L95.6 649.1L96.3 648.8L97.1 648.5L97.8 648.2L98.6 648.0L99.3 647.7L100.0 647.5L100.7 647.3L101.4 647.1L102.0 647.0L102.7 646.8L103.3 646.7L103.9 646.6L104.5 646.5L105.1 646.4L105.6 646.4L106.2 646.3L106.7 646.3L107.2 646.3L107.7 646.3L108.1 646.3L108.5 646.3L108.9 646.3L109.3 646.4L109.7 646.4L110.1 646.5L110.6 646.6L111.1 646.7L111.6 646.8L112.2 647.0L112.8 647.1L113.3 647.3L113.9 647.5L114.6 647.7L115.2 647.9L115.8 648.1L116.4 648.3L117.0 648.5L117.6 648.7L118.2 648.9L118.8 649.1L119.4 649.3L120.0 649.5L120.6 649.7L121.2 649.9L121.8 650.2L122.4 650.4L123.0 650.7L123.6 651.0L124.2 651.3L124.8 651.6L125.4 652.0L126.0 652.3L126.5 652.7L127.1 653.1L127.7 653.5L128.3 653.9L128.9 654.4L129.5 654.9L130.1 655.5L130.7 656.1L131.3 656.7L131.9 657.4L132.5 658.0L133.1 658.6L133.7 659.3L134.3 659.9L134.8 660.4L135.3 660.9L135.7 661.3L136.1 661.7L136.4 662.0L136.8 662.3L137.1 662.7L137.5 663.1L138.0 663.6L138.6 664.1L139.3 664.8L140.1 665.6L141.1 666.5L142.1 667.5L143.2 668.5L144.3 669.6L145.5 670.7L146.6 671.8L147.8 672.9L148.9 674.0L150.0 675.0L151.0 676.0L152.0 676.9L153.1 677.8L154.1 678.8L155.0 679.7L156.0 680.6L157.0 681.5L158.0 682.3L159.0 683.2L160.0 684.0L161.0 684.8L162.0 685.6L163.1 686.4L164.1 687.1L165.1 687.9L166.1 688.6L167.1 689.3L168.1 690.0L169.1 690.7L170.0 691.4L170.9 692.1L171.7 692.8L172.5 693.4L173.3 694.1L174.1 694.7L174.9 695.3L175.7 696.0L176.4 696.6L177.2 697.2L178.0 697.8L178.8 698.4L179.6 699.0L180.4 699.6L181.2 700.2L182.1 700.7L182.9 701.3L183.7 701.9L184.5 702.4L185.3 702.9L186.1 703.4L186.9 703.9L187.7 704.3L188.5 704.7L189.3 705.1L190.1 705.5L190.9 705.9L191.7 706.3L192.5 706.7L193.3 707.0L194.1 707.4L194.9 707.8L195.7 708.1L196.5 708.5L197.3 708.8L198.1 709.1L198.9 709.5L199.7 709.8L200.5 710.1L201.3 710.4L202.1 710.7L202.9 711.0L203.7 711.3L204.5 711.5L205.3 711.8L206.1 712.0L206.9 712.2L207.7 712.5L208.5 712.7L209.3 712.9L210.1 713.1L210.9 713.3L211.7 713.5L212.5 713.7L213.3 713.8L214.2 714.0L215.0 714.2L215.8 714.3L216.6 714.4L217.4 714.6L218.2 714.7L219.0 714.8L219.8 714.9L220.6 715.0L221.4 715.1L222.2 715.2L223.0 715.3L223.8 715.4L224.6 715.4L225.4 715.5L226.2 715.5L227.0 715.5L227.8 715.5L228.6 715.5L229.4 715.5L230.2 715.5L231.0 715.4L231.8 715.4L232.6 715.3L233.4 715.3L234.2 715.2L235.0 715.1L235.8 715.0L236.6 714.9L237.4 714.8L238.2 714.6L239.1 714.5L239.9 714.3L240.7 714.2L241.5 714.0L242.3 713.9L243.1 713.8L243.9 713.6L244.7 713.4L245.4 713.3L246.2 713.1L247.0 713.0L247.8 712.8L248.6 712.6L249.4 712.5L250.3 712.3L251.2 712.1L252.1 712.0L253.0 711.8L253.9 711.7L254.9 711.5L255.9 711.4L256.8 711.2L257.8 711.1L258.9 710.9L259.9 710.7L261.0 710.5L262.2 710.2L263.5 710.0L264.8 709.7L266.1 709.4L267.4 709.1L268.6 708.9L269.6 708.6L270.5 708.4L271.2 708.3L271.2 708.3" fill="none" stroke="#333" stroke-width="0.75"/>
<path fill="#000000" d="M476.9 614.66l1.4 1.4l-1.4 1.4l-1.4 -1.4zM479.6 619.17l1.4 1.4l-1.4 1.4l-1.4 -1.4zM481.75 623.98l1.4 1.4l-1.4 1.4l-1.4 -1.4zM483.58 628.92l1.4 1.4l-1.4 1.4l-1.4 -1.4zM485.5 633.77l1.4 1.4l-1.4 1.4l-1.4 -1.4zM487.82 638.38l1.4 1.4l-1.4 1.4l-1.4 -1.4zM490.44 642.75l1.4 1.4l-1.4 1.4l-1.4 -1.4zM493.16 647.01l1.4 1.4l-1.4 1.4l-1.4 -1.4zM495.95 651.16l1.4 1.4l-1.4 1.4l-1.4 -1.4zM498.85 655.17l1.4 1.4l-1.4 1.4l-1.4 -1.4zM501.86 659.03l1.4 1.4l-1.4 1.4l-1.4 -1.4zM504.94 662.77l1.4 1.4l-1.4 1.4l-1.4 -1.4zM508.03 666.43l1.4 1.4l-1.4 1.4l-1.4 -1.4zM511.19 669.95l1.4 1.4l-1.4 1.4l-1.4 -1.4zM514.44 673.3l1.4 1.4l-1.4 1.4l-1.4 -1.4zM517.22 677.04l1.4 1.4l-1.4 1.4l-1.4 -1.4zM519.66 680.98l1.4 1.4l-1.4 1.4l-1.4 -1.4zM522.12 684.82l1.4 1.4l-1.4 1.4l-1.4 -1.4zM524.92 688.29l1.4 1.4l-1.4 1.4l-1.4 -1.4zM527.98 691.39l1.4 1.4l-1.4 1.4l-1.4 -1.4zM531.06 694.32l1.4 1.4l-1.4 1.4l-1.4 -1.4zM534.08 697.19l1.4 1.4l-1.4 1.4l-1.4 -1.4zM537.19 699.76l1.4 1.4l-1.4 1.4l-1.4 -1.4zM540.44 701.9l1.4 1.4l-1.4 1.4l-1.4 -1.4zM543.67 703.77l1.4 1.4l-1.4 1.4l-1.4 -1.4zM546.75 705.5l1.4 1.4l-1.4 1.4l-1.4 -1.4zM549.63 707.05l1.4 1.4l-1.4 1.4l-1.4 -1.4zM552 708.31l1.4 1.4l-1.4 1.4l-1.4 -1.4z"/>
<path fill="#e03c3c" d="M536.4 629.66l1.45 2.6h-2.9zM539 634.66l1.45 2.6h-2.9zM541.73 639.54l1.45 2.6h-2.9zM544.74 644.19l1.45 2.6h-2.9zM547.97 648.61l1.45 2.6h-2.9zM551.43 652.77l1.45 2.6h-2.9zM554.88 656.89l1.45 2.6h-2.9zM558.1 661.17l1.45 2.6h-2.9zM561.16 665.53l1.45 2.6h-2.9zM564.07 669.97l1.45 2.6h-2.9zM566.91 674.4l1.45 2.6h-2.9zM569.85 678.69l1.45 2.6h-2.9zM572.82 682.9l1.45 2.6h-2.9zM575.8 687.03l1.45 2.6h-2.9zM577.85 691.7l1.45 2.6h-2.9zM579.52 696.5l1.45 2.6h-2.9zM581.61 701.03l1.45 2.6h-2.9zM583.77 705.45l1.45 2.6h-2.9zM586.07 709.7l1.45 2.6h-2.9zM588.99 713.32l1.45 2.6h-2.9zM592.83 715.59l1.45 2.6h-2.9zM596.29 718.34l1.45 2.6h-2.9zM600.11 720.06l1.45 2.6h-2.9zM604.15 719.97l1.45 2.6h-2.9zM608.05 719.86l1.45 2.6h-2.9zM611.76 719.96l1.45 2.6h-2.9zM615.19 720.07l1.45 2.6h-2.9zM618 720.16l1.45 2.6h-2.9z"/>
<path fill="none" stroke="#e03c3c" stroke-width="0.8" d="M513.25 619.78h1.9v1.9h-1.9zM515.74 625.01h1.9v1.9h-1.9zM517.67 630.47h1.9v1.9h-1.9zM519.9 635.75h1.9v1.9h-1.9zM521.66 641.19h1.9v1.9h-1.9zM525.05 645.52h1.9v1.9h-1.9zM529.1 649.14h1.9v1.9h-1.9zM533.01 652.9h1.9v1.9h-1.9zM536.58 656.96h1.9v1.9h-1.9zM540.09 661.03h1.9v1.9h-1.9zM543.95 664.64h1.9v1.9h-1.9zM548.09 667.76h1.9v1.9h-1.9zM552.5 670.33h1.9v1.9h-1.9zM556.85 672.89h1.9v1.9h-1.9zM561.09 675.55h1.9v1.9h-1.9zM565.3 678.16h1.9v1.9h-1.9zM569.63 680.36h1.9v1.9h-1.9zM574 682.29h1.9v1.9h-1.9zM578.42 683.83h1.9v1.9h-1.9zM582.83 685.13h1.9v1.9h-1.9zM587.21 686.15h1.9v1.9h-1.9zM591.56 686.75h1.9v1.9h-1.9zM595.84 686.94h1.9v1.9h-1.9zM599.99 687.12h1.9v1.9h-1.9zM603.96 687.58h1.9v1.9h-1.9zM607.73 688.16h1.9v1.9h-1.9zM611.2 688.73h1.9v1.9h-1.9zM614.05 689.21h1.9v1.9h-1.9z"/>
<path fill="none" stroke="#e03c3c" stroke-width="0.8" d="M480.5 612.8h2.8M481.9 611.4v2.8M483.35 617.6h2.8M484.75 616.2v2.8M485.58 622.73h2.8M486.98 621.33v2.8M487.52 627.97h2.8M488.92 626.57v2.8M489.64 633.08h2.8M491.04 631.68v2.8M492.22 637.9h2.8M493.62 636.5v2.8M495.06 642.5h2.8M496.46 641.1v2.8M497.98 647h2.8M499.38 645.6v2.8M501 651.35h2.8M502.4 649.95v2.8M504.16 655.54h2.8M505.56 654.14v2.8M507.42 659.57h2.8M508.82 658.17v2.8M510.72 663.51h2.8M512.12 662.11v2.8M514.06 667.33h2.8M515.46 665.93v2.8M517.57 670.91h2.8M518.97 669.51v2.8M520.61 674.86h2.8M522.01 673.46v2.8M523.24 679.09h2.8M524.64 677.69v2.8M525.91 683.22h2.8M527.31 681.82v2.8M528.96 686.91h2.8M530.36 685.51v2.8M532.3 690.21h2.8M533.7 688.81v2.8M535.63 693.4h2.8M537.03 692v2.8M538.95 696.44h2.8M540.35 695.04v2.8M542.46 699.06h2.8M543.86 697.66v2.8M546.1 701.24h2.8M547.5 699.84v2.8M549.62 703.37h2.8M551.02 701.97v2.8M553.01 705.42h2.8M554.41 704.02v2.8M556.51 706.56h2.8M557.91 705.16v2.8M559.89 706.11h2.8M561.29 704.71v2.8M562.6 705.37h2.8M564 703.97v2.8"/>
<path fill="none" stroke="#e03c3c" stroke-width="0.8" d="M485.85 610.62a1.05 1.05 0 1 0 2.1 0a1.05 1.05 0 1 0 -2.1 0zM488.74 615.48a1.05 1.05 0 1 0 2.1 0a1.05 1.05 0 1 0 -2.1 0zM490.98 620.69a1.05 1.05 0 1 0 2.1 0a1.05 1.05 0 1 0 -2.1 0zM492.94 626a1.05 1.05 0 1 0 2.1 0a1.05 1.05 0 1 0 -2.1 0zM495.11 631.16a1.05 1.05 0 1 0 2.1 0a1.05 1.05 0 1 0 -2.1 0zM497.74 636.03a1.05 1.05 0 1 0 2.1 0a1.05 1.05 0 1 0 -2.1 0zM500.63 640.68a1.05 1.05 0 1 0 2.1 0a1.05 1.05 0 1 0 -2.1 0zM503.59 645.22a1.05 1.05 0 1 0 2.1 0a1.05 1.05 0 1 0 -2.1 0zM506.67 649.62a1.05 1.05 0 1 0 2.1 0a1.05 1.05 0 1 0 -2.1 0zM509.89 653.84a1.05 1.05 0 1 0 2.1 0a1.05 1.05 0 1 0 -2.1 0zM513.2 657.92a1.05 1.05 0 1 0 2.1 0a1.05 1.05 0 1 0 -2.1 0zM516.55 661.89a1.05 1.05 0 1 0 2.1 0a1.05 1.05 0 1 0 -2.1 0zM519.96 665.73a1.05 1.05 0 1 0 2.1 0a1.05 1.05 0 1 0 -2.1 0zM523.48 669.37a1.05 1.05 0 1 0 2.1 0a1.05 1.05 0 1 0 -2.1 0zM526.47 673.47a1.05 1.05 0 1 0 2.1 0a1.05 1.05 0 1 0 -2.1 0zM529.11 677.77a1.05 1.05 0 1 0 2.1 0a1.05 1.05 0 1 0 -2.1 0zM531.88 681.89a1.05 1.05 0 1 0 2.1 0a1.05 1.05 0 1 0 -2.1 0zM535.07 685.53a1.05 1.05 0 1 0 2.1 0a1.05 1.05 0 1 0 -2.1 0zM538.49 688.83a1.05 1.05 0 1 0 2.1 0a1.05 1.05 0 1 0 -2.1 0zM541.85 692.06a1.05 1.05 0 1 0 2.1 0a1.05 1.05 0 1 0 -2.1 0zM545.28 695.07a1.05 1.05 0 1 0 2.1 0a1.05 1.05 0 1 0 -2.1 0zM548.91 697.58a1.05 1.05 0 1 0 2.1 0a1.05 1.05 0 1 0 -2.1 0zM552.62 699.74a1.05 1.05 0 1 0 2.1 0a1.05 1.05 0 1 0 -2.1 0zM556.1 702.05a1.05 1.05 0 1 0 2.1 0a1.05 1.05 0 1 0 -2.1 0zM559.59 703.99a1.05 1.05 0 1 0 2.1 0a1.05 1.05 0 1 0 -2.1 0zM563.25 703.88a1.05 1.05 0 1 0 2.1 0a1.05 1.05 0 1 0 -2.1 0zM566.42 702.4a1.05 1.05 0 1 0 2.1 0a1.05 1.05 0 1 0 -2.1 0zM568.95 701.02a1.05 1.05 0 1 0 2.1 0a1.05 1.05 0 1 0 -2.1 0z"/>
<path fill="none" stroke="#e03c3c" stroke-width="0.8" d="M474.2 567.49l1.3 1.3l-1.3 1.3l-1.3 -1.3zM475.42 575.71l1.3 1.3l-1.3 1.3l-1.3 -1.3zM477.47 583.68l1.3 1.3l-1.3 1.3l-1.3 -1.3zM479.64 591.57l1.3 1.3l-1.3 1.3l-1.3 -1.3zM481.83 599.39l1.3 1.3l-1.3 1.3l-1.3 -1.3zM484.37 607.04l1.3 1.3l-1.3 1.3l-1.3 -1.3zM486.97 614.59l1.3 1.3l-1.3 1.3l-1.3 -1.3zM491.45 620.79l1.3 1.3l-1.3 1.3l-1.3 -1.3zM495.56 627.13l1.3 1.3l-1.3 1.3l-1.3 -1.3zM499.08 634.02l1.3 1.3l-1.3 1.3l-1.3 -1.3zM502.42 640.94l1.3 1.3l-1.3 1.3l-1.3 -1.3zM506.46 647.33l1.3 1.3l-1.3 1.3l-1.3 -1.3zM511.08 653.13l1.3 1.3l-1.3 1.3l-1.3 -1.3zM516.05 658.49l1.3 1.3l-1.3 1.3l-1.3 -1.3zM520.95 663.81l1.3 1.3l-1.3 1.3l-1.3 -1.3zM525.69 669.19l1.3 1.3l-1.3 1.3l-1.3 -1.3zM530.46 674.39l1.3 1.3l-1.3 1.3l-1.3 -1.3zM535.74 678.81l1.3 1.3l-1.3 1.3l-1.3 -1.3zM541.24 682.72l1.3 1.3l-1.3 1.3l-1.3 -1.3zM546.66 686.53l1.3 1.3l-1.3 1.3l-1.3 -1.3zM552.03 690.21l1.3 1.3l-1.3 1.3l-1.3 -1.3zM556.8 694.5l1.3 1.3l-1.3 1.3l-1.3 -1.3zM560.9 699.33l1.3 1.3l-1.3 1.3l-1.3 -1.3zM565.89 702.63l1.3 1.3l-1.3 1.3l-1.3 -1.3zM571.16 704.86l1.3 1.3l-1.3 1.3l-1.3 -1.3zM576.3 706.58l1.3 1.3l-1.3 1.3l-1.3 -1.3zM581.22 707.21l1.3 1.3l-1.3 1.3l-1.3 -1.3zM585.3 707.33l1.3 1.3l-1.3 1.3l-1.3 -1.3z"/>
<path fill="#f59a20" d="M488 625.64l1.45 2.6h-2.9zM491.14 630.61l1.45 2.6h-2.9zM494.33 635.51l1.45 2.6h-2.9zM497.65 640.26l1.45 2.6h-2.9zM501.07 644.87l1.45 2.6h-2.9zM504.58 649.35l1.45 2.6h-2.9zM508.19 653.69l1.45 2.6h-2.9zM511.79 657.98l1.45 2.6h-2.9zM515.31 662.28l1.45 2.6h-2.9zM518.82 666.55l1.45 2.6h-2.9zM522.39 670.67l1.45 2.6h-2.9zM526.05 674.65l1.45 2.6h-2.9zM529.7 678.55l1.45 2.6h-2.9zM533.28 682.46l1.45 2.6h-2.9zM536.8 686.34l1.45 2.6h-2.9zM540.33 690.13l1.45 2.6h-2.9zM543.88 693.8l1.45 2.6h-2.9zM547.42 697.37l1.45 2.6h-2.9zM550.99 700.78l1.45 2.6h-2.9zM554.64 703.97l1.45 2.6h-2.9zM558.32 706.95l1.45 2.6h-2.9zM562.04 709.71l1.45 2.6h-2.9zM565.76 712.22l1.45 2.6h-2.9zM569.47 714.48l1.45 2.6h-2.9zM573.14 716.47l1.45 2.6h-2.9zM576.74 718.08l1.45 2.6h-2.9zM580.17 719.26l1.45 2.6h-2.9zM583 720.16l1.45 2.6h-2.9z"/>
<path fill="#f59a20" d="M481 621.79h2v2h-2zM484.21 626.87h2v2h-2zM487.46 631.87h2v2h-2zM490.89 636.68h2v2h-2zM494.4 641.37h2v2h-2zM497.85 646.06h2v2h-2zM501.25 650.75h2v2h-2zM504.73 655.31h2v2h-2zM508.3 659.73h2v2h-2zM511.93 664.02h2v2h-2zM515.63 668.19h2v2h-2zM519.38 672.22h2v2h-2zM523.09 676.22h2v2h-2zM526.73 680.22h2v2h-2zM530.34 684.17h2v2h-2zM533.98 687.99h2v2h-2zM537.64 691.69h2v2h-2zM541.3 695.28h2v2h-2zM544.96 698.75h2v2h-2zM548.6 702.12h2v2h-2zM552.23 705.34h2v2h-2zM555.9 708.33h2v2h-2zM559.57 711.11h2v2h-2zM563.25 713.61h2v2h-2zM566.95 715.72h2v2h-2zM570.65 717.3h2v2h-2zM574.13 718.57h2v2h-2zM577 719.58h2v2h-2z"/>
<path fill="#f59a20" d="M482.9 618.45a1.1 1.1 0 1 0 2.2 0a1.1 1.1 0 1 0 -2.2 0zM486.27 623.68a1.1 1.1 0 1 0 2.2 0a1.1 1.1 0 1 0 -2.2 0zM489.62 628.88a1.1 1.1 0 1 0 2.2 0a1.1 1.1 0 1 0 -2.2 0zM492.92 634.08a1.1 1.1 0 1 0 2.2 0a1.1 1.1 0 1 0 -2.2 0zM496.24 639.21a1.1 1.1 0 1 0 2.2 0a1.1 1.1 0 1 0 -2.2 0zM499.72 644.17a1.1 1.1 0 1 0 2.2 0a1.1 1.1 0 1 0 -2.2 0zM503.3 648.98a1.1 1.1 0 1 0 2.2 0a1.1 1.1 0 1 0 -2.2 0zM506.99 653.64a1.1 1.1 0 1 0 2.2 0a1.1 1.1 0 1 0 -2.2 0zM510.76 658.16a1.1 1.1 0 1 0 2.2 0a1.1 1.1 0 1 0 -2.2 0zM514.51 662.64a1.1 1.1 0 1 0 2.2 0a1.1 1.1 0 1 0 -2.2 0zM518.17 667.13a1.1 1.1 0 1 0 2.2 0a1.1 1.1 0 1 0 -2.2 0zM521.84 671.55a1.1 1.1 0 1 0 2.2 0a1.1 1.1 0 1 0 -2.2 0zM525.61 675.79a1.1 1.1 0 1 0 2.2 0a1.1 1.1 0 1 0 -2.2 0zM529.42 679.9a1.1 1.1 0 1 0 2.2 0a1.1 1.1 0 1 0 -2.2 0zM533.2 683.96a1.1 1.1 0 1 0 2.2 0a1.1 1.1 0 1 0 -2.2 0zM536.89 688.02a1.1 1.1 0 1 0 2.2 0a1.1 1.1 0 1 0 -2.2 0zM540.54 692.01a1.1 1.1 0 1 0 2.2 0a1.1 1.1 0 1 0 -2.2 0zM544.23 695.87a1.1 1.1 0 1 0 2.2 0a1.1 1.1 0 1 0 -2.2 0zM547.9 699.63a1.1 1.1 0 1 0 2.2 0a1.1 1.1 0 1 0 -2.2 0zM551.58 703.23a1.1 1.1 0 1 0 2.2 0a1.1 1.1 0 1 0 -2.2 0zM555.32 706.61a1.1 1.1 0 1 0 2.2 0a1.1 1.1 0 1 0 -2.2 0zM559.1 709.76a1.1 1.1 0 1 0 2.2 0a1.1 1.1 0 1 0 -2.2 0zM562.9 712.66a1.1 1.1 0 1 0 2.2 0a1.1 1.1 0 1 0 -2.2 0zM566.73 715.22a1.1 1.1 0 1 0 2.2 0a1.1 1.1 0 1 0 -2.2 0zM570.59 717.38a1.1 1.1 0 1 0 2.2 0a1.1 1.1 0 1 0 -2.2 0zM574.34 719.23a1.1 1.1 0 1 0 2.2 0a1.1 1.1 0 1 0 -2.2 0zM577.9 720.71a1.1 1.1 0 1 0 2.2 0a1.1 1.1 0 1 0 -2.2 0zM580.9 721.66a1.1 1.1 0 1 0 2.2 0a1.1 1.1 0 1 0 -2.2 0z"/>
<path fill="none" stroke="#66bd46" stroke-width="0.8" d="M532.7 595.87l1.4 2.5h-2.8zM534.75 601.69l1.4 2.5h-2.8zM536.44 607.6l1.4 2.5h-2.8zM537.89 613.54l1.4 2.5h-2.8zM540.24 619.1l1.4 2.5h-2.8zM541.77 624.92l1.4 2.5h-2.8zM543.19 630.75l1.4 2.5h-2.8zM545.49 636.19l1.4 2.5h-2.8zM548.44 641.2l1.4 2.5h-2.8zM551.35 646.18l1.4 2.5h-2.8zM554.07 651.23l1.4 2.5h-2.8zM556.7 656.28l1.4 2.5h-2.8zM559.18 661.36l1.4 2.5h-2.8zM561.5 666.46l1.4 2.5h-2.8zM563.88 671.45l1.4 2.5h-2.8zM566.54 676.21l1.4 2.5h-2.8zM569.49 680.67l1.4 2.5h-2.8zM572.61 684.9l1.4 2.5h-2.8zM576.16 688.58l1.4 2.5h-2.8zM580.33 691.23l1.4 2.5h-2.8zM584.18 694.21l1.4 2.5h-2.8zM588.16 696.76l1.4 2.5h-2.8zM592.63 697.42l1.4 2.5h-2.8zM597.01 697.23l1.4 2.5h-2.8zM601.23 696.91l1.4 2.5h-2.8zM605.25 696.83l1.4 2.5h-2.8zM608.96 697.06l1.4 2.5h-2.8zM612 697.35l1.4 2.5h-2.8z"/>
<path fill="none" stroke="#66bd46" stroke-width="0.8" d="M488.95 616.27a1.05 1.05 0 1 0 2.1 0a1.05 1.05 0 1 0 -2.1 0zM492.12 622.07a1.05 1.05 0 1 0 2.1 0a1.05 1.05 0 1 0 -2.1 0zM495.33 627.8a1.05 1.05 0 1 0 2.1 0a1.05 1.05 0 1 0 -2.1 0zM498.57 633.46a1.05 1.05 0 1 0 2.1 0a1.05 1.05 0 1 0 -2.1 0zM501.9 639.01a1.05 1.05 0 1 0 2.1 0a1.05 1.05 0 1 0 -2.1 0zM505.38 644.4a1.05 1.05 0 1 0 2.1 0a1.05 1.05 0 1 0 -2.1 0zM508.96 649.65a1.05 1.05 0 1 0 2.1 0a1.05 1.05 0 1 0 -2.1 0zM512.64 654.76a1.05 1.05 0 1 0 2.1 0a1.05 1.05 0 1 0 -2.1 0zM516.4 659.74a1.05 1.05 0 1 0 2.1 0a1.05 1.05 0 1 0 -2.1 0zM520.23 664.59a1.05 1.05 0 1 0 2.1 0a1.05 1.05 0 1 0 -2.1 0zM524.15 669.28a1.05 1.05 0 1 0 2.1 0a1.05 1.05 0 1 0 -2.1 0zM528.07 673.9a1.05 1.05 0 1 0 2.1 0a1.05 1.05 0 1 0 -2.1 0zM531.91 678.52a1.05 1.05 0 1 0 2.1 0a1.05 1.05 0 1 0 -2.1 0zM535.7 683.1a1.05 1.05 0 1 0 2.1 0a1.05 1.05 0 1 0 -2.1 0zM539.53 687.56a1.05 1.05 0 1 0 2.1 0a1.05 1.05 0 1 0 -2.1 0zM543.38 691.89a1.05 1.05 0 1 0 2.1 0a1.05 1.05 0 1 0 -2.1 0zM547.26 696.1a1.05 1.05 0 1 0 2.1 0a1.05 1.05 0 1 0 -2.1 0zM551.22 700.09a1.05 1.05 0 1 0 2.1 0a1.05 1.05 0 1 0 -2.1 0zM555.27 703.84a1.05 1.05 0 1 0 2.1 0a1.05 1.05 0 1 0 -2.1 0zM559.38 707.36a1.05 1.05 0 1 0 2.1 0a1.05 1.05 0 1 0 -2.1 0zM563.56 710.6a1.05 1.05 0 1 0 2.1 0a1.05 1.05 0 1 0 -2.1 0zM567.8 713.54a1.05 1.05 0 1 0 2.1 0a1.05 1.05 0 1 0 -2.1 0zM572.01 716.27a1.05 1.05 0 1 0 2.1 0a1.05 1.05 0 1 0 -2.1 0zM576.13 718.85a1.05 1.05 0 1 0 2.1 0a1.05 1.05 0 1 0 -2.1 0zM580.15 721.23a1.05 1.05 0 1 0 2.1 0a1.05 1.05 0 1 0 -2.1 0zM584.06 723.3a1.05 1.05 0 1 0 2.1 0a1.05 1.05 0 1 0 -2.1 0zM587.82 724.86a1.05 1.05 0 1 0 2.1 0a1.05 1.05 0 1 0 -2.1 0zM590.95 726.01a1.05 1.05 0 1 0 2.1 0a1.05 1.05 0 1 0 -2.1 0z"/>
<path fill="none" stroke="#66bd46" stroke-width="0.8" d="M492.6 622.79h2.8M494 621.39v2.8M495.89 627.83h2.8M497.29 626.43v2.8M499.12 632.87h2.8M500.52 631.47v2.8M502.15 638.01h2.8M503.55 636.61v2.8M505.11 643.16h2.8M506.51 641.76v2.8M508.22 648.15h2.8M509.62 646.75v2.8M511.44 653.01h2.8M512.84 651.61v2.8M514.74 657.75h2.8M516.14 656.35v2.8M518.11 662.38h2.8M519.51 660.98v2.8M521.54 666.89h2.8M522.94 665.49v2.8M525.02 671.29h2.8M526.42 669.89v2.8M528.55 675.57h2.8M529.95 674.17v2.8M532.12 679.76h2.8M533.52 678.36v2.8M535.7 683.84h2.8M537.1 682.44v2.8M539.32 687.81h2.8M540.72 686.41v2.8M542.96 691.66h2.8M544.36 690.26v2.8M546.59 695.41h2.8M547.99 694.01v2.8M550.22 699.07h2.8M551.62 697.67v2.8M553.89 702.55h2.8M555.29 701.15v2.8M557.63 705.81h2.8M559.03 704.41v2.8M561.42 708.84h2.8M562.82 707.44v2.8M565.24 711.63h2.8M566.64 710.23v2.8M569.08 714.16h2.8M570.48 712.76v2.8M572.91 716.42h2.8M574.31 715.02v2.8M576.67 718.44h2.8M578.07 717.04v2.8M580.33 720.15h2.8M581.73 718.75v2.8M583.77 721.59h2.8M585.17 720.19v2.8M586.6 722.75h2.8M588 721.35v2.8"/>
<path fill="#66bd46" d="M466.9 622.79a1.1 1.1 0 1 0 2.2 0a1.1 1.1 0 1 0 -2.2 0zM469.81 628.19a1.1 1.1 0 1 0 2.2 0a1.1 1.1 0 1 0 -2.2 0zM472.81 633.5a1.1 1.1 0 1 0 2.2 0a1.1 1.1 0 1 0 -2.2 0zM476.01 638.61a1.1 1.1 0 1 0 2.2 0a1.1 1.1 0 1 0 -2.2 0zM479.3 643.61a1.1 1.1 0 1 0 2.2 0a1.1 1.1 0 1 0 -2.2 0zM482.56 648.59a1.1 1.1 0 1 0 2.2 0a1.1 1.1 0 1 0 -2.2 0zM485.83 653.5a1.1 1.1 0 1 0 2.2 0a1.1 1.1 0 1 0 -2.2 0zM489.2 658.29a1.1 1.1 0 1 0 2.2 0a1.1 1.1 0 1 0 -2.2 0zM492.65 662.95a1.1 1.1 0 1 0 2.2 0a1.1 1.1 0 1 0 -2.2 0zM496.16 667.49a1.1 1.1 0 1 0 2.2 0a1.1 1.1 0 1 0 -2.2 0zM499.74 671.9a1.1 1.1 0 1 0 2.2 0a1.1 1.1 0 1 0 -2.2 0zM503.36 676.2a1.1 1.1 0 1 0 2.2 0a1.1 1.1 0 1 0 -2.2 0zM506.96 680.45a1.1 1.1 0 1 0 2.2 0a1.1 1.1 0 1 0 -2.2 0zM510.46 684.72a1.1 1.1 0 1 0 2.2 0a1.1 1.1 0 1 0 -2.2 0zM513.93 688.94a1.1 1.1 0 1 0 2.2 0a1.1 1.1 0 1 0 -2.2 0zM517.5 692.97a1.1 1.1 0 1 0 2.2 0a1.1 1.1 0 1 0 -2.2 0zM521.19 696.77a1.1 1.1 0 1 0 2.2 0a1.1 1.1 0 1 0 -2.2 0zM524.93 700.39a1.1 1.1 0 1 0 2.2 0a1.1 1.1 0 1 0 -2.2 0zM528.66 703.91a1.1 1.1 0 1 0 2.2 0a1.1 1.1 0 1 0 -2.2 0zM532.35 707.34a1.1 1.1 0 1 0 2.2 0a1.1 1.1 0 1 0 -2.2 0zM536.04 710.61a1.1 1.1 0 1 0 2.2 0a1.1 1.1 0 1 0 -2.2 0zM539.78 713.66a1.1 1.1 0 1 0 2.2 0a1.1 1.1 0 1 0 -2.2 0zM543.54 716.44a1.1 1.1 0 1 0 2.2 0a1.1 1.1 0 1 0 -2.2 0zM547.29 718.97a1.1 1.1 0 1 0 2.2 0a1.1 1.1 0 1 0 -2.2 0zM551 721.21a1.1 1.1 0 1 0 2.2 0a1.1 1.1 0 1 0 -2.2 0zM554.66 723.08a1.1 1.1 0 1 0 2.2 0a1.1 1.1 0 1 0 -2.2 0zM558.08 724.7a1.1 1.1 0 1 0 2.2 0a1.1 1.1 0 1 0 -2.2 0zM560.9 726.01a1.1 1.1 0 1 0 2.2 0a1.1 1.1 0 1 0 -2.2 0z"/>
<path fill="none" stroke="#66bd46" stroke-width="0.8" d="M457 609.54l1.3 1.3l-1.3 1.3l-1.3 -1.3zM459.7 617.07l1.3 1.3l-1.3 1.3l-1.3 -1.3zM462.72 624.4l1.3 1.3l-1.3 1.3l-1.3 -1.3zM466.11 631.48l1.3 1.3l-1.3 1.3l-1.3 -1.3zM469.79 638.34l1.3 1.3l-1.3 1.3l-1.3 -1.3zM473.85 644.86l1.3 1.3l-1.3 1.3l-1.3 -1.3zM478.09 651.18l1.3 1.3l-1.3 1.3l-1.3 -1.3zM481.05 658.24l1.3 1.3l-1.3 1.3l-1.3 -1.3zM483.5 665.48l1.3 1.3l-1.3 1.3l-1.3 -1.3zM486.12 672.59l1.3 1.3l-1.3 1.3l-1.3 -1.3zM489.92 678.92l1.3 1.3l-1.3 1.3l-1.3 -1.3zM494.68 684.38l1.3 1.3l-1.3 1.3l-1.3 -1.3zM499.01 690.16l1.3 1.3l-1.3 1.3l-1.3 -1.3zM503.53 695.67l1.3 1.3l-1.3 1.3l-1.3 -1.3zM508.32 700.79l1.3 1.3l-1.3 1.3l-1.3 -1.3zM513.38 705.47l1.3 1.3l-1.3 1.3l-1.3 -1.3zM518.64 709.73l1.3 1.3l-1.3 1.3l-1.3 -1.3zM524.03 713.61l1.3 1.3l-1.3 1.3l-1.3 -1.3zM529.5 717.18l1.3 1.3l-1.3 1.3l-1.3 -1.3zM534.69 720.99l1.3 1.3l-1.3 1.3l-1.3 -1.3zM539.75 724.79l1.3 1.3l-1.3 1.3l-1.3 -1.3zM544.91 728.16l1.3 1.3l-1.3 1.3l-1.3 -1.3zM550.23 730.85l1.3 1.3l-1.3 1.3l-1.3 -1.3zM555.65 732.72l1.3 1.3l-1.3 1.3l-1.3 -1.3zM561.05 733.75l1.3 1.3l-1.3 1.3l-1.3 -1.3zM566.24 734.32l1.3 1.3l-1.3 1.3l-1.3 -1.3zM571.05 734.69l1.3 1.3l-1.3 1.3l-1.3 -1.3zM575 734.92l1.3 1.3l-1.3 1.3l-1.3 -1.3z"/>
<path fill="#66bd46" d="M461 602.24h2v2h-2zM463.39 608.73h2v2h-2zM465.76 615.2h2v2h-2zM468.08 621.63h2v2h-2zM470.72 627.87h2v2h-2zM473.59 633.95h2v2h-2zM476.34 640.04h2v2h-2zM479.17 646.02h2v2h-2zM482.28 651.79h2v2h-2zM485.49 657.42h2v2h-2zM488.69 663.01h2v2h-2zM491.97 668.46h2v2h-2zM495.36 673.77h2v2h-2zM498.86 678.9h2v2h-2zM502.57 683.77h2v2h-2zM506.45 688.39h2v2h-2zM510.35 692.87h2v2h-2zM514.29 697.2h2v2h-2zM518.26 701.37h2v2h-2zM522.26 705.36h2v2h-2zM526.29 709.15h2v2h-2zM530.32 712.73h2v2h-2zM534.36 716.1h2v2h-2zM538.36 719.23h2v2h-2zM542.3 722.11h2v2h-2zM546.17 724.64h2v2h-2zM549.9 726.68h2v2h-2zM553 728.27h2v2h-2z"/>
<path fill="#66bd46" d="M478 619.95l1.45 -2.6h-2.9zM480.91 625.35l1.45 -2.6h-2.9zM483.91 630.65l1.45 -2.6h-2.9zM487.11 635.77l1.45 -2.6h-2.9zM490.4 640.77l1.45 -2.6h-2.9zM493.66 645.74l1.45 -2.6h-2.9zM496.93 650.66l1.45 -2.6h-2.9zM500.3 655.44l1.45 -2.6h-2.9zM503.75 660.1l1.45 -2.6h-2.9zM507.26 664.64l1.45 -2.6h-2.9zM510.84 669.06l1.45 -2.6h-2.9zM514.46 673.35l1.45 -2.6h-2.9zM518.06 677.6l1.45 -2.6h-2.9zM521.56 681.88l1.45 -2.6h-2.9zM525.03 686.1l1.45 -2.6h-2.9zM528.6 690.12l1.45 -2.6h-2.9zM532.29 693.92l1.45 -2.6h-2.9zM536.03 697.55l1.45 -2.6h-2.9zM539.76 701.06l1.45 -2.6h-2.9zM543.45 704.49l1.45 -2.6h-2.9zM547.14 707.77l1.45 -2.6h-2.9zM550.88 710.81l1.45 -2.6h-2.9zM554.64 713.59l1.45 -2.6h-2.9zM558.39 716.12l1.45 -2.6h-2.9zM562.1 718.36l1.45 -2.6h-2.9zM565.76 720.24l1.45 -2.6h-2.9zM569.18 721.85l1.45 -2.6h-2.9zM572 723.16l1.45 -2.6h-2.9z"/>
<path fill="#2646a0" d="M464 610.43l1.45 2.6h-2.9zM466.69 616.42l1.45 2.6h-2.9zM469.51 622.29l1.45 2.6h-2.9zM472.57 627.97l1.45 2.6h-2.9zM475.81 633.49l1.45 2.6h-2.9zM479.19 638.85l1.45 2.6h-2.9zM482.72 644.05l1.45 2.6h-2.9zM486.39 649.07l1.45 2.6h-2.9zM490.09 654.01l1.45 2.6h-2.9zM493.73 658.93l1.45 2.6h-2.9zM497.38 663.77l1.45 2.6h-2.9zM501.12 668.47l1.45 2.6h-2.9zM504.91 673.03l1.45 2.6h-2.9zM508.73 677.48l1.45 2.6h-2.9zM512.58 681.81l1.45 2.6h-2.9zM516.47 686.01l1.45 2.6h-2.9zM520.38 690.07l1.45 2.6h-2.9zM524.29 694.01l1.45 2.6h-2.9zM528.21 697.82l1.45 2.6h-2.9zM532.12 701.5l1.45 2.6h-2.9zM536 705.06l1.45 2.6h-2.9zM539.89 708.41l1.45 2.6h-2.9zM543.84 711.45l1.45 2.6h-2.9zM547.8 714.21l1.45 2.6h-2.9zM551.69 716.71l1.45 2.6h-2.9zM555.48 718.92l1.45 2.6h-2.9zM559.06 720.81l1.45 2.6h-2.9zM562 722.34l1.45 2.6h-2.9z"/>
<path fill="#2646a0" d="M469 606.58h2v2h-2zM472.18 612.34h2v2h-2zM475.34 618.07h2v2h-2zM478.43 623.79h2v2h-2zM481.65 629.38h2v2h-2zM485.09 634.76h2v2h-2zM488.57 640.05h2v2h-2zM492.03 645.31h2v2h-2zM495.54 650.47h2v2h-2zM499.16 655.47h2v2h-2zM502.85 660.34h2v2h-2zM506.61 665.07h2v2h-2zM510.45 669.66h2v2h-2zM514.27 674.17h2v2h-2zM518 678.69h2v2h-2zM521.67 683.17h2v2h-2zM525.44 687.45h2v2h-2zM529.34 691.47h2v2h-2zM533.3 695.3h2v2h-2zM537.24 699.01h2v2h-2zM541.13 702.61h2v2h-2zM545.03 706.02h2v2h-2zM548.98 709.13h2v2h-2zM552.96 711.92h2v2h-2zM556.86 714.49h2v2h-2zM560.6 716.87h2v2h-2zM564.11 718.96h2v2h-2zM567 720.66h2v2h-2z"/>
<path fill="#2646a0" d="M464.9 616.27a1.1 1.1 0 1 0 2.2 0a1.1 1.1 0 1 0 -2.2 0zM468.07 622.14a1.1 1.1 0 1 0 2.2 0a1.1 1.1 0 1 0 -2.2 0zM471.35 627.89a1.1 1.1 0 1 0 2.2 0a1.1 1.1 0 1 0 -2.2 0zM474.87 633.42a1.1 1.1 0 1 0 2.2 0a1.1 1.1 0 1 0 -2.2 0zM478.45 638.85a1.1 1.1 0 1 0 2.2 0a1.1 1.1 0 1 0 -2.2 0zM482 644.25a1.1 1.1 0 1 0 2.2 0a1.1 1.1 0 1 0 -2.2 0zM485.61 649.55a1.1 1.1 0 1 0 2.2 0a1.1 1.1 0 1 0 -2.2 0zM489.35 654.69a1.1 1.1 0 1 0 2.2 0a1.1 1.1 0 1 0 -2.2 0zM493.16 659.69a1.1 1.1 0 1 0 2.2 0a1.1 1.1 0 1 0 -2.2 0zM497.05 664.56a1.1 1.1 0 1 0 2.2 0a1.1 1.1 0 1 0 -2.2 0zM501.02 669.28a1.1 1.1 0 1 0 2.2 0a1.1 1.1 0 1 0 -2.2 0zM504.97 673.94a1.1 1.1 0 1 0 2.2 0a1.1 1.1 0 1 0 -2.2 0zM508.81 678.63a1.1 1.1 0 1 0 2.2 0a1.1 1.1 0 1 0 -2.2 0zM512.63 683.25a1.1 1.1 0 1 0 2.2 0a1.1 1.1 0 1 0 -2.2 0zM516.61 687.63a1.1 1.1 0 1 0 2.2 0a1.1 1.1 0 1 0 -2.2 0zM520.72 691.75a1.1 1.1 0 1 0 2.2 0a1.1 1.1 0 1 0 -2.2 0zM524.87 695.71a1.1 1.1 0 1 0 2.2 0a1.1 1.1 0 1 0 -2.2 0zM529.01 699.55a1.1 1.1 0 1 0 2.2 0a1.1 1.1 0 1 0 -2.2 0zM533.16 703.25a1.1 1.1 0 1 0 2.2 0a1.1 1.1 0 1 0 -2.2 0zM537.31 706.8a1.1 1.1 0 1 0 2.2 0a1.1 1.1 0 1 0 -2.2 0zM541.43 710.22a1.1 1.1 0 1 0 2.2 0a1.1 1.1 0 1 0 -2.2 0zM545.54 713.44a1.1 1.1 0 1 0 2.2 0a1.1 1.1 0 1 0 -2.2 0zM549.7 716.35a1.1 1.1 0 1 0 2.2 0a1.1 1.1 0 1 0 -2.2 0zM553.87 718.91a1.1 1.1 0 1 0 2.2 0a1.1 1.1 0 1 0 -2.2 0zM557.99 721.19a1.1 1.1 0 1 0 2.2 0a1.1 1.1 0 1 0 -2.2 0zM562 723.14a1.1 1.1 0 1 0 2.2 0a1.1 1.1 0 1 0 -2.2 0zM565.78 724.73a1.1 1.1 0 1 0 2.2 0a1.1 1.1 0 1 0 -2.2 0zM568.9 726.01a1.1 1.1 0 1 0 2.2 0a1.1 1.1 0 1 0 -2.2 0z"/>
<path fill="#2646a0" d="M478.9 621.99h2.2v1.6h-2.2zM482.23 628.15h2.2v1.6h-2.2zM485.69 634.17h2.2v1.6h-2.2zM489.41 639.95h2.2v1.6h-2.2zM493.17 645.65h2.2v1.6h-2.2zM496.9 651.32h2.2v1.6h-2.2zM500.74 656.84h2.2v1.6h-2.2zM504.69 662.2h2.2v1.6h-2.2zM508.73 667.42h2.2v1.6h-2.2zM512.85 672.49h2.2v1.6h-2.2zM517.03 677.43h2.2v1.6h-2.2zM521.26 682.24h2.2v1.6h-2.2zM525.54 686.91h2.2v1.6h-2.2zM529.86 691.43h2.2v1.6h-2.2zM534.21 695.82h2.2v1.6h-2.2zM538.59 700.07h2.2v1.6h-2.2zM542.98 704.18h2.2v1.6h-2.2zM547.38 708.15h2.2v1.6h-2.2zM551.87 711.85h2.2v1.6h-2.2zM556.47 715.21h2.2v1.6h-2.2zM561.14 718.23h2.2v1.6h-2.2zM565.88 720.84h2.2v1.6h-2.2zM570.65 723.09h2.2v1.6h-2.2zM575.28 725.23h2.2v1.6h-2.2zM579.77 727.22h2.2v1.6h-2.2zM584.11 728.9h2.2v1.6h-2.2zM588.21 730.14h2.2v1.6h-2.2zM591.6 731.08h2.2v1.6h-2.2z"/>
<path fill="#2646a0" d="M458.9 617.65h2.2v1.6h-2.2zM461.64 622.74h2.2v1.6h-2.2zM464.45 627.75h2.2v1.6h-2.2zM467.42 632.6h2.2v1.6h-2.2zM470.5 637.32h2.2v1.6h-2.2zM473.7 641.91h2.2v1.6h-2.2zM476.99 646.37h2.2v1.6h-2.2zM480.29 650.77h2.2v1.6h-2.2zM483.54 655.16h2.2v1.6h-2.2zM486.79 659.49h2.2v1.6h-2.2zM490.11 663.7h2.2v1.6h-2.2zM493.47 667.8h2.2v1.6h-2.2zM496.87 671.8h2.2v1.6h-2.2zM500.28 675.71h2.2v1.6h-2.2zM503.72 679.51h2.2v1.6h-2.2zM507.17 683.21h2.2v1.6h-2.2zM510.65 686.79h2.2v1.6h-2.2zM514.13 690.26h2.2v1.6h-2.2zM517.62 693.6h2.2v1.6h-2.2zM521.12 696.81h2.2v1.6h-2.2zM524.61 699.88h2.2v1.6h-2.2zM528.08 702.81h2.2v1.6h-2.2zM531.53 705.58h2.2v1.6h-2.2zM534.94 708.17h2.2v1.6h-2.2zM538.25 710.61h2.2v1.6h-2.2zM541.44 712.87h2.2v1.6h-2.2zM544.44 714.88h2.2v1.6h-2.2zM546.9 716.52h2.2v1.6h-2.2z"/>
<path fill="none" stroke="#2646a0" stroke-width="0.8" d="M490.9 634.73l2.2 2.2M493.1 634.73l-2.2 2.2M494.3 639.35l2.2 2.2M496.5 639.35l-2.2 2.2M497.69 643.95l2.2 2.2M499.89 643.95l-2.2 2.2M501.04 648.53l2.2 2.2M503.24 648.53l-2.2 2.2M504.36 653.09l2.2 2.2M506.56 653.09l-2.2 2.2M507.75 657.55l2.2 2.2M509.95 657.55l-2.2 2.2M511.25 661.84l2.2 2.2M513.45 661.84l-2.2 2.2M514.76 666.07l2.2 2.2M516.96 666.07l-2.2 2.2M518.15 670.37l2.2 2.2M520.35 670.37l-2.2 2.2M521.56 674.58l2.2 2.2M523.76 674.58l-2.2 2.2M525.27 678.41l2.2 2.2M527.47 678.41l-2.2 2.2M529.39 681.58l2.2 2.2M531.59 681.58l-2.2 2.2M533.92 680.13l2.2 2.2M536.12 680.13l-2.2 2.2M538.01 677.14l2.2 2.2M540.21 677.14l-2.2 2.2M542.9 676.6l2.2 2.2M545.1 676.6l-2.2 2.2M547.76 676.7l2.2 2.2M549.96 676.7l-2.2 2.2M552.52 677.43l2.2 2.2M554.72 677.43l-2.2 2.2M557.11 678.71l2.2 2.2M559.31 678.71l-2.2 2.2M561.43 680.62l2.2 2.2M563.63 680.62l-2.2 2.2M565.38 683.17l2.2 2.2M567.58 683.17l-2.2 2.2M568.42 686.75l2.2 2.2M570.62 686.75l-2.2 2.2M570.65 690.89l2.2 2.2M572.85 690.89l-2.2 2.2M572.68 695.01l2.2 2.2M574.88 695.01l-2.2 2.2M574.55 699.07l2.2 2.2M576.75 699.07l-2.2 2.2M576.32 702.99l2.2 2.2M578.52 702.99l-2.2 2.2M578.02 706.71l2.2 2.2M580.22 706.71l-2.2 2.2M579.6 710.14l2.2 2.2M581.8 710.14l-2.2 2.2M580.9 712.96l2.2 2.2M583.1 712.96l-2.2 2.2"/>
<path fill="none" stroke="#7840ae" stroke-width="0.8" d="M463.9 580.11l1.4 2.5h-2.8zM466.86 586.88l1.4 2.5h-2.8zM468.41 594.1l1.4 2.5h-2.8zM470.18 601.2l1.4 2.5h-2.8zM472.48 608.1l1.4 2.5h-2.8zM473.79 615.27l1.4 2.5h-2.8zM475.62 622.25l1.4 2.5h-2.8zM477.92 629.01l1.4 2.5h-2.8zM480.53 635.58l1.4 2.5h-2.8zM483.4 641.95l1.4 2.5h-2.8zM486.53 648.12l1.4 2.5h-2.8zM489.87 654.08l1.4 2.5h-2.8zM493.22 659.96l1.4 2.5h-2.8zM496.6 665.73l1.4 2.5h-2.8zM500.1 671.33l1.4 2.5h-2.8zM503.71 676.76l1.4 2.5h-2.8zM507.5 681.93l1.4 2.5h-2.8zM511.5 686.79l1.4 2.5h-2.8zM515.55 691.46l1.4 2.5h-2.8zM519.59 696.02l1.4 2.5h-2.8zM523.7 700.31l1.4 2.5h-2.8zM527.96 704.24l1.4 2.5h-2.8zM532.25 707.87l1.4 2.5h-2.8zM536.49 711.31l1.4 2.5h-2.8zM540.63 714.51l1.4 2.5h-2.8zM544.7 717.35l1.4 2.5h-2.8zM548.67 719.58l1.4 2.5h-2.8zM552 721.25l1.4 2.5h-2.8z"/>
<path fill="none" stroke="#7840ae" stroke-width="0.8" d="M450.95 614.1a1.05 1.05 0 1 0 2.1 0a1.05 1.05 0 1 0 -2.1 0zM453.75 620.34a1.05 1.05 0 1 0 2.1 0a1.05 1.05 0 1 0 -2.1 0zM456.88 626.36a1.05 1.05 0 1 0 2.1 0a1.05 1.05 0 1 0 -2.1 0zM460.34 632.1a1.05 1.05 0 1 0 2.1 0a1.05 1.05 0 1 0 -2.1 0zM464.11 637.56a1.05 1.05 0 1 0 2.1 0a1.05 1.05 0 1 0 -2.1 0zM467.94 642.9a1.05 1.05 0 1 0 2.1 0a1.05 1.05 0 1 0 -2.1 0zM471.63 648.3a1.05 1.05 0 1 0 2.1 0a1.05 1.05 0 1 0 -2.1 0zM474.49 654.22a1.05 1.05 0 1 0 2.1 0a1.05 1.05 0 1 0 -2.1 0zM477.14 660.19a1.05 1.05 0 1 0 2.1 0a1.05 1.05 0 1 0 -2.1 0zM480.26 665.84a1.05 1.05 0 1 0 2.1 0a1.05 1.05 0 1 0 -2.1 0zM483.75 671.14a1.05 1.05 0 1 0 2.1 0a1.05 1.05 0 1 0 -2.1 0zM487.61 676.07a1.05 1.05 0 1 0 2.1 0a1.05 1.05 0 1 0 -2.1 0zM491.89 680.47a1.05 1.05 0 1 0 2.1 0a1.05 1.05 0 1 0 -2.1 0zM495.75 685.24a1.05 1.05 0 1 0 2.1 0a1.05 1.05 0 1 0 -2.1 0zM499.38 690.12a1.05 1.05 0 1 0 2.1 0a1.05 1.05 0 1 0 -2.1 0zM503.25 694.69a1.05 1.05 0 1 0 2.1 0a1.05 1.05 0 1 0 -2.1 0zM507.29 698.96a1.05 1.05 0 1 0 2.1 0a1.05 1.05 0 1 0 -2.1 0zM511.51 702.9a1.05 1.05 0 1 0 2.1 0a1.05 1.05 0 1 0 -2.1 0zM515.92 706.43a1.05 1.05 0 1 0 2.1 0a1.05 1.05 0 1 0 -2.1 0zM520.57 709.39a1.05 1.05 0 1 0 2.1 0a1.05 1.05 0 1 0 -2.1 0zM525.13 712.3a1.05 1.05 0 1 0 2.1 0a1.05 1.05 0 1 0 -2.1 0zM529.55 715.23a1.05 1.05 0 1 0 2.1 0a1.05 1.05 0 1 0 -2.1 0zM533.89 718.04a1.05 1.05 0 1 0 2.1 0a1.05 1.05 0 1 0 -2.1 0zM538.1 720.76a1.05 1.05 0 1 0 2.1 0a1.05 1.05 0 1 0 -2.1 0zM542.13 723.43a1.05 1.05 0 1 0 2.1 0a1.05 1.05 0 1 0 -2.1 0zM545.96 725.95a1.05 1.05 0 1 0 2.1 0a1.05 1.05 0 1 0 -2.1 0zM549.52 728.25a1.05 1.05 0 1 0 2.1 0a1.05 1.05 0 1 0 -2.1 0zM552.45 730.14a1.05 1.05 0 1 0 2.1 0a1.05 1.05 0 1 0 -2.1 0z"/>
<path fill="none" stroke="#7840ae" stroke-width="0.8" d="M436.5 596.5h2.8M437.9 595.1v2.8M439.1 601.18h2.8M440.5 599.78v2.8M441.26 606.07h2.8M442.66 604.67v2.8M443.29 610.99h2.8M444.69 609.59v2.8M445.97 615.49h2.8M447.37 614.09v2.8M447.82 620.43h2.8M449.22 619.03v2.8M450 625.16h2.8M451.4 623.76v2.8M452.48 629.68h2.8M453.88 628.28v2.8M455.02 634.1h2.8M456.42 632.7v2.8M457.56 638.49h2.8M458.96 637.09v2.8M460.27 642.7h2.8M461.67 641.3v2.8M463.1 646.75h2.8M464.5 645.35v2.8M465.93 650.75h2.8M467.33 649.35v2.8M468.75 654.7h2.8M470.15 653.3v2.8M471.55 658.58h2.8M472.95 657.18v2.8M474.33 662.43h2.8M475.73 661.03v2.8M477.09 666.2h2.8M478.49 664.8v2.8M479.88 669.87h2.8M481.28 668.47v2.8M482.71 673.4h2.8M484.11 672v2.8M485.55 676.82h2.8M486.95 675.42v2.8M488.39 680.13h2.8M489.79 678.73v2.8M491.21 683.33h2.8M492.61 681.93v2.8M494.01 686.39h2.8M495.41 684.99v2.8M496.78 689.31h2.8M498.18 687.91v2.8M499.49 692.05h2.8M500.89 690.65v2.8M502.13 694.6h2.8M503.53 693.2v2.8M504.58 696.93h2.8M505.98 695.53v2.8M506.6 698.85h2.8M508 697.45v2.8"/>
<path fill="#7840ae" d="M448.7 601.82a1.1 1.1 0 1 0 2.2 0a1.1 1.1 0 1 0 -2.2 0zM450.67 606.59a1.1 1.1 0 1 0 2.2 0a1.1 1.1 0 1 0 -2.2 0zM452.4 611.43a1.1 1.1 0 1 0 2.2 0a1.1 1.1 0 1 0 -2.2 0zM453.92 616.32a1.1 1.1 0 1 0 2.2 0a1.1 1.1 0 1 0 -2.2 0zM455.79 621.03a1.1 1.1 0 1 0 2.2 0a1.1 1.1 0 1 0 -2.2 0zM457.22 625.88a1.1 1.1 0 1 0 2.2 0a1.1 1.1 0 1 0 -2.2 0zM458.23 630.82a1.1 1.1 0 1 0 2.2 0a1.1 1.1 0 1 0 -2.2 0zM459.13 635.75a1.1 1.1 0 1 0 2.2 0a1.1 1.1 0 1 0 -2.2 0zM460.39 640.54a1.1 1.1 0 1 0 2.2 0a1.1 1.1 0 1 0 -2.2 0zM462.52 644.91a1.1 1.1 0 1 0 2.2 0a1.1 1.1 0 1 0 -2.2 0zM464.71 649.18a1.1 1.1 0 1 0 2.2 0a1.1 1.1 0 1 0 -2.2 0zM467.68 652.82a1.1 1.1 0 1 0 2.2 0a1.1 1.1 0 1 0 -2.2 0zM470.6 656.45a1.1 1.1 0 1 0 2.2 0a1.1 1.1 0 1 0 -2.2 0zM473.46 660.07a1.1 1.1 0 1 0 2.2 0a1.1 1.1 0 1 0 -2.2 0zM476.27 663.67a1.1 1.1 0 1 0 2.2 0a1.1 1.1 0 1 0 -2.2 0zM479.04 667.24a1.1 1.1 0 1 0 2.2 0a1.1 1.1 0 1 0 -2.2 0zM481.89 670.65a1.1 1.1 0 1 0 2.2 0a1.1 1.1 0 1 0 -2.2 0zM484.85 673.86a1.1 1.1 0 1 0 2.2 0a1.1 1.1 0 1 0 -2.2 0zM487.79 677a1.1 1.1 0 1 0 2.2 0a1.1 1.1 0 1 0 -2.2 0zM490.66 680.11a1.1 1.1 0 1 0 2.2 0a1.1 1.1 0 1 0 -2.2 0zM493.47 683.17a1.1 1.1 0 1 0 2.2 0a1.1 1.1 0 1 0 -2.2 0zM496.22 686.16a1.1 1.1 0 1 0 2.2 0a1.1 1.1 0 1 0 -2.2 0zM498.89 689.1a1.1 1.1 0 1 0 2.2 0a1.1 1.1 0 1 0 -2.2 0zM501.48 691.95a1.1 1.1 0 1 0 2.2 0a1.1 1.1 0 1 0 -2.2 0zM504.03 694.63a1.1 1.1 0 1 0 2.2 0a1.1 1.1 0 1 0 -2.2 0zM506.55 697.06a1.1 1.1 0 1 0 2.2 0a1.1 1.1 0 1 0 -2.2 0zM508.94 699.24a1.1 1.1 0 1 0 2.2 0a1.1 1.1 0 1 0 -2.2 0zM510.9 701.02a1.1 1.1 0 1 0 2.2 0a1.1 1.1 0 1 0 -2.2 0z"/>
<path fill="none" stroke="#7840ae" stroke-width="0.8" d="M408.3 672.45l1.3 1.3l-1.3 1.3l-1.3 -1.3zM412.84 673.54l1.3 1.3l-1.3 1.3l-1.3 -1.3zM417.44 673.96l1.3 1.3l-1.3 1.3l-1.3 -1.3zM422.03 674.11l1.3 1.3l-1.3 1.3l-1.3 -1.3zM426.58 674.51l1.3 1.3l-1.3 1.3l-1.3 -1.3zM431.1 674.21l1.3 1.3l-1.3 1.3l-1.3 -1.3zM435.42 672.96l1.3 1.3l-1.3 1.3l-1.3 -1.3zM438.42 669.4l1.3 1.3l-1.3 1.3l-1.3 -1.3zM441.36 665.79l1.3 1.3l-1.3 1.3l-1.3 -1.3zM445.1 663.3l1.3 1.3l-1.3 1.3l-1.3 -1.3zM449.13 661.47l1.3 1.3l-1.3 1.3l-1.3 -1.3zM453.14 659.72l1.3 1.3l-1.3 1.3l-1.3 -1.3zM457.15 658.06l1.3 1.3l-1.3 1.3l-1.3 -1.3zM461.14 656.48l1.3 1.3l-1.3 1.3l-1.3 -1.3zM465.12 655.01l1.3 1.3l-1.3 1.3l-1.3 -1.3zM469.06 653.6l1.3 1.3l-1.3 1.3l-1.3 -1.3zM472.72 652.51l1.3 1.3l-1.3 1.3l-1.3 -1.3zM475.29 655.87l1.3 1.3l-1.3 1.3l-1.3 -1.3zM477.57 659.42l1.3 1.3l-1.3 1.3l-1.3 -1.3zM479.7 663l1.3 1.3l-1.3 1.3l-1.3 -1.3zM481.99 666.35l1.3 1.3l-1.3 1.3l-1.3 -1.3zM484.36 669.53l1.3 1.3l-1.3 1.3l-1.3 -1.3zM486.78 672.53l1.3 1.3l-1.3 1.3l-1.3 -1.3zM489.28 675.29l1.3 1.3l-1.3 1.3l-1.3 -1.3zM491.76 677.85l1.3 1.3l-1.3 1.3l-1.3 -1.3zM494.12 680.29l1.3 1.3l-1.3 1.3l-1.3 -1.3zM496.26 682.6l1.3 1.3l-1.3 1.3l-1.3 -1.3zM498 684.51l1.3 1.3l-1.3 1.3l-1.3 -1.3z"/>
<path fill="#e6df1c" d="M460 595.22l1.45 2.6h-2.9zM462.88 601.63l1.45 2.6h-2.9zM465.94 607.91l1.45 2.6h-2.9zM469.26 613.97l1.45 2.6h-2.9zM472.77 619.85l1.45 2.6h-2.9zM476.46 625.55l1.45 2.6h-2.9zM480.3 631.07l1.45 2.6h-2.9zM484.26 636.42l1.45 2.6h-2.9zM488.33 641.61l1.45 2.6h-2.9zM492.5 646.64l1.45 2.6h-2.9zM496.75 651.5l1.45 2.6h-2.9zM501.08 656.2l1.45 2.6h-2.9zM505.39 660.83l1.45 2.6h-2.9zM509.61 665.47l1.45 2.6h-2.9zM513.81 670.03l1.45 2.6h-2.9zM518.09 674.4l1.45 2.6h-2.9zM522.4 678.61l1.45 2.6h-2.9zM526.65 682.78l1.45 2.6h-2.9zM530.79 686.92l1.45 2.6h-2.9zM534.88 690.98l1.45 2.6h-2.9zM538.99 694.85l1.45 2.6h-2.9zM543.08 698.55l1.45 2.6h-2.9zM547.14 702.06l1.45 2.6h-2.9zM551.16 705.35l1.45 2.6h-2.9zM555.13 708.38l1.45 2.6h-2.9zM559.03 711.04l1.45 2.6h-2.9zM562.83 713.14l1.45 2.6h-2.9zM566 714.73l1.45 2.6h-2.9z"/>
<path fill="#e6df1c" d="M446.6 597.56h2v2h-2zM448.64 602.99h2v2h-2zM450.09 608.58h2v2h-2zM451.47 614.16h2v2h-2zM453.77 619.34h2v2h-2zM456.35 624.33h2v2h-2zM459.15 629.12h2v2h-2zM462.15 633.72h2v2h-2zM465.29 638.17h2v2h-2zM468.38 642.58h2v2h-2zM471.49 646.94h2v2h-2zM474.71 651.13h2v2h-2zM478.03 655.16h2v2h-2zM481.33 659.13h2v2h-2zM484.59 663.07h2v2h-2zM487.82 666.96h2v2h-2zM491 670.81h2v2h-2zM494.11 674.63h2v2h-2zM497.2 678.37h2v2h-2zM500.33 681.96h2v2h-2zM503.47 685.4h2v2h-2zM506.58 688.73h2v2h-2zM509.61 691.99h2v2h-2zM512.51 695.19h2v2h-2zM515.31 698.26h2v2h-2zM518.07 701.07h2v2h-2zM520.76 703.51h2v2h-2zM523 705.45h2v2h-2z"/>
<path fill="#e6df1c" d="M450.9 592.37a1.1 1.1 0 1 0 2.2 0a1.1 1.1 0 1 0 -2.2 0zM452.74 601.17a1.1 1.1 0 1 0 2.2 0a1.1 1.1 0 1 0 -2.2 0zM455.52 609.6a1.1 1.1 0 1 0 2.2 0a1.1 1.1 0 1 0 -2.2 0zM459.52 617.38a1.1 1.1 0 1 0 2.2 0a1.1 1.1 0 1 0 -2.2 0zM464.35 624.48a1.1 1.1 0 1 0 2.2 0a1.1 1.1 0 1 0 -2.2 0zM471.77 627.76a1.1 1.1 0 1 0 2.2 0a1.1 1.1 0 1 0 -2.2 0zM479.76 628.22a1.1 1.1 0 1 0 2.2 0a1.1 1.1 0 1 0 -2.2 0zM487.49 626.1a1.1 1.1 0 1 0 2.2 0a1.1 1.1 0 1 0 -2.2 0zM494.81 622.83a1.1 1.1 0 1 0 2.2 0a1.1 1.1 0 1 0 -2.2 0zM502.49 620.98a1.1 1.1 0 1 0 2.2 0a1.1 1.1 0 1 0 -2.2 0zM510.15 619.32a1.1 1.1 0 1 0 2.2 0a1.1 1.1 0 1 0 -2.2 0zM517.6 617.09a1.1 1.1 0 1 0 2.2 0a1.1 1.1 0 1 0 -2.2 0zM524.93 614.88a1.1 1.1 0 1 0 2.2 0a1.1 1.1 0 1 0 -2.2 0zM531.55 618.81a1.1 1.1 0 1 0 2.2 0a1.1 1.1 0 1 0 -2.2 0zM538.13 622.62a1.1 1.1 0 1 0 2.2 0a1.1 1.1 0 1 0 -2.2 0zM542.33 629.24a1.1 1.1 0 1 0 2.2 0a1.1 1.1 0 1 0 -2.2 0zM546.91 635.4a1.1 1.1 0 1 0 2.2 0a1.1 1.1 0 1 0 -2.2 0zM550.3 642.34a1.1 1.1 0 1 0 2.2 0a1.1 1.1 0 1 0 -2.2 0zM553.27 649.37a1.1 1.1 0 1 0 2.2 0a1.1 1.1 0 1 0 -2.2 0zM555.72 656.49a1.1 1.1 0 1 0 2.2 0a1.1 1.1 0 1 0 -2.2 0zM557.83 663.6a1.1 1.1 0 1 0 2.2 0a1.1 1.1 0 1 0 -2.2 0zM559.89 670.56a1.1 1.1 0 1 0 2.2 0a1.1 1.1 0 1 0 -2.2 0zM561.88 677.35a1.1 1.1 0 1 0 2.2 0a1.1 1.1 0 1 0 -2.2 0zM563.82 683.93a1.1 1.1 0 1 0 2.2 0a1.1 1.1 0 1 0 -2.2 0zM565.91 690.19a1.1 1.1 0 1 0 2.2 0a1.1 1.1 0 1 0 -2.2 0zM568.34 695.94a1.1 1.1 0 1 0 2.2 0a1.1 1.1 0 1 0 -2.2 0zM570.82 701.13a1.1 1.1 0 1 0 2.2 0a1.1 1.1 0 1 0 -2.2 0zM572.9 705.37a1.1 1.1 0 1 0 2.2 0a1.1 1.1 0 1 0 -2.2 0z"/>
<path fill="#e6df1c" d="M454.6 589.72h2.2v1.6h-2.2zM460.35 588.63h2.2v1.6h-2.2zM462.68 594.94h2.2v1.6h-2.2zM463.95 601.59h2.2v1.6h-2.2zM465.48 608.12h2.2v1.6h-2.2zM468.22 614.13h2.2v1.6h-2.2zM471.24 619.93h2.2v1.6h-2.2zM474.44 625.56h2.2v1.6h-2.2zM477.8 631.02h2.2v1.6h-2.2zM481.29 636.32h2.2v1.6h-2.2zM484.91 641.45h2.2v1.6h-2.2zM488.62 646.42h2.2v1.6h-2.2zM492.42 651.24h2.2v1.6h-2.2zM496.29 655.91h2.2v1.6h-2.2zM500.22 660.43h2.2v1.6h-2.2zM504.22 664.77h2.2v1.6h-2.2zM508.2 669.04h2.2v1.6h-2.2zM512.08 673.29h2.2v1.6h-2.2zM515.89 677.48h2.2v1.6h-2.2zM519.73 681.51h2.2v1.6h-2.2zM523.58 685.37h2.2v1.6h-2.2zM527.42 689.06h2.2v1.6h-2.2zM531.22 692.58h2.2v1.6h-2.2zM534.97 695.93h2.2v1.6h-2.2zM538.7 698.98h2.2v1.6h-2.2zM542.43 701.59h2.2v1.6h-2.2zM545.98 703.84h2.2v1.6h-2.2zM548.9 705.65h2.2v1.6h-2.2z"/>
<path fill="#e6df1c" d="M468.9 631.77h2.2v1.6h-2.2zM473.45 635.4h2.2v1.6h-2.2zM478.08 638.83h2.2v1.6h-2.2zM482.97 641.75h2.2v1.6h-2.2zM487.97 644.35h2.2v1.6h-2.2zM492.91 646.99h2.2v1.6h-2.2zM497.8 649.64h2.2v1.6h-2.2zM502.64 652.32h2.2v1.6h-2.2zM507.38 655.1h2.2v1.6h-2.2zM512.32 657.33h2.2v1.6h-2.2zM517.33 659.2h2.2v1.6h-2.2zM522.42 660.63h2.2v1.6h-2.2zM527.59 660.86h2.2v1.6h-2.2zM532.59 659.5h2.2v1.6h-2.2zM537.59 658.63h2.2v1.6h-2.2zM542.52 659.72h2.2v1.6h-2.2zM547.32 661.06h2.2v1.6h-2.2zM551.61 661.78h2.2v1.6h-2.2zM553.55 666.59h2.2v1.6h-2.2zM555.01 671.51h2.2v1.6h-2.2zM556.33 676.38h2.2v1.6h-2.2zM557.53 681.16h2.2v1.6h-2.2zM558.4 685.91h2.2v1.6h-2.2zM559.25 690.52h2.2v1.6h-2.2zM560.43 694.85h2.2v1.6h-2.2zM562.85 698.17h2.2v1.6h-2.2zM566.21 699.7h2.2v1.6h-2.2zM569.1 700.55h2.2v1.6h-2.2z"/>
<path fill="none" stroke="#f4b6c6" stroke-width="0.8" d="M553.5 639.33l1.4 2.5h-2.8zM555.34 642.3l1.4 2.5h-2.8zM557.22 645.21l1.4 2.5h-2.8zM559.3 647.93l1.4 2.5h-2.8zM561.73 650.25l1.4 2.5h-2.8zM564.24 652.43l1.4 2.5h-2.8zM566.52 654.85l1.4 2.5h-2.8zM568.54 657.51l1.4 2.5h-2.8zM570.59 660.1l1.4 2.5h-2.8zM572.73 662.56l1.4 2.5h-2.8zM575 664.86l1.4 2.5h-2.8zM577.47 666.82l1.4 2.5h-2.8zM580.39 667.53l1.4 2.5h-2.8zM583.21 666.47l1.4 2.5h-2.8zM585.36 664.25l1.4 2.5h-2.8zM587.08 661.66l1.4 2.5h-2.8zM588.57 658.95l1.4 2.5h-2.8zM590.7 656.91l1.4 2.5h-2.8zM593.41 656.17l1.4 2.5h-2.8zM596.11 656.82l1.4 2.5h-2.8zM598.69 657.79l1.4 2.5h-2.8zM601.27 658.51l1.4 2.5h-2.8zM603.86 658.78l1.4 2.5h-2.8zM606.38 658.73l1.4 2.5h-2.8zM608.81 658.61l1.4 2.5h-2.8zM611.12 658.48l1.4 2.5h-2.8zM613.25 658.34l1.4 2.5h-2.8zM615 658.23l1.4 2.5h-2.8z"/>
<path fill="none" stroke="#f4b6c6" stroke-width="0.8" d="M556.05 656.61h1.9v1.9h-1.9zM557.95 661.24h1.9v1.9h-1.9zM559.84 665.85h1.9v1.9h-1.9zM561.69 670.45h1.9v1.9h-1.9zM563.44 675.06h1.9v1.9h-1.9zM565.03 679.7h1.9v1.9h-1.9zM566.54 684.33h1.9v1.9h-1.9zM568.11 688.91h1.9v1.9h-1.9zM569.86 693.36h1.9v1.9h-1.9zM571.75 697.71h1.9v1.9h-1.9zM573.74 701.96h1.9v1.9h-1.9zM575.81 706.12h1.9v1.9h-1.9zM577.91 710.21h1.9v1.9h-1.9zM580.05 714.22h1.9v1.9h-1.9zM582.31 718.09h1.9v1.9h-1.9zM584.79 721.73h1.9v1.9h-1.9zM587.49 725.11h1.9v1.9h-1.9zM590.37 728.23h1.9v1.9h-1.9zM593.45 731h1.9v1.9h-1.9zM596.95 732.92h1.9v1.9h-1.9zM600.65 734.12h1.9v1.9h-1.9zM604.15 735.69h1.9v1.9h-1.9zM607.56 737.22h1.9v1.9h-1.9zM610.98 738.35h1.9v1.9h-1.9zM614.36 739.06h1.9v1.9h-1.9zM617.59 739.65h1.9v1.9h-1.9zM620.59 740.14h1.9v1.9h-1.9zM623.05 740.49h1.9v1.9h-1.9z"/>
<path d="M409.0 670.2L409.4 669.7L409.9 669.1L410.5 668.3L411.2 667.5L411.9 666.6L412.6 665.7L413.4 664.8L414.2 663.9L415.0 663.0L415.7 662.1L416.4 661.3L417.1 660.5L417.9 659.7L418.6 658.8L419.4 658.0L420.1 657.2L420.9 656.4L421.6 655.6L422.4 654.8L423.1 654.1L423.8 653.4L424.6 652.7L425.3 652.0L426.1 651.4L426.8 650.7L427.5 650.1L428.3 649.5L429.0 648.9L429.8 648.3L430.5 647.7L431.2 647.1L432.0 646.5L432.7 645.9L433.5 645.3L434.2 644.7L434.9 644.1L435.7 643.6L436.4 643.0L437.2 642.5L437.9 642.0L438.6 641.6L439.4 641.1L440.1 640.7L440.9 640.2L441.6 639.8L442.3 639.5L443.1 639.1L443.8 638.7L444.6 638.4L445.3 638.0L446.0 637.7L446.8 637.3L447.6 637.0L448.3 636.7L449.1 636.4L449.8 636.1L450.6 635.8L451.3 635.5L452.0 635.3L452.7 635.1L453.4 634.9L454.0 634.7L454.7 634.6L455.3 634.4L455.9 634.3L456.5 634.2L457.1 634.1L457.6 634.1L458.2 634.0L458.7 634.0L459.2 634.0L459.7 633.9L460.1 634.0L460.5 634.0L460.9 634.0L461.3 634.1L461.7 634.1L462.1 634.2L462.6 634.3L463.1 634.4L463.6 634.6L464.2 634.7L464.8 634.9L465.3 635.1L465.9 635.3L466.6 635.5L467.2 635.7L467.8 635.9L468.4 636.2L469.0 636.4L469.6 636.6L470.2 636.8L470.8 637.0L471.4 637.2L472.0 637.4L472.6 637.7L473.2 637.9L473.8 638.2L474.4 638.5L475.0 638.8L475.6 639.1L476.2 639.4L476.8 639.8L477.4 640.1L478.0 640.5L478.5 640.9L479.1 641.3L479.7 641.8L480.3 642.3L480.9 642.8L481.5 643.3L482.1 644.0L482.7 644.6L483.3 645.3L483.9 646.0L484.5 646.7L485.1 647.4L485.7 648.1L486.3 648.7L486.8 649.3L487.3 649.8L487.7 650.3L488.1 650.7L488.4 651.0L488.8 651.4L489.1 651.8L489.5 652.2L490.0 652.8L490.6 653.4L491.3 654.1L492.1 654.9L493.1 655.9L494.1 657.0L495.2 658.1L496.3 659.3L497.5 660.5L498.6 661.7L499.8 662.9L500.9 664.1L502.0 665.2L503.0 666.2L504.0 667.2L505.1 668.2L506.1 669.3L507.0 670.2L508.0 671.2L509.0 672.2L510.0 673.1L511.0 674.0L512.0 674.9L513.0 675.8L514.0 676.7L515.1 677.5L516.1 678.3L517.1 679.1L518.1 679.9L519.1 680.7L520.1 681.5L521.1 682.2L522.0 683.0L522.9 683.7L523.7 684.5L524.5 685.2L525.3 685.9L526.1 686.6L526.9 687.3L527.7 687.9L528.4 688.6L529.2 689.3L530.0 689.9L530.8 690.6L531.6 691.2L532.4 691.9L533.2 692.5L534.0 693.1L534.9 693.8L535.7 694.4L536.5 694.9L537.3 695.5L538.1 696.0L538.9 696.5L539.7 697.0L540.5 697.5L541.3 697.9L542.1 698.4L542.9 698.8L543.7 699.2L544.5 699.6L545.3 700.0L546.1 700.4L546.9 700.8L547.7 701.1L548.5 701.5L549.3 701.9L550.1 702.3L550.9 702.6L551.7 703.0L552.5 703.3L553.3 703.6L554.1 704.0L554.9 704.3L555.7 704.6L556.5 704.8L557.3 705.1L558.1 705.4L558.9 705.6L559.7 705.9L560.5 706.1L561.3 706.3L562.1 706.6L562.9 706.8L563.7 707.0L564.5 707.2L565.3 707.4L566.1 707.5L567.0 707.7L567.8 707.9L568.6 708.0L569.4 708.2L570.2 708.3L571.0 708.4L571.8 708.5L572.6 708.7L573.4 708.8L574.2 708.9L575.0 708.9L575.8 709.0L576.6 709.1L577.4 709.1L578.2 709.2L579.0 709.2L579.8 709.2L580.6 709.2L581.4 709.2L582.2 709.1L583.0 709.1L583.8 709.1L584.6 709.0L585.4 708.9L586.2 708.8L587.0 708.7L587.8 708.6L588.6 708.5L589.4 708.4L590.2 708.2L591.1 708.1L591.9 707.9L592.7 707.8L593.5 707.6L594.3 707.4L595.1 707.3L595.9 707.1L596.7 706.9L597.4 706.8L598.2 706.6L599.0 706.4L599.8 706.2L600.6 706.0L601.4 705.9L602.3 705.7L603.2 705.5L604.1 705.4L605.0 705.2L605.9 705.0L606.9 704.9L607.9 704.7L608.8 704.5L609.8 704.4L610.9 704.2L611.9 704.0L613.0 703.7L614.2 703.4L615.5 703.2L616.8 702.8L618.1 702.5L619.4 702.2L620.6 702.0L621.6 701.7L622.5 701.5L623.2 701.3L623.2 701.3" fill="none" stroke="#333" stroke-width="0.75"/>
<path d="M41.5 5.85V242.00M39.90 240.4H287.48" stroke="#3c3c3c" stroke-width="1.15" fill="none"/>
<path d="M39.60 193.57H41.5M39.60 146.74H41.5M39.60 99.91H41.5M39.60 53.08H41.5M39.60 6.25H41.5M76.40 240.4V242.30M111.53 240.4V242.30M146.66 240.4V242.30M181.79 240.4V242.30M216.92 240.4V242.30M252.05 240.4V242.30M287.18 240.4V242.30" stroke="#3c3c3c" stroke-width="0.8" fill="none"/>
<path d="M45.80 242.40l1.5 -3.5M47.70 242.40l1.5 -3.5" stroke="#3c3c3c" stroke-width="0.95" fill="none"/>
<text x="37.90" y="196.32" font-size="9.0" text-anchor="end" fill="#231f20" textLength="18.38" lengthAdjust="spacingAndGlyphs">4000</text>
<text x="37.90" y="149.49" font-size="9.0" text-anchor="end" fill="#231f20" textLength="18.38" lengthAdjust="spacingAndGlyphs">8000</text>
<text x="37.90" y="102.66" font-size="9.0" text-anchor="end" fill="#231f20" textLength="25.27" lengthAdjust="spacingAndGlyphs">12,000</text>
<text x="37.90" y="55.83" font-size="9.0" text-anchor="end" fill="#231f20" textLength="25.27" lengthAdjust="spacingAndGlyphs">16,000</text>
<text x="37.90" y="9.00" font-size="9.0" text-anchor="end" fill="#231f20" textLength="25.27" lengthAdjust="spacingAndGlyphs">20,000</text>
<text x="35.60" y="251.30" font-size="9.0" text-anchor="middle" fill="#231f20" textLength="4.59" lengthAdjust="spacingAndGlyphs">0</text>
<text x="76.10" y="251.30" font-size="9.0" text-anchor="middle" fill="#231f20" textLength="11.48" lengthAdjust="spacingAndGlyphs">0.3</text>
<text x="111.23" y="251.30" font-size="9.0" text-anchor="middle" fill="#231f20" textLength="11.48" lengthAdjust="spacingAndGlyphs">0.4</text>
<text x="146.36" y="251.30" font-size="9.0" text-anchor="middle" fill="#231f20" textLength="11.48" lengthAdjust="spacingAndGlyphs">0.5</text>
<text x="181.49" y="251.30" font-size="9.0" text-anchor="middle" fill="#231f20" textLength="11.48" lengthAdjust="spacingAndGlyphs">0.6</text>
<text x="216.62" y="251.30" font-size="9.0" text-anchor="middle" fill="#231f20" textLength="11.48" lengthAdjust="spacingAndGlyphs">0.7</text>
<text x="251.75" y="251.30" font-size="9.0" text-anchor="middle" fill="#231f20" textLength="11.48" lengthAdjust="spacingAndGlyphs">0.8</text>
<text x="286.88" y="251.30" font-size="9.0" text-anchor="middle" fill="#231f20" textLength="11.48" lengthAdjust="spacingAndGlyphs">0.9</text>
<text x="163.90" y="262.00" font-size="9.3" text-anchor="middle" fill="#231f20" textLength="13.95" lengthAdjust="spacingAndGlyphs">SDI</text>
<text x="7.90" y="123.75" font-size="8.6" text-anchor="middle" fill="#231f20" textLength="74.80" lengthAdjust="spacingAndGlyphs" transform="rotate(-90 7.90 123.75)">ASPR (per 100,000)</text>
<path d="M255.8 3.17l1.33 1.33l-1.33 1.33l-1.33 -1.33z" fill="#000000"/>
<text x="258.10" y="6.80" font-size="6.3" font-weight="bold" fill="#231f20" textLength="15.90" lengthAdjust="spacingAndGlyphs">China</text>
<path d="M305.35 3.55h1.9v1.9h-1.9z" fill="#2646a0"/>
<text x="308.60" y="6.80" font-size="6.3" fill="#231f20" textLength="15.47" lengthAdjust="spacingAndGlyphs">Hubei</text>
<path d="M255.8 10.45l1.38 2.47h-2.75z" fill="#e03c3c"/>
<text x="258.10" y="14.17" font-size="6.3" fill="#231f20" textLength="17.78" lengthAdjust="spacingAndGlyphs">Beijing</text>
<path d="M305.25 11.87a1.04 1.04 0 1 0 2.09 0a1.04 1.04 0 1 0 -2.09 0z" fill="#2646a0"/>
<text x="308.60" y="14.17" font-size="6.3" fill="#231f20" textLength="17.45" lengthAdjust="spacingAndGlyphs">Hunan</text>
<path d="M254.9 18.34h1.8v1.8h-1.8z" stroke="#e03c3c" stroke-width="0.7" fill="none"/>
<text x="258.10" y="21.54" font-size="6.3" fill="#231f20" textLength="17.22" lengthAdjust="spacingAndGlyphs">Tianjin</text>
<path d="M305.25 18.48h2.09v1.52h-2.09z" fill="#2646a0"/>
<text x="308.60" y="21.54" font-size="6.3" fill="#231f20" textLength="30.95" lengthAdjust="spacingAndGlyphs">Guangdong</text>
<path d="M254.47 26.61h2.66M255.8 25.28v2.66" stroke="#e03c3c" stroke-width="0.7" fill="none"/>
<text x="258.10" y="28.91" font-size="6.3" fill="#231f20" textLength="15.47" lengthAdjust="spacingAndGlyphs">Hebei</text>
<path d="M305.25 25.85h2.09v1.52h-2.09z" fill="#2646a0"/>
<text x="308.60" y="28.91" font-size="6.3" fill="#231f20" textLength="22.06" lengthAdjust="spacingAndGlyphs">Guangxi</text>
<path d="M254.8 33.98a1 1 0 1 0 1.99 0a1 1 0 1 0 -1.99 0z" stroke="#e03c3c" stroke-width="0.7" fill="none"/>
<text x="258.10" y="36.28" font-size="6.3" fill="#231f20" textLength="18.11" lengthAdjust="spacingAndGlyphs">Shanxi</text>
<path d="M305.25 32.94l2.09 2.09M307.35 32.94l-2.09 2.09" stroke="#2646a0" stroke-width="0.7" fill="none"/>
<text x="308.60" y="36.28" font-size="6.3" fill="#231f20" textLength="18.77" lengthAdjust="spacingAndGlyphs">Hainan</text>
<path d="M255.8 40.12l1.23 1.23l-1.23 1.23l-1.23 -1.23z" stroke="#e03c3c" stroke-width="0.7" fill="none"/>
<text x="258.10" y="43.65" font-size="6.3" fill="#231f20" textLength="39.17" lengthAdjust="spacingAndGlyphs">Inner Mongolia</text>
<path d="M306.3 39.93l1.33 2.38h-2.66z" stroke="#7840ae" stroke-width="0.7" fill="none"/>
<text x="308.60" y="43.65" font-size="6.3" fill="#231f20" textLength="28.64" lengthAdjust="spacingAndGlyphs">Chongqing</text>
<path d="M255.8 47.3l1.38 2.47h-2.75z" fill="#f59a20"/>
<text x="258.10" y="51.02" font-size="6.3" fill="#231f20" textLength="22.39" lengthAdjust="spacingAndGlyphs">Liaoning</text>
<path d="M305.3 48.72a1 1 0 1 0 1.99 0a1 1 0 1 0 -1.99 0z" stroke="#7840ae" stroke-width="0.7" fill="none"/>
<text x="308.60" y="51.02" font-size="6.3" fill="#231f20" textLength="21.40" lengthAdjust="spacingAndGlyphs">Sichuan</text>
<path d="M254.85 55.14h1.9v1.9h-1.9z" fill="#f59a20"/>
<text x="258.10" y="58.39" font-size="6.3" fill="#231f20" textLength="10.20" lengthAdjust="spacingAndGlyphs">Jilin</text>
<path d="M304.97 56.09h2.66M306.3 54.76v2.66" stroke="#7840ae" stroke-width="0.7" fill="none"/>
<text x="308.60" y="58.39" font-size="6.3" fill="#231f20" textLength="22.06" lengthAdjust="spacingAndGlyphs">Guizhou</text>
<path d="M254.76 63.46a1.04 1.04 0 1 0 2.09 0a1.04 1.04 0 1 0 -2.09 0z" fill="#f59a20"/>
<text x="258.10" y="65.76" font-size="6.3" fill="#231f20" textLength="32.59" lengthAdjust="spacingAndGlyphs">Heilongjiang</text>
<path d="M305.25 63.46a1.04 1.04 0 1 0 2.09 0a1.04 1.04 0 1 0 -2.09 0z" fill="#7840ae"/>
<text x="308.60" y="65.76" font-size="6.3" fill="#231f20" textLength="20.09" lengthAdjust="spacingAndGlyphs">Yunnan</text>
<path d="M255.8 69.41l1.33 2.38h-2.66z" stroke="#66bd46" stroke-width="0.7" fill="none"/>
<text x="258.10" y="73.13" font-size="6.3" fill="#231f20" textLength="25.03" lengthAdjust="spacingAndGlyphs">Shanghai</text>
<path d="M306.3 69.59l1.23 1.23l-1.23 1.23l-1.23 -1.23z" stroke="#7840ae" stroke-width="0.7" fill="none"/>
<text x="308.60" y="73.13" font-size="6.3" fill="#231f20" textLength="18.11" lengthAdjust="spacingAndGlyphs">Xizang</text>
<path d="M254.8 78.2a1 1 0 1 0 1.99 0a1 1 0 1 0 -1.99 0z" stroke="#66bd46" stroke-width="0.7" fill="none"/>
<text x="258.10" y="80.50" font-size="6.3" fill="#231f20" textLength="20.41" lengthAdjust="spacingAndGlyphs">Jiangsu</text>
<path d="M306.3 76.78l1.38 2.47h-2.75z" fill="#e6df1c"/>
<text x="308.60" y="80.50" font-size="6.3" fill="#231f20" textLength="21.40" lengthAdjust="spacingAndGlyphs">Shaanxi</text>
<path d="M254.47 85.57h2.66M255.8 84.24v2.66" stroke="#66bd46" stroke-width="0.7" fill="none"/>
<text x="258.10" y="87.87" font-size="6.3" fill="#231f20" textLength="22.71" lengthAdjust="spacingAndGlyphs">Zhejiang</text>
<path d="M305.35 84.62h1.9v1.9h-1.9z" fill="#e6df1c"/>
<text x="308.60" y="87.87" font-size="6.3" fill="#231f20" textLength="17.45" lengthAdjust="spacingAndGlyphs">Gansu</text>
<path d="M254.76 92.94a1.04 1.04 0 1 0 2.09 0a1.04 1.04 0 1 0 -2.09 0z" fill="#66bd46"/>
<text x="258.10" y="95.24" font-size="6.3" fill="#231f20" textLength="15.15" lengthAdjust="spacingAndGlyphs">Anhui</text>
<path d="M305.25 92.94a1.04 1.04 0 1 0 2.09 0a1.04 1.04 0 1 0 -2.09 0z" fill="#e6df1c"/>
<text x="308.60" y="95.24" font-size="6.3" fill="#231f20" textLength="20.41" lengthAdjust="spacingAndGlyphs">Qinghai</text>
<path d="M255.8 99.08l1.23 1.23l-1.23 1.23l-1.23 -1.23z" stroke="#66bd46" stroke-width="0.7" fill="none"/>
<text x="258.10" y="102.61" font-size="6.3" fill="#231f20" textLength="16.13" lengthAdjust="spacingAndGlyphs">Fujian</text>
<path d="M305.25 99.55h2.09v1.52h-2.09z" fill="#e6df1c"/>
<text x="308.60" y="102.61" font-size="6.3" fill="#231f20" textLength="19.75" lengthAdjust="spacingAndGlyphs">Ningxia</text>
<path d="M254.85 106.73h1.9v1.9h-1.9z" fill="#66bd46"/>
<text x="258.10" y="109.98" font-size="6.3" fill="#231f20" textLength="18.43" lengthAdjust="spacingAndGlyphs">Jiangxi</text>
<path d="M305.25 106.92h2.09v1.52h-2.09z" fill="#e6df1c"/>
<text x="308.60" y="109.98" font-size="6.3" fill="#231f20" textLength="21.07" lengthAdjust="spacingAndGlyphs">Xinjiang</text>
<path d="M255.8 116.47l1.38 -2.47h-2.75z" fill="#66bd46"/>
<text x="258.10" y="117.35" font-size="6.3" fill="#231f20" textLength="27.00" lengthAdjust="spacingAndGlyphs">Shandong</text>
<path d="M306.3 113.62l1.33 2.38h-2.66z" stroke="#f4b6c6" stroke-width="0.7" fill="none"/>
<text x="308.60" y="117.35" font-size="6.3" fill="#231f20" textLength="29.63" lengthAdjust="spacingAndGlyphs">Hong Kong</text>
<path d="M255.8 121l1.38 2.47h-2.75z" fill="#2646a0"/>
<text x="258.10" y="124.72" font-size="6.3" fill="#231f20" textLength="17.45" lengthAdjust="spacingAndGlyphs">Henan</text>
<path d="M305.4 121.52h1.8v1.8h-1.8z" stroke="#f4b6c6" stroke-width="0.7" fill="none"/>
<text x="308.60" y="124.72" font-size="6.3" fill="#231f20" textLength="17.77" lengthAdjust="spacingAndGlyphs">Macao</text>
<path d="M391.8 6.20V242.00M390.20 240.4H638.18" stroke="#3c3c3c" stroke-width="1.15" fill="none"/>
<path d="M389.90 211.18H391.8M389.90 181.95H391.8M389.90 152.73H391.8M389.90 123.50H391.8M389.90 94.28H391.8M389.90 65.05H391.8M389.90 35.83H391.8M389.90 6.60H391.8M427.10 240.4V242.30M462.23 240.4V242.30M497.36 240.4V242.30M532.49 240.4V242.30M567.62 240.4V242.30M602.75 240.4V242.30M637.88 240.4V242.30" stroke="#3c3c3c" stroke-width="0.8" fill="none"/>
<path d="M396.10 242.40l1.5 -3.5M398.00 242.40l1.5 -3.5" stroke="#3c3c3c" stroke-width="0.95" fill="none"/>
<text x="388.20" y="213.93" font-size="9.0" text-anchor="end" fill="#231f20" textLength="9.19" lengthAdjust="spacingAndGlyphs">10</text>
<text x="388.20" y="184.70" font-size="9.0" text-anchor="end" fill="#231f20" textLength="9.19" lengthAdjust="spacingAndGlyphs">20</text>
<text x="388.20" y="155.48" font-size="9.0" text-anchor="end" fill="#231f20" textLength="9.19" lengthAdjust="spacingAndGlyphs">30</text>
<text x="388.20" y="126.25" font-size="9.0" text-anchor="end" fill="#231f20" textLength="9.19" lengthAdjust="spacingAndGlyphs">40</text>
<text x="388.20" y="97.03" font-size="9.0" text-anchor="end" fill="#231f20" textLength="9.19" lengthAdjust="spacingAndGlyphs">50</text>
<text x="388.20" y="67.80" font-size="9.0" text-anchor="end" fill="#231f20" textLength="9.19" lengthAdjust="spacingAndGlyphs">60</text>
<text x="388.20" y="38.58" font-size="9.0" text-anchor="end" fill="#231f20" textLength="9.19" lengthAdjust="spacingAndGlyphs">70</text>
<text x="388.20" y="9.35" font-size="9.0" text-anchor="end" fill="#231f20" textLength="9.19" lengthAdjust="spacingAndGlyphs">80</text>
<text x="385.90" y="251.30" font-size="9.0" text-anchor="middle" fill="#231f20" textLength="4.59" lengthAdjust="spacingAndGlyphs">0</text>
<text x="426.80" y="251.30" font-size="9.0" text-anchor="middle" fill="#231f20" textLength="11.48" lengthAdjust="spacingAndGlyphs">0.3</text>
<text x="461.93" y="251.30" font-size="9.0" text-anchor="middle" fill="#231f20" textLength="11.48" lengthAdjust="spacingAndGlyphs">0.4</text>
<text x="497.06" y="251.30" font-size="9.0" text-anchor="middle" fill="#231f20" textLength="11.48" lengthAdjust="spacingAndGlyphs">0.5</text>
<text x="532.19" y="251.30" font-size="9.0" text-anchor="middle" fill="#231f20" textLength="11.48" lengthAdjust="spacingAndGlyphs">0.6</text>
<text x="567.32" y="251.30" font-size="9.0" text-anchor="middle" fill="#231f20" textLength="11.48" lengthAdjust="spacingAndGlyphs">0.7</text>
<text x="602.45" y="251.30" font-size="9.0" text-anchor="middle" fill="#231f20" textLength="11.48" lengthAdjust="spacingAndGlyphs">0.8</text>
<text x="637.58" y="251.30" font-size="9.0" text-anchor="middle" fill="#231f20" textLength="11.48" lengthAdjust="spacingAndGlyphs">0.9</text>
<text x="515.00" y="262.00" font-size="9.3" text-anchor="middle" fill="#231f20" textLength="13.95" lengthAdjust="spacingAndGlyphs">SDI</text>
<text x="372.00" y="125.50" font-size="8.6" text-anchor="middle" fill="#231f20" textLength="158.10" lengthAdjust="spacingAndGlyphs" transform="rotate(-90 372.00 125.50)">Age-standardized YLD rate (per 100,000)</text>
<path d="M601.8 3.97l1.33 1.33l-1.33 1.33l-1.33 -1.33z" fill="#000000"/>
<text x="603.90" y="7.60" font-size="6.3" font-weight="bold" fill="#231f20" textLength="15.90" lengthAdjust="spacingAndGlyphs">China</text>
<path d="M651.05 4.35h1.9v1.9h-1.9z" fill="#2646a0"/>
<text x="654.40" y="7.60" font-size="6.3" fill="#231f20" textLength="15.47" lengthAdjust="spacingAndGlyphs">Hubei</text>
<path d="M601.8 11.18l1.38 2.47h-2.75z" fill="#e03c3c"/>
<text x="603.90" y="14.90" font-size="6.3" fill="#231f20" textLength="17.78" lengthAdjust="spacingAndGlyphs">Beijing</text>
<path d="M650.96 12.6a1.04 1.04 0 1 0 2.09 0a1.04 1.04 0 1 0 -2.09 0z" fill="#2646a0"/>
<text x="654.40" y="14.90" font-size="6.3" fill="#231f20" textLength="17.45" lengthAdjust="spacingAndGlyphs">Hunan</text>
<path d="M600.9 19h1.8v1.8h-1.8z" stroke="#e03c3c" stroke-width="0.7" fill="none"/>
<text x="603.90" y="22.20" font-size="6.3" fill="#231f20" textLength="17.22" lengthAdjust="spacingAndGlyphs">Tianjin</text>
<path d="M650.96 19.14h2.09v1.52h-2.09z" fill="#2646a0"/>
<text x="654.40" y="22.20" font-size="6.3" fill="#231f20" textLength="30.95" lengthAdjust="spacingAndGlyphs">Guangdong</text>
<path d="M600.47 27.2h2.66M601.8 25.87v2.66" stroke="#e03c3c" stroke-width="0.7" fill="none"/>
<text x="603.90" y="29.50" font-size="6.3" fill="#231f20" textLength="15.47" lengthAdjust="spacingAndGlyphs">Hebei</text>
<path d="M650.96 26.44h2.09v1.52h-2.09z" fill="#2646a0"/>
<text x="654.40" y="29.50" font-size="6.3" fill="#231f20" textLength="22.06" lengthAdjust="spacingAndGlyphs">Guangxi</text>
<path d="M600.8 34.5a1 1 0 1 0 1.99 0a1 1 0 1 0 -1.99 0z" stroke="#e03c3c" stroke-width="0.7" fill="none"/>
<text x="603.90" y="36.80" font-size="6.3" fill="#231f20" textLength="18.11" lengthAdjust="spacingAndGlyphs">Shanxi</text>
<path d="M650.96 33.45l2.09 2.09M653.04 33.45l-2.09 2.09" stroke="#2646a0" stroke-width="0.7" fill="none"/>
<text x="654.40" y="36.80" font-size="6.3" fill="#231f20" textLength="18.77" lengthAdjust="spacingAndGlyphs">Hainan</text>
<path d="M601.8 40.56l1.23 1.23l-1.23 1.23l-1.23 -1.23z" stroke="#e03c3c" stroke-width="0.7" fill="none"/>
<text x="603.90" y="44.10" font-size="6.3" fill="#231f20" textLength="39.17" lengthAdjust="spacingAndGlyphs">Inner Mongolia</text>
<path d="M652 40.38l1.33 2.38h-2.66z" stroke="#7840ae" stroke-width="0.7" fill="none"/>
<text x="654.40" y="44.10" font-size="6.3" fill="#231f20" textLength="28.64" lengthAdjust="spacingAndGlyphs">Chongqing</text>
<path d="M601.8 47.67l1.38 2.47h-2.75z" fill="#f59a20"/>
<text x="603.90" y="51.40" font-size="6.3" fill="#231f20" textLength="22.39" lengthAdjust="spacingAndGlyphs">Liaoning</text>
<path d="M651 49.1a1 1 0 1 0 1.99 0a1 1 0 1 0 -1.99 0z" stroke="#7840ae" stroke-width="0.7" fill="none"/>
<text x="654.40" y="51.40" font-size="6.3" fill="#231f20" textLength="21.40" lengthAdjust="spacingAndGlyphs">Sichuan</text>
<path d="M600.85 55.45h1.9v1.9h-1.9z" fill="#f59a20"/>
<text x="603.90" y="58.70" font-size="6.3" fill="#231f20" textLength="10.20" lengthAdjust="spacingAndGlyphs">Jilin</text>
<path d="M650.67 56.4h2.66M652 55.07v2.66" stroke="#7840ae" stroke-width="0.7" fill="none"/>
<text x="654.40" y="58.70" font-size="6.3" fill="#231f20" textLength="22.06" lengthAdjust="spacingAndGlyphs">Guizhou</text>
<path d="M600.75 63.7a1.04 1.04 0 1 0 2.09 0a1.04 1.04 0 1 0 -2.09 0z" fill="#f59a20"/>
<text x="603.90" y="66.00" font-size="6.3" fill="#231f20" textLength="32.59" lengthAdjust="spacingAndGlyphs">Heilongjiang</text>
<path d="M650.96 63.7a1.04 1.04 0 1 0 2.09 0a1.04 1.04 0 1 0 -2.09 0z" fill="#7840ae"/>
<text x="654.40" y="66.00" font-size="6.3" fill="#231f20" textLength="20.09" lengthAdjust="spacingAndGlyphs">Yunnan</text>
<path d="M601.8 69.58l1.33 2.38h-2.66z" stroke="#66bd46" stroke-width="0.7" fill="none"/>
<text x="603.90" y="73.30" font-size="6.3" fill="#231f20" textLength="25.03" lengthAdjust="spacingAndGlyphs">Shanghai</text>
<path d="M652 69.77l1.23 1.23l-1.23 1.23l-1.23 -1.23z" stroke="#7840ae" stroke-width="0.7" fill="none"/>
<text x="654.40" y="73.30" font-size="6.3" fill="#231f20" textLength="18.11" lengthAdjust="spacingAndGlyphs">Xizang</text>
<path d="M600.8 78.3a1 1 0 1 0 1.99 0a1 1 0 1 0 -1.99 0z" stroke="#66bd46" stroke-width="0.7" fill="none"/>
<text x="603.90" y="80.60" font-size="6.3" fill="#231f20" textLength="20.41" lengthAdjust="spacingAndGlyphs">Jiangsu</text>
<path d="M652 76.88l1.38 2.47h-2.75z" fill="#e6df1c"/>
<text x="654.40" y="80.60" font-size="6.3" fill="#231f20" textLength="21.40" lengthAdjust="spacingAndGlyphs">Shaanxi</text>
<path d="M600.47 85.6h2.66M601.8 84.27v2.66" stroke="#66bd46" stroke-width="0.7" fill="none"/>
<text x="603.90" y="87.90" font-size="6.3" fill="#231f20" textLength="22.71" lengthAdjust="spacingAndGlyphs">Zhejiang</text>
<path d="M651.05 84.65h1.9v1.9h-1.9z" fill="#e6df1c"/>
<text x="654.40" y="87.90" font-size="6.3" fill="#231f20" textLength="17.45" lengthAdjust="spacingAndGlyphs">Gansu</text>
<path d="M600.75 92.9a1.04 1.04 0 1 0 2.09 0a1.04 1.04 0 1 0 -2.09 0z" fill="#66bd46"/>
<text x="603.90" y="95.20" font-size="6.3" fill="#231f20" textLength="15.15" lengthAdjust="spacingAndGlyphs">Anhui</text>
<path d="M650.96 92.9a1.04 1.04 0 1 0 2.09 0a1.04 1.04 0 1 0 -2.09 0z" fill="#e6df1c"/>
<text x="654.40" y="95.20" font-size="6.3" fill="#231f20" textLength="20.41" lengthAdjust="spacingAndGlyphs">Qinghai</text>
<path d="M601.8 98.96l1.23 1.23l-1.23 1.23l-1.23 -1.23z" stroke="#66bd46" stroke-width="0.7" fill="none"/>
<text x="603.90" y="102.50" font-size="6.3" fill="#231f20" textLength="16.13" lengthAdjust="spacingAndGlyphs">Fujian</text>
<path d="M650.96 99.44h2.09v1.52h-2.09z" fill="#e6df1c"/>
<text x="654.40" y="102.50" font-size="6.3" fill="#231f20" textLength="19.75" lengthAdjust="spacingAndGlyphs">Ningxia</text>
<path d="M600.85 106.55h1.9v1.9h-1.9z" fill="#66bd46"/>
<text x="603.90" y="109.80" font-size="6.3" fill="#231f20" textLength="18.43" lengthAdjust="spacingAndGlyphs">Jiangxi</text>
<path d="M650.96 106.74h2.09v1.52h-2.09z" fill="#e6df1c"/>
<text x="654.40" y="109.80" font-size="6.3" fill="#231f20" textLength="21.07" lengthAdjust="spacingAndGlyphs">Xinjiang</text>
<path d="M601.8 116.22l1.38 -2.47h-2.75z" fill="#66bd46"/>
<text x="603.90" y="117.10" font-size="6.3" fill="#231f20" textLength="27.00" lengthAdjust="spacingAndGlyphs">Shandong</text>
<path d="M652 113.38l1.33 2.38h-2.66z" stroke="#f4b6c6" stroke-width="0.7" fill="none"/>
<text x="654.40" y="117.10" font-size="6.3" fill="#231f20" textLength="29.63" lengthAdjust="spacingAndGlyphs">Hong Kong</text>
<path d="M601.8 120.67l1.38 2.47h-2.75z" fill="#2646a0"/>
<text x="603.90" y="124.40" font-size="6.3" fill="#231f20" textLength="17.45" lengthAdjust="spacingAndGlyphs">Henan</text>
<path d="M651.1 121.2h1.8v1.8h-1.8z" stroke="#f4b6c6" stroke-width="0.7" fill="none"/>
<text x="654.40" y="124.40" font-size="6.3" fill="#231f20" textLength="17.77" lengthAdjust="spacingAndGlyphs">Macao</text>
<path d="M41.5 279.00V515.60M39.90 514.0H287.48" stroke="#3c3c3c" stroke-width="1.15" fill="none"/>
<path d="M39.60 455.35H41.5M39.60 396.70H41.5M39.60 338.05H41.5M39.60 279.40H41.5M76.40 514.0V515.90M111.53 514.0V515.90M146.66 514.0V515.90M181.79 514.0V515.90M216.92 514.0V515.90M252.05 514.0V515.90M287.18 514.0V515.90" stroke="#3c3c3c" stroke-width="0.8" fill="none"/>
<path d="M45.80 516.00l1.5 -3.5M47.70 516.00l1.5 -3.5" stroke="#3c3c3c" stroke-width="0.95" fill="none"/>
<text x="37.90" y="458.10" font-size="9.0" text-anchor="end" fill="#231f20" textLength="18.38" lengthAdjust="spacingAndGlyphs">3000</text>
<text x="37.90" y="399.45" font-size="9.0" text-anchor="end" fill="#231f20" textLength="18.38" lengthAdjust="spacingAndGlyphs">6000</text>
<text x="37.90" y="340.80" font-size="9.0" text-anchor="end" fill="#231f20" textLength="18.38" lengthAdjust="spacingAndGlyphs">9000</text>
<text x="37.90" y="282.15" font-size="9.0" text-anchor="end" fill="#231f20" textLength="25.27" lengthAdjust="spacingAndGlyphs">12,000</text>
<text x="35.60" y="524.90" font-size="9.0" text-anchor="middle" fill="#231f20" textLength="4.59" lengthAdjust="spacingAndGlyphs">0</text>
<text x="76.10" y="524.90" font-size="9.0" text-anchor="middle" fill="#231f20" textLength="11.48" lengthAdjust="spacingAndGlyphs">0.3</text>
<text x="111.23" y="524.90" font-size="9.0" text-anchor="middle" fill="#231f20" textLength="11.48" lengthAdjust="spacingAndGlyphs">0.4</text>
<text x="146.36" y="524.90" font-size="9.0" text-anchor="middle" fill="#231f20" textLength="11.48" lengthAdjust="spacingAndGlyphs">0.5</text>
<text x="181.49" y="524.90" font-size="9.0" text-anchor="middle" fill="#231f20" textLength="11.48" lengthAdjust="spacingAndGlyphs">0.6</text>
<text x="216.62" y="524.90" font-size="9.0" text-anchor="middle" fill="#231f20" textLength="11.48" lengthAdjust="spacingAndGlyphs">0.7</text>
<text x="251.75" y="524.90" font-size="9.0" text-anchor="middle" fill="#231f20" textLength="11.48" lengthAdjust="spacingAndGlyphs">0.8</text>
<text x="286.88" y="524.90" font-size="9.0" text-anchor="middle" fill="#231f20" textLength="11.48" lengthAdjust="spacingAndGlyphs">0.9</text>
<text x="163.40" y="535.60" font-size="9.3" text-anchor="middle" fill="#231f20" textLength="13.95" lengthAdjust="spacingAndGlyphs">SDI</text>
<text x="9.90" y="395.00" font-size="8.6" text-anchor="middle" fill="#231f20" textLength="75.30" lengthAdjust="spacingAndGlyphs" transform="rotate(-90 9.90 395.00)">ASPR (per 100,000)</text>
<path d="M254.3 277.27l1.33 1.33l-1.33 1.33l-1.33 -1.33z" fill="#000000"/>
<text x="256.80" y="280.90" font-size="6.3" font-weight="bold" fill="#231f20" textLength="15.90" lengthAdjust="spacingAndGlyphs">China</text>
<path d="M303.85 277.65h1.9v1.9h-1.9z" fill="#2646a0"/>
<text x="307.00" y="280.90" font-size="6.3" fill="#231f20" textLength="15.47" lengthAdjust="spacingAndGlyphs">Hubei</text>
<path d="M254.3 284.56l1.38 2.47h-2.75z" fill="#e03c3c"/>
<text x="256.80" y="288.29" font-size="6.3" fill="#231f20" textLength="17.78" lengthAdjust="spacingAndGlyphs">Beijing</text>
<path d="M303.75 285.99a1.04 1.04 0 1 0 2.09 0a1.04 1.04 0 1 0 -2.09 0z" fill="#2646a0"/>
<text x="307.00" y="288.29" font-size="6.3" fill="#231f20" textLength="17.45" lengthAdjust="spacingAndGlyphs">Hunan</text>
<path d="M253.4 292.48h1.8v1.8h-1.8z" stroke="#e03c3c" stroke-width="0.7" fill="none"/>
<text x="256.80" y="295.68" font-size="6.3" fill="#231f20" textLength="17.22" lengthAdjust="spacingAndGlyphs">Tianjin</text>
<path d="M303.75 292.62h2.09v1.52h-2.09z" fill="#2646a0"/>
<text x="307.00" y="295.68" font-size="6.3" fill="#231f20" textLength="30.95" lengthAdjust="spacingAndGlyphs">Guangdong</text>
<path d="M252.97 300.77h2.66M254.3 299.44v2.66" stroke="#e03c3c" stroke-width="0.7" fill="none"/>
<text x="256.80" y="303.07" font-size="6.3" fill="#231f20" textLength="15.47" lengthAdjust="spacingAndGlyphs">Hebei</text>
<path d="M303.75 300.01h2.09v1.52h-2.09z" fill="#2646a0"/>
<text x="307.00" y="303.07" font-size="6.3" fill="#231f20" textLength="22.06" lengthAdjust="spacingAndGlyphs">Guangxi</text>
<path d="M253.3 308.16a1 1 0 1 0 1.99 0a1 1 0 1 0 -1.99 0z" stroke="#e03c3c" stroke-width="0.7" fill="none"/>
<text x="256.80" y="310.46" font-size="6.3" fill="#231f20" textLength="18.11" lengthAdjust="spacingAndGlyphs">Shanxi</text>
<path d="M303.75 307.12l2.09 2.09M305.85 307.12l-2.09 2.09" stroke="#2646a0" stroke-width="0.7" fill="none"/>
<text x="307.00" y="310.46" font-size="6.3" fill="#231f20" textLength="18.77" lengthAdjust="spacingAndGlyphs">Hainan</text>
<path d="M254.3 314.31l1.23 1.23l-1.23 1.23l-1.23 -1.23z" stroke="#e03c3c" stroke-width="0.7" fill="none"/>
<text x="256.80" y="317.85" font-size="6.3" fill="#231f20" textLength="39.17" lengthAdjust="spacingAndGlyphs">Inner Mongolia</text>
<path d="M304.8 314.12l1.33 2.38h-2.66z" stroke="#7840ae" stroke-width="0.7" fill="none"/>
<text x="307.00" y="317.85" font-size="6.3" fill="#231f20" textLength="28.64" lengthAdjust="spacingAndGlyphs">Chongqing</text>
<path d="M254.3 321.51l1.38 2.47h-2.75z" fill="#f59a20"/>
<text x="256.80" y="325.24" font-size="6.3" fill="#231f20" textLength="22.39" lengthAdjust="spacingAndGlyphs">Liaoning</text>
<path d="M303.8 322.94a1 1 0 1 0 1.99 0a1 1 0 1 0 -1.99 0z" stroke="#7840ae" stroke-width="0.7" fill="none"/>
<text x="307.00" y="325.24" font-size="6.3" fill="#231f20" textLength="21.40" lengthAdjust="spacingAndGlyphs">Sichuan</text>
<path d="M253.35 329.38h1.9v1.9h-1.9z" fill="#f59a20"/>
<text x="256.80" y="332.63" font-size="6.3" fill="#231f20" textLength="10.20" lengthAdjust="spacingAndGlyphs">Jilin</text>
<path d="M303.47 330.33h2.66M304.8 329v2.66" stroke="#7840ae" stroke-width="0.7" fill="none"/>
<text x="307.00" y="332.63" font-size="6.3" fill="#231f20" textLength="22.06" lengthAdjust="spacingAndGlyphs">Guizhou</text>
<path d="M253.26 337.72a1.04 1.04 0 1 0 2.09 0a1.04 1.04 0 1 0 -2.09 0z" fill="#f59a20"/>
<text x="256.80" y="340.02" font-size="6.3" fill="#231f20" textLength="32.59" lengthAdjust="spacingAndGlyphs">Heilongjiang</text>
<path d="M303.75 337.72a1.04 1.04 0 1 0 2.09 0a1.04 1.04 0 1 0 -2.09 0z" fill="#7840ae"/>
<text x="307.00" y="340.02" font-size="6.3" fill="#231f20" textLength="20.09" lengthAdjust="spacingAndGlyphs">Yunnan</text>
<path d="M254.3 343.69l1.33 2.38h-2.66z" stroke="#66bd46" stroke-width="0.7" fill="none"/>
<text x="256.80" y="347.41" font-size="6.3" fill="#231f20" textLength="25.03" lengthAdjust="spacingAndGlyphs">Shanghai</text>
<path d="M304.8 343.88l1.23 1.23l-1.23 1.23l-1.23 -1.23z" stroke="#7840ae" stroke-width="0.7" fill="none"/>
<text x="307.00" y="347.41" font-size="6.3" fill="#231f20" textLength="18.11" lengthAdjust="spacingAndGlyphs">Xizang</text>
<path d="M253.3 352.5a1 1 0 1 0 1.99 0a1 1 0 1 0 -1.99 0z" stroke="#66bd46" stroke-width="0.7" fill="none"/>
<text x="256.80" y="354.80" font-size="6.3" fill="#231f20" textLength="20.41" lengthAdjust="spacingAndGlyphs">Jiangsu</text>
<path d="M304.8 351.07l1.38 2.47h-2.75z" fill="#e6df1c"/>
<text x="307.00" y="354.80" font-size="6.3" fill="#231f20" textLength="21.40" lengthAdjust="spacingAndGlyphs">Shaanxi</text>
<path d="M252.97 359.89h2.66M254.3 358.56v2.66" stroke="#66bd46" stroke-width="0.7" fill="none"/>
<text x="256.80" y="362.19" font-size="6.3" fill="#231f20" textLength="22.71" lengthAdjust="spacingAndGlyphs">Zhejiang</text>
<path d="M303.85 358.94h1.9v1.9h-1.9z" fill="#e6df1c"/>
<text x="307.00" y="362.19" font-size="6.3" fill="#231f20" textLength="17.45" lengthAdjust="spacingAndGlyphs">Gansu</text>
<path d="M253.26 367.28a1.04 1.04 0 1 0 2.09 0a1.04 1.04 0 1 0 -2.09 0z" fill="#66bd46"/>
<text x="256.80" y="369.58" font-size="6.3" fill="#231f20" textLength="15.15" lengthAdjust="spacingAndGlyphs">Anhui</text>
<path d="M303.75 367.28a1.04 1.04 0 1 0 2.09 0a1.04 1.04 0 1 0 -2.09 0z" fill="#e6df1c"/>
<text x="307.00" y="369.58" font-size="6.3" fill="#231f20" textLength="20.41" lengthAdjust="spacingAndGlyphs">Qinghai</text>
<path d="M254.3 373.44l1.23 1.23l-1.23 1.23l-1.23 -1.23z" stroke="#66bd46" stroke-width="0.7" fill="none"/>
<text x="256.80" y="376.97" font-size="6.3" fill="#231f20" textLength="16.13" lengthAdjust="spacingAndGlyphs">Fujian</text>
<path d="M303.75 373.91h2.09v1.52h-2.09z" fill="#e6df1c"/>
<text x="307.00" y="376.97" font-size="6.3" fill="#231f20" textLength="19.75" lengthAdjust="spacingAndGlyphs">Ningxia</text>
<path d="M253.35 381.11h1.9v1.9h-1.9z" fill="#66bd46"/>
<text x="256.80" y="384.36" font-size="6.3" fill="#231f20" textLength="18.43" lengthAdjust="spacingAndGlyphs">Jiangxi</text>
<path d="M303.75 381.3h2.09v1.52h-2.09z" fill="#e6df1c"/>
<text x="307.00" y="384.36" font-size="6.3" fill="#231f20" textLength="21.07" lengthAdjust="spacingAndGlyphs">Xinjiang</text>
<path d="M254.3 390.88l1.38 -2.47h-2.75z" fill="#66bd46"/>
<text x="256.80" y="391.75" font-size="6.3" fill="#231f20" textLength="27.00" lengthAdjust="spacingAndGlyphs">Shandong</text>
<path d="M304.8 388.03l1.33 2.38h-2.66z" stroke="#f4b6c6" stroke-width="0.7" fill="none"/>
<text x="307.00" y="391.75" font-size="6.3" fill="#231f20" textLength="29.63" lengthAdjust="spacingAndGlyphs">Hong Kong</text>
<path d="M254.3 395.42l1.38 2.47h-2.75z" fill="#2646a0"/>
<text x="256.80" y="399.14" font-size="6.3" fill="#231f20" textLength="17.45" lengthAdjust="spacingAndGlyphs">Henan</text>
<path d="M303.9 395.94h1.8v1.8h-1.8z" stroke="#f4b6c6" stroke-width="0.7" fill="none"/>
<text x="307.00" y="399.14" font-size="6.3" fill="#231f20" textLength="17.77" lengthAdjust="spacingAndGlyphs">Macao</text>
<path d="M393.5 279.00V515.40M391.90 513.8H639.58" stroke="#3c3c3c" stroke-width="1.15" fill="none"/>
<path d="M391.60 495.77H393.5M391.60 477.74H393.5M391.60 459.71H393.5M391.60 441.68H393.5M391.60 423.65H393.5M391.60 405.62H393.5M391.60 387.58H393.5M391.60 369.55H393.5M391.60 351.52H393.5M391.60 333.49H393.5M391.60 315.46H393.5M391.60 297.43H393.5M391.60 279.40H393.5M428.50 513.8V515.70M463.63 513.8V515.70M498.76 513.8V515.70M533.89 513.8V515.70M569.02 513.8V515.70M604.15 513.8V515.70M639.28 513.8V515.70" stroke="#3c3c3c" stroke-width="0.8" fill="none"/>
<path d="M397.80 515.80l1.5 -3.5M399.70 515.80l1.5 -3.5" stroke="#3c3c3c" stroke-width="0.95" fill="none"/>
<text x="389.90" y="498.52" font-size="9.0" text-anchor="end" fill="#231f20" textLength="9.19" lengthAdjust="spacingAndGlyphs">50</text>
<text x="389.90" y="480.49" font-size="9.0" text-anchor="end" fill="#231f20" textLength="13.78" lengthAdjust="spacingAndGlyphs">100</text>
<text x="389.90" y="462.46" font-size="9.0" text-anchor="end" fill="#231f20" textLength="13.78" lengthAdjust="spacingAndGlyphs">150</text>
<text x="389.90" y="444.43" font-size="9.0" text-anchor="end" fill="#231f20" textLength="13.78" lengthAdjust="spacingAndGlyphs">200</text>
<text x="389.90" y="426.40" font-size="9.0" text-anchor="end" fill="#231f20" textLength="13.78" lengthAdjust="spacingAndGlyphs">250</text>
<text x="389.90" y="408.37" font-size="9.0" text-anchor="end" fill="#231f20" textLength="13.78" lengthAdjust="spacingAndGlyphs">300</text>
<text x="389.90" y="390.33" font-size="9.0" text-anchor="end" fill="#231f20" textLength="13.78" lengthAdjust="spacingAndGlyphs">350</text>
<text x="389.90" y="372.30" font-size="9.0" text-anchor="end" fill="#231f20" textLength="13.78" lengthAdjust="spacingAndGlyphs">400</text>
<text x="389.90" y="354.27" font-size="9.0" text-anchor="end" fill="#231f20" textLength="13.78" lengthAdjust="spacingAndGlyphs">450</text>
<text x="389.90" y="336.24" font-size="9.0" text-anchor="end" fill="#231f20" textLength="13.78" lengthAdjust="spacingAndGlyphs">500</text>
<text x="389.90" y="318.21" font-size="9.0" text-anchor="end" fill="#231f20" textLength="13.78" lengthAdjust="spacingAndGlyphs">550</text>
<text x="389.90" y="300.18" font-size="9.0" text-anchor="end" fill="#231f20" textLength="13.78" lengthAdjust="spacingAndGlyphs">600</text>
<text x="389.90" y="282.15" font-size="9.0" text-anchor="end" fill="#231f20" textLength="13.78" lengthAdjust="spacingAndGlyphs">650</text>
<text x="387.60" y="524.70" font-size="9.0" text-anchor="middle" fill="#231f20" textLength="4.59" lengthAdjust="spacingAndGlyphs">0</text>
<text x="428.20" y="524.70" font-size="9.0" text-anchor="middle" fill="#231f20" textLength="11.48" lengthAdjust="spacingAndGlyphs">0.3</text>
<text x="463.33" y="524.70" font-size="9.0" text-anchor="middle" fill="#231f20" textLength="11.48" lengthAdjust="spacingAndGlyphs">0.4</text>
<text x="498.46" y="524.70" font-size="9.0" text-anchor="middle" fill="#231f20" textLength="11.48" lengthAdjust="spacingAndGlyphs">0.5</text>
<text x="533.59" y="524.70" font-size="9.0" text-anchor="middle" fill="#231f20" textLength="11.48" lengthAdjust="spacingAndGlyphs">0.6</text>
<text x="568.72" y="524.70" font-size="9.0" text-anchor="middle" fill="#231f20" textLength="11.48" lengthAdjust="spacingAndGlyphs">0.7</text>
<text x="603.85" y="524.70" font-size="9.0" text-anchor="middle" fill="#231f20" textLength="11.48" lengthAdjust="spacingAndGlyphs">0.8</text>
<text x="638.98" y="524.70" font-size="9.0" text-anchor="middle" fill="#231f20" textLength="11.48" lengthAdjust="spacingAndGlyphs">0.9</text>
<text x="515.00" y="535.40" font-size="9.3" text-anchor="middle" fill="#231f20" textLength="13.95" lengthAdjust="spacingAndGlyphs">SDI</text>
<text x="369.80" y="396.25" font-size="8.6" text-anchor="middle" fill="#231f20" textLength="159.60" lengthAdjust="spacingAndGlyphs" transform="rotate(-90 369.80 396.25)">Age-standardized YLD rate (per 100,000)</text>
<path d="M600.2 278.47l1.33 1.33l-1.33 1.33l-1.33 -1.33z" fill="#000000"/>
<text x="602.60" y="282.10" font-size="6.3" font-weight="bold" fill="#231f20" textLength="15.90" lengthAdjust="spacingAndGlyphs">China</text>
<path d="M649.65 278.85h1.9v1.9h-1.9z" fill="#2646a0"/>
<text x="653.20" y="282.10" font-size="6.3" fill="#231f20" textLength="15.47" lengthAdjust="spacingAndGlyphs">Hubei</text>
<path d="M600.2 285.75l1.38 2.47h-2.75z" fill="#e03c3c"/>
<text x="602.60" y="289.48" font-size="6.3" fill="#231f20" textLength="17.78" lengthAdjust="spacingAndGlyphs">Beijing</text>
<path d="M649.56 287.18a1.04 1.04 0 1 0 2.09 0a1.04 1.04 0 1 0 -2.09 0z" fill="#2646a0"/>
<text x="653.20" y="289.48" font-size="6.3" fill="#231f20" textLength="17.45" lengthAdjust="spacingAndGlyphs">Hunan</text>
<path d="M599.3 293.66h1.8v1.8h-1.8z" stroke="#e03c3c" stroke-width="0.7" fill="none"/>
<text x="602.60" y="296.86" font-size="6.3" fill="#231f20" textLength="17.22" lengthAdjust="spacingAndGlyphs">Tianjin</text>
<path d="M649.56 293.8h2.09v1.52h-2.09z" fill="#2646a0"/>
<text x="653.20" y="296.86" font-size="6.3" fill="#231f20" textLength="30.95" lengthAdjust="spacingAndGlyphs">Guangdong</text>
<path d="M598.87 301.94h2.66M600.2 300.61v2.66" stroke="#e03c3c" stroke-width="0.7" fill="none"/>
<text x="602.60" y="304.24" font-size="6.3" fill="#231f20" textLength="15.47" lengthAdjust="spacingAndGlyphs">Hebei</text>
<path d="M649.56 301.18h2.09v1.52h-2.09z" fill="#2646a0"/>
<text x="653.20" y="304.24" font-size="6.3" fill="#231f20" textLength="22.06" lengthAdjust="spacingAndGlyphs">Guangxi</text>
<path d="M599.2 309.32a1 1 0 1 0 1.99 0a1 1 0 1 0 -1.99 0z" stroke="#e03c3c" stroke-width="0.7" fill="none"/>
<text x="602.60" y="311.62" font-size="6.3" fill="#231f20" textLength="18.11" lengthAdjust="spacingAndGlyphs">Shanxi</text>
<path d="M649.56 308.27l2.09 2.09M651.64 308.27l-2.09 2.09" stroke="#2646a0" stroke-width="0.7" fill="none"/>
<text x="653.20" y="311.62" font-size="6.3" fill="#231f20" textLength="18.77" lengthAdjust="spacingAndGlyphs">Hainan</text>
<path d="M600.2 315.46l1.23 1.23l-1.23 1.23l-1.23 -1.23z" stroke="#e03c3c" stroke-width="0.7" fill="none"/>
<text x="602.60" y="319.00" font-size="6.3" fill="#231f20" textLength="39.17" lengthAdjust="spacingAndGlyphs">Inner Mongolia</text>
<path d="M650.6 315.27l1.33 2.38h-2.66z" stroke="#7840ae" stroke-width="0.7" fill="none"/>
<text x="653.20" y="319.00" font-size="6.3" fill="#231f20" textLength="28.64" lengthAdjust="spacingAndGlyphs">Chongqing</text>
<path d="M600.2 322.66l1.38 2.47h-2.75z" fill="#f59a20"/>
<text x="602.60" y="326.38" font-size="6.3" fill="#231f20" textLength="22.39" lengthAdjust="spacingAndGlyphs">Liaoning</text>
<path d="M649.6 324.08a1 1 0 1 0 1.99 0a1 1 0 1 0 -1.99 0z" stroke="#7840ae" stroke-width="0.7" fill="none"/>
<text x="653.20" y="326.38" font-size="6.3" fill="#231f20" textLength="21.40" lengthAdjust="spacingAndGlyphs">Sichuan</text>
<path d="M599.25 330.51h1.9v1.9h-1.9z" fill="#f59a20"/>
<text x="602.60" y="333.76" font-size="6.3" fill="#231f20" textLength="10.20" lengthAdjust="spacingAndGlyphs">Jilin</text>
<path d="M649.27 331.46h2.66M650.6 330.13v2.66" stroke="#7840ae" stroke-width="0.7" fill="none"/>
<text x="653.20" y="333.76" font-size="6.3" fill="#231f20" textLength="22.06" lengthAdjust="spacingAndGlyphs">Guizhou</text>
<path d="M599.16 338.84a1.04 1.04 0 1 0 2.09 0a1.04 1.04 0 1 0 -2.09 0z" fill="#f59a20"/>
<text x="602.60" y="341.14" font-size="6.3" fill="#231f20" textLength="32.59" lengthAdjust="spacingAndGlyphs">Heilongjiang</text>
<path d="M649.56 338.84a1.04 1.04 0 1 0 2.09 0a1.04 1.04 0 1 0 -2.09 0z" fill="#7840ae"/>
<text x="653.20" y="341.14" font-size="6.3" fill="#231f20" textLength="20.09" lengthAdjust="spacingAndGlyphs">Yunnan</text>
<path d="M600.2 344.8l1.33 2.38h-2.66z" stroke="#66bd46" stroke-width="0.7" fill="none"/>
<text x="602.60" y="348.52" font-size="6.3" fill="#231f20" textLength="25.03" lengthAdjust="spacingAndGlyphs">Shanghai</text>
<path d="M650.6 344.99l1.23 1.23l-1.23 1.23l-1.23 -1.23z" stroke="#7840ae" stroke-width="0.7" fill="none"/>
<text x="653.20" y="348.52" font-size="6.3" fill="#231f20" textLength="18.11" lengthAdjust="spacingAndGlyphs">Xizang</text>
<path d="M599.2 353.6a1 1 0 1 0 1.99 0a1 1 0 1 0 -1.99 0z" stroke="#66bd46" stroke-width="0.7" fill="none"/>
<text x="602.60" y="355.90" font-size="6.3" fill="#231f20" textLength="20.41" lengthAdjust="spacingAndGlyphs">Jiangsu</text>
<path d="M650.6 352.18l1.38 2.47h-2.75z" fill="#e6df1c"/>
<text x="653.20" y="355.90" font-size="6.3" fill="#231f20" textLength="21.40" lengthAdjust="spacingAndGlyphs">Shaanxi</text>
<path d="M598.87 360.98h2.66M600.2 359.65v2.66" stroke="#66bd46" stroke-width="0.7" fill="none"/>
<text x="602.60" y="363.28" font-size="6.3" fill="#231f20" textLength="22.71" lengthAdjust="spacingAndGlyphs">Zhejiang</text>
<path d="M649.65 360.03h1.9v1.9h-1.9z" fill="#e6df1c"/>
<text x="653.20" y="363.28" font-size="6.3" fill="#231f20" textLength="17.45" lengthAdjust="spacingAndGlyphs">Gansu</text>
<path d="M599.16 368.36a1.04 1.04 0 1 0 2.09 0a1.04 1.04 0 1 0 -2.09 0z" fill="#66bd46"/>
<text x="602.60" y="370.66" font-size="6.3" fill="#231f20" textLength="15.15" lengthAdjust="spacingAndGlyphs">Anhui</text>
<path d="M649.56 368.36a1.04 1.04 0 1 0 2.09 0a1.04 1.04 0 1 0 -2.09 0z" fill="#e6df1c"/>
<text x="653.20" y="370.66" font-size="6.3" fill="#231f20" textLength="20.41" lengthAdjust="spacingAndGlyphs">Qinghai</text>
<path d="M600.2 374.5l1.23 1.23l-1.23 1.23l-1.23 -1.23z" stroke="#66bd46" stroke-width="0.7" fill="none"/>
<text x="602.60" y="378.04" font-size="6.3" fill="#231f20" textLength="16.13" lengthAdjust="spacingAndGlyphs">Fujian</text>
<path d="M649.56 374.98h2.09v1.52h-2.09z" fill="#e6df1c"/>
<text x="653.20" y="378.04" font-size="6.3" fill="#231f20" textLength="19.75" lengthAdjust="spacingAndGlyphs">Ningxia</text>
<path d="M599.25 382.17h1.9v1.9h-1.9z" fill="#66bd46"/>
<text x="602.60" y="385.42" font-size="6.3" fill="#231f20" textLength="18.43" lengthAdjust="spacingAndGlyphs">Jiangxi</text>
<path d="M649.56 382.36h2.09v1.52h-2.09z" fill="#e6df1c"/>
<text x="653.20" y="385.42" font-size="6.3" fill="#231f20" textLength="21.07" lengthAdjust="spacingAndGlyphs">Xinjiang</text>
<path d="M600.2 391.93l1.38 -2.47h-2.75z" fill="#66bd46"/>
<text x="602.60" y="392.80" font-size="6.3" fill="#231f20" textLength="27.00" lengthAdjust="spacingAndGlyphs">Shandong</text>
<path d="M650.6 389.07l1.33 2.38h-2.66z" stroke="#f4b6c6" stroke-width="0.7" fill="none"/>
<text x="653.20" y="392.80" font-size="6.3" fill="#231f20" textLength="29.63" lengthAdjust="spacingAndGlyphs">Hong Kong</text>
<path d="M600.2 396.45l1.38 2.47h-2.75z" fill="#2646a0"/>
<text x="602.60" y="400.18" font-size="6.3" fill="#231f20" textLength="17.45" lengthAdjust="spacingAndGlyphs">Henan</text>
<path d="M649.7 396.98h1.8v1.8h-1.8z" stroke="#f4b6c6" stroke-width="0.7" fill="none"/>
<text x="653.20" y="400.18" font-size="6.3" fill="#231f20" textLength="17.77" lengthAdjust="spacingAndGlyphs">Macao</text>
<path d="M41.5 553.90V790.30M39.90 788.7H287.48" stroke="#3c3c3c" stroke-width="1.15" fill="none"/>
<path d="M39.60 730.10H41.5M39.60 671.50H41.5M39.60 612.90H41.5M39.60 554.30H41.5M76.40 788.7V790.60M111.53 788.7V790.60M146.66 788.7V790.60M181.79 788.7V790.60M216.92 788.7V790.60M252.05 788.7V790.60M287.18 788.7V790.60" stroke="#3c3c3c" stroke-width="0.8" fill="none"/>
<path d="M45.80 790.70l1.5 -3.5M47.70 790.70l1.5 -3.5" stroke="#3c3c3c" stroke-width="0.95" fill="none"/>
<text x="37.90" y="732.85" font-size="9.0" text-anchor="end" fill="#231f20" textLength="13.78" lengthAdjust="spacingAndGlyphs">300</text>
<text x="37.90" y="674.25" font-size="9.0" text-anchor="end" fill="#231f20" textLength="13.78" lengthAdjust="spacingAndGlyphs">600</text>
<text x="37.90" y="615.65" font-size="9.0" text-anchor="end" fill="#231f20" textLength="13.78" lengthAdjust="spacingAndGlyphs">900</text>
<text x="37.90" y="557.05" font-size="9.0" text-anchor="end" fill="#231f20" textLength="18.38" lengthAdjust="spacingAndGlyphs">1200</text>
<text x="35.60" y="799.60" font-size="9.0" text-anchor="middle" fill="#231f20" textLength="4.59" lengthAdjust="spacingAndGlyphs">0</text>
<text x="76.10" y="799.60" font-size="9.0" text-anchor="middle" fill="#231f20" textLength="11.48" lengthAdjust="spacingAndGlyphs">0.3</text>
<text x="111.23" y="799.60" font-size="9.0" text-anchor="middle" fill="#231f20" textLength="11.48" lengthAdjust="spacingAndGlyphs">0.4</text>
<text x="146.36" y="799.60" font-size="9.0" text-anchor="middle" fill="#231f20" textLength="11.48" lengthAdjust="spacingAndGlyphs">0.5</text>
<text x="181.49" y="799.60" font-size="9.0" text-anchor="middle" fill="#231f20" textLength="11.48" lengthAdjust="spacingAndGlyphs">0.6</text>
<text x="216.62" y="799.60" font-size="9.0" text-anchor="middle" fill="#231f20" textLength="11.48" lengthAdjust="spacingAndGlyphs">0.7</text>
<text x="251.75" y="799.60" font-size="9.0" text-anchor="middle" fill="#231f20" textLength="11.48" lengthAdjust="spacingAndGlyphs">0.8</text>
<text x="286.88" y="799.60" font-size="9.0" text-anchor="middle" fill="#231f20" textLength="11.48" lengthAdjust="spacingAndGlyphs">0.9</text>
<text x="164.40" y="810.30" font-size="9.3" text-anchor="middle" fill="#231f20" textLength="13.95" lengthAdjust="spacingAndGlyphs">SDI</text>
<text x="11.80" y="669.80" font-size="8.6" text-anchor="middle" fill="#231f20" textLength="74.90" lengthAdjust="spacingAndGlyphs" transform="rotate(-90 11.80 669.80)">ASPR (per 100,000)</text>
<path d="M254.3 549.87l1.33 1.33l-1.33 1.33l-1.33 -1.33z" fill="#000000"/>
<text x="256.80" y="553.50" font-size="6.3" font-weight="bold" fill="#231f20" textLength="15.90" lengthAdjust="spacingAndGlyphs">China</text>
<path d="M303.85 550.25h1.9v1.9h-1.9z" fill="#2646a0"/>
<text x="307.00" y="553.50" font-size="6.3" fill="#231f20" textLength="15.47" lengthAdjust="spacingAndGlyphs">Hubei</text>
<path d="M254.3 557.12l1.38 2.47h-2.75z" fill="#e03c3c"/>
<text x="256.80" y="560.84" font-size="6.3" fill="#231f20" textLength="17.78" lengthAdjust="spacingAndGlyphs">Beijing</text>
<path d="M303.75 558.54a1.04 1.04 0 1 0 2.09 0a1.04 1.04 0 1 0 -2.09 0z" fill="#2646a0"/>
<text x="307.00" y="560.84" font-size="6.3" fill="#231f20" textLength="17.45" lengthAdjust="spacingAndGlyphs">Hunan</text>
<path d="M253.4 564.98h1.8v1.8h-1.8z" stroke="#e03c3c" stroke-width="0.7" fill="none"/>
<text x="256.80" y="568.18" font-size="6.3" fill="#231f20" textLength="17.22" lengthAdjust="spacingAndGlyphs">Tianjin</text>
<path d="M303.75 565.12h2.09v1.52h-2.09z" fill="#2646a0"/>
<text x="307.00" y="568.18" font-size="6.3" fill="#231f20" textLength="30.95" lengthAdjust="spacingAndGlyphs">Guangdong</text>
<path d="M252.97 573.22h2.66M254.3 571.89v2.66" stroke="#e03c3c" stroke-width="0.7" fill="none"/>
<text x="256.80" y="575.52" font-size="6.3" fill="#231f20" textLength="15.47" lengthAdjust="spacingAndGlyphs">Hebei</text>
<path d="M303.75 572.46h2.09v1.52h-2.09z" fill="#2646a0"/>
<text x="307.00" y="575.52" font-size="6.3" fill="#231f20" textLength="22.06" lengthAdjust="spacingAndGlyphs">Guangxi</text>
<path d="M253.3 580.56a1 1 0 1 0 1.99 0a1 1 0 1 0 -1.99 0z" stroke="#e03c3c" stroke-width="0.7" fill="none"/>
<text x="256.80" y="582.86" font-size="6.3" fill="#231f20" textLength="18.11" lengthAdjust="spacingAndGlyphs">Shanxi</text>
<path d="M303.75 579.52l2.09 2.09M305.85 579.52l-2.09 2.09" stroke="#2646a0" stroke-width="0.7" fill="none"/>
<text x="307.00" y="582.86" font-size="6.3" fill="#231f20" textLength="18.77" lengthAdjust="spacingAndGlyphs">Hainan</text>
<path d="M254.3 586.67l1.23 1.23l-1.23 1.23l-1.23 -1.23z" stroke="#e03c3c" stroke-width="0.7" fill="none"/>
<text x="256.80" y="590.20" font-size="6.3" fill="#231f20" textLength="39.17" lengthAdjust="spacingAndGlyphs">Inner Mongolia</text>
<path d="M304.8 586.48l1.33 2.38h-2.66z" stroke="#7840ae" stroke-width="0.7" fill="none"/>
<text x="307.00" y="590.20" font-size="6.3" fill="#231f20" textLength="28.64" lengthAdjust="spacingAndGlyphs">Chongqing</text>
<path d="M254.3 593.82l1.38 2.47h-2.75z" fill="#f59a20"/>
<text x="256.80" y="597.54" font-size="6.3" fill="#231f20" textLength="22.39" lengthAdjust="spacingAndGlyphs">Liaoning</text>
<path d="M303.8 595.24a1 1 0 1 0 1.99 0a1 1 0 1 0 -1.99 0z" stroke="#7840ae" stroke-width="0.7" fill="none"/>
<text x="307.00" y="597.54" font-size="6.3" fill="#231f20" textLength="21.40" lengthAdjust="spacingAndGlyphs">Sichuan</text>
<path d="M253.35 601.63h1.9v1.9h-1.9z" fill="#f59a20"/>
<text x="256.80" y="604.88" font-size="6.3" fill="#231f20" textLength="10.20" lengthAdjust="spacingAndGlyphs">Jilin</text>
<path d="M303.47 602.58h2.66M304.8 601.25v2.66" stroke="#7840ae" stroke-width="0.7" fill="none"/>
<text x="307.00" y="604.88" font-size="6.3" fill="#231f20" textLength="22.06" lengthAdjust="spacingAndGlyphs">Guizhou</text>
<path d="M253.26 609.92a1.04 1.04 0 1 0 2.09 0a1.04 1.04 0 1 0 -2.09 0z" fill="#f59a20"/>
<text x="256.80" y="612.22" font-size="6.3" fill="#231f20" textLength="32.59" lengthAdjust="spacingAndGlyphs">Heilongjiang</text>
<path d="M303.75 609.92a1.04 1.04 0 1 0 2.09 0a1.04 1.04 0 1 0 -2.09 0z" fill="#7840ae"/>
<text x="307.00" y="612.22" font-size="6.3" fill="#231f20" textLength="20.09" lengthAdjust="spacingAndGlyphs">Yunnan</text>
<path d="M254.3 615.84l1.33 2.38h-2.66z" stroke="#66bd46" stroke-width="0.7" fill="none"/>
<text x="256.80" y="619.56" font-size="6.3" fill="#231f20" textLength="25.03" lengthAdjust="spacingAndGlyphs">Shanghai</text>
<path d="M304.8 616.02l1.23 1.23l-1.23 1.23l-1.23 -1.23z" stroke="#7840ae" stroke-width="0.7" fill="none"/>
<text x="307.00" y="619.56" font-size="6.3" fill="#231f20" textLength="18.11" lengthAdjust="spacingAndGlyphs">Xizang</text>
<path d="M253.3 624.6a1 1 0 1 0 1.99 0a1 1 0 1 0 -1.99 0z" stroke="#66bd46" stroke-width="0.7" fill="none"/>
<text x="256.80" y="626.90" font-size="6.3" fill="#231f20" textLength="20.41" lengthAdjust="spacingAndGlyphs">Jiangsu</text>
<path d="M304.8 623.18l1.38 2.47h-2.75z" fill="#e6df1c"/>
<text x="307.00" y="626.90" font-size="6.3" fill="#231f20" textLength="21.40" lengthAdjust="spacingAndGlyphs">Shaanxi</text>
<path d="M252.97 631.94h2.66M254.3 630.61v2.66" stroke="#66bd46" stroke-width="0.7" fill="none"/>
<text x="256.80" y="634.24" font-size="6.3" fill="#231f20" textLength="22.71" lengthAdjust="spacingAndGlyphs">Zhejiang</text>
<path d="M303.85 630.99h1.9v1.9h-1.9z" fill="#e6df1c"/>
<text x="307.00" y="634.24" font-size="6.3" fill="#231f20" textLength="17.45" lengthAdjust="spacingAndGlyphs">Gansu</text>
<path d="M253.26 639.28a1.04 1.04 0 1 0 2.09 0a1.04 1.04 0 1 0 -2.09 0z" fill="#66bd46"/>
<text x="256.80" y="641.58" font-size="6.3" fill="#231f20" textLength="15.15" lengthAdjust="spacingAndGlyphs">Anhui</text>
<path d="M303.75 639.28a1.04 1.04 0 1 0 2.09 0a1.04 1.04 0 1 0 -2.09 0z" fill="#e6df1c"/>
<text x="307.00" y="641.58" font-size="6.3" fill="#231f20" textLength="20.41" lengthAdjust="spacingAndGlyphs">Qinghai</text>
<path d="M254.3 645.38l1.23 1.23l-1.23 1.23l-1.23 -1.23z" stroke="#66bd46" stroke-width="0.7" fill="none"/>
<text x="256.80" y="648.92" font-size="6.3" fill="#231f20" textLength="16.13" lengthAdjust="spacingAndGlyphs">Fujian</text>
<path d="M303.75 645.86h2.09v1.52h-2.09z" fill="#e6df1c"/>
<text x="307.00" y="648.92" font-size="6.3" fill="#231f20" textLength="19.75" lengthAdjust="spacingAndGlyphs">Ningxia</text>
<path d="M253.35 653.01h1.9v1.9h-1.9z" fill="#66bd46"/>
<text x="256.80" y="656.26" font-size="6.3" fill="#231f20" textLength="18.43" lengthAdjust="spacingAndGlyphs">Jiangxi</text>
<path d="M303.75 653.2h2.09v1.52h-2.09z" fill="#e6df1c"/>
<text x="307.00" y="656.26" font-size="6.3" fill="#231f20" textLength="21.07" lengthAdjust="spacingAndGlyphs">Xinjiang</text>
<path d="M254.3 662.73l1.38 -2.47h-2.75z" fill="#66bd46"/>
<text x="256.80" y="663.60" font-size="6.3" fill="#231f20" textLength="27.00" lengthAdjust="spacingAndGlyphs">Shandong</text>
<path d="M304.8 659.88l1.33 2.38h-2.66z" stroke="#f4b6c6" stroke-width="0.7" fill="none"/>
<text x="307.00" y="663.60" font-size="6.3" fill="#231f20" textLength="29.63" lengthAdjust="spacingAndGlyphs">Hong Kong</text>
<path d="M254.3 667.22l1.38 2.47h-2.75z" fill="#2646a0"/>
<text x="256.80" y="670.94" font-size="6.3" fill="#231f20" textLength="17.45" lengthAdjust="spacingAndGlyphs">Henan</text>
<path d="M303.9 667.74h1.8v1.8h-1.8z" stroke="#f4b6c6" stroke-width="0.7" fill="none"/>
<text x="307.00" y="670.94" font-size="6.3" fill="#231f20" textLength="17.77" lengthAdjust="spacingAndGlyphs">Macao</text>
<path d="M393.5 554.00V790.30M391.90 788.7H639.48" stroke="#3c3c3c" stroke-width="1.15" fill="none"/>
<path d="M391.60 730.12H393.5M391.60 671.55H393.5M391.60 612.98H393.5M391.60 554.40H393.5M428.40 788.7V790.60M463.53 788.7V790.60M498.66 788.7V790.60M533.79 788.7V790.60M568.92 788.7V790.60M604.05 788.7V790.60M639.18 788.7V790.60" stroke="#3c3c3c" stroke-width="0.8" fill="none"/>
<path d="M397.80 790.70l1.5 -3.5M399.70 790.70l1.5 -3.5" stroke="#3c3c3c" stroke-width="0.95" fill="none"/>
<text x="389.90" y="732.88" font-size="9.0" text-anchor="end" fill="#231f20" textLength="9.19" lengthAdjust="spacingAndGlyphs">40</text>
<text x="389.90" y="674.30" font-size="9.0" text-anchor="end" fill="#231f20" textLength="9.19" lengthAdjust="spacingAndGlyphs">80</text>
<text x="389.90" y="615.73" font-size="9.0" text-anchor="end" fill="#231f20" textLength="13.78" lengthAdjust="spacingAndGlyphs">120</text>
<text x="389.90" y="557.15" font-size="9.0" text-anchor="end" fill="#231f20" textLength="13.78" lengthAdjust="spacingAndGlyphs">160</text>
<text x="387.60" y="799.60" font-size="9.0" text-anchor="middle" fill="#231f20" textLength="4.59" lengthAdjust="spacingAndGlyphs">0</text>
<text x="428.10" y="799.60" font-size="9.0" text-anchor="middle" fill="#231f20" textLength="11.48" lengthAdjust="spacingAndGlyphs">0.3</text>
<text x="463.23" y="799.60" font-size="9.0" text-anchor="middle" fill="#231f20" textLength="11.48" lengthAdjust="spacingAndGlyphs">0.4</text>
<text x="498.36" y="799.60" font-size="9.0" text-anchor="middle" fill="#231f20" textLength="11.48" lengthAdjust="spacingAndGlyphs">0.5</text>
<text x="533.49" y="799.60" font-size="9.0" text-anchor="middle" fill="#231f20" textLength="11.48" lengthAdjust="spacingAndGlyphs">0.6</text>
<text x="568.62" y="799.60" font-size="9.0" text-anchor="middle" fill="#231f20" textLength="11.48" lengthAdjust="spacingAndGlyphs">0.7</text>
<text x="603.75" y="799.60" font-size="9.0" text-anchor="middle" fill="#231f20" textLength="11.48" lengthAdjust="spacingAndGlyphs">0.8</text>
<text x="638.88" y="799.60" font-size="9.0" text-anchor="middle" fill="#231f20" textLength="11.48" lengthAdjust="spacingAndGlyphs">0.9</text>
<text x="514.60" y="810.30" font-size="9.3" text-anchor="middle" fill="#231f20" textLength="13.95" lengthAdjust="spacingAndGlyphs">SDI</text>
<text x="371.00" y="672.40" font-size="8.6" text-anchor="middle" fill="#231f20" textLength="159.70" lengthAdjust="spacingAndGlyphs" transform="rotate(-90 371.00 672.40)">Age-standardized YLD rate (per 100,000)</text>
<path d="M600.2 550.77l1.33 1.33l-1.33 1.33l-1.33 -1.33z" fill="#000000"/>
<text x="602.60" y="554.40" font-size="6.3" font-weight="bold" fill="#231f20" textLength="15.90" lengthAdjust="spacingAndGlyphs">China</text>
<path d="M649.65 551.15h1.9v1.9h-1.9z" fill="#2646a0"/>
<text x="653.20" y="554.40" font-size="6.3" fill="#231f20" textLength="15.47" lengthAdjust="spacingAndGlyphs">Hubei</text>
<path d="M600.2 558.02l1.38 2.47h-2.75z" fill="#e03c3c"/>
<text x="602.60" y="561.74" font-size="6.3" fill="#231f20" textLength="17.78" lengthAdjust="spacingAndGlyphs">Beijing</text>
<path d="M649.56 559.44a1.04 1.04 0 1 0 2.09 0a1.04 1.04 0 1 0 -2.09 0z" fill="#2646a0"/>
<text x="653.20" y="561.74" font-size="6.3" fill="#231f20" textLength="17.45" lengthAdjust="spacingAndGlyphs">Hunan</text>
<path d="M599.3 565.88h1.8v1.8h-1.8z" stroke="#e03c3c" stroke-width="0.7" fill="none"/>
<text x="602.60" y="569.08" font-size="6.3" fill="#231f20" textLength="17.22" lengthAdjust="spacingAndGlyphs">Tianjin</text>
<path d="M649.56 566.02h2.09v1.52h-2.09z" fill="#2646a0"/>
<text x="653.20" y="569.08" font-size="6.3" fill="#231f20" textLength="30.95" lengthAdjust="spacingAndGlyphs">Guangdong</text>
<path d="M598.87 574.12h2.66M600.2 572.79v2.66" stroke="#e03c3c" stroke-width="0.7" fill="none"/>
<text x="602.60" y="576.42" font-size="6.3" fill="#231f20" textLength="15.47" lengthAdjust="spacingAndGlyphs">Hebei</text>
<path d="M649.56 573.36h2.09v1.52h-2.09z" fill="#2646a0"/>
<text x="653.20" y="576.42" font-size="6.3" fill="#231f20" textLength="22.06" lengthAdjust="spacingAndGlyphs">Guangxi</text>
<path d="M599.2 581.46a1 1 0 1 0 1.99 0a1 1 0 1 0 -1.99 0z" stroke="#e03c3c" stroke-width="0.7" fill="none"/>
<text x="602.60" y="583.76" font-size="6.3" fill="#231f20" textLength="18.11" lengthAdjust="spacingAndGlyphs">Shanxi</text>
<path d="M649.56 580.42l2.09 2.09M651.64 580.42l-2.09 2.09" stroke="#2646a0" stroke-width="0.7" fill="none"/>
<text x="653.20" y="583.76" font-size="6.3" fill="#231f20" textLength="18.77" lengthAdjust="spacingAndGlyphs">Hainan</text>
<path d="M600.2 587.57l1.23 1.23l-1.23 1.23l-1.23 -1.23z" stroke="#e03c3c" stroke-width="0.7" fill="none"/>
<text x="602.60" y="591.10" font-size="6.3" fill="#231f20" textLength="39.17" lengthAdjust="spacingAndGlyphs">Inner Mongolia</text>
<path d="M650.6 587.38l1.33 2.38h-2.66z" stroke="#7840ae" stroke-width="0.7" fill="none"/>
<text x="653.20" y="591.10" font-size="6.3" fill="#231f20" textLength="28.64" lengthAdjust="spacingAndGlyphs">Chongqing</text>
<path d="M600.2 594.72l1.38 2.47h-2.75z" fill="#f59a20"/>
<text x="602.60" y="598.44" font-size="6.3" fill="#231f20" textLength="22.39" lengthAdjust="spacingAndGlyphs">Liaoning</text>
<path d="M649.6 596.14a1 1 0 1 0 1.99 0a1 1 0 1 0 -1.99 0z" stroke="#7840ae" stroke-width="0.7" fill="none"/>
<text x="653.20" y="598.44" font-size="6.3" fill="#231f20" textLength="21.40" lengthAdjust="spacingAndGlyphs">Sichuan</text>
<path d="M599.25 602.53h1.9v1.9h-1.9z" fill="#f59a20"/>
<text x="602.60" y="605.78" font-size="6.3" fill="#231f20" textLength="10.20" lengthAdjust="spacingAndGlyphs">Jilin</text>
<path d="M649.27 603.48h2.66M650.6 602.15v2.66" stroke="#7840ae" stroke-width="0.7" fill="none"/>
<text x="653.20" y="605.78" font-size="6.3" fill="#231f20" textLength="22.06" lengthAdjust="spacingAndGlyphs">Guizhou</text>
<path d="M599.16 610.82a1.04 1.04 0 1 0 2.09 0a1.04 1.04 0 1 0 -2.09 0z" fill="#f59a20"/>
<text x="602.60" y="613.12" font-size="6.3" fill="#231f20" textLength="32.59" lengthAdjust="spacingAndGlyphs">Heilongjiang</text>
<path d="M649.56 610.82a1.04 1.04 0 1 0 2.09 0a1.04 1.04 0 1 0 -2.09 0z" fill="#7840ae"/>
<text x="653.20" y="613.12" font-size="6.3" fill="#231f20" textLength="20.09" lengthAdjust="spacingAndGlyphs">Yunnan</text>
<path d="M600.2 616.74l1.33 2.38h-2.66z" stroke="#66bd46" stroke-width="0.7" fill="none"/>
<text x="602.60" y="620.46" font-size="6.3" fill="#231f20" textLength="25.03" lengthAdjust="spacingAndGlyphs">Shanghai</text>
<path d="M650.6 616.93l1.23 1.23l-1.23 1.23l-1.23 -1.23z" stroke="#7840ae" stroke-width="0.7" fill="none"/>
<text x="653.20" y="620.46" font-size="6.3" fill="#231f20" textLength="18.11" lengthAdjust="spacingAndGlyphs">Xizang</text>
<path d="M599.2 625.5a1 1 0 1 0 1.99 0a1 1 0 1 0 -1.99 0z" stroke="#66bd46" stroke-width="0.7" fill="none"/>
<text x="602.60" y="627.80" font-size="6.3" fill="#231f20" textLength="20.41" lengthAdjust="spacingAndGlyphs">Jiangsu</text>
<path d="M650.6 624.08l1.38 2.47h-2.75z" fill="#e6df1c"/>
<text x="653.20" y="627.80" font-size="6.3" fill="#231f20" textLength="21.40" lengthAdjust="spacingAndGlyphs">Shaanxi</text>
<path d="M598.87 632.84h2.66M600.2 631.51v2.66" stroke="#66bd46" stroke-width="0.7" fill="none"/>
<text x="602.60" y="635.14" font-size="6.3" fill="#231f20" textLength="22.71" lengthAdjust="spacingAndGlyphs">Zhejiang</text>
<path d="M649.65 631.89h1.9v1.9h-1.9z" fill="#e6df1c"/>
<text x="653.20" y="635.14" font-size="6.3" fill="#231f20" textLength="17.45" lengthAdjust="spacingAndGlyphs">Gansu</text>
<path d="M599.16 640.18a1.04 1.04 0 1 0 2.09 0a1.04 1.04 0 1 0 -2.09 0z" fill="#66bd46"/>
<text x="602.60" y="642.48" font-size="6.3" fill="#231f20" textLength="15.15" lengthAdjust="spacingAndGlyphs">Anhui</text>
<path d="M649.56 640.18a1.04 1.04 0 1 0 2.09 0a1.04 1.04 0 1 0 -2.09 0z" fill="#e6df1c"/>
<text x="653.20" y="642.48" font-size="6.3" fill="#231f20" textLength="20.41" lengthAdjust="spacingAndGlyphs">Qinghai</text>
<path d="M600.2 646.28l1.23 1.23l-1.23 1.23l-1.23 -1.23z" stroke="#66bd46" stroke-width="0.7" fill="none"/>
<text x="602.60" y="649.82" font-size="6.3" fill="#231f20" textLength="16.13" lengthAdjust="spacingAndGlyphs">Fujian</text>
<path d="M649.56 646.76h2.09v1.52h-2.09z" fill="#e6df1c"/>
<text x="653.20" y="649.82" font-size="6.3" fill="#231f20" textLength="19.75" lengthAdjust="spacingAndGlyphs">Ningxia</text>
<path d="M599.25 653.91h1.9v1.9h-1.9z" fill="#66bd46"/>
<text x="602.60" y="657.16" font-size="6.3" fill="#231f20" textLength="18.43" lengthAdjust="spacingAndGlyphs">Jiangxi</text>
<path d="M649.56 654.1h2.09v1.52h-2.09z" fill="#e6df1c"/>
<text x="653.20" y="657.16" font-size="6.3" fill="#231f20" textLength="21.07" lengthAdjust="spacingAndGlyphs">Xinjiang</text>
<path d="M600.2 663.62l1.38 -2.47h-2.75z" fill="#66bd46"/>
<text x="602.60" y="664.50" font-size="6.3" fill="#231f20" textLength="27.00" lengthAdjust="spacingAndGlyphs">Shandong</text>
<path d="M650.6 660.78l1.33 2.38h-2.66z" stroke="#f4b6c6" stroke-width="0.7" fill="none"/>
<text x="653.20" y="664.50" font-size="6.3" fill="#231f20" textLength="29.63" lengthAdjust="spacingAndGlyphs">Hong Kong</text>
<path d="M600.2 668.12l1.38 2.47h-2.75z" fill="#2646a0"/>
<text x="602.60" y="671.84" font-size="6.3" fill="#231f20" textLength="17.45" lengthAdjust="spacingAndGlyphs">Henan</text>
<path d="M649.7 668.64h1.8v1.8h-1.8z" stroke="#f4b6c6" stroke-width="0.7" fill="none"/>
<text x="653.20" y="671.84" font-size="6.3" fill="#231f20" textLength="17.77" lengthAdjust="spacingAndGlyphs">Macao</text>
<text x="-0.50" y="7.90" font-size="15.5" fill="#1a1718" textLength="8.62" lengthAdjust="spacingAndGlyphs">a</text>
<text x="0.10" y="274.70" font-size="15.5" fill="#1a1718" textLength="8.62" lengthAdjust="spacingAndGlyphs">b</text>
<text x="0.30" y="549.30" font-size="15.5" fill="#1a1718" textLength="7.75" lengthAdjust="spacingAndGlyphs">c</text>
</svg></body></html>
